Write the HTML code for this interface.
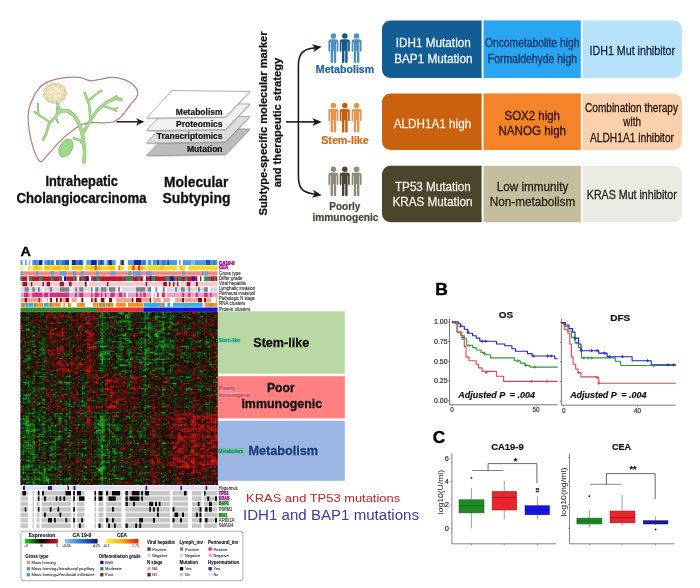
<!DOCTYPE html>
<html><head><meta charset="utf-8"><title>Figure</title>
<style>html,body{margin:0;padding:0;background:#fff}svg{display:block;font-family:"Liberation Sans",sans-serif}</style>
</head><body>
<svg width="700" height="588" viewBox="0 0 700 588">
<rect width="700" height="588" fill="#fff"/>
<path d="M39.5,161.0 C38.0,159.3 35.6,154.8 33.9,149.9 C32.2,144.9 30.2,137.5 29.3,131.3 C28.4,125.1 27.7,118.3 28.4,112.7 C29.0,107.1 31.0,102.2 33.0,97.9 C35.0,93.5 37.6,89.5 40.4,86.7 C43.2,83.9 46.0,82.6 49.7,81.1 C53.4,79.7 57.8,78.4 62.7,77.8 C67.7,77.2 74.8,76.9 79.4,77.4 C84.1,77.9 87.2,80.5 90.6,80.8 C94.0,81.1 96.1,79.8 99.9,79.3 C103.6,78.7 108.5,77.3 112.9,77.4 C117.2,77.6 122.3,78.8 125.8,80.2 C129.4,81.6 132.2,83.8 134.2,85.8 C136.2,87.8 137.6,90.3 137.9,92.3 C138.2,94.3 137.1,96.0 136.1,97.9 C135.0,99.7 133.1,101.3 131.4,103.4 C129.7,105.6 127.7,108.5 125.8,110.9 C124.0,113.2 122.4,115.5 120.3,117.4 C118.1,119.2 115.9,121.1 112.9,122.0 C109.8,122.9 105.4,122.8 101.7,122.9 C98.0,123.0 94.0,122.2 90.6,122.6 C87.2,122.9 84.1,123.6 81.3,124.8 C78.5,125.9 76.6,127.4 73.9,129.4 C71.1,131.4 67.4,134.4 64.6,136.9 C61.8,139.3 59.6,141.6 57.1,144.3 C54.7,146.9 52.0,150.0 49.7,152.6 C47.4,155.3 44.9,158.7 43.2,160.1 C41.5,161.5 41.0,162.7 39.5,161.0Z" fill="#fffefd" stroke="#ad8282" stroke-width="1.25" stroke-linejoin="round"/>
<path d="M84.1,161.9 L84.6,151.7 L83.5,140.6 L81.7,131.3 L79.1,123.9 L74.2,115.5 L67.4,110.5 L60.5,110.9" fill="none" stroke="#78b062" stroke-width="3.5" stroke-linecap="round" stroke-linejoin="round"/>
<path d="M60.5,110.9 L54.4,117.9 L48.8,123.9 L46.4,133.1 L43.2,139.6" fill="none" stroke="#78b062" stroke-width="2.4" stroke-linecap="round" stroke-linejoin="round"/>
<path d="M49.7,122.0 L39.5,115.5 L34.5,111.8" fill="none" stroke="#78b062" stroke-width="2.0" stroke-linecap="round" stroke-linejoin="round"/>
<path d="M38.6,114.9 L37.8,103.8" fill="none" stroke="#78b062" stroke-width="1.8" stroke-linecap="round" stroke-linejoin="round"/>
<path d="M60.5,111.2 L57.1,103.4 L58.1,99.7" fill="none" stroke="#78b062" stroke-width="2.4" stroke-linecap="round" stroke-linejoin="round"/>
<path d="M57.1,107.1 L56.2,118.3 L58.1,122.9" fill="none" stroke="#78b062" stroke-width="1.8" stroke-linecap="round" stroke-linejoin="round"/>
<path d="M83.1,133.1 L90.2,120.5 L98.0,109.4 L107.3,101.9 L116.6,98.2 L121.2,99.7" fill="none" stroke="#78b062" stroke-width="3.0" stroke-linecap="round" stroke-linejoin="round"/>
<path d="M107.3,101.9 L116.6,96.0" fill="none" stroke="#78b062" stroke-width="1.9" stroke-linecap="round" stroke-linejoin="round"/>
<path d="M102.6,105.7 L112.9,109.4 L117.5,108.1" fill="none" stroke="#78b062" stroke-width="2.0" stroke-linecap="round" stroke-linejoin="round"/>
<path d="M112.9,109.4 L116.6,111.2" fill="none" stroke="#78b062" stroke-width="1.6" stroke-linecap="round" stroke-linejoin="round"/>
<path d="M90.6,120.5 L89.1,104.4 L84.6,92.7" fill="none" stroke="#78b062" stroke-width="2.4" stroke-linecap="round" stroke-linejoin="round"/>
<path d="M88.7,100.6 L98.0,92.7 L101.7,90.8" fill="none" stroke="#78b062" stroke-width="2.0" stroke-linecap="round" stroke-linejoin="round"/>
<path d="M73.9,138.3 L79.8,140.2 L83.5,144.7" fill="none" stroke="#78b062" stroke-width="2.4" stroke-linecap="round" stroke-linejoin="round"/>
<path d="M84.1,161.9 L84.6,151.7 L83.5,140.6 L81.7,131.3 L79.1,123.9 L74.2,115.5 L67.4,110.5 L60.5,110.9" fill="none" stroke="#a6da90" stroke-width="2.7" stroke-linecap="round" stroke-linejoin="round"/>
<path d="M60.5,110.9 L54.4,117.9 L48.8,123.9 L46.4,133.1 L43.2,139.6" fill="none" stroke="#a6da90" stroke-width="1.6" stroke-linecap="round" stroke-linejoin="round"/>
<path d="M49.7,122.0 L39.5,115.5 L34.5,111.8" fill="none" stroke="#a6da90" stroke-width="1.2" stroke-linecap="round" stroke-linejoin="round"/>
<path d="M38.6,114.9 L37.8,103.8" fill="none" stroke="#a6da90" stroke-width="1.0" stroke-linecap="round" stroke-linejoin="round"/>
<path d="M60.5,111.2 L57.1,103.4 L58.1,99.7" fill="none" stroke="#a6da90" stroke-width="1.6" stroke-linecap="round" stroke-linejoin="round"/>
<path d="M57.1,107.1 L56.2,118.3 L58.1,122.9" fill="none" stroke="#a6da90" stroke-width="1.0" stroke-linecap="round" stroke-linejoin="round"/>
<path d="M83.1,133.1 L90.2,120.5 L98.0,109.4 L107.3,101.9 L116.6,98.2 L121.2,99.7" fill="none" stroke="#a6da90" stroke-width="2.2" stroke-linecap="round" stroke-linejoin="round"/>
<path d="M107.3,101.9 L116.6,96.0" fill="none" stroke="#a6da90" stroke-width="1.1" stroke-linecap="round" stroke-linejoin="round"/>
<path d="M102.6,105.7 L112.9,109.4 L117.5,108.1" fill="none" stroke="#a6da90" stroke-width="1.2" stroke-linecap="round" stroke-linejoin="round"/>
<path d="M112.9,109.4 L116.6,111.2" fill="none" stroke="#a6da90" stroke-width="0.8" stroke-linecap="round" stroke-linejoin="round"/>
<path d="M90.6,120.5 L89.1,104.4 L84.6,92.7" fill="none" stroke="#a6da90" stroke-width="1.6" stroke-linecap="round" stroke-linejoin="round"/>
<path d="M88.7,100.6 L98.0,92.7 L101.7,90.8" fill="none" stroke="#a6da90" stroke-width="1.2" stroke-linecap="round" stroke-linejoin="round"/>
<path d="M73.9,138.3 L79.8,140.2 L83.5,144.7" fill="none" stroke="#a6da90" stroke-width="1.6" stroke-linecap="round" stroke-linejoin="round"/>
<ellipse cx="65.9" cy="148.0" rx="6.2" ry="9.6" transform="rotate(30 65.9 148.0)" fill="#a2d88c" stroke="#7ab565" stroke-width="0.7"/>
<circle cx="63.1" cy="93.2" r="3.4" fill="#ece0b4" stroke="#cbbb84" stroke-width="0.7"/>
<circle cx="61.8" cy="96.9" r="3.4" fill="#ece0b4" stroke="#cbbb84" stroke-width="0.7"/>
<circle cx="58.3" cy="99.4" r="3.4" fill="#ece0b4" stroke="#cbbb84" stroke-width="0.7"/>
<circle cx="53.7" cy="99.9" r="3.4" fill="#ece0b4" stroke="#cbbb84" stroke-width="0.7"/>
<circle cx="49.5" cy="98.4" r="3.4" fill="#ece0b4" stroke="#cbbb84" stroke-width="0.7"/>
<circle cx="47.0" cy="95.1" r="3.4" fill="#ece0b4" stroke="#cbbb84" stroke-width="0.7"/>
<circle cx="47.0" cy="91.3" r="3.4" fill="#ece0b4" stroke="#cbbb84" stroke-width="0.7"/>
<circle cx="49.5" cy="88.1" r="3.4" fill="#ece0b4" stroke="#cbbb84" stroke-width="0.7"/>
<circle cx="53.7" cy="86.5" r="3.4" fill="#ece0b4" stroke="#cbbb84" stroke-width="0.7"/>
<circle cx="58.3" cy="87.0" r="3.4" fill="#ece0b4" stroke="#cbbb84" stroke-width="0.7"/>
<circle cx="61.8" cy="89.5" r="3.4" fill="#ece0b4" stroke="#cbbb84" stroke-width="0.7"/>
<ellipse cx="54.9" cy="93.2" rx="8.6" ry="7.2" fill="#efe5c0"/>
<circle cx="50.9" cy="91.2" r="2.8" fill="#f4ecd2" stroke="#d9cc9e" stroke-width="0.45"/>
<circle cx="57.9" cy="90.2" r="3.0" fill="#f4ecd2" stroke="#d9cc9e" stroke-width="0.45"/>
<circle cx="54.9" cy="96.2" r="2.8" fill="#f4ecd2" stroke="#d9cc9e" stroke-width="0.45"/>
<circle cx="59.9" cy="95.7" r="2.2" fill="#f4ecd2" stroke="#d9cc9e" stroke-width="0.45"/>
<circle cx="49.9" cy="96.7" r="2.0" fill="#f4ecd2" stroke="#d9cc9e" stroke-width="0.45"/>
<circle cx="54.9" cy="92.2" r="2.0" fill="#f4ecd2" stroke="#d9cc9e" stroke-width="0.45"/>
<text x="45.4" y="185.7" font-size="14.5" fill="#111" stroke="#111" stroke-width="0.32" textLength="72.6" lengthAdjust="spacingAndGlyphs" font-weight="bold">Intrahepatic</text>
<text x="16.6" y="203.0" font-size="14.5" fill="#111" stroke="#111" stroke-width="0.32" textLength="130.0" lengthAdjust="spacingAndGlyphs" font-weight="bold">Cholangiocarcinoma</text>
<text x="164.1" y="186.9" font-size="14.3" fill="#111" stroke="#111" stroke-width="0.31" textLength="64.2" lengthAdjust="spacingAndGlyphs" font-weight="bold">Molecular</text>
<text x="162.4" y="203.4" font-size="14.3" fill="#111" stroke="#111" stroke-width="0.31" textLength="68.0" lengthAdjust="spacingAndGlyphs" font-weight="bold">Subtyping</text>
<path d="M116.5,121.8 H139.5" stroke="#231815" stroke-width="1.5"/><path d="M144.5,121.8 l-8.5,-3.6 l2.3,3.6 l-2.3,3.6 z" fill="#231815"/>
<path d="M172,128.0 L250,129.0 L225.5,154.5 L146.5,155.7 Z" fill="#8a8a8a" opacity="0.35" transform="translate(0.6,1.3)"/>
<path d="M172,128.0 L250,129.0 L225.5,154.5 L146.5,155.7 Z" fill="#bcbcbc" stroke="#8c8c8c" stroke-width="0.7" stroke-linejoin="round"/>
<path d="M172,115.5 L250,116.5 L225.5,142.0 L146.5,143.2 Z" fill="#8a8a8a" opacity="0.35" transform="translate(0.6,1.3)"/>
<path d="M172,115.5 L250,116.5 L225.5,142.0 L146.5,143.2 Z" fill="#dddddd" stroke="#8c8c8c" stroke-width="0.7" stroke-linejoin="round"/>
<path d="M172,103.0 L250,104.0 L225.5,129.5 L146.5,130.7 Z" fill="#8a8a8a" opacity="0.35" transform="translate(0.6,1.3)"/>
<path d="M172,103.0 L250,104.0 L225.5,129.5 L146.5,130.7 Z" fill="#f1f1f1" stroke="#8c8c8c" stroke-width="0.7" stroke-linejoin="round"/>
<path d="M172,90.5 L250,91.5 L225.5,117.0 L146.5,118.2 Z" fill="#8a8a8a" opacity="0.35" transform="translate(0.6,1.3)"/>
<path d="M172,90.5 L250,91.5 L225.5,117.0 L146.5,118.2 Z" fill="#ffffff" stroke="#8c8c8c" stroke-width="0.7" stroke-linejoin="round"/>
<text x="175.8" y="114.5" font-size="8.6" fill="#111" stroke="#111" stroke-width="0.19" textLength="46.8" lengthAdjust="spacingAndGlyphs" font-weight="bold">Metabolism</text>
<text x="176.0" y="127.0" font-size="8.6" fill="#111" stroke="#111" stroke-width="0.19" textLength="46.6" lengthAdjust="spacingAndGlyphs" font-weight="bold">Proteomics</text>
<text x="156.7" y="139.3" font-size="8.6" fill="#111" stroke="#111" stroke-width="0.19" textLength="65.9" lengthAdjust="spacingAndGlyphs" font-weight="bold">Transcriptomics</text>
<text x="187.0" y="152.0" font-size="8.6" fill="#111" stroke="#111" stroke-width="0.19" textLength="35.6" lengthAdjust="spacingAndGlyphs" font-weight="bold">Mutation</text>
<text transform="translate(266.9,215.4) rotate(-90)" font-size="11.4" font-weight="bold" stroke="#111" stroke-width="0.25" textLength="184" lengthAdjust="spacingAndGlyphs" fill="#111">Subtype-specific molecular marker</text>
<text transform="translate(280.9,187.3) rotate(-90)" font-size="11.4" font-weight="bold" stroke="#111" stroke-width="0.25" textLength="129.5" lengthAdjust="spacingAndGlyphs" fill="#111">and therapeutic strategy</text>
<path d="M286,121.9 H315" fill="none" stroke="#231815" stroke-width="1.6"/>
<path d="M316.5,47.6 L312,48.3 C302,50 298.4,54.5 298.4,66 V176 C298.4,187.5 302,192 312,193.7 L316.5,194.4" fill="none" stroke="#231815" stroke-width="1.6"/>
<g transform="rotate(-9 321.8 46.8)"><path d="M321.8,46.8 l-9.5,-4.0 l2.6,4.0 l-2.6,4.0 z" fill="#231815"/></g>
<path d="M321.8,121.9 l-9.5,-4.0 l2.6,4.0 l-2.6,4.0 z" fill="#231815"/>
<g transform="rotate(9 321.8 195.2)"><path d="M321.8,195.2 l-9.5,-4.0 l2.6,4.0 l-2.6,4.0 z" fill="#231815"/></g>
<circle cx="333.40" cy="36.05" r="2.75" fill="#4f90bf"/><path d="M330.60,39.50 h5.6 v22.2 a1.2,1.2 0 0 1 -2.4,0 v-11 h-0.8 v11 a1.2,1.2 0 0 1 -2.4,0 z" fill="#4f90bf"/><path d="M330.10,39.50 h6.6 a1.7,1.7 0 0 1 1.7,1.7 v9.6 a0.85,0.85 0 0 1 -1.7,0 v-8.6 h-6.6 v8.6 a0.85,0.85 0 0 1 -1.7,0 v-9.6 a1.7,1.7 0 0 1 1.7,-1.7 z" fill="#4f90bf"/>
<circle cx="344.80" cy="36.05" r="2.75" fill="#15598f"/><path d="M342.00,39.50 h5.6 v22.2 a1.2,1.2 0 0 1 -2.4,0 v-11 h-0.8 v11 a1.2,1.2 0 0 1 -2.4,0 z" fill="#15598f"/><path d="M341.50,39.50 h6.6 a1.7,1.7 0 0 1 1.7,1.7 v9.6 a0.85,0.85 0 0 1 -1.7,0 v-8.6 h-6.6 v8.6 a0.85,0.85 0 0 1 -1.7,0 v-9.6 a1.7,1.7 0 0 1 1.7,-1.7 z" fill="#15598f"/>
<circle cx="356.60" cy="36.05" r="2.75" fill="#4f90bf"/><path d="M353.80,39.50 h5.6 v22.2 a1.2,1.2 0 0 1 -2.4,0 v-11 h-0.8 v11 a1.2,1.2 0 0 1 -2.4,0 z" fill="#4f90bf"/><path d="M353.30,39.50 h6.6 a1.7,1.7 0 0 1 1.7,1.7 v9.6 a0.85,0.85 0 0 1 -1.7,0 v-8.6 h-6.6 v8.6 a0.85,0.85 0 0 1 -1.7,0 v-9.6 a1.7,1.7 0 0 1 1.7,-1.7 z" fill="#4f90bf"/>
<circle cx="333.40" cy="105.55" r="2.75" fill="#e29555"/><path d="M330.60,109.00 h5.6 v22.2 a1.2,1.2 0 0 1 -2.4,0 v-11 h-0.8 v11 a1.2,1.2 0 0 1 -2.4,0 z" fill="#e29555"/><path d="M330.10,109.00 h6.6 a1.7,1.7 0 0 1 1.7,1.7 v9.6 a0.85,0.85 0 0 1 -1.7,0 v-8.6 h-6.6 v8.6 a0.85,0.85 0 0 1 -1.7,0 v-9.6 a1.7,1.7 0 0 1 1.7,-1.7 z" fill="#e29555"/>
<circle cx="344.80" cy="105.55" r="2.75" fill="#c5600f"/><path d="M342.00,109.00 h5.6 v22.2 a1.2,1.2 0 0 1 -2.4,0 v-11 h-0.8 v11 a1.2,1.2 0 0 1 -2.4,0 z" fill="#c5600f"/><path d="M341.50,109.00 h6.6 a1.7,1.7 0 0 1 1.7,1.7 v9.6 a0.85,0.85 0 0 1 -1.7,0 v-8.6 h-6.6 v8.6 a0.85,0.85 0 0 1 -1.7,0 v-9.6 a1.7,1.7 0 0 1 1.7,-1.7 z" fill="#c5600f"/>
<circle cx="356.60" cy="105.55" r="2.75" fill="#e29555"/><path d="M353.80,109.00 h5.6 v22.2 a1.2,1.2 0 0 1 -2.4,0 v-11 h-0.8 v11 a1.2,1.2 0 0 1 -2.4,0 z" fill="#e29555"/><path d="M353.30,109.00 h6.6 a1.7,1.7 0 0 1 1.7,1.7 v9.6 a0.85,0.85 0 0 1 -1.7,0 v-8.6 h-6.6 v8.6 a0.85,0.85 0 0 1 -1.7,0 v-9.6 a1.7,1.7 0 0 1 1.7,-1.7 z" fill="#e29555"/>
<circle cx="333.40" cy="169.35" r="2.75" fill="#8f8a7a"/><path d="M330.60,172.80 h5.6 v22.2 a1.2,1.2 0 0 1 -2.4,0 v-11 h-0.8 v11 a1.2,1.2 0 0 1 -2.4,0 z" fill="#8f8a7a"/><path d="M330.10,172.80 h6.6 a1.7,1.7 0 0 1 1.7,1.7 v9.6 a0.85,0.85 0 0 1 -1.7,0 v-8.6 h-6.6 v8.6 a0.85,0.85 0 0 1 -1.7,0 v-9.6 a1.7,1.7 0 0 1 1.7,-1.7 z" fill="#8f8a7a"/>
<circle cx="344.80" cy="169.35" r="2.75" fill="#4a4430"/><path d="M342.00,172.80 h5.6 v22.2 a1.2,1.2 0 0 1 -2.4,0 v-11 h-0.8 v11 a1.2,1.2 0 0 1 -2.4,0 z" fill="#4a4430"/><path d="M341.50,172.80 h6.6 a1.7,1.7 0 0 1 1.7,1.7 v9.6 a0.85,0.85 0 0 1 -1.7,0 v-8.6 h-6.6 v8.6 a0.85,0.85 0 0 1 -1.7,0 v-9.6 a1.7,1.7 0 0 1 1.7,-1.7 z" fill="#4a4430"/>
<circle cx="356.60" cy="169.35" r="2.75" fill="#8f8a7a"/><path d="M353.80,172.80 h5.6 v22.2 a1.2,1.2 0 0 1 -2.4,0 v-11 h-0.8 v11 a1.2,1.2 0 0 1 -2.4,0 z" fill="#8f8a7a"/><path d="M353.30,172.80 h6.6 a1.7,1.7 0 0 1 1.7,1.7 v9.6 a0.85,0.85 0 0 1 -1.7,0 v-8.6 h-6.6 v8.6 a0.85,0.85 0 0 1 -1.7,0 v-9.6 a1.7,1.7 0 0 1 1.7,-1.7 z" fill="#8f8a7a"/>
<text x="315.8" y="73.3" font-size="10.6" fill="#1e659c" stroke="#1e659c" stroke-width="0.23" textLength="58.4" lengthAdjust="spacingAndGlyphs" font-weight="bold">Metabolism</text>
<text x="321.2" y="144.2" font-size="10.6" fill="#cf6a17" stroke="#cf6a17" stroke-width="0.23" textLength="47.6" lengthAdjust="spacingAndGlyphs" font-weight="bold">Stem-like</text>
<text x="329.3" y="209.5" font-size="10.6" fill="#4a4538" stroke="#4a4538" stroke-width="0.23" textLength="31.1" lengthAdjust="spacingAndGlyphs" font-weight="bold">Poorly</text>
<text x="312.5" y="220.8" font-size="10.6" fill="#4a4538" stroke="#4a4538" stroke-width="0.23" textLength="66.0" lengthAdjust="spacingAndGlyphs" font-weight="bold">immunogenic</text>
<path d="M390.5,20.4 H481.6 V78.0 H390.5 a8.5,8.5 0 0 1 -8.5,-8.5 V28.9 a8.5,8.5 0 0 1 8.5,-8.5 z" fill="#115d94"/>
<rect x="483.5" y="20.4" width="97.3" height="57.6" fill="#2aa5f1"/>
<path d="M582.6,20.4 H673.5 a8.5,8.5 0 0 1 8.5,8.5 V69.5 a8.5,8.5 0 0 1 -8.5,8.5 H582.6 z" fill="#b7e2fb"/>
<path d="M390.5,93.4 H481.6 V150.0 H390.5 a8.5,8.5 0 0 1 -8.5,-8.5 V101.9 a8.5,8.5 0 0 1 8.5,-8.5 z" fill="#c9610e"/>
<rect x="483.5" y="93.4" width="97.3" height="56.6" fill="#f5832a"/>
<path d="M582.6,93.4 H673.5 a8.5,8.5 0 0 1 8.5,8.5 V141.5 a8.5,8.5 0 0 1 -8.5,8.5 H582.6 z" fill="#fbd0ad"/>
<path d="M390.5,165.8 H481.6 V222.3 H390.5 a8.5,8.5 0 0 1 -8.5,-8.5 V174.3 a8.5,8.5 0 0 1 8.5,-8.5 z" fill="#4b452c"/>
<rect x="483.5" y="165.8" width="97.3" height="56.5" fill="#c4be9f"/>
<path d="M582.6,165.8 H673.5 a8.5,8.5 0 0 1 8.5,8.5 V213.8 a8.5,8.5 0 0 1 -8.5,8.5 H582.6 z" fill="#ecebe3"/>
<text x="395.8" y="47.0" font-size="12.4" fill="#f4f6f8" stroke="#f4f6f8" stroke-width="0.27" textLength="75.0" lengthAdjust="spacingAndGlyphs">IDH1 Mutation</text>
<text x="394.2" y="62.5" font-size="12.4" fill="#f4f6f8" stroke="#f4f6f8" stroke-width="0.27" textLength="78.3" lengthAdjust="spacingAndGlyphs">BAP1 Mutation</text>
<text x="393.8" y="127.5" font-size="12.4" fill="#fbefe4" stroke="#fbefe4" stroke-width="0.27" textLength="77.4" lengthAdjust="spacingAndGlyphs">ALDH1A1 high</text>
<text x="395.0" y="190.5" font-size="12.4" fill="#f1efe8" stroke="#f1efe8" stroke-width="0.27" textLength="75.8" lengthAdjust="spacingAndGlyphs">TP53 Mutation</text>
<text x="392.5" y="206.0" font-size="12.4" fill="#f1efe8" stroke="#f1efe8" stroke-width="0.27" textLength="80.0" lengthAdjust="spacingAndGlyphs">KRAS Mutation</text>
<text x="485.0" y="47.0" font-size="12.8" fill="#0c315c" stroke="#0c315c" stroke-width="0.28" textLength="94.4" lengthAdjust="spacingAndGlyphs">Oncometabolite high</text>
<text x="487.8" y="62.5" font-size="12.8" fill="#0c315c" stroke="#0c315c" stroke-width="0.28" textLength="89.2" lengthAdjust="spacingAndGlyphs">Formaldehyde high</text>
<text x="504.5" y="119.5" font-size="12.4" fill="#2b1204" stroke="#2b1204" stroke-width="0.27" textLength="55.5" lengthAdjust="spacingAndGlyphs">SOX2 high</text>
<text x="498.5" y="134.5" font-size="12.4" fill="#2b1204" stroke="#2b1204" stroke-width="0.27" textLength="67.5" lengthAdjust="spacingAndGlyphs">NANOG high</text>
<text x="496.8" y="190.5" font-size="12.4" fill="#26231a" stroke="#26231a" stroke-width="0.27" textLength="71.5" lengthAdjust="spacingAndGlyphs">Low immunity</text>
<text x="489.8" y="206.0" font-size="12.4" fill="#26231a" stroke="#26231a" stroke-width="0.27" textLength="85.4" lengthAdjust="spacingAndGlyphs">Non-metabolism</text>
<text x="589.5" y="54.5" font-size="12.3" fill="#10243a" stroke="#10243a" stroke-width="0.27" textLength="85.5" lengthAdjust="spacingAndGlyphs">IDH1 Mut inhibitor</text>
<text x="585.0" y="111.8" font-size="12.3" fill="#24120a" stroke="#24120a" stroke-width="0.27" textLength="93.0" lengthAdjust="spacingAndGlyphs">Combination therapy</text>
<text x="623.3" y="126.0" font-size="12.3" fill="#24120a" stroke="#24120a" stroke-width="0.27" textLength="17.6" lengthAdjust="spacingAndGlyphs">with</text>
<text x="590.0" y="142.0" font-size="12.3" fill="#24120a" stroke="#24120a" stroke-width="0.27" textLength="84.0" lengthAdjust="spacingAndGlyphs">ALDH1A1 inhibitor</text>
<text x="586.8" y="198.8" font-size="12.3" fill="#1d1c18" stroke="#1d1c18" stroke-width="0.27" textLength="90.0" lengthAdjust="spacingAndGlyphs">KRAS Mut inhibitor</text>
<defs><filter id="hb" x="0" y="0" width="1" height="1" filterUnits="objectBoundingBox"><feGaussianBlur stdDeviation="0.6"/></filter></defs>
<text x="20.4" y="256.4" font-size="13.6" fill="#000" stroke="#000" stroke-width="0.30" textLength="10.4" lengthAdjust="spacingAndGlyphs" font-weight="bold">A</text>
<rect x="20.6" y="260.1" width="2.0" height="4.9" fill="#4a9ae6"/>
<rect x="25.1" y="260.1" width="1.5" height="4.9" fill="#4a9ae6"/>
<rect x="28.7" y="260.1" width="1.5" height="4.9" fill="#7fc0f2"/>
<rect x="32.3" y="260.1" width="6.6" height="4.9" fill="#4a9ae6"/>
<rect x="34.3" y="260.1" width="2.0" height="4.9" fill="#2a78d8"/>
<rect x="38.9" y="260.1" width="3.6" height="4.9" fill="#0a2a9a"/>
<rect x="44.3" y="260.1" width="9.4" height="4.9" fill="#4a9ae6"/>
<rect x="47.6" y="260.1" width="2.0" height="4.9" fill="#2a78d8"/>
<rect x="51.7" y="260.1" width="2.0" height="4.9" fill="#2a78d8"/>
<rect x="56.0" y="260.1" width="13.1" height="4.9" fill="#2a78d8"/>
<rect x="58.8" y="260.1" width="3.1" height="4.9" fill="#4a9ae6"/>
<rect x="64.9" y="260.1" width="4.1" height="4.9" fill="#1450c0"/>
<rect x="71.6" y="260.1" width="11.7" height="4.9" fill="#2a78d8"/>
<rect x="72.1" y="260.1" width="3.6" height="4.9" fill="#0a2a9a"/>
<rect x="79.2" y="260.1" width="2.6" height="4.9" fill="#1450c0"/>
<rect x="86.4" y="260.1" width="1.6" height="4.9" fill="#4a9ae6"/>
<rect x="87.0" y="260.1" width="9.7" height="4.9" fill="#4a9ae6"/>
<rect x="91.1" y="260.1" width="5.6" height="4.9" fill="#0a2a9a"/>
<rect x="97.8" y="260.1" width="6.6" height="4.9" fill="#2a78d8"/>
<rect x="100.3" y="260.1" width="2.0" height="4.9" fill="#1450c0"/>
<rect x="106.4" y="260.1" width="9.2" height="4.9" fill="#4a9ae6"/>
<rect x="108.5" y="260.1" width="3.3" height="4.9" fill="#0a2a9a"/>
<rect x="120.2" y="260.1" width="3.6" height="4.9" fill="#2a78d8"/>
<rect x="121.7" y="260.1" width="2.0" height="4.9" fill="#0a2a9a"/>
<rect x="127.9" y="260.1" width="18.4" height="4.9" fill="#4a9ae6"/>
<rect x="134.0" y="260.1" width="7.1" height="4.9" fill="#0a2a9a"/>
<rect x="142.7" y="260.1" width="2.6" height="4.9" fill="#2a78d8"/>
<rect x="147.8" y="260.1" width="3.6" height="4.9" fill="#4a9ae6"/>
<rect x="152.9" y="260.1" width="3.6" height="4.9" fill="#2a78d8"/>
<rect x="150.0" y="260.1" width="1.0" height="4.9" fill="#4a9ae6"/>
<rect x="153.6" y="260.1" width="23.5" height="4.9" fill="#4a9ae6"/>
<rect x="157.1" y="260.1" width="1.8" height="4.9" fill="#1450c0"/>
<rect x="167.3" y="260.1" width="1.8" height="4.9" fill="#1450c0"/>
<rect x="162.2" y="260.1" width="3.1" height="4.9" fill="#2a78d8"/>
<rect x="179.1" y="260.1" width="1.5" height="4.9" fill="#4a9ae6"/>
<rect x="182.7" y="260.1" width="34.7" height="4.9" fill="#4a9ae6"/>
<rect x="190.8" y="260.1" width="4.1" height="4.9" fill="#7fc0f2"/>
<rect x="206.1" y="260.1" width="4.1" height="4.9" fill="#1450c0"/>
<rect x="213.3" y="260.1" width="2.0" height="4.9" fill="#2a78d8"/>
<rect x="20.6" y="265.5" width="2.0" height="4.7" fill="#ffe85a"/>
<rect x="28.2" y="265.5" width="2.6" height="4.7" fill="#ffd826"/>
<rect x="32.3" y="265.5" width="10.2" height="4.7" fill="#ffd826"/>
<rect x="35.3" y="265.5" width="3.1" height="4.7" fill="#ffc400"/>
<rect x="44.3" y="265.5" width="24.7" height="4.7" fill="#ffc400"/>
<rect x="48.6" y="265.5" width="4.1" height="4.7" fill="#ffd826"/>
<rect x="60.9" y="265.5" width="4.1" height="4.7" fill="#ffd826"/>
<rect x="71.6" y="265.5" width="11.7" height="4.7" fill="#ffc400"/>
<rect x="85.9" y="265.5" width="2.1" height="4.7" fill="#ffd826"/>
<rect x="85.0" y="265.5" width="30.6" height="4.7" fill="#ffd826"/>
<rect x="91.1" y="265.5" width="4.1" height="4.7" fill="#ffc400"/>
<rect x="95.2" y="265.5" width="1.5" height="4.7" fill="#d82010"/>
<rect x="98.3" y="265.5" width="2.0" height="4.7" fill="#ffa000"/>
<rect x="109.5" y="265.5" width="5.1" height="4.7" fill="#ffc400"/>
<rect x="118.2" y="265.5" width="6.1" height="4.7" fill="#ffd826"/>
<rect x="118.7" y="265.5" width="1.2" height="4.7" fill="#f06000"/>
<rect x="127.9" y="265.5" width="18.4" height="4.7" fill="#ffd826"/>
<rect x="131.9" y="265.5" width="3.1" height="4.7" fill="#f06000"/>
<rect x="138.1" y="265.5" width="2.0" height="4.7" fill="#d82010"/>
<rect x="141.1" y="265.5" width="1.5" height="4.7" fill="#ffa000"/>
<rect x="147.2" y="265.5" width="9.2" height="4.7" fill="#ffd826"/>
<rect x="150.0" y="265.5" width="27.0" height="4.7" fill="#ffd826"/>
<rect x="179.1" y="265.5" width="6.6" height="4.7" fill="#ffd826"/>
<rect x="180.6" y="265.5" width="2.0" height="4.7" fill="#ffc400"/>
<rect x="188.3" y="265.5" width="29.1" height="4.7" fill="#ffd826"/>
<rect x="160.2" y="265.5" width="4.1" height="4.7" fill="#ffc400"/>
<rect x="20.6" y="271.3" width="197.0" height="4.2" fill="#e98b8b"/>
<rect x="20.6" y="271.3" width="2.0" height="4.2" fill="#6b9bd9"/>
<rect x="35.9" y="271.3" width="2.6" height="4.2" fill="#6b9bd9"/>
<rect x="50.7" y="271.3" width="3.6" height="4.2" fill="#6b9bd9"/>
<rect x="59.8" y="271.3" width="6.1" height="4.2" fill="#6b9bd9"/>
<rect x="73.1" y="271.3" width="1.5" height="4.2" fill="#4aa890"/>
<rect x="74.6" y="271.3" width="1.5" height="4.2" fill="#6b9bd9"/>
<rect x="80.8" y="271.3" width="2.6" height="4.2" fill="#6b9bd9"/>
<rect x="96.2" y="271.3" width="2.6" height="4.2" fill="#6b9bd9"/>
<rect x="110.5" y="271.3" width="5.1" height="4.2" fill="#6b9bd9"/>
<rect x="128.4" y="271.3" width="1.5" height="4.2" fill="#4aa890"/>
<rect x="129.9" y="271.3" width="1.2" height="4.2" fill="#6b9bd9"/>
<rect x="133.0" y="271.3" width="8.2" height="4.2" fill="#6b9bd9"/>
<rect x="146.2" y="271.3" width="4.1" height="4.2" fill="#6b9bd9"/>
<rect x="150.0" y="271.3" width="1.5" height="4.2" fill="#6b9bd9"/>
<rect x="182.1" y="271.3" width="2.6" height="4.2" fill="#6b9bd9"/>
<rect x="202.0" y="271.3" width="1.5" height="4.2" fill="#4aa890"/>
<rect x="205.1" y="271.3" width="2.6" height="4.2" fill="#6b9bd9"/>
<rect x="20.6" y="276.3" width="6.6" height="4.7" fill="#c8102e"/>
<rect x="20.6" y="276.3" width="1.5" height="4.7" fill="#2e8b57"/>
<rect x="28.7" y="276.3" width="33.2" height="4.7" fill="#c8102e"/>
<rect x="29.2" y="276.3" width="2.6" height="4.7" fill="#2e8b57"/>
<rect x="38.9" y="276.3" width="3.6" height="4.7" fill="#2e8b57"/>
<rect x="50.7" y="276.3" width="3.1" height="4.7" fill="#2e8b57"/>
<rect x="58.8" y="276.3" width="2.0" height="4.7" fill="#2e8b57"/>
<rect x="63.9" y="276.3" width="2.6" height="4.7" fill="#1414b4"/>
<rect x="66.5" y="276.3" width="10.2" height="4.7" fill="#c8102e"/>
<rect x="73.1" y="276.3" width="2.0" height="4.7" fill="#2e8b57"/>
<rect x="79.2" y="276.3" width="8.8" height="4.7" fill="#c8102e"/>
<rect x="81.3" y="276.3" width="3.1" height="4.7" fill="#2e8b57"/>
<rect x="85.0" y="276.3" width="4.1" height="4.7" fill="#c8102e"/>
<rect x="86.5" y="276.3" width="2.0" height="4.7" fill="#1414b4"/>
<rect x="91.1" y="276.3" width="52.0" height="4.7" fill="#c8102e"/>
<rect x="91.6" y="276.3" width="1.5" height="4.7" fill="#2e8b57"/>
<rect x="96.2" y="276.3" width="4.1" height="4.7" fill="#2e8b57"/>
<rect x="122.2" y="276.3" width="1.5" height="4.7" fill="#2e8b57"/>
<rect x="125.8" y="276.3" width="7.1" height="4.7" fill="#2e8b57"/>
<rect x="138.1" y="276.3" width="2.0" height="4.7" fill="#2e8b57"/>
<rect x="145.7" y="276.3" width="10.7" height="4.7" fill="#c8102e"/>
<rect x="149.8" y="276.3" width="1.5" height="4.7" fill="#1414b4"/>
<rect x="152.3" y="276.3" width="4.1" height="4.7" fill="#2e8b57"/>
<rect x="150.0" y="276.3" width="1.5" height="4.7" fill="#1414b4"/>
<rect x="151.5" y="276.3" width="3.6" height="4.7" fill="#2e8b57"/>
<rect x="155.1" y="276.3" width="42.3" height="4.7" fill="#c8102e"/>
<rect x="165.3" y="276.3" width="4.6" height="4.7" fill="#2e8b57"/>
<rect x="169.9" y="276.3" width="3.6" height="4.7" fill="#1414b4"/>
<rect x="174.5" y="276.3" width="2.2" height="4.7" fill="#2e8b57"/>
<rect x="178.1" y="276.3" width="2.6" height="4.7" fill="#2e8b57"/>
<rect x="184.7" y="276.3" width="3.1" height="4.7" fill="#2e8b57"/>
<rect x="191.8" y="276.3" width="3.1" height="4.7" fill="#3a14a0"/>
<rect x="200.0" y="276.3" width="1.5" height="4.7" fill="#c8102e"/>
<rect x="204.1" y="276.3" width="6.1" height="4.7" fill="#2e8b57"/>
<rect x="210.2" y="276.3" width="7.1" height="4.7" fill="#c8102e"/>
<rect x="213.8" y="276.3" width="2.0" height="4.7" fill="#2e8b57"/>
<rect x="20.6" y="281.8" width="197.0" height="4.5" fill="#f6c9cd"/>
<rect x="22.6" y="281.8" width="4.6" height="4.5" fill="#8e1b2b"/>
<rect x="30.8" y="281.8" width="1.5" height="4.5" fill="#8e1b2b"/>
<rect x="42.5" y="281.8" width="1.5" height="4.5" fill="#8e1b2b"/>
<rect x="46.6" y="281.8" width="3.6" height="4.5" fill="#8e1b2b"/>
<rect x="59.8" y="281.8" width="4.1" height="4.5" fill="#8e1b2b"/>
<rect x="69.0" y="281.8" width="2.6" height="4.5" fill="#8e1b2b"/>
<rect x="84.8" y="281.8" width="2.0" height="4.5" fill="#8e1b2b"/>
<rect x="85.0" y="281.8" width="1.5" height="4.5" fill="#8e1b2b"/>
<rect x="86.8" y="281.8" width="2.2" height="4.5" fill="#fff"/>
<rect x="106.9" y="281.8" width="1.5" height="4.5" fill="#8e1b2b"/>
<rect x="145.7" y="281.8" width="1.5" height="4.5" fill="#8e1b2b"/>
<rect x="163.3" y="281.8" width="3.6" height="4.5" fill="#8e1b2b"/>
<rect x="168.9" y="281.8" width="1.5" height="4.5" fill="#8e1b2b"/>
<rect x="173.0" y="281.8" width="1.5" height="4.5" fill="#8e1b2b"/>
<rect x="177.0" y="281.8" width="1.5" height="4.5" fill="#8e1b2b"/>
<rect x="178.8" y="281.8" width="1.8" height="4.5" fill="#fff"/>
<rect x="186.7" y="281.8" width="3.6" height="4.5" fill="#8e1b2b"/>
<rect x="195.9" y="281.8" width="2.0" height="4.5" fill="#8e1b2b"/>
<rect x="20.6" y="287.2" width="197.0" height="4.5" fill="#d6dade"/>
<rect x="24.6" y="287.2" width="4.1" height="4.5" fill="#7a8396"/>
<rect x="32.3" y="287.2" width="2.6" height="4.5" fill="#7a8396"/>
<rect x="37.9" y="287.2" width="2.0" height="4.5" fill="#7a8396"/>
<rect x="49.6" y="287.2" width="2.6" height="4.5" fill="#7a8396"/>
<rect x="59.8" y="287.2" width="9.2" height="4.5" fill="#7a8396"/>
<rect x="75.1" y="287.2" width="2.0" height="4.5" fill="#7a8396"/>
<rect x="79.2" y="287.2" width="4.1" height="4.5" fill="#7a8396"/>
<rect x="20.6" y="287.2" width="0.7" height="4.5" fill="#fff"/>
<rect x="42.5" y="287.2" width="1.5" height="4.5" fill="#fff"/>
<rect x="71.1" y="287.2" width="1.5" height="4.5" fill="#fff"/>
<rect x="91.1" y="287.2" width="1.5" height="4.5" fill="#7a8396"/>
<rect x="95.2" y="287.2" width="3.1" height="4.5" fill="#7a8396"/>
<rect x="100.8" y="287.2" width="5.6" height="4.5" fill="#7a8396"/>
<rect x="109.0" y="287.2" width="6.6" height="4.5" fill="#7a8396"/>
<rect x="118.2" y="287.2" width="2.0" height="4.5" fill="#7a8396"/>
<rect x="136.0" y="287.2" width="9.2" height="4.5" fill="#7a8396"/>
<rect x="147.8" y="287.2" width="3.1" height="4.5" fill="#7a8396"/>
<rect x="115.6" y="287.2" width="2.2" height="4.5" fill="#fff"/>
<rect x="120.3" y="287.2" width="1.4" height="4.5" fill="#fff"/>
<rect x="93.2" y="287.2" width="1.6" height="4.5" fill="#fff"/>
<rect x="150.0" y="287.2" width="1.0" height="4.5" fill="#7a8396"/>
<rect x="155.6" y="287.2" width="1.5" height="4.5" fill="#7a8396"/>
<rect x="162.8" y="287.2" width="2.0" height="4.5" fill="#7a8396"/>
<rect x="175.0" y="287.2" width="2.0" height="4.5" fill="#7a8396"/>
<rect x="181.1" y="287.2" width="3.6" height="4.5" fill="#7a8396"/>
<rect x="188.3" y="287.2" width="2.0" height="4.5" fill="#7a8396"/>
<rect x="198.0" y="287.2" width="2.0" height="4.5" fill="#7a8396"/>
<rect x="204.1" y="287.2" width="3.6" height="4.5" fill="#7a8396"/>
<rect x="151.5" y="287.2" width="3.6" height="4.5" fill="#fff"/>
<rect x="157.7" y="287.2" width="4.6" height="4.5" fill="#fff"/>
<rect x="165.0" y="287.2" width="1.8" height="4.5" fill="#fff"/>
<rect x="208.0" y="287.2" width="2.2" height="4.5" fill="#fff"/>
<rect x="20.6" y="292.6" width="197.0" height="4.6" fill="#e8a0c6"/>
<rect x="24.1" y="292.6" width="4.6" height="4.6" fill="#d4307e"/>
<rect x="32.3" y="292.6" width="10.2" height="4.6" fill="#d4307e"/>
<rect x="44.0" y="292.6" width="4.1" height="4.6" fill="#d4307e"/>
<rect x="49.6" y="292.6" width="19.4" height="4.6" fill="#d4307e"/>
<rect x="75.1" y="292.6" width="2.0" height="4.6" fill="#d4307e"/>
<rect x="79.2" y="292.6" width="4.1" height="4.6" fill="#d4307e"/>
<rect x="91.1" y="292.6" width="1.5" height="4.6" fill="#d4307e"/>
<rect x="94.7" y="292.6" width="4.1" height="4.6" fill="#d4307e"/>
<rect x="100.8" y="292.6" width="1.5" height="4.6" fill="#d4307e"/>
<rect x="104.9" y="292.6" width="1.5" height="4.6" fill="#d4307e"/>
<rect x="110.5" y="292.6" width="4.1" height="4.6" fill="#d4307e"/>
<rect x="118.7" y="292.6" width="3.6" height="4.6" fill="#d4307e"/>
<rect x="124.3" y="292.6" width="1.5" height="4.6" fill="#d4307e"/>
<rect x="125.8" y="292.6" width="2.0" height="4.6" fill="#fff"/>
<rect x="136.0" y="292.6" width="2.0" height="4.6" fill="#d4307e"/>
<rect x="140.1" y="292.6" width="1.5" height="4.6" fill="#d4307e"/>
<rect x="143.2" y="292.6" width="2.6" height="4.6" fill="#d4307e"/>
<rect x="151.3" y="292.6" width="2.0" height="4.6" fill="#fff"/>
<rect x="151.2" y="292.6" width="2.2" height="4.6" fill="#fff"/>
<rect x="154.9" y="292.6" width="2.0" height="4.6" fill="#fff"/>
<rect x="157.1" y="292.6" width="1.5" height="4.6" fill="#d4307e"/>
<rect x="159.2" y="292.6" width="2.6" height="4.6" fill="#fff"/>
<rect x="161.7" y="292.6" width="3.6" height="4.6" fill="#d4307e"/>
<rect x="165.3" y="292.6" width="1.5" height="4.6" fill="#fff"/>
<rect x="182.1" y="292.6" width="2.0" height="4.6" fill="#d4307e"/>
<rect x="188.3" y="292.6" width="2.0" height="4.6" fill="#d4307e"/>
<rect x="195.9" y="292.6" width="2.0" height="4.6" fill="#d4307e"/>
<rect x="204.1" y="292.6" width="3.6" height="4.6" fill="#d4307e"/>
<rect x="210.2" y="292.6" width="1.5" height="4.6" fill="#d4307e"/>
<rect x="20.6" y="298.0" width="4.0" height="4.3" fill="#f0a48a"/>
<rect x="24.6" y="298.0" width="2.6" height="4.3" fill="#7c0c10"/>
<rect x="27.2" y="298.0" width="10.7" height="4.3" fill="#f0a48a"/>
<rect x="38.4" y="298.0" width="1.5" height="4.3" fill="#7c0c10"/>
<rect x="39.9" y="298.0" width="2.6" height="4.3" fill="#f0a48a"/>
<rect x="46.6" y="298.0" width="1.5" height="4.3" fill="#f0a48a"/>
<rect x="50.1" y="298.0" width="2.0" height="4.3" fill="#7c0c10"/>
<rect x="56.0" y="298.0" width="1.8" height="4.3" fill="#7c0c10"/>
<rect x="59.8" y="298.0" width="2.0" height="4.3" fill="#7c0c10"/>
<rect x="61.9" y="298.0" width="3.1" height="4.3" fill="#f0a48a"/>
<rect x="65.4" y="298.0" width="3.6" height="4.3" fill="#7c0c10"/>
<rect x="71.6" y="298.0" width="5.1" height="4.3" fill="#f0a48a"/>
<rect x="81.3" y="298.0" width="2.0" height="4.3" fill="#7c0c10"/>
<rect x="91.1" y="298.0" width="1.5" height="4.3" fill="#7c0c10"/>
<rect x="93.2" y="298.0" width="1.5" height="4.3" fill="#f0a48a"/>
<rect x="94.7" y="298.0" width="2.0" height="4.3" fill="#7c0c10"/>
<rect x="100.8" y="298.0" width="3.6" height="4.3" fill="#7c0c10"/>
<rect x="109.0" y="298.0" width="3.1" height="4.3" fill="#7c0c10"/>
<rect x="116.1" y="298.0" width="15.3" height="4.3" fill="#f0a48a"/>
<rect x="131.7" y="298.0" width="1.7" height="4.3" fill="#7c0c10"/>
<rect x="136.0" y="298.0" width="5.6" height="4.3" fill="#7c0c10"/>
<rect x="141.6" y="298.0" width="7.7" height="4.3" fill="#f0a48a"/>
<rect x="149.5" y="298.0" width="1.3" height="4.3" fill="#7c0c10"/>
<rect x="153.4" y="298.0" width="3.1" height="4.3" fill="#f0a48a"/>
<rect x="150.0" y="298.0" width="1.0" height="4.3" fill="#7c0c10"/>
<rect x="153.6" y="298.0" width="7.1" height="4.3" fill="#f0a48a"/>
<rect x="163.3" y="298.0" width="6.6" height="4.3" fill="#f0a48a"/>
<rect x="175.0" y="298.0" width="7.1" height="4.3" fill="#f0a48a"/>
<rect x="182.1" y="298.0" width="2.0" height="4.3" fill="#7c0c10"/>
<rect x="184.7" y="298.0" width="13.3" height="4.3" fill="#f0a48a"/>
<rect x="198.0" y="298.0" width="4.1" height="4.3" fill="#7c0c10"/>
<rect x="204.1" y="298.0" width="2.0" height="4.3" fill="#7c0c10"/>
<rect x="206.1" y="298.0" width="5.1" height="4.3" fill="#f0a48a"/>
<rect x="215.8" y="298.0" width="1.5" height="4.3" fill="#f0a48a"/>
<rect x="20.6" y="302.9" width="7.6" height="3.9" fill="#f0921e"/>
<rect x="22.1" y="302.9" width="2.0" height="3.9" fill="#6aa890"/>
<rect x="25.7" y="302.9" width="2.0" height="3.9" fill="#2fb2e2"/>
<rect x="28.2" y="302.9" width="5.1" height="3.9" fill="#2fb2e2"/>
<rect x="33.3" y="302.9" width="5.1" height="3.9" fill="#f0921e"/>
<rect x="34.3" y="302.9" width="2.0" height="3.9" fill="#6aa890"/>
<rect x="38.4" y="302.9" width="5.1" height="3.9" fill="#f0921e"/>
<rect x="44.0" y="302.9" width="4.6" height="3.9" fill="#2fb2e2"/>
<rect x="48.6" y="302.9" width="5.6" height="3.9" fill="#f0921e"/>
<rect x="50.1" y="302.9" width="2.0" height="3.9" fill="#6aa890"/>
<rect x="54.2" y="302.9" width="6.6" height="3.9" fill="#f0921e"/>
<rect x="63.4" y="302.9" width="1.5" height="3.9" fill="#f0921e"/>
<rect x="67.5" y="302.9" width="3.6" height="3.9" fill="#f0921e"/>
<rect x="77.2" y="302.9" width="7.7" height="3.9" fill="#f0921e"/>
<rect x="93.2" y="302.9" width="5.1" height="3.9" fill="#f0921e"/>
<rect x="98.3" y="302.9" width="7.1" height="3.9" fill="#f0921e"/>
<rect x="99.3" y="302.9" width="2.0" height="3.9" fill="#6aa890"/>
<rect x="102.9" y="302.9" width="2.0" height="3.9" fill="#6aa890"/>
<rect x="105.4" y="302.9" width="8.2" height="3.9" fill="#f0921e"/>
<rect x="108.0" y="302.9" width="2.0" height="3.9" fill="#6aa890"/>
<rect x="116.1" y="302.9" width="9.7" height="3.9" fill="#f0921e"/>
<rect x="127.9" y="302.9" width="15.3" height="3.9" fill="#f0921e"/>
<rect x="143.7" y="302.9" width="12.8" height="3.9" fill="#2fb2e2"/>
<rect x="150.0" y="302.9" width="14.8" height="3.9" fill="#2fb2e2"/>
<rect x="160.2" y="302.9" width="1.8" height="3.9" fill="#f0921e"/>
<rect x="162.2" y="302.9" width="1.8" height="3.9" fill="#6aa890"/>
<rect x="167.3" y="302.9" width="3.1" height="3.9" fill="#2fb2e2"/>
<rect x="173.0" y="302.9" width="29.6" height="3.9" fill="#2fb2e2"/>
<rect x="184.7" y="302.9" width="2.0" height="3.9" fill="#6aa890"/>
<rect x="204.6" y="302.9" width="12.8" height="3.9" fill="#f0921e"/>
<rect x="210.2" y="302.9" width="2.0" height="3.9" fill="#6aa890"/>
<rect x="20.6" y="307.5" width="76.4" height="4.4" fill="#2e8b2e"/>
<rect x="97.0" y="307.5" width="46.3" height="4.4" fill="#e23030"/>
<rect x="143.3" y="307.5" width="74.3" height="4.4" fill="#1515d2"/>
<rect x="20.6" y="312.2" width="197.2" height="172.8" fill="#120a06"/>
<g fill="none" stroke-width="1.25" filter="url(#hb)">
<path stroke="#28aa28" d="M69.0,312.8h1.8M119.2,312.8h3.6M144.3,312.8h1.8M162.2,312.8h1.8M198.1,312.8h1.8M119.2,314.0h3.6M128.2,314.0h1.8M173.0,314.0h1.8M101.3,315.2h1.8M144.3,315.2h3.6M169.4,315.2h1.8M155.1,316.4h1.8M201.7,316.4h1.8M126.4,317.6h3.6M155.1,317.6h1.8M144.3,318.8h1.8M113.8,321.2h1.8M121.0,321.2h5.4M158.6,321.2h5.4M169.4,322.4h1.8M101.3,323.6h1.8M162.2,323.6h1.8M149.7,324.8h1.8M162.2,324.8h1.8M174.8,324.8h1.8M124.6,326.0h1.8M155.1,326.0h1.8M183.7,326.0h1.8M189.1,326.0h1.8M144.3,327.2h1.8M147.9,327.2h3.6M167.6,327.2h3.6M54.7,328.4h1.8M113.8,328.4h1.8M144.3,328.4h1.8M147.9,328.4h1.8M162.2,328.4h1.8M128.2,329.6h3.6M162.2,329.6h1.8M27.8,330.8h1.8M160.4,330.8h1.8M99.5,332.0h5.4M140.7,332.0h3.6M108.4,333.2h1.8M124.6,333.2h1.8M155.1,333.2h3.6M162.2,333.2h1.8M167.6,333.2h3.6M196.3,333.2h1.8M101.3,334.4h1.8M124.6,334.4h1.8M147.9,334.4h1.8M155.1,334.4h1.8M33.1,335.6h1.8M122.8,335.6h3.6M155.1,335.6h3.6M147.9,336.8h3.6M155.1,336.8h3.6M212.4,336.8h1.8M101.3,338.0h1.8M124.6,338.0h1.8M212.4,338.0h1.8M101.3,339.2h1.8M124.6,339.2h1.8M144.3,339.2h1.8M156.8,339.2h1.8M199.9,340.4h1.8M97.7,341.6h1.8M101.3,341.6h1.8M113.8,341.6h1.8M119.2,341.6h1.8M160.4,341.6h1.8M95.9,342.8h1.8M130.0,342.8h1.8M144.3,342.8h1.8M162.2,342.8h1.8M205.3,342.8h3.6M31.4,344.0h3.6M169.4,344.0h1.8M119.2,345.2h1.8M158.6,345.2h3.6M33.1,346.4h1.8M99.5,346.4h7.2M121.0,346.4h1.8M162.2,346.4h1.8M165.8,346.4h1.8M183.7,346.4h3.6M208.8,346.4h1.8M101.3,347.6h1.8M140.7,347.6h1.8M162.2,347.6h1.8M40.3,348.8h1.8M130.0,348.8h1.8M144.3,348.8h1.8M147.9,348.8h1.8M185.5,348.8h1.8M42.1,350.0h1.8M144.3,350.0h3.6M27.8,351.2h1.8M101.3,351.2h3.6M146.1,351.2h1.8M33.1,352.4h1.8M104.9,352.4h1.8M144.3,352.4h1.8M149.7,352.4h3.6M106.7,353.6h1.8M144.3,353.6h1.8M155.1,353.6h1.8M203.5,353.6h1.8M99.5,354.8h5.4M155.1,354.8h1.8M169.4,354.8h3.6M27.8,356.0h1.8M33.1,356.0h1.8M99.5,356.0h3.6M117.4,356.0h3.6M146.1,356.0h3.6M216.0,356.0h1.8M101.3,357.2h1.8M181.9,357.2h1.8M27.8,358.4h1.8M60.0,358.4h1.8M101.3,358.4h1.8M117.4,358.4h1.8M130.0,358.4h1.8M144.3,358.4h1.8M167.6,358.4h1.8M81.6,359.6h1.8M101.3,359.6h3.6M108.4,359.6h1.8M121.0,359.6h1.8M130.0,359.6h1.8M144.3,359.6h1.8M155.1,359.6h1.8M160.4,359.6h3.6M43.9,360.8h1.8M101.3,360.8h1.8M24.2,362.0h1.8M36.7,362.0h1.8M101.3,362.0h1.8M140.7,362.0h1.8M147.9,362.0h1.8M162.2,362.0h1.8M208.8,362.0h1.8M99.5,363.2h3.6M144.3,363.2h1.8M149.7,363.2h1.8M121.0,364.4h1.8M146.1,364.4h3.6M208.8,364.4h3.6M122.8,365.6h3.6M144.3,366.8h1.8M26.0,368.0h3.6M103.1,368.0h1.8M113.8,368.0h1.8M153.3,368.0h1.8M158.6,368.0h1.8M144.3,369.2h3.6M144.3,370.4h1.8M169.4,370.4h1.8M199.9,371.6h1.8M34.9,372.8h3.6M201.7,372.8h1.8M162.2,374.0h1.8M144.3,375.2h1.8M33.1,376.4h1.8M40.3,376.4h1.8M69.0,376.4h1.8M144.3,376.4h1.8M185.5,377.6h1.8M216.0,377.6h1.8M24.2,382.4h1.8M60.0,382.4h1.8M63.6,382.4h3.6M173.0,383.6h3.6M54.7,384.8h1.8M144.3,384.8h1.8M147.9,386.0h1.8M81.6,388.4h1.8M140.7,388.4h1.8M144.3,389.6h1.8M162.2,389.6h1.8M185.5,389.6h1.8M190.9,389.6h1.8M101.3,390.8h1.8M199.9,390.8h1.8M52.9,394.4h1.8M162.2,394.4h1.8M24.2,395.6h3.6M40.3,396.8h1.8M54.7,396.8h1.8M33.1,398.0h1.8M22.4,399.2h3.6M43.9,399.2h1.8M60.0,401.6h1.8M81.6,401.6h1.8M22.4,402.8h1.8M38.5,402.8h1.8M42.1,402.8h1.8M85.1,402.8h1.8M115.6,402.8h3.6M38.5,404.0h1.8M69.0,404.0h1.8M162.2,404.0h1.8M205.3,404.0h1.8M81.6,405.2h1.8M144.3,405.2h1.8M144.3,407.6h1.8M33.1,410.0h1.8M43.9,412.4h1.8M162.2,412.4h1.8M31.4,413.6h1.8M65.4,413.6h1.8M38.5,414.8h1.8M26.0,416.0h1.8M33.1,416.0h1.8M85.1,416.0h1.8M90.5,416.0h1.8M99.5,416.0h3.6M113.8,416.0h3.6M128.2,416.0h1.8M36.7,417.2h1.8M69.0,417.2h1.8M99.5,417.2h3.6M22.4,418.4h1.8M58.2,418.4h3.6M38.5,419.6h1.8M101.3,419.6h1.8M26.0,420.8h3.6M38.5,420.8h1.8M58.2,420.8h1.8M99.5,420.8h7.2M131.7,420.8h1.8M144.3,420.8h1.8M26.0,422.0h3.6M99.5,422.0h1.8M22.4,423.2h5.4M31.4,423.2h1.8M51.1,423.2h1.8M94.1,423.2h1.8M97.7,423.2h1.8M101.3,423.2h1.8M27.8,424.4h1.8M42.1,424.4h1.8M78.0,424.4h1.8M97.7,424.4h5.4M26.0,425.6h1.8M29.6,425.6h1.8M101.3,425.6h3.6M113.8,425.6h1.8M27.8,426.8h1.8M54.7,426.8h1.8M101.3,426.8h1.8M94.1,428.0h3.6M101.3,428.0h3.6M115.6,428.0h1.8M130.0,428.0h1.8M142.5,428.0h3.6M27.8,429.2h1.8M33.1,429.2h1.8M65.4,429.2h1.8M119.2,429.2h1.8M26.0,430.4h3.6M33.1,430.4h1.8M69.0,430.4h1.8M95.9,430.4h7.2M108.4,430.4h1.8M27.8,431.6h1.8M33.1,431.6h1.8M101.3,431.6h1.8M27.8,432.8h1.8M43.9,432.8h1.8M101.3,432.8h1.8M130.0,432.8h1.8M27.8,434.0h1.8M38.5,434.0h3.6M112.0,434.0h1.8M69.0,435.2h1.8M38.5,436.4h1.8M58.2,436.4h1.8M67.2,436.4h1.8M101.3,436.4h1.8M112.0,436.4h1.8M130.0,436.4h1.8M22.4,437.6h1.8M54.7,438.8h1.8M58.2,438.8h1.8M101.3,438.8h1.8M38.5,440.0h1.8M97.7,440.0h7.2M33.1,441.2h1.8M54.7,441.2h1.8M144.3,441.2h1.8M26.0,442.4h3.6M33.1,442.4h1.8M81.6,442.4h1.8M137.1,443.6h1.8M162.2,443.6h1.8M22.4,444.8h1.8M27.8,444.8h3.6M38.5,444.8h1.8M54.7,444.8h1.8M69.0,444.8h1.8M101.3,444.8h1.8M106.7,444.8h1.8M29.6,446.0h1.8M99.5,446.0h3.6M33.1,447.2h1.8M54.7,447.2h1.8M85.1,447.2h1.8M101.3,447.2h1.8M26.0,448.4h1.8M83.3,448.4h1.8M101.3,448.4h1.8M51.1,449.6h1.8M106.7,449.6h1.8M130.0,449.6h1.8M27.8,450.8h1.8M33.1,450.8h1.8M94.1,450.8h1.8M22.4,452.0h1.8M99.5,452.0h3.6M119.2,452.0h1.8M29.6,453.2h1.8M69.0,453.2h1.8M78.0,453.2h1.8M113.8,453.2h3.6M31.4,454.4h3.6M51.1,454.4h1.8M81.6,454.4h1.8M101.3,454.4h1.8M101.3,455.6h1.8M27.8,456.8h1.8M33.1,456.8h1.8M33.1,458.0h1.8M101.3,458.0h1.8M113.8,460.4h1.8M101.3,461.6h3.6M43.9,462.8h1.8M101.3,462.8h1.8M106.7,462.8h3.6M101.3,464.0h1.8M27.8,465.2h1.8M27.8,466.4h1.8M103.1,466.4h1.8M121.0,466.4h1.8M144.3,466.4h1.8M85.1,467.6h1.8M99.5,467.6h5.4M43.9,468.8h1.8M49.3,468.8h1.8M54.7,468.8h1.8M95.9,468.8h9.0M33.1,470.0h5.4M43.9,470.0h1.8M47.5,470.0h1.8M97.7,470.0h5.4M112.0,470.0h1.8M43.9,471.2h1.8M81.6,471.2h1.8M97.7,471.2h5.4M22.4,472.4h1.8M43.9,472.4h1.8M101.3,472.4h1.8M101.3,473.6h1.8M42.1,474.8h1.8M58.2,474.8h1.8M112.0,474.8h3.6M174.8,474.8h1.8M115.6,476.0h1.8M26.0,477.2h3.6M43.9,477.2h3.6M58.2,477.2h1.8M101.3,477.2h1.8M162.2,477.2h1.8M69.0,478.4h1.8M101.3,478.4h1.8M115.6,478.4h3.6M22.4,479.6h1.8M38.5,479.6h1.8M45.7,479.6h3.6M101.3,479.6h1.8M108.4,479.6h1.8M43.9,480.8h5.4M27.8,482.0h1.8M33.1,482.0h1.8M47.5,482.0h1.8M33.1,483.2h1.8M101.3,483.2h1.8M22.4,484.4h1.8M54.7,484.4h1.8"/>
<path stroke="#249a24" d="M101.3,312.8h1.8M128.2,312.8h1.8M147.9,312.8h3.6M169.4,312.8h1.8M101.3,314.0h1.8M108.4,314.0h1.8M147.9,314.0h1.8M99.5,315.2h1.8M162.2,315.2h1.8M156.8,316.4h1.8M110.2,317.6h1.8M144.3,317.6h1.8M162.2,317.6h1.8M169.4,318.8h1.8M101.3,320.0h1.8M144.3,320.0h1.8M97.7,321.2h1.8M119.2,321.2h1.8M126.4,321.2h3.6M128.2,322.4h1.8M69.0,324.8h1.8M97.7,324.8h1.8M160.4,324.8h1.8M173.0,324.8h1.8M101.3,326.0h1.8M110.2,326.0h1.8M115.6,326.0h1.8M146.1,326.0h1.8M33.1,327.2h1.8M128.2,327.2h1.8M162.2,327.2h1.8M26.0,329.6h3.6M101.3,329.6h1.8M155.1,330.8h1.8M198.1,332.0h1.8M147.9,335.6h1.8M27.8,336.8h1.8M205.3,336.8h1.8M126.4,338.0h1.8M189.1,338.0h1.8M216.0,339.2h1.8M126.4,340.4h3.6M169.4,340.4h1.8M144.3,341.6h1.8M158.6,341.6h1.8M162.2,341.6h1.8M205.3,341.6h1.8M94.1,342.8h1.8M121.0,342.8h1.8M137.1,342.8h1.8M147.9,342.8h1.8M101.3,345.2h1.8M156.8,345.2h1.8M164.0,345.2h1.8M94.1,346.4h1.8M144.3,346.4h1.8M155.1,346.4h1.8M181.9,346.4h1.8M117.4,347.6h1.8M167.6,347.6h1.8M42.1,348.8h1.8M121.0,348.8h1.8M187.3,348.8h1.8M121.0,350.0h1.8M162.2,350.0h1.8M108.4,351.2h5.4M130.0,352.4h1.8M99.5,353.6h3.6M108.4,353.6h1.8M128.2,353.6h1.8M137.1,353.6h1.8M167.6,353.6h1.8M97.7,354.8h1.8M104.9,354.8h1.8M183.7,354.8h1.8M208.8,354.8h1.8M198.1,356.0h1.8M135.3,357.2h1.8M140.7,357.2h1.8M205.3,357.2h1.8M156.8,358.4h1.8M151.5,359.6h1.8M38.5,362.0h1.8M115.6,362.0h1.8M128.2,362.0h1.8M138.9,362.0h1.8M142.5,362.0h1.8M149.7,362.0h1.8M128.2,363.2h1.8M138.9,363.2h3.6M151.5,363.2h1.8M144.3,364.4h1.8M121.0,365.6h1.8M130.0,366.8h1.8M112.0,368.0h1.8M155.1,368.0h1.8M42.1,369.2h1.8M99.5,370.4h1.8M142.5,370.4h1.8M151.5,370.4h1.8M126.4,372.8h1.8M169.4,372.8h1.8M51.1,374.0h1.8M160.4,374.0h1.8M205.3,374.0h1.8M130.0,375.2h1.8M142.5,376.4h1.8M155.1,376.4h1.8M171.2,377.6h3.6M81.6,378.8h1.8M190.9,380.0h1.8M60.0,381.2h1.8M130.0,381.2h1.8M22.4,382.4h1.8M27.8,382.4h1.8M67.2,382.4h3.6M216.0,382.4h1.8M128.2,384.8h1.8M146.1,386.0h1.8M147.9,387.2h1.8M164.0,389.6h1.8M33.1,390.8h1.8M81.6,393.2h3.6M65.4,394.4h1.8M85.1,396.8h1.8M22.4,398.0h1.8M42.1,399.2h1.8M101.3,399.2h1.8M81.6,400.4h1.8M205.3,402.8h1.8M43.9,404.0h1.8M65.4,404.0h1.8M207.0,404.0h1.8M69.0,405.2h1.8M101.3,406.4h1.8M147.9,406.4h1.8M162.2,406.4h1.8M43.9,407.6h1.8M33.1,408.8h1.8M69.0,408.8h1.8M144.3,408.8h1.8M97.7,412.4h1.8M54.7,413.6h1.8M22.4,416.0h1.8M54.7,416.0h1.8M65.4,416.0h1.8M149.7,416.0h1.8M126.4,417.2h1.8M101.3,418.4h1.8M99.5,419.6h1.8M33.1,420.8h1.8M65.4,420.8h1.8M95.9,420.8h3.6M142.5,420.8h1.8M60.0,422.0h1.8M101.3,422.0h1.8M112.0,422.0h1.8M42.1,423.2h1.8M103.1,423.2h1.8M108.4,423.2h1.8M26.0,424.4h1.8M29.6,424.4h1.8M43.9,424.4h1.8M147.9,424.4h1.8M54.7,425.6h1.8M108.4,425.6h1.8M99.5,426.8h1.8M33.1,428.0h1.8M42.1,428.0h1.8M97.7,428.0h1.8M106.7,428.0h1.8M113.8,428.0h1.8M31.4,429.2h1.8M43.9,429.2h1.8M34.9,430.4h1.8M130.0,430.4h1.8M58.2,431.6h1.8M95.9,431.6h1.8M130.0,431.6h1.8M67.2,432.8h3.6M94.1,432.8h1.8M42.1,434.0h1.8M138.9,434.0h1.8M33.1,435.2h1.8M36.7,436.4h1.8M60.0,436.4h1.8M69.0,436.4h1.8M103.1,436.4h1.8M113.8,436.4h1.8M60.0,438.8h1.8M24.2,440.0h1.8M27.8,440.0h3.6M54.7,440.0h5.4M85.1,440.0h1.8M144.3,440.0h1.8M24.2,442.4h1.8M43.9,442.4h1.8M67.2,442.4h1.8M33.1,443.6h1.8M43.9,443.6h3.6M108.4,443.6h1.8M26.0,444.8h1.8M27.8,446.0h1.8M69.0,446.0h1.8M24.2,447.2h1.8M31.4,447.2h1.8M51.1,447.2h1.8M58.2,447.2h1.8M29.6,448.4h1.8M164.0,448.4h1.8M38.5,449.6h1.8M65.4,449.6h1.8M144.3,449.6h1.8M24.2,450.8h1.8M113.8,450.8h1.8M27.8,452.0h1.8M113.8,452.0h1.8M72.6,453.2h1.8M101.3,453.2h1.8M106.7,453.2h1.8M22.4,454.4h1.8M49.3,454.4h1.8M103.1,454.4h1.8M104.9,455.6h1.8M81.6,456.8h1.8M101.3,456.8h1.8M113.8,456.8h1.8M43.9,458.0h1.8M27.8,460.4h1.8M121.0,460.4h1.8M58.2,464.0h1.8M99.5,465.2h1.8M22.4,466.4h1.8M29.6,466.4h1.8M38.5,466.4h1.8M51.1,466.4h1.8M58.2,466.4h1.8M85.1,466.4h1.8M92.3,466.4h1.8M101.3,466.4h1.8M146.1,466.4h1.8M27.8,467.6h1.8M38.5,467.6h1.8M51.1,467.6h1.8M54.7,467.6h1.8M113.8,467.6h1.8M22.4,468.8h1.8M47.5,468.8h1.8M22.4,470.0h1.8M31.4,470.0h1.8M49.3,470.0h1.8M67.2,470.0h1.8M33.1,472.4h1.8M38.5,472.4h1.8M22.4,473.6h1.8M27.8,473.6h1.8M40.3,473.6h1.8M106.7,473.6h1.8M60.0,474.8h1.8M94.1,474.8h1.8M101.3,474.8h1.8M51.1,476.0h1.8M38.5,477.2h1.8M43.9,478.4h1.8M67.2,478.4h1.8M104.9,478.4h1.8M121.0,478.4h1.8M24.2,479.6h1.8M27.8,479.6h1.8M36.7,479.6h1.8M83.3,479.6h3.6M121.0,479.6h1.8M101.3,480.8h1.8M135.3,480.8h1.8M65.4,482.0h1.8M26.0,483.2h1.8M47.5,483.2h1.8M34.9,484.4h1.8M60.0,484.4h1.8"/>
<path stroke="#218a21" d="M106.7,312.8h1.8M203.5,312.8h1.8M29.6,314.0h1.8M162.2,314.0h1.8M187.3,314.0h1.8M124.6,315.2h3.6M99.5,316.4h1.8M124.6,316.4h3.6M173.0,316.4h1.8M26.0,317.6h1.8M101.3,317.6h1.8M104.9,317.6h1.8M108.4,317.6h1.8M124.6,317.6h1.8M146.1,317.6h1.8M164.0,317.6h1.8M113.8,318.8h1.8M146.1,318.8h3.6M155.1,318.8h1.8M171.2,318.8h1.8M155.1,320.0h1.8M117.4,321.2h1.8M144.3,322.4h1.8M171.2,322.4h1.8M171.2,323.6h1.8M106.7,324.8h1.8M128.2,324.8h3.6M171.2,324.8h1.8M108.4,326.0h1.8M121.0,326.0h1.8M130.0,326.0h1.8M144.3,326.0h1.8M94.1,327.2h1.8M106.7,328.4h1.8M140.7,328.4h1.8M78.0,329.6h1.8M147.9,329.6h1.8M22.4,330.8h1.8M156.8,330.8h3.6M162.2,330.8h1.8M216.0,330.8h1.8M138.9,332.0h1.8M144.3,332.0h1.8M158.6,332.0h1.8M164.0,333.2h1.8M153.3,334.4h1.8M69.0,336.8h1.8M158.6,336.8h1.8M121.0,338.0h1.8M174.8,338.0h1.8M43.9,339.2h1.8M110.2,339.2h1.8M101.3,340.4h1.8M144.3,340.4h1.8M31.4,341.6h1.8M128.2,341.6h3.6M169.4,341.6h1.8M99.5,342.8h3.6M128.2,342.8h1.8M119.2,344.0h1.8M140.7,344.0h1.8M144.3,344.0h1.8M158.6,344.0h1.8M165.8,344.0h3.6M72.6,345.2h1.8M162.2,345.2h1.8M92.3,346.4h1.8M122.8,346.4h1.8M156.8,346.4h1.8M160.4,346.4h1.8M160.4,347.6h1.8M27.8,348.8h1.8M208.8,348.8h1.8M147.9,350.0h1.8M155.1,350.0h3.6M104.9,351.2h1.8M103.1,352.4h1.8M108.4,352.4h1.8M146.1,353.6h1.8M169.4,353.6h1.8M63.6,354.8h1.8M67.2,354.8h1.8M106.7,354.8h1.8M128.2,354.8h1.8M29.6,356.0h1.8M144.3,356.0h1.8M142.5,357.2h1.8M158.6,357.2h1.8M180.2,357.2h1.8M187.3,357.2h1.8M29.6,358.4h1.8M142.5,358.4h1.8M26.0,359.6h1.8M99.5,359.6h1.8M119.2,359.6h1.8M126.4,359.6h1.8M138.9,359.6h1.8M156.8,359.6h1.8M45.7,360.8h1.8M126.4,360.8h1.8M153.3,360.8h1.8M183.7,360.8h1.8M42.1,362.0h3.6M130.0,362.0h1.8M144.3,362.0h1.8M192.7,362.0h1.8M210.6,362.0h1.8M198.1,363.2h1.8M119.2,365.6h1.8M27.8,366.8h1.8M115.6,366.8h1.8M29.6,368.0h1.8M99.5,368.0h1.8M115.6,368.0h1.8M151.5,368.0h1.8M160.4,368.0h3.6M147.9,369.2h1.8M162.2,369.2h1.8M101.3,370.4h1.8M153.3,370.4h1.8M121.0,371.6h1.8M130.0,371.6h1.8M24.2,372.8h1.8M149.7,372.8h1.8M38.5,376.4h1.8M130.0,376.4h1.8M101.3,377.6h1.8M169.4,377.6h1.8M187.3,377.6h3.6M165.8,378.8h1.8M22.4,380.0h1.8M85.1,382.4h3.6M101.3,382.4h1.8M27.8,383.6h1.8M81.6,386.0h1.8M155.1,386.0h1.8M38.5,387.2h1.8M81.6,387.2h1.8M142.5,388.4h1.8M185.5,388.4h1.8M27.8,390.8h1.8M36.7,390.8h1.8M117.4,390.8h1.8M162.2,390.8h1.8M185.5,390.8h1.8M31.4,392.0h3.6M54.7,392.0h3.6M26.0,394.4h1.8M216.0,394.4h1.8M34.9,395.6h1.8M142.5,395.6h1.8M174.8,395.6h1.8M27.8,396.8h1.8M169.4,396.8h1.8M97.7,398.0h1.8M185.5,398.0h1.8M42.1,400.4h1.8M92.3,400.4h1.8M27.8,401.6h3.6M33.1,401.6h1.8M24.2,402.8h1.8M40.3,402.8h1.8M36.7,404.0h1.8M85.1,404.0h1.8M208.8,404.0h1.8M147.9,405.2h1.8M47.5,406.4h1.8M149.7,406.4h1.8M216.0,406.4h1.8M65.4,410.0h1.8M78.0,412.4h1.8M106.7,412.4h1.8M135.3,412.4h1.8M164.0,412.4h1.8M27.8,413.6h3.6M56.5,413.6h1.8M60.0,413.6h1.8M90.5,413.6h1.8M128.2,413.6h1.8M205.3,413.6h1.8M54.7,414.8h1.8M27.8,416.0h1.8M42.1,416.0h1.8M56.5,416.0h3.6M103.1,416.0h1.8M126.4,416.0h1.8M140.7,416.0h1.8M26.0,417.2h1.8M78.0,417.2h1.8M26.0,418.4h1.8M69.0,418.4h1.8M103.1,418.4h1.8M40.3,420.8h1.8M135.3,420.8h1.8M103.1,422.0h1.8M29.6,423.2h1.8M58.2,423.2h1.8M95.9,423.2h1.8M99.5,423.2h1.8M205.3,423.2h1.8M24.2,424.4h1.8M33.1,424.4h1.8M65.4,424.4h1.8M103.1,424.4h1.8M27.8,425.6h1.8M51.1,425.6h1.8M97.7,425.6h1.8M22.4,426.8h1.8M69.0,426.8h1.8M58.2,428.0h1.8M65.4,428.0h1.8M81.6,428.0h1.8M131.7,428.0h1.8M26.0,429.2h1.8M63.6,429.2h1.8M103.1,429.2h1.8M108.4,429.2h1.8M49.3,430.4h1.8M103.1,430.4h1.8M26.0,431.6h1.8M29.6,431.6h3.6M43.9,431.6h1.8M60.0,431.6h1.8M95.9,432.8h1.8M99.5,432.8h1.8M112.0,432.8h1.8M208.8,432.8h1.8M36.7,434.0h1.8M65.4,434.0h1.8M99.5,434.0h1.8M155.1,434.0h1.8M22.4,435.2h1.8M31.4,435.2h1.8M144.3,435.2h1.8M27.8,436.4h1.8M115.6,436.4h1.8M128.2,436.4h1.8M24.2,437.6h1.8M56.5,438.8h1.8M115.6,438.8h3.6M81.6,440.0h3.6M117.4,440.0h1.8M38.5,441.2h1.8M101.3,441.2h3.6M65.4,442.4h1.8M130.0,442.4h1.8M27.8,443.6h1.8M164.0,443.6h1.8M31.4,446.0h1.8M43.9,446.0h1.8M49.3,447.2h1.8M106.7,447.2h1.8M27.8,448.4h1.8M85.1,448.4h1.8M112.0,448.4h1.8M104.9,449.6h1.8M113.8,449.6h1.8M31.4,450.8h1.8M101.3,450.8h3.6M108.4,450.8h1.8M147.9,450.8h1.8M43.9,452.0h1.8M108.4,452.0h1.8M121.0,452.0h1.8M81.6,453.2h1.8M164.0,453.2h1.8M34.9,454.4h1.8M130.0,454.4h1.8M49.3,455.6h1.8M81.6,455.6h1.8M85.1,455.6h1.8M103.1,455.6h1.8M26.0,456.8h1.8M94.1,456.8h1.8M99.5,456.8h1.8M78.0,458.0h1.8M106.7,458.0h1.8M38.5,460.4h1.8M101.3,460.4h1.8M47.5,461.6h1.8M51.1,462.8h1.8M94.1,462.8h1.8M99.5,462.8h1.8M31.4,465.2h1.8M54.7,465.2h1.8M24.2,466.4h3.6M60.0,466.4h1.8M69.0,466.4h1.8M94.1,466.4h1.8M113.8,466.4h1.8M26.0,468.8h1.8M45.7,468.8h1.8M207.0,470.0h1.8M60.0,471.2h1.8M113.8,471.2h1.8M38.5,473.6h1.8M138.9,473.6h1.8M160.4,473.6h1.8M26.0,474.8h1.8M43.9,474.8h1.8M51.1,474.8h1.8M69.0,474.8h1.8M78.0,474.8h1.8M33.1,476.0h1.8M54.7,477.2h1.8M83.3,477.2h1.8M99.5,477.2h1.8M103.1,477.2h1.8M121.0,477.2h1.8M130.0,477.2h1.8M33.1,478.4h3.6M113.8,478.4h1.8M122.8,478.4h1.8M60.0,479.6h1.8M74.4,479.6h1.8M42.1,480.8h1.8M26.0,482.0h1.8M51.1,482.0h1.8M31.4,483.2h1.8M108.4,483.2h1.8M173.0,483.2h1.8M189.1,483.2h1.8M78.0,484.4h1.8M137.1,484.4h1.8"/>
<path stroke="#1e7b1e" d="M117.4,312.8h1.8M142.5,312.8h1.8M160.4,312.8h1.8M165.8,312.8h1.8M27.8,314.0h1.8M33.1,314.0h1.8M42.1,314.0h1.8M56.5,314.0h1.8M126.4,314.0h1.8M130.0,314.0h1.8M97.7,315.2h1.8M103.1,315.2h1.8M147.9,315.2h1.8M171.2,315.2h1.8M128.2,316.4h1.8M69.0,317.6h1.8M103.1,317.6h1.8M112.0,317.6h1.8M153.3,317.6h1.8M183.7,317.6h1.8M135.3,318.8h1.8M124.6,320.0h3.6M205.3,320.0h1.8M101.3,321.2h1.8M115.6,322.4h1.8M119.2,322.4h1.8M124.6,322.4h1.8M138.9,322.4h1.8M147.9,322.4h1.8M103.1,323.6h1.8M147.9,323.6h1.8M27.8,324.8h1.8M99.5,324.8h3.6M97.7,326.0h1.8M138.9,326.0h1.8M156.8,326.0h1.8M160.4,326.0h1.8M169.4,326.0h1.8M103.1,327.2h1.8M112.0,327.2h1.8M27.8,328.4h1.8M128.2,328.4h1.8M137.1,328.4h1.8M146.1,328.4h1.8M189.1,328.4h1.8M149.7,329.6h1.8M164.0,329.6h1.8M169.4,329.6h1.8M176.6,329.6h1.8M187.3,329.6h1.8M151.5,330.8h1.8M208.8,330.8h1.8M38.5,332.0h1.8M42.1,332.0h3.6M149.7,332.0h1.8M156.8,332.0h1.8M160.4,332.0h1.8M101.3,333.2h1.8M126.4,333.2h1.8M156.8,334.4h1.8M144.3,335.6h1.8M99.5,338.0h1.8M119.2,338.0h1.8M128.2,338.0h1.8M140.7,338.0h1.8M169.4,338.0h1.8M187.3,338.0h1.8M33.1,339.2h1.8M108.4,339.2h1.8M112.0,339.2h1.8M119.2,339.2h1.8M138.9,339.2h3.6M146.1,339.2h1.8M151.5,339.2h1.8M124.6,340.4h1.8M147.9,340.4h1.8M162.2,340.4h3.6M181.9,340.4h1.8M24.2,341.6h1.8M33.1,341.6h1.8M112.0,341.6h1.8M117.4,341.6h1.8M149.7,341.6h1.8M171.2,341.6h3.6M198.1,341.6h1.8M27.8,342.8h1.8M40.3,342.8h1.8M126.4,342.8h1.8M142.5,342.8h1.8M149.7,342.8h1.8M155.1,342.8h1.8M208.8,342.8h1.8M42.1,344.0h1.8M121.0,344.0h1.8M147.9,344.0h1.8M164.0,344.0h1.8M27.8,345.2h1.8M45.7,345.2h1.8M60.0,345.2h1.8M117.4,345.2h1.8M165.8,345.2h1.8M171.2,345.2h1.8M190.9,345.2h1.8M24.2,346.4h1.8M72.6,346.4h1.8M106.7,346.4h1.8M164.0,346.4h1.8M171.2,346.4h3.6M187.3,346.4h1.8M198.1,346.4h3.6M207.0,346.4h1.8M147.9,347.6h1.8M155.1,347.6h3.6M119.2,348.8h1.8M128.2,348.8h1.8M137.1,348.8h1.8M146.1,348.8h1.8M151.5,348.8h1.8M162.2,348.8h1.8M43.9,350.0h1.8M126.4,350.0h1.8M164.0,350.0h1.8M26.0,351.2h1.8M42.1,351.2h1.8M69.0,351.2h1.8M128.2,351.2h3.6M140.7,351.2h1.8M144.3,351.2h1.8M99.5,352.4h1.8M33.1,353.6h1.8M104.9,353.6h1.8M115.6,353.6h1.8M138.9,353.6h1.8M142.5,353.6h1.8M153.3,353.6h1.8M158.6,353.6h3.6M181.9,353.6h1.8M26.0,354.8h1.8M60.0,354.8h1.8M65.4,354.8h1.8M115.6,354.8h1.8M119.2,354.8h1.8M144.3,354.8h1.8M185.5,354.8h1.8M203.5,354.8h1.8M103.1,356.0h1.8M128.2,356.0h1.8M180.2,356.0h1.8M78.0,357.2h1.8M144.3,357.2h1.8M99.5,358.4h1.8M103.1,358.4h1.8M108.4,358.4h1.8M155.1,358.4h1.8M208.8,358.4h1.8M131.7,359.6h1.8M158.6,359.6h1.8M164.0,359.6h1.8M208.8,359.6h1.8M26.0,360.8h1.8M144.3,360.8h1.8M187.3,360.8h1.8M34.9,362.0h1.8M108.4,362.0h1.8M124.6,362.0h1.8M135.3,362.0h3.6M155.1,362.0h1.8M164.0,362.0h1.8M185.5,362.0h3.6M190.9,362.0h1.8M65.4,363.2h1.8M108.4,363.2h1.8M147.9,363.2h1.8M162.2,363.2h1.8M165.8,363.2h1.8M119.2,364.4h1.8M130.0,364.4h1.8M174.8,364.4h1.8M27.8,365.6h1.8M144.3,365.6h1.8M113.8,366.8h1.8M101.3,368.0h1.8M104.9,368.0h1.8M192.7,368.0h3.6M101.3,369.2h1.8M52.9,370.4h1.8M97.7,370.4h1.8M124.6,370.4h1.8M162.2,370.4h1.8M199.9,370.4h1.8M124.6,371.6h1.8M119.2,372.8h1.8M124.6,372.8h1.8M164.0,374.0h1.8M51.1,375.2h1.8M69.0,375.2h1.8M42.1,376.4h1.8M65.4,376.4h3.6M121.0,376.4h1.8M156.8,376.4h1.8M181.9,376.4h1.8M42.1,378.8h1.8M169.4,378.8h1.8M43.9,380.0h1.8M208.8,380.0h1.8M54.7,381.2h1.8M144.3,381.2h1.8M212.4,381.2h1.8M58.2,382.4h1.8M60.0,383.6h1.8M65.4,383.6h1.8M24.2,384.8h1.8M27.8,384.8h1.8M65.4,384.8h1.8M130.0,384.8h1.8M147.9,384.8h1.8M27.8,386.0h1.8M51.1,386.0h1.8M101.3,386.0h1.8M128.2,386.0h1.8M144.3,386.0h1.8M201.7,386.0h1.8M69.0,387.2h1.8M156.8,387.2h1.8M169.4,387.2h1.8M174.8,387.2h1.8M189.1,387.2h1.8M201.7,387.2h1.8M33.1,388.4h1.8M40.3,388.4h3.6M146.1,388.4h1.8M187.3,388.4h3.6M208.8,388.4h1.8M40.3,389.6h1.8M51.1,389.6h1.8M189.1,389.6h1.8M38.5,390.8h1.8M51.1,390.8h1.8M81.6,392.0h1.8M147.9,392.0h1.8M29.6,393.2h1.8M128.2,393.2h1.8M27.8,394.4h1.8M81.6,394.4h1.8M144.3,394.4h1.8M92.3,396.8h1.8M160.4,396.8h3.6M24.2,398.0h1.8M27.8,398.0h1.8M31.4,398.0h1.8M27.8,399.2h1.8M51.1,399.2h1.8M174.8,399.2h1.8M43.9,400.4h1.8M94.1,400.4h1.8M173.0,401.6h1.8M190.9,401.6h1.8M26.0,402.8h3.6M65.4,402.8h1.8M72.6,402.8h1.8M164.0,404.0h1.8M20.6,406.4h1.8M69.0,406.4h1.8M72.6,406.4h1.8M65.4,407.6h1.8M147.9,407.6h1.8M185.5,407.6h1.8M101.3,410.0h1.8M196.3,410.0h3.6M69.0,411.2h1.8M33.1,412.4h1.8M94.1,412.4h1.8M115.6,412.4h3.6M160.4,412.4h1.8M33.1,413.6h1.8M43.9,413.6h1.8M79.8,413.6h3.6M101.3,413.6h1.8M99.5,414.8h1.8M162.2,414.8h1.8M31.4,416.0h1.8M67.2,416.0h1.8M78.0,416.0h1.8M94.1,416.0h3.6M112.0,416.0h1.8M42.1,417.2h1.8M128.2,417.2h1.8M149.7,417.2h1.8M43.9,418.4h1.8M99.5,418.4h1.8M22.4,419.6h3.6M27.8,419.6h1.8M47.5,419.6h1.8M58.2,419.6h3.6M106.7,419.6h1.8M113.8,419.6h1.8M24.2,420.8h1.8M31.4,420.8h1.8M60.0,420.8h1.8M63.6,420.8h1.8M65.4,422.0h1.8M78.0,422.0h1.8M174.8,422.0h1.8M104.9,423.2h1.8M83.3,424.4h1.8M106.7,424.4h3.6M164.0,424.4h1.8M26.0,426.8h1.8M33.1,426.8h1.8M94.1,426.8h3.6M138.9,426.8h1.8M26.0,428.0h3.6M108.4,428.0h1.8M117.4,428.0h1.8M29.6,429.2h1.8M99.5,429.2h1.8M115.6,429.2h3.6M31.4,430.4h1.8M65.4,430.4h1.8M117.4,430.4h1.8M124.6,430.4h1.8M144.3,430.4h1.8M103.1,431.6h1.8M110.2,431.6h1.8M138.9,431.6h1.8M33.1,432.8h1.8M42.1,432.8h1.8M103.1,432.8h1.8M108.4,432.8h1.8M128.2,432.8h1.8M95.9,434.0h1.8M110.2,434.0h1.8M140.7,434.0h1.8M24.2,435.2h1.8M42.1,435.2h1.8M33.1,436.4h1.8M40.3,436.4h1.8M43.9,436.4h1.8M99.5,436.4h1.8M108.4,436.4h1.8M27.8,437.6h1.8M58.2,437.6h1.8M101.3,437.6h1.8M130.0,437.6h1.8M65.4,438.8h1.8M103.1,438.8h1.8M26.0,440.0h1.8M40.3,440.0h1.8M78.0,440.0h1.8M115.6,440.0h1.8M52.9,441.2h1.8M106.7,441.2h1.8M31.4,442.4h1.8M52.9,442.4h1.8M108.4,442.4h1.8M164.0,442.4h1.8M54.7,443.6h1.8M97.7,443.6h1.8M135.3,443.6h1.8M24.2,444.8h1.8M31.4,444.8h3.6M104.9,444.8h1.8M26.0,446.0h1.8M52.9,446.0h1.8M40.3,447.2h3.6M22.4,450.8h1.8M29.6,450.8h1.8M49.3,450.8h1.8M112.0,450.8h1.8M162.2,450.8h1.8M24.2,452.0h1.8M36.7,452.0h1.8M112.0,452.0h1.8M117.4,452.0h1.8M22.4,453.2h1.8M43.9,453.2h1.8M51.1,453.2h1.8M67.2,453.2h1.8M104.9,453.2h1.8M108.4,453.2h1.8M119.2,453.2h3.6M29.6,454.4h1.8M56.5,454.4h3.6M90.5,454.4h1.8M97.7,454.4h1.8M128.2,454.4h1.8M36.7,455.6h1.8M99.5,455.6h1.8M108.4,455.6h1.8M34.9,456.8h1.8M52.9,456.8h1.8M108.4,456.8h1.8M130.0,456.8h1.8M40.3,458.0h1.8M79.8,458.0h1.8M99.5,458.0h1.8M108.4,458.0h1.8M124.6,458.0h1.8M33.1,459.2h1.8M26.0,460.4h1.8M27.8,461.6h3.6M51.1,461.6h5.4M106.7,461.6h1.8M113.8,461.6h1.8M58.2,462.8h1.8M99.5,464.0h1.8M103.1,464.0h1.8M97.7,465.2h1.8M108.4,465.2h1.8M47.5,466.4h1.8M83.3,466.4h1.8M122.8,466.4h1.8M22.4,467.6h1.8M60.0,467.6h1.8M69.0,467.6h1.8M27.8,468.8h1.8M130.0,468.8h1.8M26.0,470.0h1.8M54.7,470.0h1.8M90.5,470.0h1.8M113.8,470.0h1.8M124.6,470.0h1.8M58.2,471.2h1.8M24.2,472.4h1.8M36.7,472.4h1.8M40.3,472.4h1.8M94.1,472.4h1.8M99.5,472.4h1.8M130.0,472.4h1.8M33.1,473.6h1.8M144.3,473.6h1.8M49.3,474.8h1.8M128.2,474.8h1.8M173.0,474.8h1.8M42.1,476.0h1.8M83.3,476.0h1.8M20.6,477.2h1.8M29.6,477.2h1.8M56.5,477.2h1.8M104.9,477.2h1.8M42.1,478.4h1.8M45.7,478.4h3.6M99.5,478.4h1.8M103.1,478.4h1.8M26.0,479.6h1.8M43.9,479.6h1.8M65.4,479.6h1.8M69.0,479.6h1.8M99.5,479.6h1.8M90.5,480.8h1.8M106.7,480.8h1.8M140.7,480.8h1.8M34.9,482.0h1.8M43.9,482.0h1.8M101.3,482.0h1.8M162.2,482.0h1.8M38.5,483.2h1.8M42.1,483.2h1.8M208.8,483.2h1.8M33.1,484.4h1.8M101.3,484.4h1.8M106.7,484.4h1.8M162.2,484.4h1.8"/>
<path stroke="#1a6b1a" d="M26.0,312.8h1.8M122.8,312.8h1.8M40.3,314.0h1.8M54.7,314.0h1.8M122.8,314.0h1.8M144.3,314.0h1.8M196.3,314.0h1.8M128.2,315.2h1.8M164.0,315.2h1.8M54.7,316.4h1.8M115.6,316.4h1.8M144.3,316.4h1.8M158.6,316.4h1.8M165.8,316.4h1.8M199.9,316.4h1.8M85.1,317.6h1.8M119.2,317.6h1.8M147.9,317.6h1.8M156.8,317.6h1.8M169.4,317.6h1.8M187.3,317.6h1.8M26.0,318.8h1.8M54.7,318.8h1.8M140.7,318.8h3.6M167.6,318.8h1.8M42.1,320.0h1.8M81.6,320.0h1.8M121.0,320.0h1.8M156.8,320.0h1.8M169.4,320.0h1.8M198.1,320.0h1.8M43.9,321.2h1.8M199.9,321.2h1.8M205.3,321.2h1.8M27.8,322.4h1.8M43.9,322.4h1.8M60.0,322.4h1.8M65.4,322.4h1.8M101.3,322.4h1.8M121.0,322.4h1.8M142.5,322.4h1.8M205.3,322.4h1.8M104.9,323.6h1.8M117.4,323.6h1.8M128.2,323.6h1.8M26.0,324.8h1.8M36.7,324.8h3.6M95.9,324.8h1.8M126.4,324.8h1.8M147.9,324.8h1.8M151.5,324.8h1.8M26.0,326.0h1.8M33.1,326.0h3.6M54.7,326.0h1.8M104.9,326.0h1.8M117.4,326.0h3.6M147.9,326.0h3.6M153.3,326.0h1.8M158.6,326.0h1.8M162.2,326.0h1.8M167.6,326.0h1.8M31.4,327.2h1.8M151.5,327.2h1.8M171.2,327.2h1.8M180.2,327.2h1.8M199.9,327.2h1.8M78.0,328.4h1.8M121.0,328.4h1.8M142.5,328.4h1.8M149.7,328.4h5.4M205.3,328.4h1.8M99.5,329.6h1.8M103.1,329.6h1.8M121.0,329.6h1.8M126.4,329.6h1.8M131.7,329.6h1.8M160.4,329.6h1.8M199.9,329.6h1.8M31.4,330.8h1.8M140.7,330.8h1.8M153.3,330.8h1.8M31.4,332.0h1.8M29.6,333.2h1.8M38.5,333.2h1.8M138.9,333.2h1.8M146.1,333.2h3.6M158.6,333.2h3.6M112.0,334.4h1.8M121.0,334.4h3.6M146.1,334.4h1.8M101.3,335.6h1.8M117.4,335.6h1.8M101.3,336.8h3.6M113.8,336.8h1.8M151.5,336.8h1.8M149.7,338.0h1.8M65.4,339.2h1.8M142.5,339.2h1.8M149.7,339.2h1.8M153.3,339.2h1.8M165.8,339.2h1.8M190.9,339.2h1.8M42.1,340.4h1.8M106.7,340.4h3.6M138.9,340.4h1.8M171.2,340.4h1.8M29.6,341.6h1.8M38.5,341.6h1.8M99.5,341.6h1.8M115.6,341.6h1.8M140.7,341.6h1.8M151.5,341.6h1.8M38.5,342.8h1.8M42.1,342.8h1.8M69.0,342.8h1.8M97.7,342.8h1.8M103.1,342.8h1.8M112.0,342.8h1.8M119.2,342.8h1.8M122.8,342.8h1.8M135.3,342.8h1.8M138.9,342.8h3.6M196.3,342.8h1.8M199.9,342.8h1.8M212.4,342.8h1.8M40.3,344.0h1.8M138.9,344.0h1.8M146.1,344.0h1.8M155.1,344.0h1.8M160.4,344.0h1.8M174.8,344.0h1.8M205.3,344.0h1.8M33.1,345.2h1.8M43.9,345.2h1.8M47.5,345.2h1.8M112.0,345.2h1.8M144.3,345.2h1.8M22.4,346.4h1.8M34.9,346.4h1.8M42.1,346.4h1.8M81.6,346.4h1.8M126.4,346.4h1.8M131.7,346.4h1.8M167.6,346.4h1.8M180.2,346.4h1.8M103.1,347.6h1.8M138.9,347.6h1.8M185.5,347.6h1.8M117.4,348.8h1.8M149.7,348.8h1.8M169.4,348.8h1.8M216.0,348.8h1.8M38.5,350.0h3.6M128.2,350.0h1.8M33.1,351.2h1.8M99.5,351.2h1.8M106.7,351.2h1.8M126.4,351.2h1.8M149.7,351.2h1.8M155.1,351.2h1.8M169.4,351.2h1.8M24.2,352.4h1.8M42.1,352.4h3.6M101.3,352.4h1.8M128.2,352.4h1.8M146.1,352.4h1.8M153.3,352.4h1.8M162.2,352.4h1.8M183.7,352.4h1.8M198.1,352.4h3.6M43.9,353.6h1.8M63.6,353.6h1.8M103.1,353.6h1.8M121.0,353.6h1.8M130.0,353.6h1.8M140.7,353.6h1.8M156.8,353.6h1.8M189.1,353.6h1.8M29.6,354.8h1.8M38.5,354.8h3.6M43.9,354.8h1.8M112.0,354.8h1.8M147.9,354.8h1.8M158.6,354.8h1.8M173.0,354.8h1.8M198.1,354.8h3.6M26.0,356.0h1.8M38.5,356.0h1.8M131.7,356.0h1.8M135.3,356.0h1.8M27.8,357.2h1.8M137.1,357.2h1.8M173.0,357.2h1.8M158.6,358.4h1.8M165.8,358.4h1.8M38.5,359.6h1.8M128.2,359.6h1.8M147.9,359.6h1.8M24.2,360.8h1.8M27.8,360.8h1.8M155.1,360.8h1.8M103.1,362.0h1.8M106.7,362.0h1.8M97.7,363.2h1.8M155.1,363.2h1.8M101.3,364.4h1.8M106.7,364.4h1.8M122.8,364.4h1.8M128.2,364.4h1.8M101.3,365.6h1.8M104.9,365.6h1.8M169.4,365.6h3.6M142.5,366.8h1.8M173.0,366.8h1.8M216.0,366.8h1.8M124.6,368.0h1.8M147.9,368.0h1.8M169.4,368.0h1.8M212.4,368.0h1.8M40.3,369.2h1.8M43.9,369.2h1.8M108.4,369.2h1.8M155.1,369.2h1.8M158.6,369.2h3.6M122.8,370.4h1.8M99.5,371.6h1.8M122.8,371.6h1.8M20.6,372.8h1.8M38.5,372.8h3.6M69.0,372.8h1.8M85.1,372.8h1.8M212.4,372.8h1.8M36.7,374.0h1.8M43.9,374.0h1.8M149.7,374.0h1.8M165.8,374.0h1.8M33.1,375.2h1.8M198.1,375.2h1.8M43.9,376.4h1.8M54.7,376.4h1.8M124.6,376.4h1.8M180.2,376.4h1.8M187.3,376.4h1.8M208.8,376.4h1.8M43.9,377.6h1.8M97.7,377.6h1.8M144.3,377.6h1.8M33.1,378.8h1.8M51.1,378.8h1.8M33.1,380.0h1.8M42.1,380.0h1.8M47.5,380.0h1.8M78.0,380.0h1.8M180.2,380.0h1.8M187.3,380.0h3.6M27.8,381.2h1.8M52.9,381.2h1.8M26.0,382.4h1.8M78.0,382.4h1.8M198.1,382.4h1.8M214.2,382.4h1.8M24.2,383.6h3.6M33.1,383.6h1.8M67.2,383.6h1.8M171.2,383.6h1.8M51.1,384.8h1.8M142.5,384.8h1.8M149.7,384.8h1.8M174.8,384.8h1.8M65.4,386.0h1.8M164.0,386.0h1.8M196.3,386.0h1.8M199.9,386.0h1.8M27.8,387.2h1.8M33.1,387.2h1.8M42.1,387.2h3.6M60.0,387.2h1.8M85.1,387.2h1.8M162.2,387.2h1.8M199.9,387.2h1.8M43.9,388.4h1.8M69.0,388.4h1.8M101.3,388.4h1.8M216.0,388.4h1.8M20.6,389.6h1.8M29.6,389.6h1.8M34.9,389.6h1.8M65.4,389.6h1.8M90.5,389.6h1.8M99.5,389.6h1.8M142.5,389.6h1.8M155.1,389.6h1.8M187.3,389.6h1.8M198.1,389.6h3.6M207.0,389.6h1.8M22.4,390.8h1.8M92.3,390.8h1.8M144.3,390.8h1.8M38.5,392.0h1.8M83.3,392.0h1.8M144.3,392.0h1.8M27.8,393.2h1.8M54.7,393.2h1.8M155.1,393.2h1.8M29.6,394.4h1.8M63.6,394.4h1.8M72.6,394.4h1.8M103.1,394.4h1.8M26.0,396.8h1.8M52.9,396.8h1.8M147.9,396.8h1.8M26.0,398.0h1.8M167.6,398.0h1.8M180.2,398.0h1.8M26.0,399.2h1.8M69.0,399.2h1.8M99.5,399.2h1.8M176.6,399.2h1.8M216.0,399.2h1.8M27.8,400.4h1.8M60.0,400.4h1.8M144.3,400.4h1.8M69.0,401.6h1.8M208.8,401.6h1.8M33.1,402.8h1.8M36.7,402.8h1.8M74.4,402.8h1.8M78.0,402.8h1.8M97.7,402.8h1.8M130.0,402.8h1.8M144.3,402.8h1.8M174.8,402.8h1.8M189.1,402.8h3.6M63.6,404.0h1.8M67.2,404.0h1.8M74.4,404.0h1.8M67.2,405.2h1.8M83.3,405.2h1.8M146.1,405.2h1.8M199.9,405.2h1.8M78.0,406.4h1.8M81.6,406.4h5.4M189.1,406.4h1.8M205.3,406.4h3.6M42.1,407.6h1.8M146.1,407.6h1.8M156.8,407.6h1.8M38.5,408.8h1.8M65.4,408.8h1.8M208.8,408.8h1.8M27.8,410.0h1.8M51.1,410.0h1.8M147.9,410.0h1.8M180.2,410.0h1.8M189.1,410.0h1.8M54.7,411.2h1.8M51.1,412.4h1.8M69.0,412.4h1.8M85.1,412.4h1.8M104.9,412.4h1.8M58.2,413.6h1.8M69.0,413.6h1.8M138.9,413.6h1.8M162.2,413.6h1.8M169.4,413.6h1.8M208.8,413.6h1.8M83.3,414.8h3.6M103.1,414.8h3.6M144.3,414.8h1.8M164.0,414.8h1.8M34.9,416.0h1.8M40.3,416.0h1.8M108.4,416.0h1.8M117.4,416.0h1.8M135.3,416.0h3.6M27.8,417.2h1.8M49.3,417.2h1.8M103.1,417.2h1.8M24.2,418.4h1.8M42.1,418.4h1.8M108.4,418.4h1.8M26.0,419.6h1.8M33.1,419.6h1.8M49.3,419.6h1.8M103.1,419.6h1.8M112.0,419.6h1.8M43.9,420.8h5.4M119.2,420.8h1.8M133.5,420.8h1.8M24.2,422.0h1.8M43.9,422.0h1.8M58.2,422.0h1.8M144.3,422.0h1.8M65.4,423.2h1.8M85.1,423.2h1.8M106.7,423.2h1.8M135.3,423.2h1.8M140.7,423.2h1.8M54.7,424.4h1.8M58.2,424.4h1.8M72.6,424.4h1.8M81.6,424.4h1.8M110.2,424.4h1.8M113.8,424.4h1.8M146.1,424.4h1.8M33.1,425.6h1.8M52.9,425.6h1.8M74.4,425.6h1.8M104.9,425.6h1.8M112.0,425.6h1.8M130.0,425.6h1.8M29.6,426.8h1.8M65.4,426.8h1.8M83.3,426.8h1.8M103.1,426.8h1.8M130.0,426.8h1.8M20.6,428.0h3.6M43.9,428.0h1.8M47.5,428.0h1.8M112.0,428.0h1.8M128.2,428.0h1.8M140.7,428.0h1.8M36.7,429.2h1.8M47.5,429.2h3.6M101.3,429.2h1.8M121.0,429.2h1.8M24.2,430.4h1.8M29.6,430.4h1.8M36.7,430.4h1.8M63.6,430.4h1.8M115.6,430.4h1.8M137.1,430.4h1.8M22.4,431.6h1.8M97.7,431.6h1.8M108.4,431.6h1.8M137.1,431.6h1.8M140.7,431.6h1.8M20.6,432.8h1.8M26.0,432.8h1.8M97.7,432.8h1.8M26.0,434.0h1.8M31.4,434.0h3.6M69.0,434.0h1.8M101.3,434.0h1.8M128.2,434.0h1.8M205.3,434.0h1.8M38.5,435.2h1.8M58.2,435.2h1.8M101.3,435.2h1.8M140.7,435.2h1.8M24.2,436.4h1.8M42.1,436.4h1.8M51.1,436.4h1.8M95.9,436.4h1.8M121.0,436.4h1.8M131.7,436.4h3.6M138.9,436.4h3.6M29.6,437.6h1.8M56.5,437.6h1.8M97.7,437.6h1.8M131.7,437.6h1.8M140.7,437.6h1.8M156.8,437.6h1.8M31.4,438.8h1.8M61.8,438.8h1.8M69.0,438.8h1.8M97.7,438.8h1.8M119.2,438.8h1.8M147.9,438.8h1.8M22.4,440.0h1.8M31.4,440.0h1.8M42.1,440.0h1.8M92.3,440.0h3.6M108.4,440.0h1.8M40.3,441.2h1.8M90.5,441.2h1.8M97.7,441.2h1.8M104.9,441.2h1.8M108.4,441.2h1.8M115.6,441.2h1.8M205.3,441.2h1.8M49.3,442.4h3.6M78.0,442.4h1.8M128.2,442.4h1.8M162.2,442.4h1.8M99.5,443.6h1.8M117.4,443.6h1.8M40.3,444.8h1.8M76.2,444.8h1.8M90.5,444.8h1.8M22.4,446.0h3.6M51.1,446.0h1.8M103.1,446.0h5.4M22.4,447.2h1.8M26.0,447.2h3.6M56.5,447.2h1.8M31.4,448.4h1.8M49.3,448.4h3.6M97.7,448.4h1.8M22.4,449.6h1.8M33.1,449.6h1.8M42.1,449.6h1.8M63.6,449.6h1.8M69.0,449.6h1.8M97.7,449.6h3.6M26.0,450.8h1.8M51.1,450.8h1.8M74.4,450.8h1.8M99.5,450.8h1.8M115.6,450.8h1.8M138.9,450.8h1.8M20.6,452.0h1.8M31.4,452.0h3.6M42.1,452.0h1.8M49.3,452.0h1.8M27.8,453.2h1.8M31.4,453.2h3.6M54.7,453.2h1.8M103.1,453.2h1.8M156.8,453.2h1.8M54.7,454.4h1.8M60.0,454.4h1.8M99.5,454.4h1.8M113.8,454.4h1.8M121.0,454.4h1.8M144.3,454.4h1.8M54.7,455.6h1.8M106.7,455.6h1.8M121.0,455.6h1.8M31.4,456.8h1.8M36.7,456.8h1.8M51.1,456.8h1.8M54.7,456.8h1.8M90.5,456.8h1.8M115.6,456.8h1.8M128.2,456.8h1.8M34.9,458.0h1.8M38.5,458.0h1.8M42.1,458.0h1.8M126.4,458.0h3.6M138.9,458.0h1.8M22.4,459.2h1.8M65.4,459.2h1.8M29.6,460.4h1.8M33.1,460.4h1.8M36.7,460.4h1.8M106.7,460.4h1.8M112.0,460.4h1.8M33.1,461.6h1.8M90.5,461.6h1.8M108.4,461.6h1.8M112.0,461.6h1.8M104.9,462.8h1.8M26.0,464.0h3.6M31.4,464.0h1.8M40.3,464.0h1.8M121.0,464.0h1.8M130.0,464.0h1.8M33.1,465.2h1.8M90.5,466.4h1.8M162.2,466.4h1.8M26.0,467.6h1.8M43.9,467.6h1.8M52.9,467.6h1.8M58.2,467.6h1.8M83.3,467.6h1.8M104.9,467.6h1.8M128.2,467.6h1.8M24.2,468.8h1.8M31.4,468.8h1.8M34.9,468.8h3.6M112.0,468.8h1.8M27.8,470.0h1.8M58.2,470.0h1.8M78.0,470.0h1.8M103.1,470.0h1.8M122.8,470.0h1.8M33.1,471.2h1.8M38.5,471.2h1.8M79.8,471.2h1.8M95.9,471.2h1.8M103.1,471.2h1.8M34.9,472.4h1.8M85.1,472.4h1.8M144.3,472.4h1.8M147.9,472.4h1.8M169.4,472.4h1.8M45.7,473.6h1.8M47.5,474.8h1.8M54.7,474.8h1.8M81.6,474.8h1.8M110.2,474.8h1.8M130.0,474.8h1.8M164.0,474.8h1.8M26.0,476.0h1.8M43.9,476.0h1.8M94.1,476.0h1.8M101.3,476.0h1.8M113.8,476.0h1.8M137.1,476.0h1.8M164.0,476.0h1.8M31.4,477.2h1.8M42.1,477.2h1.8M47.5,477.2h1.8M69.0,477.2h1.8M140.7,477.2h1.8M190.9,477.2h1.8M22.4,478.4h1.8M36.7,478.4h3.6M65.4,478.4h1.8M108.4,478.4h1.8M119.2,478.4h1.8M31.4,479.6h5.4M63.6,479.6h1.8M78.0,479.6h1.8M90.5,479.6h1.8M97.7,479.6h1.8M119.2,479.6h1.8M147.9,479.6h1.8M165.8,479.6h1.8M33.1,480.8h1.8M38.5,480.8h1.8M103.1,480.8h1.8M137.1,480.8h1.8M162.2,480.8h1.8M29.6,482.0h1.8M45.7,482.0h1.8M121.0,482.0h1.8M207.0,482.0h1.8M27.8,483.2h1.8M43.9,483.2h1.8M54.7,483.2h1.8M69.0,483.2h1.8M94.1,483.2h1.8M112.0,483.2h1.8M47.5,484.4h1.8M99.5,484.4h1.8M112.0,484.4h1.8M144.3,484.4h1.8"/>
<path stroke="#175c17" d="M27.8,312.8h1.8M34.9,312.8h1.8M63.6,312.8h1.8M103.1,312.8h1.8M155.1,312.8h3.6M178.4,312.8h1.8M181.9,312.8h1.8M205.3,312.8h1.8M106.7,314.0h1.8M124.6,314.0h1.8M155.1,314.0h1.8M174.8,314.0h1.8M198.1,314.0h1.8M205.3,314.0h1.8M108.4,315.2h1.8M130.0,315.2h1.8M101.3,316.4h1.8M112.0,316.4h3.6M164.0,316.4h1.8M171.2,316.4h1.8M174.8,316.4h1.8M183.7,316.4h1.8M22.4,317.6h1.8M27.8,317.6h1.8M36.7,317.6h1.8M97.7,317.6h1.8M158.6,317.6h3.6M181.9,317.6h1.8M189.1,317.6h1.8M199.9,317.6h1.8M27.8,318.8h1.8M65.4,318.8h1.8M97.7,318.8h1.8M103.1,318.8h1.8M124.6,318.8h1.8M131.7,318.8h1.8M156.8,318.8h1.8M187.3,318.8h3.6M205.3,318.8h1.8M24.2,320.0h1.8M115.6,320.0h1.8M122.8,320.0h1.8M128.2,320.0h1.8M171.2,320.0h1.8M212.4,320.0h1.8M65.4,321.2h1.8M81.6,321.2h1.8M130.0,321.2h1.8M198.1,321.2h1.8M97.7,322.4h1.8M103.1,322.4h1.8M110.2,322.4h1.8M130.0,322.4h1.8M140.7,322.4h1.8M149.7,322.4h1.8M156.8,322.4h3.6M165.8,322.4h3.6M180.2,322.4h1.8M106.7,323.6h1.8M149.7,323.6h1.8M165.8,323.6h1.8M29.6,324.8h1.8M146.1,324.8h1.8M176.6,324.8h1.8M24.2,326.0h1.8M69.0,326.0h1.8M95.9,326.0h1.8M103.1,326.0h1.8M122.8,326.0h1.8M187.3,326.0h1.8M196.3,326.0h1.8M106.7,327.2h3.6M124.6,327.2h1.8M164.0,327.2h1.8M183.7,327.2h1.8M130.0,328.4h1.8M160.4,328.4h1.8M167.6,328.4h1.8M140.7,329.6h1.8M29.6,330.8h1.8M52.9,330.8h1.8M101.3,330.8h3.6M119.2,330.8h1.8M149.7,330.8h1.8M173.0,330.8h1.8M210.6,330.8h1.8M33.1,332.0h1.8M36.7,332.0h1.8M65.4,332.0h1.8M104.9,332.0h1.8M121.0,332.0h1.8M147.9,332.0h1.8M155.1,332.0h1.8M162.2,332.0h1.8M167.6,332.0h1.8M196.3,332.0h1.8M199.9,332.0h1.8M72.6,333.2h1.8M99.5,333.2h1.8M128.2,333.2h1.8M140.7,333.2h1.8M144.3,333.2h1.8M165.8,333.2h1.8M181.9,334.4h1.8M26.0,335.6h1.8M31.4,335.6h1.8M99.5,335.6h1.8M119.2,335.6h3.6M146.1,335.6h1.8M31.4,336.8h3.6M40.3,336.8h1.8M115.6,336.8h1.8M124.6,336.8h1.8M144.3,336.8h1.8M162.2,336.8h1.8M42.1,338.0h1.8M74.4,338.0h1.8M103.1,338.0h1.8M122.8,338.0h1.8M142.5,338.0h1.8M147.9,338.0h1.8M156.8,338.0h1.8M162.2,338.0h1.8M190.9,338.0h1.8M205.3,338.0h1.8M31.4,339.2h1.8M42.1,339.2h1.8M54.7,339.2h1.8M99.5,339.2h1.8M147.9,339.2h1.8M155.1,339.2h1.8M164.0,339.2h1.8M174.8,339.2h1.8M189.1,339.2h1.8M208.8,339.2h1.8M99.5,340.4h1.8M160.4,340.4h1.8M208.8,340.4h1.8M27.8,341.6h1.8M121.0,341.6h1.8M135.3,341.6h1.8M156.8,341.6h1.8M196.3,341.6h1.8M207.0,341.6h1.8M216.0,341.6h1.8M26.0,342.8h1.8M43.9,342.8h1.8M108.4,342.8h3.6M124.6,342.8h1.8M158.6,342.8h1.8M185.5,342.8h1.8M29.6,344.0h1.8M69.0,344.0h1.8M99.5,344.0h1.8M103.1,344.0h1.8M124.6,344.0h3.6M137.1,344.0h1.8M153.3,344.0h1.8M162.2,344.0h1.8M203.5,344.0h1.8M26.0,345.2h1.8M99.5,345.2h1.8M104.9,345.2h5.4M135.3,345.2h1.8M138.9,345.2h1.8M173.0,345.2h1.8M205.3,345.2h1.8M31.4,346.4h1.8M97.7,346.4h1.8M169.4,346.4h1.8M40.3,347.6h3.6M171.2,347.6h3.6M20.6,348.8h1.8M43.9,348.8h1.8M101.3,348.8h1.8M108.4,348.8h1.8M156.8,348.8h1.8M164.0,348.8h1.8M171.2,348.8h3.6M26.0,350.0h3.6M119.2,350.0h1.8M138.9,350.0h1.8M22.4,351.2h3.6M43.9,351.2h1.8M113.8,351.2h1.8M121.0,351.2h1.8M147.9,351.2h1.8M153.3,351.2h1.8M162.2,351.2h1.8M167.6,351.2h1.8M185.5,351.2h1.8M69.0,352.4h1.8M106.7,352.4h1.8M147.9,352.4h1.8M185.5,352.4h1.8M34.9,353.6h1.8M40.3,353.6h1.8M126.4,353.6h1.8M151.5,353.6h1.8M173.0,353.6h1.8M183.7,353.6h1.8M205.3,353.6h1.8M27.8,354.8h1.8M69.0,354.8h1.8M108.4,354.8h1.8M117.4,354.8h1.8M137.1,354.8h1.8M97.7,356.0h1.8M108.4,356.0h1.8M115.6,356.0h1.8M121.0,356.0h1.8M173.0,356.0h1.8M189.1,356.0h1.8M43.9,357.2h1.8M97.7,357.2h1.8M119.2,357.2h1.8M128.2,357.2h1.8M138.9,357.2h1.8M160.4,357.2h1.8M189.1,357.2h1.8M198.1,357.2h1.8M61.8,358.4h1.8M104.9,358.4h3.6M119.2,358.4h3.6M131.7,358.4h1.8M147.9,358.4h1.8M171.2,358.4h1.8M27.8,359.6h1.8M42.1,359.6h1.8M106.7,359.6h1.8M122.8,359.6h1.8M135.3,359.6h3.6M140.7,359.6h1.8M146.1,359.6h1.8M169.4,359.6h1.8M22.4,360.8h1.8M115.6,360.8h1.8M119.2,360.8h1.8M140.7,360.8h1.8M196.3,360.8h1.8M199.9,360.8h1.8M22.4,362.0h1.8M26.0,362.0h1.8M40.3,362.0h1.8M94.1,362.0h1.8M126.4,362.0h1.8M156.8,362.0h1.8M165.8,362.0h1.8M207.0,362.0h1.8M27.8,363.2h3.6M146.1,363.2h1.8M196.3,363.2h1.8M126.4,364.4h1.8M40.3,365.6h3.6M103.1,365.6h1.8M126.4,365.6h1.8M130.0,365.6h1.8M155.1,365.6h3.6M162.2,365.6h1.8M173.0,365.6h1.8M99.5,366.8h1.8M121.0,366.8h1.8M24.2,368.0h1.8M36.7,368.0h3.6M47.5,368.0h1.8M81.6,368.0h1.8M97.7,368.0h1.8M156.8,368.0h1.8M171.2,368.0h1.8M205.3,368.0h1.8M115.6,369.2h1.8M156.8,369.2h1.8M169.4,369.2h1.8M27.8,370.4h1.8M117.4,370.4h1.8M171.2,370.4h1.8M207.0,370.4h1.8M101.3,371.6h1.8M149.7,371.6h1.8M22.4,372.8h1.8M156.8,372.8h3.6M180.2,372.8h1.8M33.1,374.0h1.8M47.5,374.0h3.6M83.3,374.0h3.6M147.9,374.0h1.8M167.6,374.0h3.6M189.1,374.0h1.8M199.9,374.0h1.8M196.3,375.2h1.8M45.7,376.4h1.8M78.0,376.4h1.8M90.5,376.4h1.8M112.0,376.4h1.8M185.5,376.4h1.8M210.6,376.4h1.8M27.8,377.6h1.8M94.1,377.6h1.8M103.1,377.6h1.8M176.6,377.6h1.8M158.6,378.8h3.6M167.6,378.8h1.8M205.3,378.8h1.8M27.8,380.0h1.8M69.0,380.0h1.8M169.4,380.0h1.8M174.8,380.0h1.8M31.4,381.2h1.8M58.2,381.2h1.8M90.5,381.2h1.8M101.3,381.2h1.8M162.2,381.2h1.8M180.2,381.2h1.8M31.4,382.4h1.8M40.3,382.4h3.6M61.8,382.4h1.8M130.0,382.4h1.8M173.0,382.4h1.8M212.4,382.4h1.8M31.4,383.6h1.8M38.5,383.6h1.8M58.2,383.6h1.8M69.0,383.6h1.8M72.6,383.6h1.8M81.6,383.6h1.8M99.5,383.6h1.8M128.2,383.6h1.8M52.9,384.8h1.8M67.2,384.8h3.6M83.3,384.8h3.6M99.5,384.8h1.8M146.1,384.8h1.8M196.3,384.8h1.8M29.6,386.0h1.8M72.6,386.0h1.8M83.3,386.0h1.8M94.1,386.0h1.8M126.4,386.0h1.8M156.8,386.0h1.8M162.2,386.0h1.8M169.4,386.0h1.8M176.6,386.0h1.8M198.1,386.0h1.8M74.4,387.2h1.8M83.3,387.2h1.8M155.1,387.2h1.8M171.2,387.2h3.6M198.1,387.2h1.8M205.3,387.2h1.8M38.5,388.4h1.8M83.3,388.4h1.8M144.3,388.4h1.8M162.2,388.4h1.8M207.0,388.4h1.8M81.6,389.6h1.8M101.3,389.6h1.8M121.0,389.6h1.8M208.8,389.6h1.8M34.9,390.8h1.8M79.8,390.8h1.8M171.2,390.8h1.8M208.8,390.8h1.8M128.2,392.0h3.6M174.8,392.0h1.8M42.1,393.2h1.8M144.3,393.2h1.8M86.9,394.4h1.8M99.5,394.4h3.6M104.9,394.4h1.8M167.6,394.4h1.8M174.8,394.4h3.6M181.9,394.4h1.8M214.2,394.4h1.8M27.8,395.6h3.6M173.0,395.6h1.8M38.5,396.8h1.8M58.2,396.8h1.8M81.6,396.8h1.8M95.9,396.8h3.6M140.7,396.8h1.8M164.0,396.8h1.8M205.3,396.8h1.8M216.0,396.8h1.8M54.7,398.0h1.8M69.0,398.0h1.8M187.3,398.0h1.8M185.5,399.2h1.8M69.0,400.4h1.8M140.7,400.4h1.8M208.8,400.4h1.8M65.4,401.6h1.8M74.4,401.6h1.8M79.8,401.6h1.8M83.3,401.6h1.8M43.9,402.8h1.8M54.7,402.8h1.8M58.2,402.8h3.6M90.5,402.8h1.8M137.1,402.8h3.6M162.2,402.8h1.8M187.3,402.8h1.8M212.4,402.8h1.8M47.5,404.0h1.8M81.6,404.0h3.6M160.4,404.0h1.8M196.3,404.0h1.8M203.5,404.0h1.8M103.1,405.2h1.8M176.6,405.2h1.8M180.2,405.2h1.8M70.8,406.4h1.8M130.0,406.4h1.8M138.9,406.4h1.8M146.1,406.4h1.8M164.0,406.4h1.8M185.5,406.4h1.8M33.1,407.6h1.8M40.3,407.6h1.8M162.2,407.6h1.8M187.3,407.6h1.8M27.8,408.8h1.8M31.4,408.8h1.8M189.1,408.8h1.8M212.4,408.8h1.8M31.4,410.0h1.8M47.5,410.0h1.8M60.0,410.0h1.8M117.4,410.0h3.6M158.6,410.0h1.8M173.0,410.0h1.8M22.4,411.2h1.8M27.8,411.2h1.8M38.5,411.2h5.4M83.3,411.2h1.8M121.0,411.2h1.8M95.9,412.4h1.8M112.0,412.4h3.6M47.5,413.6h1.8M67.2,413.6h1.8M83.3,413.6h1.8M106.7,413.6h1.8M137.1,413.6h1.8M147.9,413.6h1.8M52.9,414.8h1.8M43.9,416.0h1.8M49.3,416.0h1.8M60.0,416.0h1.8M69.0,416.0h1.8M83.3,416.0h1.8M92.3,416.0h1.8M124.6,416.0h1.8M130.0,416.0h1.8M138.9,416.0h1.8M144.3,416.0h1.8M155.1,416.0h1.8M38.5,417.2h1.8M54.7,417.2h1.8M58.2,417.2h3.6M94.1,417.2h1.8M108.4,417.2h1.8M117.4,417.2h1.8M27.8,418.4h1.8M36.7,418.4h3.6M74.4,418.4h1.8M128.2,418.4h3.6M20.6,419.6h1.8M51.1,419.6h1.8M65.4,419.6h1.8M104.9,419.6h1.8M144.3,419.6h1.8M29.6,420.8h1.8M113.8,420.8h1.8M22.4,422.0h1.8M33.1,422.0h1.8M38.5,422.0h1.8M97.7,422.0h1.8M131.7,422.0h1.8M27.8,423.2h1.8M52.9,423.2h1.8M60.0,423.2h1.8M117.4,423.2h1.8M146.1,423.2h1.8M22.4,424.4h1.8M31.4,424.4h1.8M56.5,424.4h1.8M60.0,424.4h1.8M92.3,424.4h1.8M112.0,424.4h1.8M128.2,424.4h1.8M31.4,425.6h1.8M42.1,425.6h1.8M47.5,425.6h1.8M94.1,425.6h1.8M99.5,425.6h1.8M119.2,425.6h3.6M160.4,425.6h1.8M31.4,426.8h1.8M43.9,426.8h1.8M47.5,426.8h5.4M63.6,426.8h1.8M81.6,426.8h1.8M142.5,426.8h3.6M34.9,428.0h1.8M49.3,428.0h1.8M54.7,428.0h1.8M22.4,429.2h1.8M38.5,429.2h1.8M42.1,429.2h1.8M144.3,429.2h1.8M162.2,429.2h1.8M173.0,429.2h1.8M38.5,430.4h1.8M47.5,430.4h1.8M106.7,430.4h1.8M126.4,430.4h1.8M131.7,430.4h1.8M42.1,431.6h1.8M54.7,431.6h1.8M61.8,431.6h1.8M81.6,431.6h1.8M85.1,431.6h1.8M24.2,432.8h1.8M54.7,432.8h1.8M58.2,432.8h3.6M63.6,432.8h1.8M74.4,432.8h1.8M138.9,432.8h1.8M144.3,432.8h1.8M54.7,434.0h1.8M97.7,434.0h1.8M113.8,434.0h1.8M130.0,434.0h1.8M137.1,434.0h1.8M40.3,435.2h1.8M67.2,435.2h1.8M103.1,435.2h3.6M113.8,435.2h1.8M130.0,435.2h1.8M156.8,435.2h1.8M26.0,436.4h1.8M49.3,436.4h1.8M33.1,437.6h1.8M60.0,437.6h1.8M121.0,437.6h1.8M198.1,437.6h1.8M33.1,438.8h1.8M38.5,438.8h1.8M63.6,438.8h1.8M108.4,438.8h5.4M121.0,438.8h1.8M138.9,438.8h1.8M43.9,440.0h1.8M47.5,440.0h1.8M90.5,440.0h1.8M113.8,440.0h1.8M24.2,441.2h5.4M51.1,441.2h1.8M60.0,441.2h1.8M74.4,441.2h1.8M99.5,441.2h1.8M162.2,441.2h1.8M54.7,442.4h1.8M63.6,442.4h1.8M83.3,442.4h1.8M99.5,442.4h1.8M117.4,442.4h1.8M185.5,442.4h1.8M38.5,443.6h1.8M101.3,443.6h1.8M130.0,443.6h1.8M144.3,443.6h1.8M165.8,443.6h1.8M74.4,444.8h1.8M78.0,444.8h1.8M99.5,444.8h1.8M112.0,444.8h3.6M162.2,444.8h1.8M33.1,446.0h1.8M38.5,446.0h1.8M47.5,446.0h1.8M54.7,446.0h1.8M97.7,446.0h1.8M52.9,447.2h1.8M72.6,447.2h1.8M103.1,447.2h3.6M121.0,447.2h1.8M158.6,447.2h1.8M33.1,448.4h1.8M38.5,448.4h1.8M54.7,448.4h1.8M63.6,448.4h1.8M81.6,448.4h1.8M113.8,448.4h1.8M54.7,449.6h1.8M101.3,449.6h1.8M131.7,449.6h1.8M47.5,450.8h1.8M63.6,450.8h3.6M85.1,450.8h1.8M97.7,450.8h1.8M106.7,450.8h1.8M130.0,450.8h1.8M137.1,450.8h1.8M164.0,450.8h1.8M29.6,452.0h1.8M54.7,452.0h1.8M95.9,452.0h3.6M106.7,452.0h1.8M26.0,453.2h1.8M42.1,453.2h1.8M52.9,453.2h1.8M70.8,453.2h1.8M117.4,453.2h1.8M124.6,453.2h1.8M146.1,453.2h1.8M20.6,454.4h1.8M43.9,454.4h1.8M69.0,454.4h1.8M79.8,454.4h1.8M94.1,454.4h3.6M115.6,454.4h1.8M205.3,454.4h1.8M42.1,455.6h1.8M51.1,455.6h3.6M69.0,455.6h1.8M29.6,456.8h1.8M69.0,456.8h1.8M92.3,456.8h1.8M160.4,456.8h3.6M27.8,458.0h1.8M85.1,458.0h1.8M97.7,458.0h1.8M113.8,458.0h1.8M144.3,458.0h1.8M27.8,459.2h1.8M43.9,459.2h1.8M99.5,459.2h3.6M31.4,460.4h1.8M54.7,460.4h1.8M115.6,460.4h1.8M137.1,460.4h1.8M26.0,461.6h1.8M31.4,461.6h1.8M49.3,461.6h1.8M131.7,461.6h1.8M144.3,461.6h1.8M147.9,461.6h1.8M27.8,462.8h1.8M40.3,462.8h3.6M54.7,462.8h1.8M85.1,462.8h1.8M92.3,462.8h1.8M95.9,462.8h1.8M103.1,462.8h1.8M29.6,464.0h1.8M42.1,464.0h1.8M47.5,464.0h1.8M22.4,465.2h1.8M26.0,465.2h1.8M36.7,465.2h3.6M52.9,465.2h1.8M63.6,465.2h3.6M72.6,465.2h1.8M101.3,465.2h1.8M124.6,465.2h1.8M135.3,465.2h1.8M147.9,465.2h1.8M155.1,465.2h1.8M160.4,465.2h3.6M20.6,466.4h1.8M31.4,466.4h1.8M42.1,466.4h3.6M49.3,466.4h1.8M104.9,466.4h1.8M115.6,466.4h1.8M40.3,467.6h1.8M49.3,467.6h1.8M95.9,467.6h1.8M144.3,467.6h1.8M162.2,467.6h3.6M42.1,468.8h1.8M56.5,468.8h1.8M108.4,468.8h1.8M117.4,468.8h1.8M128.2,468.8h1.8M176.6,468.8h1.8M24.2,470.0h1.8M38.5,470.0h1.8M42.1,470.0h1.8M63.6,470.0h1.8M85.1,470.0h1.8M92.3,470.0h1.8M106.7,470.0h1.8M110.2,470.0h1.8M205.3,470.0h1.8M212.4,470.0h1.8M22.4,471.2h1.8M42.1,471.2h1.8M126.4,471.2h1.8M131.7,471.2h1.8M60.0,472.4h1.8M90.5,472.4h3.6M97.7,472.4h1.8M113.8,472.4h1.8M124.6,472.4h1.8M128.2,472.4h1.8M146.1,472.4h1.8M155.1,472.4h1.8M29.6,473.6h3.6M42.1,473.6h3.6M85.1,473.6h1.8M108.4,473.6h1.8M128.2,473.6h1.8M36.7,474.8h1.8M40.3,474.8h1.8M45.7,474.8h1.8M52.9,474.8h1.8M95.9,474.8h1.8M99.5,474.8h1.8M108.4,474.8h1.8M115.6,474.8h1.8M138.9,474.8h1.8M205.3,474.8h1.8M27.8,476.0h1.8M54.7,476.0h1.8M117.4,476.0h3.6M140.7,476.0h1.8M33.1,477.2h1.8M40.3,477.2h1.8M85.1,477.2h1.8M122.8,477.2h1.8M24.2,478.4h1.8M27.8,478.4h1.8M40.3,479.6h1.8M49.3,479.6h3.6M54.7,479.6h1.8M88.7,479.6h1.8M110.2,479.6h1.8M122.8,479.6h1.8M135.3,479.6h1.8M144.3,479.6h3.6M180.2,479.6h1.8M189.1,479.6h1.8M22.4,480.8h1.8M27.8,480.8h1.8M31.4,480.8h1.8M40.3,480.8h1.8M65.4,480.8h1.8M69.0,480.8h1.8M133.5,480.8h1.8M174.8,480.8h1.8M31.4,482.0h1.8M60.0,482.0h1.8M106.7,482.0h3.6M119.2,482.0h1.8M140.7,482.0h1.8M60.0,483.2h1.8M78.0,483.2h1.8M110.2,483.2h1.8M31.4,484.4h1.8M36.7,484.4h1.8M69.0,484.4h1.8M103.1,484.4h1.8M198.1,484.4h1.8"/>
<path stroke="#144c14" d="M42.1,312.8h1.8M70.8,312.8h1.8M81.6,312.8h1.8M104.9,312.8h1.8M130.0,312.8h1.8M135.3,312.8h1.8M146.1,312.8h1.8M164.0,312.8h1.8M167.6,312.8h1.8M171.2,312.8h1.8M180.2,312.8h1.8M199.9,312.8h1.8M208.8,312.8h1.8M22.4,314.0h1.8M58.2,314.0h1.8M117.4,314.0h1.8M131.7,314.0h1.8M137.1,314.0h3.6M156.8,314.0h1.8M189.1,314.0h1.8M40.3,315.2h3.6M69.0,315.2h1.8M138.9,315.2h1.8M155.1,315.2h1.8M158.6,315.2h1.8M38.5,316.4h3.6M52.9,316.4h1.8M103.1,316.4h1.8M147.9,316.4h1.8M162.2,316.4h1.8M169.4,316.4h1.8M187.3,316.4h1.8M67.2,317.6h1.8M70.8,317.6h1.8M99.5,317.6h1.8M117.4,317.6h1.8M138.9,317.6h1.8M185.5,317.6h1.8M198.1,317.6h1.8M205.3,317.6h1.8M212.4,317.6h3.6M133.5,318.8h1.8M162.2,318.8h1.8M196.3,318.8h1.8M207.0,318.8h1.8M26.0,320.0h3.6M38.5,320.0h3.6M142.5,320.0h1.8M158.6,320.0h1.8M173.0,320.0h1.8M187.3,320.0h1.8M199.9,320.0h1.8M63.6,321.2h1.8M106.7,321.2h1.8M115.6,321.2h1.8M144.3,321.2h1.8M169.4,321.2h1.8M58.2,322.4h1.8M63.6,322.4h1.8M86.9,322.4h1.8M117.4,322.4h1.8M126.4,322.4h1.8M146.1,322.4h1.8M160.4,322.4h3.6M94.1,323.6h1.8M115.6,323.6h1.8M130.0,323.6h1.8M164.0,323.6h1.8M169.4,323.6h1.8M173.0,323.6h1.8M189.1,323.6h1.8M212.4,323.6h1.8M24.2,324.8h1.8M42.1,324.8h1.8M119.2,324.8h1.8M169.4,324.8h1.8M181.9,324.8h1.8M196.3,324.8h1.8M27.8,326.0h1.8M94.1,326.0h1.8M106.7,326.0h1.8M112.0,326.0h1.8M126.4,326.0h3.6M137.1,326.0h1.8M140.7,326.0h1.8M104.9,327.2h1.8M110.2,327.2h1.8M153.3,327.2h1.8M26.0,328.4h1.8M42.1,328.4h1.8M56.5,328.4h1.8M99.5,328.4h5.4M115.6,328.4h1.8M135.3,328.4h1.8M164.0,328.4h1.8M183.7,328.4h5.4M24.2,329.6h1.8M43.9,329.6h1.8M81.6,329.6h1.8M104.9,329.6h1.8M144.3,329.6h1.8M155.1,329.6h1.8M165.8,329.6h1.8M174.8,329.6h1.8M26.0,330.8h1.8M33.1,330.8h1.8M81.6,330.8h1.8M99.5,330.8h1.8M121.0,330.8h1.8M147.9,330.8h1.8M174.8,330.8h3.6M214.2,330.8h1.8M22.4,332.0h1.8M69.0,332.0h1.8M27.8,333.2h1.8M65.4,333.2h1.8M95.9,333.2h1.8M135.3,333.2h3.6M198.1,333.2h1.8M34.9,334.4h1.8M119.2,334.4h1.8M158.6,334.4h1.8M167.6,334.4h1.8M112.0,335.6h1.8M138.9,335.6h1.8M153.3,335.6h1.8M174.8,335.6h1.8M183.7,335.6h1.8M54.7,336.8h1.8M60.0,336.8h1.8M104.9,336.8h1.8M108.4,336.8h1.8M122.8,336.8h1.8M126.4,336.8h1.8M160.4,336.8h1.8M164.0,336.8h1.8M108.4,338.0h1.8M113.8,338.0h1.8M160.4,338.0h1.8M164.0,338.0h1.8M167.6,338.0h1.8M63.6,339.2h1.8M81.6,339.2h1.8M97.7,339.2h1.8M126.4,339.2h1.8M130.0,339.2h1.8M169.4,339.2h1.8M176.6,339.2h1.8M196.3,339.2h1.8M205.3,339.2h1.8M51.1,340.4h1.8M103.1,340.4h1.8M158.6,340.4h1.8M205.3,340.4h1.8M43.9,341.6h1.8M69.0,341.6h1.8M94.1,341.6h1.8M142.5,341.6h1.8M164.0,341.6h1.8M190.9,341.6h1.8M194.5,341.6h1.8M199.9,341.6h1.8M24.2,342.8h1.8M104.9,342.8h3.6M146.1,342.8h1.8M160.4,342.8h1.8M164.0,342.8h1.8M169.4,342.8h1.8M190.9,342.8h1.8M194.5,342.8h1.8M198.1,342.8h1.8M24.2,344.0h1.8M101.3,344.0h1.8M104.9,344.0h1.8M151.5,344.0h1.8M185.5,344.0h1.8M190.9,344.0h1.8M208.8,344.0h1.8M40.3,345.2h1.8M74.4,345.2h1.8M92.3,345.2h1.8M121.0,345.2h1.8M137.1,345.2h1.8M153.3,345.2h1.8M167.6,345.2h1.8M194.5,345.2h1.8M43.9,346.4h1.8M54.7,346.4h1.8M60.0,346.4h1.8M95.9,346.4h1.8M115.6,346.4h1.8M128.2,346.4h1.8M138.9,346.4h3.6M178.4,346.4h1.8M78.0,347.6h1.8M99.5,347.6h1.8M115.6,347.6h1.8M119.2,347.6h1.8M189.1,347.6h1.8M29.6,348.8h1.8M69.0,348.8h3.6M81.6,348.8h1.8M112.0,348.8h1.8M126.4,348.8h1.8M135.3,348.8h1.8M138.9,348.8h1.8M158.6,348.8h3.6M165.8,348.8h1.8M174.8,348.8h3.6M33.1,350.0h1.8M140.7,350.0h1.8M169.4,350.0h1.8M205.3,350.0h1.8M36.7,351.2h3.6M117.4,351.2h3.6M138.9,351.2h1.8M165.8,351.2h1.8M180.2,351.2h1.8M40.3,352.4h1.8M47.5,352.4h1.8M97.7,352.4h1.8M131.7,352.4h1.8M160.4,352.4h1.8M180.2,352.4h3.6M194.5,352.4h3.6M42.1,353.6h1.8M67.2,353.6h1.8M113.8,353.6h1.8M149.7,353.6h1.8M162.2,353.6h1.8M208.8,353.6h1.8M121.0,354.8h1.8M126.4,354.8h1.8M149.7,354.8h1.8M156.8,354.8h1.8M160.4,354.8h5.4M187.3,354.8h1.8M196.3,354.8h1.8M40.3,356.0h1.8M106.7,356.0h1.8M130.0,356.0h1.8M158.6,356.0h3.6M164.0,356.0h1.8M171.2,356.0h1.8M199.9,356.0h1.8M26.0,357.2h1.8M29.6,357.2h1.8M117.4,357.2h1.8M121.0,357.2h1.8M131.7,357.2h1.8M167.6,357.2h1.8M171.2,357.2h1.8M26.0,358.4h1.8M65.4,358.4h1.8M146.1,358.4h1.8M164.0,358.4h1.8M185.5,358.4h1.8M190.9,358.4h1.8M198.1,358.4h1.8M24.2,359.6h1.8M29.6,359.6h1.8M54.7,359.6h1.8M83.3,359.6h1.8M117.4,359.6h1.8M149.7,359.6h1.8M165.8,359.6h1.8M176.6,359.6h1.8M216.0,359.6h1.8M117.4,360.8h1.8M121.0,360.8h1.8M138.9,360.8h1.8M142.5,360.8h1.8M162.2,360.8h1.8M185.5,360.8h1.8M216.0,360.8h1.8M33.1,362.0h1.8M54.7,362.0h1.8M63.6,362.0h1.8M79.8,362.0h1.8M117.4,362.0h1.8M131.7,362.0h1.8M146.1,362.0h1.8M153.3,362.0h1.8M158.6,362.0h1.8M167.6,362.0h1.8M205.3,362.0h1.8M31.4,363.2h1.8M69.0,363.2h1.8M117.4,363.2h3.6M130.0,363.2h1.8M156.8,363.2h1.8M160.4,363.2h1.8M164.0,363.2h1.8M174.8,363.2h1.8M178.4,363.2h1.8M201.7,363.2h1.8M38.5,365.6h1.8M43.9,365.6h1.8M76.2,365.6h1.8M128.2,365.6h1.8M146.1,365.6h1.8M208.8,365.6h1.8M42.1,366.8h3.6M47.5,366.8h1.8M117.4,366.8h1.8M128.2,366.8h1.8M138.9,366.8h1.8M160.4,366.8h3.6M167.6,366.8h1.8M58.2,368.0h3.6M78.0,368.0h1.8M117.4,368.0h1.8M138.9,368.0h1.8M164.0,368.0h1.8M196.3,368.0h1.8M199.9,368.0h3.6M122.8,369.2h1.8M138.9,369.2h1.8M142.5,369.2h1.8M167.6,370.4h1.8M198.1,370.4h1.8M33.1,371.6h1.8M103.1,371.6h3.6M153.3,371.6h1.8M162.2,371.6h1.8M201.7,371.6h1.8M42.1,372.8h1.8M142.5,372.8h1.8M171.2,372.8h1.8M198.1,372.8h1.8M42.1,374.0h1.8M60.0,374.0h1.8M69.0,374.0h1.8M72.6,374.0h1.8M27.8,375.2h1.8M42.1,375.2h3.6M199.9,375.2h1.8M22.4,376.4h1.8M26.0,376.4h3.6M131.7,376.4h1.8M165.8,376.4h1.8M201.7,376.4h1.8M216.0,376.4h1.8M33.1,377.6h1.8M42.1,377.6h1.8M54.7,377.6h1.8M65.4,377.6h1.8M99.5,377.6h1.8M178.4,377.6h1.8M26.0,378.8h1.8M38.5,378.8h1.8M69.0,378.8h1.8M144.3,378.8h1.8M156.8,378.8h1.8M199.9,378.8h1.8M26.0,380.0h1.8M63.6,380.0h1.8M79.8,380.0h3.6M144.3,380.0h1.8M173.0,380.0h1.8M199.9,380.0h1.8M203.5,380.0h1.8M26.0,381.2h1.8M33.1,381.2h1.8M38.5,381.2h1.8M70.8,381.2h1.8M128.2,381.2h1.8M29.6,382.4h1.8M33.1,382.4h1.8M144.3,382.4h1.8M180.2,382.4h1.8M199.9,382.4h1.8M83.3,383.6h3.6M97.7,383.6h1.8M117.4,383.6h1.8M199.9,383.6h1.8M203.5,383.6h3.6M42.1,384.8h1.8M126.4,384.8h1.8M140.7,384.8h1.8M151.5,384.8h1.8M173.0,384.8h1.8M194.5,384.8h1.8M49.3,386.0h1.8M60.0,386.0h1.8M63.6,386.0h1.8M67.2,386.0h1.8M142.5,386.0h1.8M165.8,386.0h3.6M174.8,386.0h1.8M194.5,386.0h1.8M203.5,386.0h1.8M58.2,387.2h1.8M72.6,387.2h1.8M78.0,387.2h1.8M97.7,387.2h1.8M101.3,387.2h1.8M149.7,387.2h1.8M31.4,388.4h1.8M67.2,388.4h1.8M128.2,388.4h1.8M194.5,388.4h1.8M205.3,388.4h1.8M27.8,389.6h1.8M33.1,389.6h1.8M42.1,389.6h1.8M54.7,389.6h1.8M60.0,389.6h1.8M69.0,389.6h1.8M74.4,389.6h1.8M173.0,389.6h1.8M178.4,389.6h1.8M196.3,389.6h1.8M205.3,389.6h1.8M31.4,390.8h1.8M43.9,390.8h1.8M81.6,390.8h1.8M94.1,390.8h1.8M99.5,390.8h1.8M103.1,390.8h1.8M167.6,390.8h1.8M187.3,390.8h1.8M198.1,390.8h1.8M42.1,392.0h1.8M60.0,392.0h1.8M151.5,392.0h1.8M162.2,392.0h1.8M173.0,392.0h1.8M22.4,393.2h1.8M60.0,393.2h1.8M65.4,393.2h1.8M101.3,393.2h1.8M115.6,393.2h1.8M160.4,393.2h3.6M33.1,394.4h1.8M51.1,394.4h1.8M54.7,394.4h1.8M85.1,394.4h1.8M108.4,394.4h1.8M155.1,394.4h1.8M164.0,394.4h1.8M169.4,394.4h1.8M189.1,394.4h1.8M22.4,395.6h1.8M216.0,395.6h1.8M86.9,396.8h1.8M151.5,396.8h1.8M189.1,396.8h1.8M29.6,398.0h1.8M58.2,398.0h1.8M81.6,398.0h1.8M165.8,398.0h1.8M29.6,399.2h3.6M78.0,399.2h1.8M81.6,399.2h1.8M22.4,400.4h1.8M54.7,400.4h1.8M147.9,400.4h1.8M22.4,401.6h1.8M63.6,401.6h1.8M92.3,401.6h1.8M97.7,401.6h3.6M103.1,401.6h1.8M144.3,401.6h1.8M174.8,401.6h1.8M210.6,401.6h1.8M31.4,402.8h1.8M67.2,402.8h3.6M81.6,402.8h1.8M94.1,402.8h1.8M99.5,402.8h1.8M135.3,402.8h1.8M140.7,402.8h1.8M146.1,402.8h3.6M185.5,402.8h1.8M192.7,402.8h1.8M196.3,402.8h1.8M207.0,402.8h3.6M42.1,404.0h1.8M72.6,404.0h1.8M78.0,404.0h1.8M198.1,404.0h1.8M20.6,405.2h1.8M33.1,405.2h1.8M78.0,405.2h1.8M174.8,405.2h1.8M178.4,405.2h1.8M183.7,405.2h1.8M187.3,405.2h1.8M216.0,405.2h1.8M22.4,406.4h1.8M27.8,406.4h1.8M42.1,406.4h1.8M67.2,406.4h1.8M144.3,406.4h1.8M187.3,406.4h1.8M201.7,406.4h1.8M208.8,406.4h1.8M26.0,407.6h1.8M60.0,407.6h1.8M137.1,407.6h1.8M183.7,407.6h1.8M40.3,408.8h1.8M81.6,408.8h1.8M169.4,408.8h1.8M173.0,408.8h1.8M198.1,408.8h3.6M205.3,408.8h1.8M34.9,410.0h1.8M40.3,410.0h1.8M43.9,410.0h1.8M49.3,410.0h1.8M58.2,410.0h1.8M128.2,410.0h1.8M144.3,410.0h1.8M187.3,410.0h1.8M199.9,410.0h1.8M208.8,410.0h1.8M67.2,411.2h1.8M101.3,411.2h1.8M144.3,411.2h1.8M34.9,412.4h3.6M58.2,412.4h1.8M74.4,412.4h1.8M83.3,412.4h1.8M101.3,412.4h1.8M155.1,412.4h1.8M169.4,412.4h1.8M24.2,413.6h3.6M78.0,413.6h1.8M85.1,413.6h1.8M94.1,413.6h1.8M103.1,413.6h1.8M155.1,413.6h1.8M180.2,413.6h1.8M27.8,414.8h1.8M69.0,414.8h1.8M24.2,416.0h1.8M38.5,416.0h1.8M104.9,416.0h3.6M131.7,416.0h1.8M162.2,416.0h1.8M43.9,417.2h1.8M63.6,417.2h1.8M67.2,417.2h1.8M83.3,417.2h1.8M115.6,417.2h1.8M124.6,417.2h1.8M130.0,417.2h1.8M54.7,418.4h1.8M94.1,418.4h1.8M137.1,418.4h1.8M34.9,419.6h1.8M63.6,419.6h1.8M81.6,419.6h1.8M42.1,420.8h1.8M49.3,420.8h1.8M79.8,420.8h1.8M106.7,420.8h3.6M130.0,420.8h1.8M137.1,420.8h1.8M146.1,420.8h3.6M167.6,420.8h1.8M42.1,422.0h1.8M49.3,422.0h5.4M33.1,423.2h1.8M36.7,423.2h1.8M43.9,423.2h1.8M83.3,423.2h1.8M147.9,423.2h1.8M20.6,424.4h1.8M38.5,424.4h3.6M69.0,424.4h1.8M90.5,424.4h1.8M94.1,424.4h1.8M115.6,424.4h3.6M126.4,424.4h1.8M135.3,424.4h1.8M140.7,424.4h1.8M40.3,425.6h1.8M49.3,425.6h1.8M65.4,425.6h1.8M78.0,425.6h1.8M106.7,425.6h1.8M115.6,425.6h3.6M24.2,426.8h1.8M52.9,426.8h1.8M108.4,426.8h1.8M113.8,426.8h5.4M121.0,426.8h1.8M156.8,426.8h1.8M31.4,428.0h1.8M99.5,428.0h1.8M104.9,428.0h1.8M147.9,428.0h1.8M156.8,428.0h1.8M34.9,429.2h1.8M51.1,429.2h1.8M67.2,429.2h1.8M97.7,429.2h1.8M110.2,429.2h1.8M151.5,429.2h1.8M43.9,430.4h1.8M51.1,430.4h5.4M85.1,430.4h1.8M90.5,430.4h1.8M113.8,430.4h1.8M128.2,430.4h1.8M20.6,431.6h1.8M45.7,431.6h1.8M83.3,431.6h1.8M94.1,431.6h1.8M29.6,432.8h1.8M49.3,432.8h1.8M52.9,432.8h1.8M65.4,432.8h1.8M110.2,432.8h1.8M140.7,432.8h1.8M164.0,432.8h1.8M43.9,434.0h1.8M49.3,434.0h3.6M56.5,434.0h3.6M63.6,434.0h1.8M108.4,434.0h1.8M119.2,434.0h3.6M142.5,434.0h1.8M153.3,434.0h1.8M29.6,435.2h1.8M99.5,435.2h1.8M135.3,435.2h1.8M22.4,436.4h1.8M29.6,436.4h1.8M34.9,436.4h1.8M47.5,436.4h1.8M52.9,436.4h3.6M81.6,436.4h1.8M90.5,436.4h1.8M104.9,436.4h1.8M117.4,436.4h1.8M144.3,436.4h1.8M171.2,436.4h1.8M45.7,437.6h1.8M52.9,437.6h3.6M78.0,437.6h1.8M99.5,437.6h1.8M144.3,437.6h1.8M151.5,437.6h1.8M169.4,437.6h1.8M29.6,438.8h1.8M36.7,438.8h1.8M67.2,438.8h1.8M81.6,438.8h1.8M113.8,438.8h1.8M126.4,438.8h1.8M33.1,440.0h1.8M67.2,440.0h1.8M76.2,440.0h1.8M86.9,440.0h1.8M95.9,440.0h1.8M121.0,440.0h1.8M155.1,440.0h1.8M205.3,440.0h1.8M31.4,441.2h1.8M47.5,441.2h1.8M72.6,441.2h1.8M83.3,441.2h3.6M137.1,441.2h1.8M22.4,442.4h1.8M45.7,442.4h1.8M69.0,442.4h1.8M113.8,442.4h3.6M119.2,442.4h1.8M144.3,442.4h1.8M183.7,442.4h1.8M31.4,443.6h1.8M47.5,443.6h1.8M78.0,443.6h1.8M85.1,443.6h1.8M90.5,443.6h1.8M94.1,443.6h1.8M121.0,443.6h1.8M133.5,443.6h1.8M138.9,443.6h1.8M20.6,444.8h1.8M52.9,444.8h1.8M103.1,444.8h1.8M115.6,444.8h1.8M121.0,444.8h3.6M137.1,444.8h1.8M178.4,444.8h1.8M95.9,446.0h1.8M122.8,446.0h1.8M164.0,446.0h1.8M29.6,447.2h1.8M60.0,447.2h1.8M126.4,447.2h1.8M133.5,447.2h3.6M147.9,447.2h1.8M22.4,448.4h1.8M43.9,448.4h1.8M52.9,448.4h1.8M78.0,448.4h1.8M88.7,448.4h1.8M106.7,448.4h1.8M115.6,448.4h1.8M43.9,449.6h1.8M58.2,449.6h1.8M112.0,449.6h1.8M138.9,449.6h5.4M151.5,449.6h1.8M20.6,450.8h1.8M54.7,450.8h1.8M131.7,450.8h1.8M144.3,450.8h1.8M169.4,450.8h1.8M38.5,452.0h1.8M69.0,452.0h1.8M74.4,452.0h1.8M94.1,452.0h1.8M104.9,452.0h1.8M115.6,452.0h1.8M164.0,452.0h1.8M65.4,453.2h1.8M74.4,453.2h1.8M79.8,453.2h1.8M90.5,453.2h1.8M135.3,453.2h1.8M144.3,453.2h1.8M151.5,453.2h1.8M155.1,453.2h1.8M158.6,453.2h1.8M24.2,454.4h1.8M52.9,454.4h1.8M146.1,454.4h1.8M158.6,454.4h1.8M33.1,455.6h1.8M70.8,455.6h1.8M83.3,455.6h1.8M97.7,455.6h1.8M119.2,455.6h1.8M85.1,456.8h1.8M95.9,456.8h3.6M103.1,456.8h1.8M112.0,456.8h1.8M119.2,456.8h5.4M31.4,458.0h1.8M52.9,458.0h1.8M63.6,458.0h3.6M69.0,458.0h1.8M81.6,458.0h1.8M103.1,458.0h1.8M112.0,458.0h1.8M121.0,458.0h1.8M137.1,458.0h1.8M20.6,459.2h1.8M26.0,459.2h1.8M31.4,459.2h1.8M113.8,459.2h1.8M130.0,459.2h1.8M22.4,460.4h1.8M52.9,460.4h1.8M60.0,460.4h1.8M63.6,460.4h1.8M78.0,460.4h5.4M90.5,460.4h1.8M122.8,460.4h1.8M147.9,460.4h1.8M97.7,461.6h1.8M104.9,461.6h1.8M122.8,461.6h1.8M31.4,462.8h1.8M38.5,462.8h1.8M52.9,462.8h1.8M128.2,462.8h3.6M144.3,462.8h1.8M52.9,464.0h1.8M29.6,465.2h1.8M34.9,465.2h1.8M40.3,465.2h1.8M47.5,465.2h1.8M103.1,465.2h1.8M121.0,465.2h1.8M130.0,465.2h1.8M65.4,466.4h1.8M117.4,466.4h1.8M31.4,467.6h1.8M42.1,467.6h1.8M67.2,467.6h1.8M97.7,467.6h1.8M138.9,467.6h1.8M29.6,468.8h1.8M33.1,468.8h1.8M78.0,468.8h1.8M106.7,468.8h1.8M115.6,468.8h1.8M45.7,470.0h1.8M65.4,470.0h1.8M69.0,470.0h1.8M76.2,470.0h1.8M153.3,470.0h1.8M214.2,470.0h1.8M51.1,471.2h1.8M108.4,471.2h1.8M135.3,471.2h1.8M144.3,471.2h1.8M42.1,472.4h1.8M69.0,472.4h1.8M78.0,472.4h1.8M103.1,472.4h1.8M135.3,472.4h1.8M140.7,472.4h3.6M162.2,472.4h1.8M26.0,473.6h1.8M69.0,473.6h1.8M95.9,473.6h1.8M104.9,473.6h1.8M112.0,473.6h1.8M130.0,473.6h1.8M140.7,473.6h3.6M147.9,473.6h1.8M38.5,474.8h1.8M56.5,474.8h1.8M65.4,474.8h1.8M97.7,474.8h1.8M103.1,474.8h1.8M122.8,474.8h1.8M137.1,474.8h1.8M156.8,474.8h1.8M34.9,476.0h1.8M74.4,476.0h1.8M81.6,476.0h1.8M95.9,476.0h1.8M130.0,476.0h1.8M162.2,476.0h1.8M165.8,476.0h1.8M22.4,477.2h1.8M34.9,477.2h3.6M60.0,477.2h1.8M97.7,477.2h1.8M144.3,477.2h1.8M205.3,477.2h1.8M81.6,478.4h3.6M112.0,478.4h1.8M205.3,478.4h1.8M216.0,478.4h1.8M29.6,479.6h1.8M56.5,479.6h1.8M61.8,479.6h1.8M67.2,479.6h1.8M81.6,479.6h1.8M94.1,479.6h1.8M138.9,479.6h3.6M167.6,479.6h1.8M196.3,479.6h1.8M49.3,480.8h1.8M54.7,480.8h1.8M63.6,480.8h1.8M67.2,480.8h1.8M72.6,480.8h1.8M97.7,480.8h1.8M104.9,480.8h1.8M108.4,480.8h1.8M138.9,480.8h1.8M164.0,480.8h3.6M40.3,482.0h1.8M52.9,482.0h3.6M63.6,482.0h1.8M83.3,482.0h1.8M142.5,482.0h1.8M174.8,482.0h1.8M81.6,483.2h1.8M95.9,483.2h1.8M99.5,483.2h1.8M171.2,483.2h1.8M27.8,484.4h3.6M38.5,484.4h1.8M58.2,484.4h1.8M65.4,484.4h1.8M76.2,484.4h1.8M97.7,484.4h1.8M135.3,484.4h1.8M196.3,484.4h1.8"/>
<path stroke="#103d10" d="M54.7,312.8h1.8M108.4,312.8h1.8M196.3,312.8h1.8M74.4,314.0h1.8M97.7,314.0h3.6M115.6,314.0h1.8M135.3,314.0h1.8M146.1,314.0h1.8M165.8,314.0h1.8M176.6,314.0h1.8M180.2,314.0h1.8M26.0,315.2h3.6M95.9,315.2h1.8M135.3,315.2h3.6M149.7,315.2h1.8M160.4,315.2h1.8M199.9,315.2h1.8M208.8,315.2h1.8M97.7,316.4h1.8M117.4,316.4h1.8M142.5,316.4h1.8M208.8,316.4h1.8M216.0,316.4h1.8M24.2,317.6h1.8M29.6,317.6h1.8M83.3,317.6h1.8M135.3,317.6h1.8M142.5,317.6h1.8M167.6,317.6h1.8M171.2,317.6h1.8M201.7,317.6h1.8M24.2,318.8h1.8M33.1,318.8h1.8M108.4,318.8h1.8M112.0,318.8h1.8M128.2,318.8h1.8M149.7,318.8h1.8M22.4,320.0h1.8M43.9,320.0h1.8M103.1,320.0h1.8M130.0,320.0h3.6M140.7,320.0h1.8M164.0,320.0h1.8M190.9,320.0h1.8M51.1,321.2h1.8M67.2,321.2h1.8M104.9,321.2h1.8M112.0,321.2h1.8M131.7,321.2h3.6M149.7,321.2h1.8M164.0,321.2h1.8M167.6,321.2h1.8M194.5,321.2h3.6M203.5,321.2h1.8M94.1,322.4h1.8M113.8,322.4h1.8M122.8,322.4h1.8M131.7,322.4h1.8M151.5,322.4h1.8M173.0,322.4h1.8M198.1,322.4h1.8M216.0,322.4h1.8M27.8,323.6h1.8M121.0,323.6h3.6M146.1,323.6h1.8M153.3,323.6h5.4M205.3,323.6h1.8M74.4,324.8h3.6M103.1,324.8h3.6M124.6,324.8h1.8M155.1,324.8h1.8M164.0,324.8h1.8M189.1,324.8h1.8M198.1,324.8h1.8M22.4,326.0h1.8M42.1,326.0h1.8M49.3,326.0h1.8M142.5,326.0h1.8M174.8,326.0h1.8M185.5,326.0h1.8M210.6,326.0h1.8M27.8,327.2h1.8M34.9,327.2h1.8M58.2,327.2h1.8M101.3,327.2h1.8M130.0,327.2h1.8M146.1,327.2h1.8M155.1,327.2h3.6M165.8,327.2h1.8M181.9,327.2h1.8M198.1,327.2h1.8M33.1,328.4h1.8M65.4,328.4h1.8M69.0,328.4h1.8M85.1,328.4h1.8M97.7,328.4h1.8M104.9,328.4h1.8M108.4,328.4h1.8M119.2,328.4h1.8M126.4,328.4h1.8M155.1,328.4h1.8M169.4,328.4h1.8M174.8,328.4h1.8M196.3,328.4h1.8M208.8,328.4h1.8M42.1,329.6h1.8M67.2,329.6h3.6M79.8,329.6h1.8M119.2,329.6h1.8M167.6,329.6h1.8M198.1,329.6h1.8M203.5,329.6h1.8M20.6,330.8h1.8M24.2,330.8h1.8M74.4,330.8h1.8M104.9,330.8h1.8M108.4,330.8h1.8M113.8,330.8h1.8M117.4,330.8h1.8M131.7,330.8h1.8M212.4,330.8h1.8M27.8,332.0h1.8M67.2,332.0h1.8M74.4,332.0h1.8M97.7,332.0h1.8M106.7,332.0h1.8M131.7,332.0h1.8M24.2,333.2h1.8M33.1,333.2h1.8M81.6,333.2h1.8M103.1,333.2h1.8M106.7,333.2h1.8M131.7,333.2h1.8M153.3,333.2h1.8M189.1,333.2h1.8M192.7,333.2h3.6M22.4,334.4h1.8M69.0,334.4h1.8M78.0,334.4h1.8M103.1,334.4h1.8M108.4,334.4h1.8M140.7,334.4h1.8M196.3,334.4h1.8M65.4,335.6h1.8M115.6,335.6h1.8M130.0,335.6h3.6M26.0,336.8h1.8M43.9,336.8h1.8M70.8,336.8h1.8M121.0,336.8h1.8M173.0,336.8h1.8M207.0,336.8h1.8M27.8,338.0h1.8M43.9,338.0h1.8M130.0,338.0h1.8M138.9,338.0h1.8M158.6,338.0h1.8M173.0,338.0h1.8M210.6,338.0h1.8M22.4,339.2h1.8M34.9,339.2h1.8M78.0,339.2h1.8M103.1,339.2h1.8M121.0,339.2h1.8M137.1,339.2h1.8M158.6,339.2h1.8M162.2,339.2h1.8M167.6,339.2h1.8M212.4,339.2h1.8M43.9,340.4h1.8M133.5,340.4h1.8M137.1,340.4h1.8M140.7,340.4h3.6M167.6,340.4h1.8M196.3,340.4h3.6M26.0,341.6h1.8M42.1,341.6h1.8M49.3,341.6h1.8M58.2,341.6h1.8M95.9,341.6h1.8M103.1,341.6h1.8M108.4,341.6h1.8M124.6,341.6h1.8M138.9,341.6h1.8M147.9,341.6h1.8M165.8,341.6h1.8M189.1,341.6h1.8M192.7,341.6h1.8M33.1,342.8h1.8M58.2,342.8h1.8M115.6,342.8h3.6M153.3,342.8h1.8M156.8,342.8h1.8M43.9,344.0h1.8M135.3,344.0h1.8M142.5,344.0h1.8M149.7,344.0h1.8M173.0,344.0h1.8M181.9,344.0h1.8M187.3,344.0h1.8M201.7,344.0h1.8M207.0,344.0h1.8M38.5,345.2h1.8M42.1,345.2h1.8M51.1,345.2h1.8M63.6,345.2h1.8M69.0,345.2h1.8M169.4,345.2h1.8M187.3,345.2h3.6M196.3,345.2h1.8M208.8,345.2h1.8M216.0,345.2h1.8M38.5,346.4h1.8M49.3,346.4h1.8M58.2,346.4h1.8M69.0,346.4h1.8M78.0,346.4h1.8M119.2,346.4h1.8M124.6,346.4h1.8M130.0,346.4h1.8M142.5,346.4h1.8M147.9,346.4h1.8M158.6,346.4h1.8M189.1,346.4h1.8M29.6,347.6h1.8M121.0,347.6h1.8M144.3,347.6h1.8M165.8,347.6h1.8M187.3,347.6h1.8M190.9,347.6h1.8M208.8,347.6h1.8M31.4,348.8h1.8M38.5,348.8h1.8M140.7,348.8h1.8M155.1,348.8h1.8M167.6,348.8h1.8M183.7,348.8h1.8M196.3,348.8h1.8M69.0,350.0h1.8M97.7,350.0h1.8M103.1,350.0h1.8M113.8,350.0h1.8M137.1,350.0h1.8M142.5,350.0h1.8M151.5,350.0h1.8M158.6,350.0h3.6M165.8,350.0h1.8M190.9,350.0h1.8M29.6,351.2h3.6M34.9,351.2h1.8M40.3,351.2h1.8M151.5,351.2h1.8M176.6,351.2h1.8M198.1,351.2h1.8M81.6,352.4h1.8M85.1,352.4h1.8M90.5,352.4h3.6M117.4,352.4h1.8M137.1,352.4h1.8M155.1,352.4h3.6M205.3,352.4h1.8M208.8,352.4h1.8M69.0,353.6h1.8M119.2,353.6h1.8M124.6,353.6h1.8M147.9,353.6h1.8M180.2,353.6h1.8M187.3,353.6h1.8M192.7,353.6h1.8M201.7,353.6h1.8M24.2,354.8h1.8M58.2,354.8h1.8M85.1,354.8h1.8M95.9,354.8h1.8M135.3,354.8h1.8M146.1,354.8h1.8M181.9,354.8h1.8M189.1,354.8h3.6M205.3,354.8h1.8M216.0,354.8h1.8M31.4,356.0h1.8M34.9,356.0h1.8M42.1,356.0h3.6M165.8,356.0h3.6M181.9,356.0h1.8M187.3,356.0h1.8M196.3,356.0h1.8M205.3,356.0h1.8M214.2,356.0h1.8M33.1,357.2h1.8M69.0,357.2h1.8M92.3,357.2h1.8M99.5,357.2h1.8M103.1,357.2h1.8M130.0,357.2h1.8M147.9,357.2h1.8M165.8,357.2h1.8M196.3,357.2h1.8M216.0,357.2h1.8M63.6,358.4h1.8M69.0,358.4h1.8M137.1,358.4h1.8M169.4,358.4h1.8M176.6,358.4h1.8M31.4,359.6h3.6M47.5,359.6h1.8M74.4,359.6h1.8M94.1,359.6h1.8M104.9,359.6h1.8M110.2,359.6h3.6M124.6,359.6h1.8M142.5,359.6h1.8M153.3,359.6h1.8M190.9,359.6h1.8M29.6,360.8h1.8M47.5,360.8h1.8M81.6,360.8h1.8M94.1,360.8h1.8M103.1,360.8h3.6M124.6,360.8h1.8M147.9,360.8h1.8M169.4,360.8h1.8M190.9,360.8h1.8M198.1,360.8h1.8M208.8,360.8h1.8M49.3,362.0h3.6M65.4,362.0h3.6M78.0,362.0h1.8M104.9,362.0h1.8M112.0,362.0h1.8M122.8,362.0h1.8M151.5,362.0h1.8M160.4,362.0h1.8M169.4,362.0h1.8M183.7,362.0h1.8M103.1,363.2h1.8M112.0,363.2h1.8M115.6,363.2h1.8M176.6,363.2h1.8M185.5,363.2h1.8M199.9,363.2h1.8M205.3,363.2h1.8M208.8,363.2h1.8M212.4,363.2h1.8M112.0,364.4h1.8M124.6,364.4h1.8M140.7,364.4h1.8M162.2,364.4h1.8M176.6,364.4h1.8M216.0,364.4h1.8M47.5,365.6h1.8M99.5,365.6h1.8M106.7,365.6h1.8M142.5,365.6h1.8M187.3,365.6h1.8M196.3,365.6h1.8M212.4,365.6h1.8M26.0,366.8h1.8M49.3,366.8h1.8M103.1,366.8h1.8M112.0,366.8h1.8M119.2,366.8h1.8M124.6,366.8h1.8M147.9,366.8h1.8M158.6,366.8h1.8M169.4,366.8h3.6M22.4,368.0h1.8M31.4,368.0h3.6M40.3,368.0h5.4M79.8,368.0h1.8M92.3,368.0h3.6M128.2,368.0h1.8M140.7,368.0h1.8M144.3,368.0h1.8M185.5,368.0h1.8M52.9,369.2h1.8M78.0,369.2h1.8M113.8,369.2h1.8M119.2,369.2h1.8M137.1,369.2h1.8M140.7,369.2h1.8M171.2,369.2h1.8M26.0,370.4h1.8M33.1,370.4h3.6M42.1,370.4h1.8M108.4,370.4h1.8M126.4,370.4h3.6M135.3,370.4h1.8M155.1,370.4h1.8M189.1,370.4h1.8M38.5,371.6h1.8M70.8,371.6h3.6M126.4,371.6h3.6M140.7,371.6h1.8M165.8,371.6h1.8M174.8,371.6h1.8M187.3,371.6h5.4M198.1,371.6h1.8M33.1,372.8h1.8M58.2,372.8h1.8M92.3,372.8h1.8M104.9,372.8h1.8M113.8,372.8h1.8M137.1,372.8h3.6M144.3,372.8h1.8M147.9,372.8h1.8M162.2,372.8h1.8M187.3,372.8h1.8M196.3,372.8h1.8M22.4,374.0h1.8M34.9,374.0h1.8M38.5,374.0h1.8M81.6,374.0h1.8M90.5,374.0h1.8M158.6,374.0h1.8M187.3,374.0h1.8M201.7,374.0h1.8M216.0,374.0h1.8M52.9,375.2h3.6M81.6,375.2h1.8M131.7,375.2h1.8M162.2,375.2h1.8M189.1,375.2h1.8M24.2,376.4h1.8M31.4,376.4h1.8M34.9,376.4h1.8M47.5,376.4h1.8M51.1,376.4h1.8M83.3,376.4h1.8M113.8,376.4h1.8M119.2,376.4h1.8M126.4,376.4h1.8M138.9,376.4h3.6M162.2,376.4h1.8M169.4,376.4h1.8M176.6,376.4h1.8M189.1,376.4h1.8M212.4,376.4h1.8M20.6,377.6h1.8M29.6,377.6h1.8M45.7,377.6h1.8M108.4,377.6h1.8M119.2,377.6h1.8M205.3,377.6h1.8M27.8,378.8h1.8M43.9,378.8h1.8M58.2,378.8h1.8M65.4,378.8h1.8M78.0,378.8h1.8M142.5,378.8h1.8M173.0,378.8h3.6M210.6,378.8h1.8M216.0,378.8h1.8M20.6,380.0h1.8M24.2,380.0h1.8M83.3,380.0h3.6M181.9,380.0h3.6M192.7,380.0h1.8M29.6,381.2h1.8M51.1,381.2h1.8M67.2,381.2h3.6M169.4,381.2h1.8M183.7,381.2h3.6M208.8,381.2h1.8M38.5,382.4h1.8M83.3,382.4h1.8M121.0,382.4h1.8M128.2,382.4h1.8M162.2,382.4h1.8M181.9,382.4h1.8M187.3,382.4h1.8M196.3,382.4h1.8M201.7,382.4h1.8M36.7,383.6h1.8M40.3,383.6h1.8M49.3,383.6h3.6M126.4,383.6h1.8M140.7,383.6h1.8M147.9,383.6h1.8M169.4,383.6h1.8M207.0,383.6h1.8M22.4,384.8h1.8M33.1,384.8h1.8M40.3,384.8h1.8M43.9,384.8h1.8M78.0,384.8h1.8M101.3,384.8h1.8M192.7,384.8h1.8M199.9,384.8h1.8M208.8,384.8h1.8M212.4,384.8h1.8M216.0,384.8h1.8M61.8,386.0h1.8M22.4,387.2h1.8M29.6,387.2h3.6M79.8,387.2h1.8M203.5,387.2h1.8M27.8,388.4h1.8M54.7,388.4h1.8M65.4,388.4h1.8M103.1,388.4h1.8M126.4,388.4h1.8M183.7,388.4h1.8M210.6,388.4h1.8M24.2,389.6h1.8M36.7,389.6h1.8M43.9,389.6h1.8M52.9,389.6h1.8M58.2,389.6h1.8M88.7,389.6h1.8M97.7,389.6h1.8M103.1,389.6h1.8M130.0,389.6h1.8M169.4,389.6h1.8M201.7,389.6h1.8M216.0,389.6h1.8M20.6,390.8h1.8M42.1,390.8h1.8M52.9,390.8h1.8M61.8,390.8h3.6M69.0,390.8h1.8M90.5,390.8h1.8M97.7,390.8h1.8M119.2,390.8h1.8M142.5,390.8h1.8M147.9,390.8h1.8M169.4,390.8h1.8M190.9,390.8h1.8M203.5,390.8h1.8M36.7,392.0h1.8M58.2,392.0h1.8M67.2,392.0h3.6M140.7,392.0h1.8M164.0,392.0h1.8M180.2,392.0h1.8M199.9,392.0h1.8M208.8,392.0h1.8M216.0,392.0h1.8M20.6,393.2h1.8M208.8,393.2h1.8M216.0,393.2h1.8M31.4,394.4h1.8M38.5,394.4h3.6M78.0,394.4h3.6M146.1,394.4h3.6M199.9,394.4h1.8M212.4,394.4h1.8M40.3,395.6h1.8M43.9,395.6h1.8M65.4,395.6h1.8M121.0,395.6h1.8M128.2,395.6h1.8M160.4,395.6h1.8M181.9,395.6h1.8M185.5,395.6h1.8M22.4,396.8h1.8M36.7,396.8h1.8M83.3,396.8h1.8M126.4,396.8h1.8M144.3,396.8h1.8M149.7,396.8h1.8M167.6,396.8h1.8M180.2,396.8h1.8M203.5,396.8h1.8M20.6,398.0h1.8M42.1,398.0h3.6M85.1,398.0h1.8M169.4,398.0h1.8M199.9,398.0h1.8M216.0,398.0h1.8M49.3,399.2h1.8M97.7,399.2h1.8M108.4,399.2h1.8M144.3,399.2h1.8M173.0,399.2h1.8M183.7,399.2h1.8M198.1,399.2h1.8M201.7,399.2h1.8M208.8,399.2h1.8M51.1,400.4h1.8M63.6,400.4h1.8M78.0,400.4h1.8M99.5,400.4h1.8M160.4,400.4h3.6M34.9,401.6h3.6M42.1,401.6h1.8M54.7,401.6h1.8M90.5,401.6h1.8M101.3,401.6h1.8M34.9,402.8h1.8M63.6,402.8h1.8M86.9,402.8h1.8M124.6,402.8h3.6M153.3,402.8h1.8M169.4,402.8h1.8M178.4,402.8h1.8M199.9,402.8h1.8M210.6,402.8h1.8M27.8,404.0h1.8M45.7,404.0h1.8M51.1,404.0h1.8M138.9,404.0h1.8M38.5,405.2h1.8M43.9,405.2h1.8M60.0,405.2h1.8M65.4,405.2h1.8M79.8,405.2h1.8M85.1,405.2h1.8M94.1,405.2h1.8M104.9,405.2h1.8M185.5,405.2h1.8M51.1,406.4h3.6M65.4,406.4h1.8M74.4,406.4h1.8M79.8,406.4h1.8M137.1,406.4h1.8M38.5,407.6h1.8M85.1,407.6h1.8M138.9,407.6h1.8M142.5,407.6h1.8M169.4,407.6h1.8M205.3,407.6h1.8M216.0,407.6h1.8M34.9,408.8h1.8M74.4,408.8h1.8M83.3,408.8h3.6M101.3,408.8h1.8M147.9,408.8h1.8M187.3,408.8h1.8M207.0,408.8h1.8M24.2,410.0h1.8M38.5,410.0h1.8M42.1,410.0h1.8M78.0,410.0h1.8M99.5,410.0h1.8M130.0,410.0h1.8M169.4,410.0h1.8M181.9,410.0h1.8M24.2,411.2h3.6M33.1,411.2h1.8M36.7,411.2h1.8M43.9,411.2h1.8M70.8,411.2h1.8M97.7,411.2h1.8M135.3,411.2h1.8M165.8,411.2h1.8M26.0,412.4h1.8M31.4,412.4h1.8M38.5,412.4h1.8M60.0,412.4h1.8M108.4,412.4h1.8M144.3,412.4h1.8M165.8,412.4h1.8M210.6,412.4h1.8M36.7,413.6h3.6M42.1,413.6h1.8M95.9,413.6h1.8M108.4,413.6h1.8M135.3,413.6h1.8M140.7,413.6h1.8M160.4,413.6h1.8M196.3,413.6h1.8M26.0,414.8h1.8M33.1,414.8h1.8M36.7,414.8h1.8M40.3,414.8h1.8M58.2,414.8h3.6M94.1,414.8h1.8M20.6,416.0h1.8M36.7,416.0h1.8M52.9,416.0h1.8M63.6,416.0h1.8M81.6,416.0h1.8M142.5,416.0h1.8M147.9,416.0h1.8M22.4,417.2h1.8M34.9,417.2h1.8M40.3,417.2h1.8M52.9,417.2h1.8M76.2,417.2h1.8M138.9,417.2h1.8M144.3,417.2h1.8M147.9,417.2h1.8M49.3,418.4h1.8M61.8,418.4h1.8M95.9,418.4h3.6M119.2,418.4h1.8M126.4,418.4h1.8M138.9,418.4h1.8M36.7,419.6h1.8M43.9,419.6h1.8M69.0,419.6h1.8M78.0,419.6h1.8M94.1,419.6h3.6M146.1,419.6h1.8M162.2,419.6h1.8M22.4,420.8h1.8M56.5,420.8h1.8M69.0,420.8h1.8M94.1,420.8h1.8M112.0,420.8h1.8M121.0,420.8h1.8M140.7,420.8h1.8M165.8,420.8h1.8M183.7,420.8h1.8M20.6,422.0h1.8M45.7,422.0h1.8M67.2,422.0h1.8M94.1,422.0h1.8M119.2,422.0h1.8M130.0,422.0h1.8M146.1,422.0h1.8M205.3,422.0h1.8M20.6,423.2h1.8M38.5,423.2h1.8M81.6,423.2h1.8M112.0,423.2h3.6M162.2,423.2h3.6M36.7,424.4h1.8M74.4,424.4h3.6M95.9,424.4h1.8M119.2,424.4h1.8M144.3,424.4h1.8M162.2,424.4h1.8M165.8,424.4h1.8M43.9,425.6h1.8M69.0,425.6h1.8M76.2,425.6h1.8M95.9,425.6h1.8M110.2,425.6h1.8M144.3,425.6h1.8M155.1,425.6h1.8M162.2,425.6h1.8M20.6,426.8h1.8M56.5,426.8h1.8M76.2,426.8h1.8M119.2,426.8h1.8M140.7,426.8h1.8M181.9,426.8h1.8M24.2,428.0h1.8M29.6,428.0h1.8M60.0,428.0h1.8M63.6,428.0h1.8M86.9,428.0h1.8M92.3,428.0h1.8M24.2,429.2h1.8M52.9,429.2h3.6M112.0,429.2h1.8M122.8,429.2h3.6M128.2,429.2h1.8M40.3,430.4h1.8M67.2,430.4h1.8M135.3,430.4h1.8M174.8,430.4h1.8M24.2,431.6h1.8M47.5,431.6h7.2M56.5,431.6h1.8M99.5,431.6h1.8M22.4,432.8h1.8M40.3,432.8h1.8M90.5,432.8h1.8M137.1,432.8h1.8M20.6,434.0h5.4M29.6,434.0h1.8M94.1,434.0h1.8M103.1,434.0h1.8M115.6,434.0h1.8M27.8,435.2h1.8M49.3,435.2h1.8M138.9,435.2h1.8M142.5,435.2h1.8M146.1,435.2h1.8M56.5,436.4h1.8M97.7,436.4h1.8M135.3,436.4h1.8M156.8,436.4h5.4M165.8,436.4h1.8M26.0,437.6h1.8M34.9,437.6h1.8M38.5,437.6h1.8M43.9,437.6h1.8M104.9,437.6h1.8M133.5,437.6h1.8M138.9,437.6h1.8M142.5,437.6h1.8M146.1,437.6h3.6M160.4,437.6h1.8M27.8,438.8h1.8M42.1,438.8h1.8M72.6,438.8h3.6M85.1,438.8h1.8M99.5,438.8h1.8M106.7,438.8h1.8M124.6,438.8h1.8M60.0,440.0h1.8M106.7,440.0h1.8M112.0,440.0h1.8M119.2,440.0h1.8M122.8,440.0h1.8M128.2,440.0h1.8M22.4,441.2h1.8M42.1,441.2h3.6M49.3,441.2h1.8M78.0,441.2h1.8M81.6,441.2h1.8M110.2,441.2h3.6M119.2,441.2h1.8M138.9,441.2h1.8M147.9,441.2h1.8M40.3,442.4h3.6M47.5,442.4h1.8M60.0,442.4h1.8M85.1,442.4h3.6M158.6,442.4h1.8M22.4,443.6h1.8M42.1,443.6h1.8M51.1,443.6h1.8M63.6,443.6h1.8M95.9,443.6h1.8M140.7,443.6h1.8M158.6,443.6h1.8M205.3,443.6h1.8M43.9,444.8h1.8M72.6,444.8h1.8M81.6,444.8h1.8M85.1,444.8h1.8M94.1,444.8h1.8M108.4,444.8h1.8M119.2,444.8h1.8M133.5,444.8h1.8M160.4,444.8h1.8M20.6,446.0h1.8M45.7,446.0h1.8M58.2,446.0h1.8M108.4,446.0h1.8M130.0,446.0h1.8M138.9,446.0h1.8M144.3,446.0h1.8M162.2,446.0h1.8M43.9,447.2h1.8M99.5,447.2h1.8M122.8,447.2h3.6M153.3,447.2h1.8M156.8,447.2h1.8M160.4,447.2h1.8M24.2,448.4h1.8M65.4,448.4h1.8M69.0,448.4h1.8M76.2,448.4h1.8M95.9,448.4h1.8M99.5,448.4h1.8M128.2,448.4h1.8M165.8,448.4h1.8M24.2,449.6h1.8M27.8,449.6h5.4M34.9,449.6h1.8M40.3,449.6h1.8M52.9,449.6h1.8M78.0,449.6h1.8M81.6,449.6h1.8M108.4,449.6h1.8M115.6,449.6h1.8M128.2,449.6h1.8M158.6,449.6h1.8M95.9,450.8h1.8M135.3,450.8h1.8M81.6,452.0h1.8M103.1,452.0h1.8M160.4,452.0h3.6M20.6,453.2h1.8M97.7,453.2h1.8M112.0,453.2h1.8M130.0,453.2h1.8M140.7,453.2h1.8M162.2,453.2h1.8M185.5,453.2h1.8M108.4,454.4h1.8M112.0,454.4h1.8M119.2,454.4h1.8M162.2,454.4h1.8M167.6,454.4h1.8M20.6,455.6h1.8M31.4,455.6h1.8M43.9,455.6h1.8M63.6,455.6h3.6M95.9,455.6h1.8M124.6,455.6h1.8M140.7,455.6h1.8M162.2,455.6h3.6M22.4,456.8h1.8M38.5,456.8h5.4M74.4,456.8h1.8M78.0,456.8h3.6M86.9,456.8h1.8M106.7,456.8h1.8M124.6,456.8h1.8M147.9,456.8h1.8M155.1,456.8h1.8M20.6,458.0h7.2M29.6,458.0h1.8M36.7,458.0h1.8M51.1,458.0h1.8M54.7,458.0h1.8M74.4,458.0h1.8M90.5,458.0h1.8M130.0,458.0h1.8M24.2,459.2h1.8M34.9,459.2h1.8M54.7,459.2h1.8M69.0,459.2h1.8M112.0,459.2h1.8M24.2,460.4h1.8M58.2,460.4h1.8M65.4,460.4h1.8M108.4,460.4h3.6M119.2,460.4h1.8M130.0,461.6h1.8M133.5,461.6h1.8M29.6,462.8h1.8M33.1,462.8h1.8M60.0,462.8h1.8M81.6,462.8h1.8M97.7,462.8h1.8M22.4,464.0h1.8M38.5,464.0h1.8M43.9,464.0h1.8M49.3,464.0h1.8M60.0,464.0h1.8M63.6,464.0h1.8M81.6,464.0h1.8M108.4,464.0h1.8M144.3,464.0h1.8M42.1,465.2h1.8M49.3,465.2h3.6M58.2,465.2h1.8M61.8,465.2h1.8M92.3,465.2h3.6M110.2,465.2h1.8M128.2,465.2h1.8M137.1,465.2h3.6M144.3,465.2h1.8M33.1,466.4h1.8M40.3,466.4h1.8M63.6,466.4h1.8M108.4,466.4h1.8M112.0,466.4h1.8M124.6,466.4h1.8M138.9,466.4h1.8M20.6,467.6h1.8M33.1,467.6h1.8M61.8,467.6h1.8M65.4,467.6h1.8M74.4,467.6h1.8M108.4,467.6h1.8M117.4,467.6h1.8M126.4,467.6h1.8M140.7,467.6h1.8M173.0,467.6h1.8M20.6,468.8h1.8M52.9,468.8h1.8M60.0,468.8h1.8M104.9,468.8h1.8M113.8,468.8h1.8M119.2,468.8h1.8M144.3,468.8h1.8M155.1,468.8h1.8M158.6,468.8h5.4M173.0,468.8h1.8M29.6,470.0h1.8M51.1,470.0h1.8M56.5,470.0h1.8M74.4,470.0h1.8M94.1,470.0h1.8M128.2,470.0h3.6M155.1,470.0h1.8M158.6,470.0h1.8M20.6,471.2h1.8M36.7,471.2h1.8M69.0,471.2h1.8M85.1,471.2h1.8M121.0,471.2h1.8M130.0,471.2h1.8M20.6,472.4h1.8M31.4,472.4h1.8M83.3,472.4h1.8M95.9,472.4h1.8M112.0,472.4h1.8M121.0,472.4h1.8M131.7,472.4h1.8M138.9,472.4h1.8M164.0,472.4h1.8M205.3,472.4h1.8M216.0,472.4h1.8M47.5,473.6h1.8M70.8,473.6h1.8M86.9,473.6h1.8M92.3,473.6h3.6M99.5,473.6h1.8M162.2,473.6h1.8M22.4,474.8h1.8M33.1,474.8h3.6M126.4,474.8h1.8M144.3,474.8h1.8M158.6,474.8h1.8M165.8,474.8h1.8M183.7,474.8h1.8M36.7,476.0h1.8M49.3,476.0h1.8M60.0,476.0h1.8M90.5,476.0h1.8M103.1,476.0h1.8M124.6,476.0h1.8M135.3,476.0h1.8M144.3,476.0h1.8M160.4,476.0h1.8M24.2,477.2h1.8M74.4,477.2h1.8M81.6,477.2h1.8M117.4,477.2h1.8M131.7,477.2h1.8M169.4,477.2h1.8M216.0,477.2h1.8M20.6,478.4h1.8M40.3,478.4h1.8M60.0,478.4h1.8M63.6,478.4h1.8M70.8,478.4h1.8M85.1,478.4h1.8M90.5,478.4h1.8M110.2,478.4h1.8M173.0,478.4h1.8M208.8,478.4h1.8M58.2,479.6h1.8M95.9,479.6h1.8M137.1,479.6h1.8M164.0,479.6h1.8M187.3,479.6h1.8M190.9,479.6h1.8M198.1,479.6h1.8M29.6,480.8h1.8M83.3,480.8h1.8M115.6,480.8h1.8M119.2,480.8h1.8M155.1,480.8h1.8M198.1,480.8h1.8M36.7,482.0h3.6M90.5,482.0h1.8M112.0,482.0h1.8M173.0,482.0h1.8M192.7,482.0h1.8M198.1,482.0h1.8M34.9,483.2h1.8M51.1,483.2h1.8M137.1,483.2h1.8M162.2,483.2h1.8M24.2,484.4h3.6M52.9,484.4h1.8M61.8,484.4h3.6M74.4,484.4h1.8M79.8,484.4h1.8M85.1,484.4h1.8M90.5,484.4h1.8M121.0,484.4h1.8M133.5,484.4h1.8M147.9,484.4h1.8"/>
<path stroke="#0d2d0d" d="M24.2,312.8h1.8M33.1,312.8h1.8M43.9,312.8h1.8M112.0,312.8h1.8M126.4,312.8h1.8M140.7,312.8h1.8M158.6,312.8h1.8M173.0,312.8h1.8M176.6,312.8h1.8M183.7,312.8h1.8M201.7,312.8h1.8M94.1,314.0h1.8M113.8,314.0h1.8M142.5,314.0h1.8M149.7,314.0h1.8M164.0,314.0h1.8M169.4,314.0h1.8M208.8,314.0h1.8M29.6,315.2h1.8M38.5,315.2h1.8M43.9,315.2h1.8M54.7,315.2h1.8M78.0,315.2h1.8M90.5,315.2h1.8M106.7,315.2h1.8M115.6,315.2h1.8M121.0,315.2h1.8M140.7,315.2h1.8M173.0,315.2h1.8M51.1,316.4h1.8M108.4,316.4h1.8M167.6,316.4h1.8M185.5,316.4h1.8M31.4,317.6h3.6M42.1,317.6h1.8M78.0,317.6h1.8M86.9,317.6h1.8M95.9,317.6h1.8M131.7,317.6h1.8M140.7,317.6h1.8M151.5,317.6h1.8M165.8,317.6h1.8M174.8,317.6h3.6M180.2,317.6h1.8M207.0,317.6h1.8M216.0,317.6h1.8M22.4,318.8h1.8M40.3,318.8h1.8M63.6,318.8h1.8M99.5,318.8h3.6M115.6,318.8h3.6M126.4,318.8h1.8M138.9,318.8h1.8M173.0,318.8h5.4M198.1,318.8h1.8M99.5,320.0h1.8M113.8,320.0h1.8M165.8,320.0h1.8M185.5,320.0h1.8M189.1,320.0h1.8M196.3,320.0h1.8M210.6,320.0h1.8M216.0,320.0h1.8M26.0,321.2h3.6M42.1,321.2h1.8M58.2,321.2h1.8M99.5,321.2h1.8M108.4,321.2h1.8M140.7,321.2h1.8M165.8,321.2h1.8M173.0,321.2h1.8M183.7,321.2h1.8M20.6,322.4h1.8M33.1,322.4h1.8M61.8,322.4h1.8M26.0,323.6h1.8M33.1,323.6h1.8M40.3,323.6h1.8M67.2,323.6h3.6M72.6,323.6h1.8M95.9,323.6h5.4M124.6,323.6h1.8M138.9,323.6h1.8M144.3,323.6h1.8M190.9,323.6h1.8M33.1,324.8h1.8M63.6,324.8h5.4M85.1,324.8h1.8M108.4,324.8h1.8M131.7,324.8h1.8M140.7,324.8h1.8M144.3,324.8h1.8M153.3,324.8h1.8M199.9,324.8h1.8M99.5,326.0h1.8M113.8,326.0h1.8M151.5,326.0h1.8M165.8,326.0h1.8M178.4,326.0h1.8M190.9,326.0h1.8M22.4,327.2h1.8M42.1,327.2h1.8M56.5,327.2h1.8M95.9,327.2h1.8M113.8,327.2h1.8M117.4,327.2h1.8M131.7,327.2h1.8M138.9,327.2h1.8M160.4,327.2h1.8M189.1,327.2h1.8M43.9,328.4h1.8M79.8,328.4h1.8M117.4,328.4h1.8M124.6,328.4h1.8M131.7,328.4h1.8M165.8,328.4h1.8M212.4,328.4h1.8M34.9,329.6h1.8M38.5,329.6h3.6M54.7,329.6h1.8M65.4,329.6h1.8M97.7,329.6h1.8M113.8,329.6h1.8M185.5,329.6h1.8M189.1,329.6h1.8M207.0,329.6h3.6M54.7,330.8h1.8M106.7,330.8h1.8M115.6,330.8h1.8M130.0,330.8h1.8M178.4,330.8h1.8M196.3,330.8h1.8M199.9,330.8h1.8M29.6,332.0h1.8M34.9,332.0h1.8M78.0,332.0h1.8M122.8,332.0h3.6M151.5,332.0h3.6M216.0,332.0h1.8M47.5,333.2h1.8M113.8,333.2h1.8M130.0,333.2h1.8M133.5,333.2h1.8M171.2,333.2h1.8M42.1,334.4h1.8M65.4,334.4h3.6M85.1,334.4h1.8M94.1,334.4h1.8M99.5,334.4h1.8M113.8,334.4h1.8M138.9,334.4h1.8M162.2,334.4h1.8M165.8,334.4h1.8M189.1,334.4h1.8M198.1,334.4h7.2M69.0,335.6h1.8M108.4,335.6h1.8M128.2,335.6h1.8M149.7,335.6h3.6M165.8,335.6h3.6M203.5,335.6h1.8M38.5,336.8h1.8M42.1,336.8h1.8M65.4,336.8h1.8M78.0,336.8h1.8M119.2,336.8h1.8M153.3,336.8h1.8M174.8,336.8h1.8M104.9,338.0h3.6M110.2,338.0h3.6M133.5,338.0h1.8M185.5,338.0h1.8M27.8,339.2h3.6M45.7,339.2h1.8M56.5,339.2h1.8M106.7,339.2h1.8M115.6,339.2h1.8M173.0,339.2h1.8M52.9,340.4h1.8M69.0,340.4h1.8M119.2,340.4h1.8M122.8,340.4h1.8M130.0,340.4h1.8M135.3,340.4h1.8M146.1,340.4h1.8M151.5,340.4h1.8M156.8,340.4h1.8M165.8,340.4h1.8M174.8,340.4h1.8M180.2,340.4h1.8M183.7,340.4h1.8M201.7,340.4h1.8M36.7,341.6h1.8M40.3,341.6h1.8M60.0,341.6h1.8M92.3,341.6h1.8M110.2,341.6h1.8M131.7,341.6h1.8M146.1,341.6h1.8M167.6,341.6h1.8M203.5,341.6h1.8M208.8,341.6h1.8M36.7,342.8h1.8M67.2,342.8h1.8M113.8,342.8h1.8M131.7,342.8h1.8M151.5,342.8h1.8M167.6,342.8h1.8M171.2,342.8h1.8M174.8,342.8h1.8M181.9,342.8h1.8M203.5,342.8h1.8M214.2,342.8h1.8M22.4,344.0h1.8M61.8,344.0h1.8M112.0,344.0h1.8M117.4,344.0h1.8M128.2,344.0h1.8M189.1,344.0h1.8M29.6,345.2h1.8M61.8,345.2h1.8M78.0,345.2h1.8M94.1,345.2h3.6M103.1,345.2h1.8M110.2,345.2h1.8M113.8,345.2h3.6M124.6,345.2h1.8M140.7,345.2h1.8M151.5,345.2h1.8M181.9,345.2h1.8M203.5,345.2h1.8M56.5,346.4h1.8M74.4,346.4h1.8M117.4,346.4h1.8M205.3,346.4h1.8M216.0,346.4h1.8M69.0,347.6h1.8M104.9,347.6h1.8M142.5,347.6h1.8M149.7,347.6h3.6M169.4,347.6h1.8M201.7,347.6h1.8M26.0,348.8h1.8M47.5,348.8h1.8M99.5,348.8h1.8M103.1,348.8h1.8M110.2,348.8h1.8M131.7,348.8h1.8M178.4,348.8h1.8M198.1,348.8h1.8M203.5,348.8h1.8M210.6,348.8h1.8M99.5,350.0h1.8M115.6,350.0h1.8M149.7,350.0h1.8M153.3,350.0h1.8M167.6,350.0h1.8M171.2,350.0h3.6M183.7,350.0h1.8M70.8,351.2h1.8M115.6,351.2h1.8M124.6,351.2h1.8M142.5,351.2h1.8M156.8,351.2h3.6M164.0,351.2h1.8M178.4,351.2h1.8M187.3,351.2h1.8M216.0,351.2h1.8M22.4,352.4h1.8M26.0,352.4h1.8M31.4,352.4h1.8M112.0,352.4h1.8M124.6,352.4h3.6M158.6,352.4h1.8M171.2,352.4h1.8M201.7,352.4h1.8M54.7,353.6h1.8M65.4,353.6h1.8M78.0,353.6h1.8M135.3,353.6h1.8M171.2,353.6h1.8M194.5,353.6h7.2M42.1,354.8h1.8M72.6,354.8h3.6M94.1,354.8h1.8M110.2,354.8h1.8M153.3,354.8h1.8M165.8,354.8h1.8M214.2,354.8h1.8M69.0,356.0h1.8M78.0,356.0h1.8M92.3,356.0h5.4M113.8,356.0h1.8M137.1,356.0h1.8M155.1,356.0h1.8M174.8,356.0h1.8M178.4,356.0h1.8M183.7,356.0h1.8M65.4,357.2h1.8M104.9,357.2h1.8M108.4,357.2h1.8M146.1,357.2h1.8M155.1,357.2h1.8M162.2,357.2h1.8M169.4,357.2h1.8M24.2,358.4h1.8M51.1,358.4h1.8M124.6,358.4h1.8M128.2,358.4h1.8M178.4,358.4h1.8M199.9,358.4h1.8M36.7,359.6h1.8M43.9,359.6h3.6M65.4,359.6h1.8M97.7,359.6h1.8M167.6,359.6h1.8M171.2,359.6h1.8M194.5,359.6h1.8M201.7,359.6h1.8M20.6,360.8h1.8M36.7,360.8h1.8M78.0,360.8h1.8M106.7,360.8h1.8M135.3,360.8h1.8M156.8,360.8h1.8M171.2,360.8h1.8M210.6,360.8h1.8M69.0,362.0h1.8M110.2,362.0h1.8M113.8,362.0h1.8M119.2,362.0h1.8M133.5,362.0h1.8M180.2,362.0h1.8M189.1,362.0h1.8M212.4,362.0h1.8M26.0,363.2h1.8M42.1,363.2h3.6M121.0,363.2h1.8M142.5,363.2h1.8M153.3,363.2h1.8M171.2,363.2h1.8M180.2,363.2h3.6M72.6,364.4h1.8M94.1,364.4h1.8M99.5,364.4h1.8M103.1,364.4h1.8M113.8,364.4h1.8M199.9,364.4h3.6M78.0,365.6h1.8M112.0,365.6h1.8M147.9,365.6h1.8M158.6,365.6h1.8M167.6,365.6h1.8M174.8,365.6h1.8M216.0,365.6h1.8M29.6,366.8h1.8M97.7,366.8h1.8M101.3,366.8h1.8M104.9,366.8h5.4M140.7,366.8h1.8M146.1,366.8h1.8M149.7,366.8h1.8M153.3,366.8h1.8M165.8,366.8h1.8M52.9,368.0h1.8M72.6,368.0h1.8M126.4,368.0h1.8M130.0,368.0h1.8M149.7,368.0h1.8M165.8,368.0h1.8M173.0,368.0h1.8M181.9,368.0h3.6M214.2,368.0h3.6M22.4,369.2h1.8M27.8,369.2h1.8M51.1,369.2h1.8M103.1,369.2h3.6M121.0,369.2h1.8M124.6,369.2h1.8M174.8,369.2h1.8M40.3,370.4h1.8M43.9,370.4h1.8M51.1,370.4h1.8M54.7,370.4h1.8M103.1,370.4h1.8M106.7,370.4h1.8M121.0,370.4h1.8M140.7,370.4h1.8M156.8,370.4h1.8M36.7,371.6h1.8M43.9,371.6h1.8M106.7,371.6h1.8M138.9,371.6h1.8M142.5,371.6h1.8M151.5,371.6h1.8M155.1,371.6h1.8M164.0,371.6h1.8M26.0,372.8h1.8M67.2,372.8h1.8M79.8,372.8h3.6M99.5,372.8h3.6M106.7,372.8h3.6M117.4,372.8h1.8M121.0,372.8h1.8M155.1,372.8h1.8M173.0,372.8h1.8M178.4,372.8h1.8M199.9,372.8h1.8M216.0,372.8h1.8M63.6,374.0h1.8M70.8,374.0h1.8M112.0,374.0h1.8M131.7,374.0h1.8M196.3,374.0h3.6M203.5,374.0h1.8M67.2,375.2h1.8M72.6,375.2h1.8M128.2,375.2h1.8M137.1,375.2h1.8M180.2,375.2h5.4M205.3,375.2h1.8M49.3,376.4h1.8M56.5,376.4h1.8M79.8,376.4h3.6M88.7,376.4h1.8M108.4,376.4h1.8M115.6,376.4h1.8M128.2,376.4h1.8M147.9,376.4h1.8M158.6,376.4h1.8M167.6,376.4h1.8M173.0,376.4h1.8M203.5,376.4h5.4M47.5,377.6h1.8M69.0,377.6h1.8M79.8,377.6h3.6M142.5,377.6h1.8M147.9,377.6h1.8M167.6,377.6h1.8M174.8,377.6h1.8M183.7,377.6h1.8M207.0,377.6h1.8M20.6,378.8h1.8M60.0,378.8h1.8M79.8,378.8h1.8M155.1,378.8h1.8M189.1,378.8h3.6M31.4,380.0h1.8M49.3,380.0h1.8M52.9,380.0h3.6M90.5,380.0h1.8M97.7,380.0h1.8M101.3,380.0h1.8M147.9,380.0h1.8M162.2,380.0h1.8M167.6,380.0h1.8M185.5,380.0h1.8M196.3,380.0h1.8M201.7,380.0h1.8M212.4,380.0h1.8M40.3,381.2h1.8M147.9,381.2h3.6M178.4,381.2h1.8M187.3,381.2h5.4M210.6,381.2h1.8M34.9,382.4h3.6M117.4,382.4h3.6M147.9,382.4h5.4M174.8,382.4h1.8M178.4,382.4h1.8M185.5,382.4h1.8M29.6,383.6h1.8M42.1,383.6h3.6M54.7,383.6h1.8M61.8,383.6h3.6M78.0,383.6h1.8M101.3,383.6h1.8M115.6,383.6h1.8M130.0,383.6h1.8M144.3,383.6h1.8M149.7,383.6h1.8M176.6,383.6h1.8M201.7,383.6h1.8M26.0,384.8h1.8M38.5,384.8h1.8M47.5,384.8h1.8M61.8,384.8h1.8M97.7,384.8h1.8M171.2,384.8h1.8M198.1,384.8h1.8M210.6,384.8h1.8M26.0,386.0h1.8M34.9,386.0h1.8M47.5,386.0h1.8M69.0,386.0h1.8M92.3,386.0h1.8M106.7,386.0h1.8M181.9,386.0h1.8M40.3,387.2h1.8M63.6,387.2h3.6M76.2,387.2h1.8M94.1,387.2h1.8M164.0,387.2h1.8M176.6,387.2h1.8M196.3,387.2h1.8M216.0,387.2h1.8M85.1,388.4h1.8M176.6,388.4h1.8M22.4,389.6h1.8M49.3,389.6h1.8M63.6,389.6h1.8M67.2,389.6h1.8M94.1,389.6h1.8M113.8,389.6h1.8M128.2,389.6h1.8M153.3,389.6h1.8M160.4,389.6h1.8M165.8,389.6h1.8M171.2,389.6h1.8M180.2,389.6h1.8M183.7,389.6h1.8M203.5,389.6h1.8M26.0,390.8h1.8M49.3,390.8h1.8M60.0,390.8h1.8M67.2,390.8h1.8M112.0,390.8h1.8M135.3,390.8h1.8M146.1,390.8h1.8M153.3,390.8h1.8M178.4,390.8h1.8M201.7,390.8h1.8M22.4,392.0h3.6M34.9,392.0h1.8M63.6,392.0h3.6M78.0,392.0h1.8M146.1,392.0h1.8M149.7,392.0h1.8M176.6,392.0h1.8M205.3,392.0h1.8M56.5,393.2h1.8M85.1,393.2h1.8M88.7,393.2h1.8M147.9,393.2h1.8M189.1,393.2h1.8M207.0,393.2h1.8M20.6,394.4h3.6M83.3,394.4h1.8M88.7,394.4h1.8M92.3,394.4h1.8M128.2,394.4h1.8M138.9,394.4h1.8M156.8,394.4h1.8M165.8,394.4h1.8M201.7,394.4h1.8M33.1,395.6h1.8M38.5,395.6h1.8M51.1,395.6h1.8M74.4,395.6h1.8M144.3,395.6h1.8M156.8,395.6h1.8M169.4,395.6h1.8M180.2,395.6h1.8M189.1,395.6h3.6M199.9,395.6h1.8M33.1,396.8h1.8M42.1,396.8h1.8M60.0,396.8h1.8M69.0,396.8h1.8M78.0,396.8h3.6M94.1,396.8h1.8M99.5,396.8h1.8M121.0,396.8h1.8M133.5,396.8h3.6M142.5,396.8h1.8M146.1,396.8h1.8M158.6,396.8h1.8M173.0,396.8h1.8M185.5,396.8h3.6M198.1,396.8h1.8M95.9,398.0h1.8M99.5,398.0h1.8M121.0,398.0h1.8M147.9,398.0h1.8M189.1,398.0h1.8M33.1,399.2h1.8M63.6,399.2h3.6M187.3,399.2h1.8M199.9,399.2h1.8M24.2,400.4h3.6M29.6,400.4h1.8M38.5,400.4h1.8M85.1,400.4h1.8M97.7,400.4h1.8M164.0,400.4h1.8M171.2,400.4h3.6M180.2,400.4h1.8M183.7,400.4h1.8M31.4,401.6h1.8M78.0,401.6h1.8M85.1,401.6h1.8M104.9,401.6h1.8M162.2,401.6h3.6M20.6,402.8h1.8M29.6,402.8h1.8M79.8,402.8h1.8M95.9,402.8h1.8M113.8,402.8h1.8M119.2,402.8h1.8M164.0,402.8h1.8M180.2,402.8h3.6M198.1,402.8h1.8M33.1,404.0h3.6M94.1,404.0h1.8M101.3,404.0h3.6M140.7,404.0h1.8M167.6,404.0h3.6M212.4,404.0h1.8M22.4,405.2h1.8M162.2,405.2h3.6M189.1,405.2h1.8M38.5,406.4h1.8M43.9,406.4h1.8M54.7,406.4h1.8M119.2,406.4h1.8M122.8,406.4h1.8M140.7,406.4h1.8M190.9,406.4h1.8M199.9,406.4h1.8M22.4,407.6h1.8M27.8,407.6h1.8M167.6,407.6h1.8M171.2,407.6h1.8M181.9,407.6h1.8M29.6,408.8h1.8M52.9,408.8h1.8M78.0,408.8h1.8M138.9,408.8h1.8M210.6,408.8h1.8M22.4,410.0h1.8M36.7,410.0h1.8M45.7,410.0h1.8M85.1,410.0h1.8M97.7,410.0h1.8M121.0,410.0h3.6M138.9,410.0h1.8M174.8,410.0h1.8M185.5,410.0h1.8M190.9,410.0h1.8M194.5,410.0h1.8M29.6,411.2h1.8M81.6,411.2h1.8M85.1,411.2h1.8M115.6,411.2h3.6M131.7,411.2h1.8M138.9,411.2h1.8M181.9,411.2h1.8M189.1,411.2h1.8M205.3,411.2h1.8M208.8,411.2h1.8M22.4,412.4h3.6M27.8,412.4h1.8M42.1,412.4h1.8M45.7,412.4h1.8M52.9,412.4h1.8M65.4,412.4h3.6M72.6,412.4h1.8M99.5,412.4h1.8M128.2,412.4h3.6M153.3,412.4h1.8M196.3,412.4h1.8M205.3,412.4h1.8M40.3,413.6h1.8M88.7,413.6h1.8M99.5,413.6h1.8M104.9,413.6h1.8M126.4,413.6h1.8M146.1,413.6h1.8M156.8,413.6h1.8M171.2,413.6h1.8M178.4,413.6h1.8M210.6,413.6h1.8M216.0,413.6h1.8M31.4,414.8h1.8M51.1,414.8h1.8M67.2,414.8h1.8M81.6,414.8h1.8M101.3,414.8h1.8M108.4,414.8h3.6M119.2,414.8h3.6M130.0,414.8h1.8M142.5,414.8h1.8M147.9,414.8h1.8M76.2,416.0h1.8M119.2,416.0h1.8M153.3,416.0h1.8M156.8,416.0h1.8M24.2,417.2h1.8M51.1,417.2h1.8M65.4,417.2h1.8M85.1,417.2h1.8M140.7,417.2h3.6M162.2,417.2h1.8M40.3,418.4h1.8M47.5,418.4h1.8M88.7,418.4h1.8M199.9,418.4h1.8M76.2,419.6h1.8M108.4,419.6h1.8M121.0,419.6h1.8M36.7,420.8h1.8M67.2,420.8h1.8M78.0,420.8h1.8M81.6,420.8h1.8M169.4,420.8h1.8M181.9,420.8h1.8M47.5,422.0h1.8M61.8,422.0h1.8M79.8,422.0h1.8M104.9,422.0h1.8M113.8,422.0h1.8M117.4,422.0h1.8M147.9,422.0h1.8M40.3,423.2h1.8M61.8,423.2h3.6M92.3,423.2h1.8M115.6,423.2h1.8M121.0,423.2h1.8M131.7,423.2h1.8M137.1,423.2h3.6M174.8,423.2h1.8M203.5,423.2h1.8M34.9,424.4h1.8M63.6,424.4h1.8M70.8,424.4h1.8M79.8,424.4h1.8M85.1,424.4h1.8M104.9,424.4h1.8M130.0,424.4h5.4M138.9,424.4h1.8M20.6,425.6h1.8M24.2,425.6h1.8M45.7,425.6h1.8M79.8,425.6h1.8M85.1,425.6h1.8M128.2,425.6h1.8M131.7,425.6h1.8M137.1,425.6h1.8M142.5,425.6h1.8M38.5,426.8h1.8M42.1,426.8h1.8M67.2,426.8h1.8M74.4,426.8h1.8M85.1,426.8h1.8M97.7,426.8h1.8M36.7,428.0h3.6M85.1,428.0h1.8M90.5,428.0h1.8M138.9,428.0h1.8M146.1,428.0h1.8M189.1,428.0h1.8M40.3,429.2h1.8M58.2,429.2h1.8M81.6,429.2h1.8M95.9,429.2h1.8M104.9,429.2h3.6M137.1,429.2h1.8M81.6,430.4h1.8M104.9,430.4h1.8M133.5,430.4h1.8M115.6,431.6h1.8M119.2,431.6h1.8M131.7,431.6h1.8M135.3,431.6h1.8M144.3,431.6h1.8M156.8,431.6h1.8M45.7,432.8h3.6M76.2,432.8h1.8M88.7,432.8h1.8M194.5,432.8h1.8M210.6,432.8h1.8M34.9,434.0h1.8M60.0,434.0h1.8M67.2,434.0h1.8M78.0,434.0h5.4M90.5,434.0h1.8M160.4,434.0h1.8M207.0,434.0h1.8M26.0,435.2h1.8M43.9,435.2h1.8M47.5,435.2h1.8M54.7,435.2h3.6M60.0,435.2h1.8M74.4,435.2h1.8M85.1,435.2h1.8M90.5,435.2h1.8M95.9,435.2h1.8M117.4,435.2h3.6M20.6,436.4h1.8M31.4,436.4h1.8M61.8,436.4h1.8M65.4,436.4h1.8M85.1,436.4h1.8M92.3,436.4h1.8M106.7,436.4h1.8M110.2,436.4h1.8M137.1,436.4h1.8M147.9,436.4h1.8M162.2,436.4h1.8M167.6,436.4h3.6M40.3,437.6h1.8M47.5,437.6h1.8M51.1,437.6h1.8M65.4,437.6h1.8M95.9,437.6h1.8M128.2,437.6h1.8M149.7,437.6h1.8M155.1,437.6h1.8M52.9,438.8h1.8M78.0,438.8h1.8M83.3,438.8h1.8M86.9,438.8h1.8M95.9,438.8h1.8M128.2,438.8h1.8M146.1,438.8h1.8M169.4,438.8h1.8M65.4,440.0h1.8M104.9,440.0h1.8M138.9,440.0h1.8M142.5,440.0h1.8M149.7,440.0h1.8M199.9,440.0h1.8M29.6,441.2h1.8M56.5,441.2h1.8M69.0,441.2h1.8M86.9,441.2h3.6M92.3,441.2h1.8M113.8,441.2h1.8M146.1,441.2h1.8M196.3,441.2h1.8M199.9,441.2h1.8M29.6,442.4h1.8M58.2,442.4h1.8M61.8,442.4h1.8M79.8,442.4h1.8M97.7,442.4h1.8M110.2,442.4h1.8M131.7,442.4h1.8M142.5,442.4h1.8M153.3,442.4h3.6M187.3,442.4h1.8M24.2,443.6h3.6M34.9,443.6h1.8M52.9,443.6h1.8M83.3,443.6h1.8M86.9,443.6h1.8M92.3,443.6h1.8M106.7,443.6h1.8M110.2,443.6h5.4M119.2,443.6h1.8M142.5,443.6h1.8M160.4,443.6h1.8M70.8,444.8h1.8M95.9,444.8h1.8M131.7,444.8h1.8M164.0,444.8h1.8M42.1,446.0h1.8M85.1,446.0h1.8M113.8,446.0h1.8M135.3,446.0h1.8M208.8,446.0h1.8M65.4,447.2h1.8M69.0,447.2h1.8M86.9,447.2h1.8M108.4,447.2h1.8M115.6,447.2h1.8M131.7,447.2h1.8M155.1,447.2h1.8M162.2,447.2h1.8M198.1,447.2h1.8M36.7,448.4h1.8M56.5,448.4h1.8M86.9,448.4h1.8M90.5,448.4h1.8M130.0,448.4h1.8M135.3,448.4h1.8M162.2,448.4h1.8M169.4,448.4h1.8M20.6,449.6h1.8M26.0,449.6h1.8M36.7,449.6h1.8M60.0,449.6h1.8M67.2,449.6h1.8M74.4,449.6h1.8M95.9,449.6h1.8M103.1,449.6h1.8M149.7,449.6h1.8M174.8,449.6h1.8M194.5,449.6h1.8M214.2,449.6h1.8M42.1,450.8h1.8M58.2,450.8h1.8M72.6,450.8h1.8M104.9,450.8h1.8M121.0,450.8h1.8M140.7,450.8h1.8M146.1,450.8h1.8M149.7,450.8h1.8M47.5,452.0h1.8M52.9,452.0h1.8M58.2,452.0h1.8M65.4,452.0h1.8M78.0,452.0h3.6M110.2,453.2h1.8M122.8,453.2h1.8M131.7,453.2h1.8M142.5,453.2h1.8M149.7,453.2h1.8M165.8,453.2h3.6M26.0,454.4h1.8M74.4,454.4h1.8M78.0,454.4h1.8M92.3,454.4h1.8M131.7,454.4h1.8M138.9,454.4h1.8M165.8,454.4h1.8M203.5,454.4h1.8M22.4,455.6h1.8M27.8,455.6h1.8M34.9,455.6h1.8M79.8,455.6h1.8M90.5,455.6h1.8M110.2,455.6h1.8M138.9,455.6h1.8M70.8,456.8h1.8M76.2,456.8h1.8M88.7,456.8h1.8M117.4,456.8h1.8M126.4,456.8h1.8M131.7,456.8h1.8M158.6,456.8h1.8M196.3,456.8h1.8M49.3,458.0h1.8M60.0,458.0h1.8M76.2,458.0h1.8M86.9,458.0h1.8M122.8,458.0h1.8M165.8,458.0h1.8M103.1,459.2h1.8M131.7,459.2h1.8M162.2,459.2h3.6M40.3,460.4h3.6M56.5,460.4h1.8M103.1,460.4h1.8M155.1,460.4h1.8M162.2,460.4h1.8M36.7,461.6h1.8M45.7,461.6h1.8M60.0,461.6h1.8M92.3,461.6h1.8M99.5,461.6h1.8M124.6,461.6h1.8M146.1,461.6h1.8M49.3,462.8h1.8M90.5,462.8h1.8M117.4,462.8h1.8M121.0,462.8h1.8M24.2,464.0h1.8M51.1,464.0h1.8M74.4,464.0h1.8M78.0,464.0h1.8M85.1,464.0h1.8M90.5,464.0h1.8M94.1,464.0h1.8M104.9,464.0h1.8M24.2,465.2h1.8M43.9,465.2h1.8M56.5,465.2h1.8M69.0,465.2h1.8M95.9,465.2h1.8M117.4,465.2h3.6M133.5,465.2h1.8M156.8,465.2h1.8M36.7,466.4h1.8M45.7,466.4h1.8M76.2,466.4h3.6M86.9,466.4h1.8M106.7,466.4h1.8M131.7,466.4h1.8M140.7,466.4h3.6M147.9,466.4h1.8M164.0,466.4h1.8M24.2,467.6h1.8M56.5,467.6h1.8M76.2,467.6h3.6M112.0,467.6h1.8M115.6,467.6h1.8M121.0,467.6h1.8M130.0,467.6h3.6M58.2,468.8h1.8M212.4,468.8h1.8M52.9,470.0h1.8M72.6,470.0h1.8M86.9,470.0h1.8M104.9,470.0h1.8M108.4,470.0h1.8M117.4,470.0h1.8M121.0,470.0h1.8M137.1,470.0h3.6M189.1,470.0h1.8M45.7,471.2h1.8M56.5,471.2h1.8M112.0,471.2h1.8M128.2,471.2h1.8M146.1,471.2h3.6M153.3,471.2h3.6M189.1,471.2h1.8M208.8,471.2h1.8M26.0,472.4h1.8M49.3,472.4h3.6M63.6,472.4h1.8M70.8,472.4h1.8M119.2,472.4h1.8M153.3,472.4h1.8M167.6,472.4h1.8M174.8,472.4h1.8M20.6,473.6h1.8M78.0,473.6h1.8M90.5,473.6h1.8M97.7,473.6h1.8M131.7,473.6h1.8M137.1,473.6h1.8M70.8,474.8h3.6M79.8,474.8h1.8M124.6,474.8h1.8M140.7,474.8h1.8M160.4,474.8h1.8M207.0,474.8h1.8M47.5,476.0h1.8M65.4,476.0h1.8M69.0,476.0h1.8M92.3,476.0h1.8M108.4,476.0h1.8M112.0,476.0h1.8M121.0,476.0h1.8M128.2,476.0h1.8M142.5,476.0h1.8M174.8,476.0h1.8M63.6,477.2h1.8M106.7,477.2h1.8M110.2,477.2h1.8M124.6,477.2h1.8M135.3,477.2h1.8M151.5,477.2h1.8M160.4,477.2h1.8M180.2,477.2h1.8M26.0,478.4h1.8M31.4,478.4h1.8M56.5,478.4h1.8M72.6,478.4h3.6M94.1,478.4h1.8M106.7,478.4h1.8M124.6,478.4h1.8M130.0,478.4h1.8M135.3,478.4h1.8M147.9,478.4h1.8M183.7,478.4h1.8M20.6,479.6h1.8M86.9,479.6h1.8M103.1,479.6h1.8M106.7,479.6h1.8M115.6,479.6h3.6M124.6,479.6h1.8M130.0,479.6h3.6M142.5,479.6h1.8M208.8,479.6h1.8M81.6,480.8h1.8M92.3,480.8h1.8M117.4,480.8h1.8M121.0,480.8h1.8M142.5,480.8h3.6M149.7,480.8h1.8M167.6,480.8h1.8M173.0,480.8h1.8M194.5,480.8h1.8M199.9,480.8h1.8M49.3,482.0h1.8M86.9,482.0h1.8M99.5,482.0h1.8M104.9,482.0h1.8M110.2,482.0h1.8M156.8,482.0h1.8M164.0,482.0h1.8M185.5,482.0h1.8M194.5,482.0h1.8M199.9,482.0h1.8M24.2,483.2h1.8M40.3,483.2h1.8M45.7,483.2h1.8M58.2,483.2h1.8M63.6,483.2h1.8M67.2,483.2h1.8M70.8,483.2h3.6M79.8,483.2h1.8M85.1,483.2h1.8M97.7,483.2h1.8M103.1,483.2h1.8M131.7,483.2h1.8M135.3,483.2h1.8M140.7,483.2h1.8M156.8,483.2h1.8M160.4,483.2h1.8M194.5,483.2h1.8M20.6,484.4h1.8M45.7,484.4h1.8M67.2,484.4h1.8M70.8,484.4h1.8M104.9,484.4h1.8M156.8,484.4h1.8M160.4,484.4h1.8M183.7,484.4h1.8M205.3,484.4h1.8M208.8,484.4h1.8"/>
<path stroke="#0a1e0a" d="M67.2,312.8h1.8M79.8,312.8h1.8M113.8,312.8h1.8M124.6,312.8h1.8M137.1,312.8h1.8M207.0,312.8h1.8M216.0,312.8h1.8M26.0,314.0h1.8M31.4,314.0h1.8M38.5,314.0h1.8M72.6,314.0h1.8M103.1,314.0h1.8M171.2,314.0h1.8M181.9,314.0h1.8M216.0,314.0h1.8M74.4,315.2h1.8M85.1,315.2h1.8M117.4,315.2h3.6M156.8,315.2h1.8M167.6,315.2h1.8M180.2,315.2h1.8M201.7,315.2h1.8M78.0,316.4h1.8M104.9,316.4h1.8M121.0,316.4h1.8M130.0,316.4h1.8M138.9,316.4h1.8M149.7,316.4h3.6M181.9,316.4h1.8M189.1,316.4h1.8M194.5,316.4h1.8M203.5,316.4h1.8M210.6,316.4h3.6M38.5,317.6h1.8M51.1,317.6h1.8M76.2,317.6h1.8M81.6,317.6h1.8M106.7,317.6h1.8M113.8,317.6h1.8M133.5,317.6h1.8M173.0,317.6h1.8M196.3,317.6h1.8M31.4,318.8h1.8M38.5,318.8h1.8M67.2,318.8h3.6M160.4,318.8h1.8M194.5,318.8h1.8M54.7,320.0h1.8M60.0,320.0h1.8M63.6,320.0h1.8M117.4,320.0h1.8M146.1,320.0h1.8M162.2,320.0h1.8M167.6,320.0h1.8M194.5,320.0h1.8M24.2,321.2h1.8M54.7,321.2h1.8M60.0,321.2h3.6M69.0,321.2h1.8M78.0,321.2h1.8M103.1,321.2h1.8M135.3,321.2h1.8M142.5,321.2h1.8M151.5,321.2h1.8M189.1,321.2h1.8M216.0,321.2h1.8M29.6,322.4h1.8M36.7,322.4h1.8M42.1,322.4h1.8M69.0,322.4h1.8M72.6,322.4h1.8M83.3,322.4h1.8M90.5,322.4h1.8M137.1,322.4h1.8M155.1,322.4h1.8M199.9,322.4h1.8M43.9,323.6h1.8M92.3,323.6h1.8M126.4,323.6h1.8M160.4,323.6h1.8M187.3,323.6h1.8M31.4,324.8h1.8M34.9,324.8h1.8M43.9,324.8h1.8M54.7,324.8h1.8M110.2,324.8h1.8M142.5,324.8h1.8M216.0,324.8h1.8M51.1,326.0h1.8M131.7,326.0h1.8M171.2,326.0h1.8M176.6,326.0h1.8M199.9,326.0h1.8M43.9,327.2h1.8M115.6,327.2h1.8M126.4,327.2h1.8M142.5,327.2h1.8M29.6,328.4h1.8M76.2,328.4h1.8M138.9,328.4h1.8M171.2,328.4h3.6M176.6,328.4h1.8M199.9,328.4h1.8M210.6,328.4h1.8M36.7,329.6h1.8M106.7,329.6h3.6M112.0,329.6h1.8M115.6,329.6h1.8M124.6,329.6h1.8M133.5,329.6h3.6M142.5,329.6h1.8M178.4,329.6h1.8M196.3,329.6h1.8M210.6,329.6h3.6M65.4,330.8h1.8M124.6,330.8h1.8M144.3,330.8h1.8M164.0,330.8h1.8M167.6,330.8h1.8M189.1,330.8h1.8M198.1,330.8h1.8M169.4,332.0h1.8M26.0,333.2h1.8M36.7,333.2h1.8M42.1,333.2h1.8M83.3,333.2h1.8M97.7,333.2h1.8M115.6,333.2h1.8M121.0,333.2h3.6M190.9,333.2h1.8M208.8,333.2h1.8M70.8,334.4h3.6M106.7,334.4h1.8M110.2,334.4h1.8M126.4,334.4h1.8M144.3,334.4h1.8M151.5,334.4h1.8M160.4,334.4h1.8M164.0,334.4h1.8M173.0,334.4h3.6M180.2,334.4h1.8M24.2,335.6h1.8M42.1,335.6h3.6M67.2,335.6h1.8M169.4,335.6h1.8M180.2,335.6h1.8M201.7,335.6h1.8M205.3,335.6h1.8M212.4,335.6h1.8M29.6,336.8h1.8M47.5,336.8h1.8M52.9,336.8h1.8M72.6,336.8h1.8M81.6,336.8h1.8M99.5,336.8h1.8M106.7,336.8h1.8M110.2,336.8h3.6M117.4,336.8h1.8M128.2,336.8h1.8M137.1,336.8h1.8M146.1,336.8h1.8M189.1,336.8h1.8M199.9,336.8h1.8M203.5,336.8h1.8M33.1,338.0h1.8M60.0,338.0h1.8M72.6,338.0h1.8M115.6,338.0h1.8M131.7,338.0h1.8M144.3,338.0h1.8M165.8,338.0h1.8M176.6,338.0h1.8M214.2,338.0h1.8M20.6,339.2h1.8M67.2,339.2h3.6M79.8,339.2h1.8M104.9,339.2h1.8M113.8,339.2h1.8M117.4,339.2h1.8M160.4,339.2h1.8M194.5,339.2h1.8M27.8,340.4h1.8M33.1,340.4h1.8M70.8,340.4h1.8M104.9,340.4h1.8M112.0,340.4h1.8M131.7,340.4h1.8M149.7,340.4h1.8M153.3,340.4h1.8M173.0,340.4h1.8M185.5,340.4h1.8M189.1,340.4h1.8M207.0,340.4h1.8M34.9,341.6h1.8M47.5,341.6h1.8M56.5,341.6h1.8M63.6,341.6h1.8M81.6,341.6h1.8M85.1,341.6h1.8M106.7,341.6h1.8M126.4,341.6h1.8M133.5,341.6h1.8M137.1,341.6h1.8M180.2,341.6h1.8M22.4,342.8h1.8M54.7,342.8h1.8M72.6,342.8h1.8M173.0,342.8h1.8M216.0,342.8h1.8M60.0,344.0h1.8M70.8,344.0h1.8M130.0,344.0h1.8M156.8,344.0h1.8M176.6,344.0h1.8M180.2,344.0h1.8M199.9,344.0h1.8M34.9,345.2h1.8M54.7,345.2h1.8M97.7,345.2h1.8M130.0,345.2h1.8M155.1,345.2h1.8M180.2,345.2h1.8M51.1,346.4h1.8M83.3,346.4h3.6M108.4,346.4h1.8M151.5,346.4h1.8M190.9,346.4h1.8M196.3,346.4h1.8M201.7,346.4h1.8M212.4,346.4h1.8M20.6,347.6h1.8M27.8,347.6h1.8M31.4,347.6h3.6M43.9,347.6h1.8M81.6,347.6h3.6M158.6,347.6h1.8M164.0,347.6h1.8M198.1,347.6h1.8M212.4,347.6h1.8M33.1,348.8h1.8M85.1,348.8h1.8M106.7,348.8h1.8M113.8,348.8h1.8M122.8,348.8h3.6M189.1,348.8h1.8M65.4,350.0h1.8M83.3,350.0h3.6M101.3,350.0h1.8M124.6,350.0h1.8M185.5,350.0h3.6M20.6,351.2h1.8M72.6,351.2h3.6M94.1,351.2h1.8M97.7,351.2h1.8M122.8,351.2h1.8M137.1,351.2h1.8M174.8,351.2h1.8M183.7,351.2h1.8M199.9,351.2h1.8M203.5,351.2h3.6M67.2,352.4h1.8M83.3,352.4h1.8M110.2,352.4h1.8M115.6,352.4h1.8M122.8,352.4h1.8M142.5,352.4h1.8M169.4,352.4h1.8M178.4,352.4h1.8M203.5,352.4h1.8M85.1,353.6h1.8M97.7,353.6h1.8M110.2,353.6h3.6M165.8,353.6h1.8M190.9,353.6h1.8M207.0,353.6h1.8M33.1,354.8h3.6M78.0,354.8h5.4M124.6,354.8h1.8M138.9,354.8h1.8M174.8,354.8h1.8M210.6,354.8h1.8M45.7,356.0h1.8M52.9,356.0h1.8M60.0,356.0h1.8M81.6,356.0h1.8M104.9,356.0h1.8M133.5,356.0h1.8M142.5,356.0h1.8M169.4,356.0h1.8M190.9,356.0h1.8M203.5,356.0h1.8M31.4,357.2h1.8M42.1,357.2h1.8M60.0,357.2h1.8M94.1,357.2h1.8M106.7,357.2h1.8M124.6,357.2h3.6M133.5,357.2h1.8M156.8,357.2h1.8M178.4,357.2h1.8M208.8,357.2h1.8M140.7,358.4h1.8M183.7,358.4h1.8M205.3,358.4h3.6M34.9,359.6h1.8M78.0,359.6h3.6M113.8,359.6h3.6M173.0,359.6h1.8M178.4,359.6h3.6M187.3,359.6h3.6M38.5,360.8h1.8M54.7,360.8h1.8M113.8,360.8h1.8M137.1,360.8h1.8M149.7,360.8h1.8M165.8,360.8h1.8M181.9,360.8h1.8M189.1,360.8h1.8M194.5,360.8h1.8M201.7,360.8h1.8M56.5,362.0h1.8M81.6,362.0h1.8M95.9,362.0h1.8M121.0,362.0h1.8M176.6,362.0h3.6M194.5,362.0h3.6M216.0,362.0h1.8M24.2,363.2h1.8M33.1,363.2h1.8M38.5,363.2h1.8M54.7,363.2h1.8M106.7,363.2h1.8M137.1,363.2h1.8M169.4,363.2h1.8M104.9,364.4h1.8M115.6,364.4h1.8M135.3,364.4h1.8M138.9,364.4h1.8M156.8,364.4h1.8M173.0,364.4h1.8M29.6,365.6h1.8M51.1,365.6h1.8M60.0,365.6h1.8M69.0,365.6h1.8M97.7,365.6h1.8M115.6,365.6h1.8M160.4,365.6h1.8M20.6,366.8h3.6M33.1,366.8h1.8M40.3,366.8h1.8M151.5,366.8h1.8M174.8,366.8h1.8M34.9,368.0h1.8M54.7,368.0h1.8M69.0,368.0h3.6M110.2,368.0h1.8M121.0,368.0h1.8M131.7,368.0h1.8M167.6,368.0h1.8M203.5,368.0h1.8M26.0,369.2h1.8M110.2,369.2h3.6M117.4,369.2h1.8M128.2,369.2h1.8M149.7,369.2h1.8M207.0,369.2h1.8M78.0,370.4h1.8M115.6,370.4h1.8M137.1,370.4h3.6M146.1,370.4h1.8M187.3,370.4h1.8M205.3,370.4h1.8M29.6,371.6h1.8M69.0,371.6h1.8M119.2,371.6h1.8M144.3,371.6h1.8M147.9,371.6h1.8M160.4,371.6h1.8M214.2,371.6h1.8M65.4,372.8h1.8M78.0,372.8h1.8M97.7,372.8h1.8M103.1,372.8h1.8M128.2,372.8h1.8M160.4,372.8h1.8M167.6,372.8h1.8M205.3,372.8h3.6M40.3,374.0h1.8M61.8,374.0h1.8M65.4,374.0h3.6M126.4,374.0h1.8M133.5,374.0h1.8M180.2,374.0h1.8M183.7,374.0h1.8M190.9,374.0h1.8M207.0,374.0h1.8M47.5,375.2h1.8M74.4,375.2h1.8M101.3,375.2h1.8M108.4,375.2h1.8M126.4,375.2h1.8M142.5,375.2h1.8M146.1,375.2h1.8M155.1,375.2h1.8M160.4,375.2h1.8M169.4,375.2h3.6M178.4,375.2h1.8M187.3,375.2h1.8M216.0,375.2h1.8M52.9,376.4h1.8M63.6,376.4h1.8M74.4,376.4h1.8M110.2,376.4h1.8M146.1,376.4h1.8M164.0,376.4h1.8M171.2,376.4h1.8M183.7,376.4h1.8M194.5,376.4h1.8M198.1,376.4h1.8M26.0,377.6h1.8M34.9,377.6h5.4M63.6,377.6h1.8M83.3,377.6h1.8M106.7,377.6h1.8M117.4,377.6h1.8M140.7,377.6h1.8M149.7,377.6h1.8M180.2,377.6h3.6M190.9,377.6h1.8M214.2,377.6h1.8M36.7,378.8h1.8M67.2,378.8h1.8M83.3,378.8h1.8M101.3,378.8h1.8M181.9,378.8h3.6M208.8,378.8h1.8M212.4,378.8h1.8M65.4,380.0h1.8M72.6,380.0h5.4M92.3,380.0h1.8M99.5,380.0h1.8M194.5,380.0h1.8M210.6,380.0h1.8M22.4,381.2h1.8M34.9,381.2h3.6M43.9,381.2h1.8M142.5,381.2h1.8M151.5,381.2h1.8M173.0,381.2h3.6M43.9,382.4h1.8M76.2,382.4h1.8M81.6,382.4h1.8M90.5,382.4h1.8M160.4,382.4h1.8M169.4,382.4h1.8M189.1,382.4h3.6M205.3,382.4h7.2M70.8,383.6h1.8M74.4,383.6h1.8M124.6,383.6h1.8M142.5,383.6h1.8M164.0,383.6h1.8M216.0,383.6h1.8M36.7,384.8h1.8M49.3,384.8h1.8M60.0,384.8h1.8M63.6,384.8h1.8M81.6,384.8h1.8M90.5,384.8h1.8M108.4,384.8h1.8M137.1,384.8h1.8M169.4,384.8h1.8M33.1,386.0h1.8M36.7,386.0h1.8M40.3,386.0h1.8M70.8,386.0h1.8M74.4,386.0h1.8M85.1,386.0h1.8M124.6,386.0h1.8M135.3,386.0h1.8M171.2,386.0h1.8M180.2,386.0h1.8M183.7,386.0h1.8M190.9,386.0h1.8M20.6,387.2h1.8M26.0,387.2h1.8M67.2,387.2h1.8M90.5,387.2h1.8M99.5,387.2h1.8M103.1,387.2h1.8M121.0,387.2h1.8M130.0,387.2h1.8M146.1,387.2h1.8M160.4,387.2h1.8M167.6,387.2h1.8M187.3,387.2h1.8M207.0,387.2h1.8M24.2,388.4h1.8M174.8,388.4h1.8M190.9,388.4h1.8M201.7,388.4h1.8M212.4,388.4h1.8M31.4,389.6h1.8M38.5,389.6h1.8M79.8,389.6h1.8M92.3,389.6h1.8M112.0,389.6h1.8M138.9,389.6h1.8M29.6,390.8h1.8M40.3,390.8h1.8M54.7,390.8h1.8M72.6,390.8h1.8M78.0,390.8h1.8M155.1,390.8h1.8M165.8,390.8h1.8M173.0,390.8h1.8M196.3,390.8h1.8M20.6,392.0h1.8M27.8,392.0h1.8M40.3,392.0h1.8M47.5,392.0h3.6M79.8,392.0h1.8M85.1,392.0h1.8M97.7,392.0h1.8M142.5,392.0h1.8M155.1,392.0h1.8M158.6,392.0h3.6M201.7,392.0h1.8M24.2,393.2h1.8M43.9,393.2h1.8M74.4,393.2h1.8M117.4,393.2h1.8M146.1,393.2h1.8M149.7,393.2h1.8M156.8,393.2h3.6M167.6,393.2h1.8M180.2,393.2h1.8M205.3,393.2h1.8M24.2,394.4h1.8M43.9,394.4h1.8M60.0,394.4h1.8M130.0,394.4h1.8M183.7,394.4h1.8M190.9,394.4h1.8M205.3,394.4h3.6M36.7,395.6h1.8M42.1,395.6h1.8M69.0,395.6h1.8M72.6,395.6h1.8M78.0,395.6h1.8M85.1,395.6h1.8M126.4,395.6h1.8M130.0,395.6h1.8M140.7,395.6h1.8M158.6,395.6h1.8M162.2,395.6h1.8M171.2,395.6h1.8M192.7,395.6h1.8M198.1,395.6h1.8M205.3,395.6h1.8M20.6,396.8h1.8M24.2,396.8h1.8M34.9,396.8h1.8M43.9,396.8h1.8M101.3,396.8h5.4M153.3,396.8h3.6M174.8,396.8h1.8M190.9,396.8h1.8M214.2,396.8h1.8M34.9,398.0h1.8M47.5,398.0h1.8M52.9,398.0h1.8M67.2,398.0h1.8M70.8,398.0h1.8M115.6,398.0h1.8M142.5,398.0h1.8M196.3,398.0h1.8M201.7,398.0h1.8M205.3,398.0h1.8M20.6,399.2h1.8M130.0,399.2h1.8M147.9,399.2h1.8M162.2,399.2h1.8M171.2,399.2h1.8M40.3,400.4h1.8M49.3,400.4h1.8M74.4,400.4h1.8M83.3,400.4h1.8M101.3,400.4h1.8M137.1,400.4h3.6M142.5,400.4h1.8M146.1,400.4h1.8M156.8,400.4h3.6M187.3,400.4h1.8M216.0,400.4h1.8M26.0,401.6h1.8M61.8,401.6h1.8M67.2,401.6h1.8M110.2,401.6h1.8M135.3,401.6h1.8M140.7,401.6h3.6M156.8,401.6h3.6M192.7,401.6h1.8M203.5,401.6h1.8M212.4,401.6h1.8M76.2,402.8h1.8M83.3,402.8h1.8M92.3,402.8h1.8M122.8,402.8h1.8M151.5,402.8h1.8M173.0,402.8h1.8M194.5,402.8h1.8M203.5,402.8h1.8M22.4,404.0h1.8M49.3,404.0h1.8M58.2,404.0h3.6M113.8,404.0h1.8M117.4,404.0h1.8M146.1,404.0h3.6M42.1,405.2h1.8M70.8,405.2h1.8M121.0,405.2h1.8M128.2,405.2h1.8M135.3,405.2h1.8M149.7,405.2h1.8M181.9,405.2h1.8M205.3,405.2h1.8M208.8,405.2h1.8M26.0,406.4h1.8M63.6,406.4h1.8M99.5,406.4h1.8M117.4,406.4h1.8M131.7,406.4h1.8M135.3,406.4h1.8M142.5,406.4h1.8M155.1,406.4h1.8M178.4,406.4h3.6M203.5,406.4h1.8M51.1,407.6h1.8M74.4,407.6h1.8M81.6,407.6h1.8M101.3,407.6h1.8M124.6,407.6h1.8M140.7,407.6h1.8M155.1,407.6h1.8M164.0,407.6h1.8M194.5,407.6h1.8M203.5,407.6h1.8M26.0,408.8h1.8M43.9,408.8h1.8M76.2,408.8h1.8M167.6,408.8h1.8M171.2,408.8h1.8M180.2,408.8h1.8M190.9,408.8h1.8M194.5,408.8h1.8M26.0,410.0h1.8M52.9,410.0h3.6M72.6,410.0h3.6M108.4,410.0h1.8M135.3,410.0h3.6M146.1,410.0h1.8M155.1,410.0h1.8M160.4,410.0h3.6M171.2,410.0h1.8M176.6,410.0h1.8M212.4,410.0h1.8M31.4,411.2h1.8M51.1,411.2h3.6M65.4,411.2h1.8M110.2,411.2h1.8M147.9,411.2h1.8M160.4,411.2h1.8M169.4,411.2h1.8M187.3,411.2h1.8M196.3,411.2h1.8M54.7,412.4h3.6M61.8,412.4h1.8M79.8,412.4h1.8M103.1,412.4h1.8M110.2,412.4h1.8M156.8,412.4h1.8M198.1,412.4h1.8M45.7,413.6h1.8M63.6,413.6h1.8M121.0,413.6h1.8M153.3,413.6h1.8M164.0,413.6h1.8M199.9,413.6h1.8M203.5,413.6h1.8M212.4,413.6h1.8M42.1,414.8h1.8M63.6,414.8h1.8M90.5,414.8h1.8M95.9,414.8h1.8M135.3,414.8h1.8M146.1,414.8h1.8M149.7,414.8h1.8M45.7,416.0h3.6M51.1,416.0h1.8M70.8,416.0h1.8M88.7,416.0h1.8M160.4,416.0h1.8M196.3,416.0h1.8M20.6,417.2h1.8M29.6,417.2h1.8M47.5,417.2h1.8M95.9,417.2h3.6M106.7,417.2h1.8M121.0,417.2h1.8M31.4,418.4h3.6M67.2,418.4h1.8M70.8,418.4h1.8M76.2,418.4h1.8M85.1,418.4h1.8M104.9,418.4h1.8M131.7,418.4h1.8M140.7,418.4h1.8M187.3,418.4h1.8M31.4,419.6h1.8M40.3,419.6h3.6M54.7,419.6h1.8M74.4,419.6h1.8M92.3,419.6h1.8M97.7,419.6h1.8M164.0,419.6h1.8M205.3,419.6h1.8M20.6,420.8h1.8M51.1,420.8h1.8M110.2,420.8h1.8M115.6,420.8h3.6M122.8,420.8h3.6M138.9,420.8h1.8M160.4,420.8h3.6M31.4,422.0h1.8M69.0,422.0h1.8M110.2,422.0h1.8M185.5,422.0h1.8M203.5,422.0h1.8M47.5,423.2h3.6M54.7,423.2h1.8M126.4,423.2h1.8M149.7,423.2h1.8M160.4,423.2h1.8M124.6,424.4h1.8M151.5,424.4h1.8M216.0,424.4h1.8M22.4,425.6h1.8M38.5,425.6h1.8M72.6,425.6h1.8M92.3,425.6h1.8M189.1,425.6h1.8M34.9,426.8h1.8M40.3,426.8h1.8M45.7,426.8h1.8M58.2,426.8h1.8M70.8,426.8h1.8M78.0,426.8h3.6M104.9,426.8h1.8M131.7,426.8h1.8M155.1,426.8h1.8M196.3,426.8h1.8M45.7,428.0h1.8M67.2,428.0h1.8M79.8,428.0h1.8M83.3,428.0h1.8M119.2,428.0h3.6M45.7,429.2h1.8M69.0,429.2h1.8M72.6,429.2h1.8M78.0,429.2h1.8M90.5,429.2h1.8M113.8,429.2h1.8M130.0,429.2h1.8M142.5,429.2h1.8M149.7,429.2h1.8M22.4,430.4h1.8M42.1,430.4h1.8M58.2,430.4h1.8M94.1,430.4h1.8M110.2,430.4h3.6M119.2,430.4h1.8M160.4,430.4h1.8M164.0,430.4h1.8M63.6,431.6h1.8M67.2,431.6h1.8M92.3,431.6h1.8M112.0,431.6h1.8M128.2,431.6h1.8M146.1,431.6h3.6M162.2,431.6h1.8M31.4,432.8h1.8M51.1,432.8h1.8M61.8,432.8h1.8M72.6,432.8h1.8M81.6,432.8h1.8M113.8,432.8h3.6M146.1,432.8h1.8M47.5,434.0h1.8M74.4,434.0h1.8M92.3,434.0h1.8M122.8,434.0h1.8M167.6,434.0h1.8M174.8,434.0h1.8M181.9,434.0h1.8M203.5,434.0h1.8M81.6,435.2h3.6M97.7,435.2h1.8M126.4,435.2h1.8M131.7,435.2h1.8M147.9,435.2h1.8M45.7,436.4h1.8M63.6,436.4h1.8M74.4,436.4h1.8M83.3,436.4h1.8M119.2,436.4h1.8M146.1,436.4h1.8M149.7,436.4h1.8M164.0,436.4h1.8M36.7,437.6h1.8M42.1,437.6h1.8M63.6,437.6h1.8M74.4,437.6h1.8M85.1,437.6h3.6M106.7,437.6h1.8M122.8,437.6h1.8M158.6,437.6h1.8M164.0,437.6h1.8M26.0,438.8h1.8M92.3,438.8h1.8M104.9,438.8h1.8M122.8,438.8h1.8M135.3,438.8h3.6M205.3,438.8h3.6M52.9,440.0h1.8M69.0,440.0h1.8M72.6,440.0h3.6M88.7,440.0h1.8M174.8,440.0h1.8M34.9,441.2h1.8M45.7,441.2h1.8M61.8,441.2h1.8M76.2,441.2h1.8M94.1,441.2h1.8M121.0,441.2h1.8M130.0,441.2h1.8M171.2,441.2h1.8M207.0,441.2h1.8M56.5,442.4h1.8M94.1,442.4h1.8M112.0,442.4h1.8M135.3,442.4h1.8M147.9,442.4h1.8M160.4,442.4h1.8M29.6,443.6h1.8M40.3,443.6h1.8M67.2,443.6h1.8M103.1,443.6h1.8M115.6,443.6h1.8M128.2,443.6h1.8M42.1,444.8h1.8M49.3,444.8h1.8M92.3,444.8h1.8M97.7,444.8h1.8M117.4,444.8h1.8M135.3,444.8h1.8M147.9,444.8h1.8M60.0,446.0h3.6M81.6,446.0h1.8M112.0,446.0h1.8M121.0,446.0h1.8M137.1,446.0h1.8M34.9,447.2h1.8M47.5,447.2h1.8M74.4,447.2h1.8M81.6,447.2h3.6M97.7,447.2h1.8M113.8,447.2h1.8M146.1,447.2h1.8M164.0,447.2h1.8M169.4,447.2h1.8M40.3,448.4h3.6M47.5,448.4h1.8M67.2,448.4h1.8M74.4,448.4h1.8M79.8,448.4h1.8M103.1,448.4h3.6M117.4,448.4h1.8M144.3,448.4h1.8M167.6,448.4h1.8M61.8,449.6h1.8M79.8,449.6h1.8M83.3,449.6h1.8M88.7,449.6h3.6M94.1,449.6h1.8M167.6,449.6h3.6M189.1,449.6h1.8M196.3,449.6h1.8M205.3,449.6h1.8M36.7,450.8h1.8M40.3,450.8h1.8M43.9,450.8h1.8M69.0,450.8h1.8M86.9,450.8h1.8M117.4,450.8h1.8M142.5,450.8h1.8M158.6,450.8h1.8M165.8,450.8h3.6M173.0,450.8h1.8M208.8,450.8h1.8M26.0,452.0h1.8M51.1,452.0h1.8M70.8,452.0h1.8M83.3,452.0h3.6M124.6,452.0h1.8M158.6,452.0h1.8M165.8,452.0h1.8M216.0,452.0h1.8M24.2,453.2h1.8M49.3,453.2h1.8M56.5,453.2h1.8M92.3,453.2h1.8M99.5,453.2h1.8M137.1,453.2h1.8M160.4,453.2h1.8M169.4,453.2h1.8M187.3,453.2h1.8M27.8,454.4h1.8M36.7,454.4h1.8M70.8,454.4h1.8M104.9,454.4h1.8M124.6,454.4h1.8M137.1,454.4h1.8M160.4,454.4h1.8M164.0,454.4h1.8M26.0,455.6h1.8M29.6,455.6h1.8M38.5,455.6h1.8M45.7,455.6h1.8M86.9,455.6h1.8M92.3,455.6h1.8M112.0,455.6h1.8M216.0,455.6h1.8M20.6,456.8h1.8M24.2,456.8h1.8M61.8,456.8h1.8M72.6,456.8h1.8M83.3,456.8h1.8M110.2,456.8h1.8M137.1,456.8h1.8M144.3,456.8h1.8M149.7,456.8h1.8M156.8,456.8h1.8M169.4,456.8h1.8M47.5,458.0h1.8M56.5,458.0h1.8M83.3,458.0h1.8M95.9,458.0h1.8M140.7,458.0h1.8M147.9,458.0h1.8M29.6,459.2h1.8M45.7,459.2h1.8M67.2,459.2h1.8M70.8,459.2h1.8M94.1,459.2h1.8M128.2,459.2h1.8M190.9,459.2h1.8M43.9,460.4h1.8M69.0,460.4h1.8M99.5,460.4h1.8M104.9,460.4h1.8M144.3,460.4h1.8M153.3,460.4h1.8M164.0,460.4h1.8M187.3,460.4h1.8M69.0,461.6h1.8M74.4,461.6h1.8M121.0,461.6h1.8M169.4,461.6h1.8M131.7,462.8h1.8M147.9,462.8h1.8M20.6,464.0h1.8M33.1,464.0h1.8M36.7,464.0h1.8M56.5,464.0h1.8M83.3,464.0h1.8M92.3,464.0h1.8M124.6,464.0h1.8M128.2,464.0h1.8M140.7,464.0h1.8M176.6,464.0h1.8M85.1,465.2h1.8M104.9,465.2h1.8M112.0,465.2h1.8M140.7,465.2h1.8M153.3,465.2h1.8M158.6,465.2h1.8M178.4,465.2h1.8M52.9,466.4h1.8M67.2,466.4h1.8M81.6,466.4h1.8M95.9,466.4h1.8M99.5,466.4h1.8M110.2,466.4h1.8M119.2,466.4h1.8M130.0,466.4h1.8M133.5,466.4h3.6M156.8,466.4h1.8M29.6,467.6h1.8M45.7,467.6h1.8M70.8,467.6h1.8M92.3,467.6h3.6M122.8,467.6h1.8M147.9,467.6h1.8M160.4,467.6h1.8M167.6,467.6h1.8M171.2,467.6h1.8M199.9,467.6h1.8M205.3,467.6h1.8M38.5,468.8h3.6M51.1,468.8h1.8M65.4,468.8h1.8M72.6,468.8h1.8M81.6,468.8h1.8M94.1,468.8h1.8M110.2,468.8h1.8M126.4,468.8h1.8M135.3,468.8h1.8M138.9,468.8h1.8M169.4,468.8h1.8M174.8,468.8h1.8M189.1,468.8h1.8M210.6,468.8h1.8M126.4,470.0h1.8M144.3,470.0h1.8M147.9,470.0h1.8M156.8,470.0h1.8M171.2,470.0h1.8M178.4,470.0h1.8M185.5,470.0h3.6M210.6,470.0h1.8M27.8,471.2h1.8M31.4,471.2h1.8M34.9,471.2h1.8M52.9,471.2h1.8M63.6,471.2h1.8M78.0,471.2h1.8M104.9,471.2h1.8M137.1,471.2h1.8M52.9,472.4h1.8M72.6,472.4h1.8M86.9,472.4h1.8M104.9,472.4h1.8M115.6,472.4h1.8M126.4,472.4h1.8M160.4,472.4h1.8M165.8,472.4h1.8M171.2,472.4h3.6M176.6,472.4h1.8M183.7,472.4h1.8M203.5,472.4h1.8M207.0,472.4h3.6M36.7,473.6h1.8M65.4,473.6h1.8M103.1,473.6h1.8M135.3,473.6h1.8M164.0,473.6h1.8M205.3,473.6h1.8M216.0,473.6h1.8M20.6,474.8h1.8M24.2,474.8h1.8M27.8,474.8h1.8M67.2,474.8h1.8M88.7,474.8h1.8M92.3,474.8h1.8M117.4,474.8h1.8M121.0,474.8h1.8M135.3,474.8h1.8M181.9,474.8h1.8M185.5,474.8h1.8M201.7,474.8h1.8M24.2,476.0h1.8M31.4,476.0h1.8M76.2,476.0h1.8M138.9,476.0h1.8M167.6,476.0h1.8M189.1,476.0h1.8M212.4,476.0h1.8M67.2,477.2h1.8M72.6,477.2h1.8M108.4,477.2h1.8M119.2,477.2h1.8M142.5,477.2h1.8M156.8,477.2h1.8M164.0,477.2h1.8M173.0,477.2h1.8M189.1,477.2h1.8M196.3,477.2h1.8M199.9,477.2h1.8M203.5,477.2h1.8M29.6,478.4h1.8M97.7,478.4h1.8M140.7,478.4h1.8M162.2,478.4h1.8M171.2,478.4h1.8M189.1,478.4h1.8M207.0,478.4h1.8M42.1,479.6h1.8M70.8,479.6h3.6M113.8,479.6h1.8M185.5,479.6h1.8M212.4,479.6h1.8M26.0,480.8h1.8M78.0,480.8h1.8M99.5,480.8h1.8M131.7,480.8h1.8M146.1,480.8h1.8M169.4,480.8h3.6M189.1,480.8h3.6M205.3,480.8h1.8M212.4,480.8h1.8M22.4,482.0h3.6M42.1,482.0h1.8M69.0,482.0h1.8M74.4,482.0h1.8M78.0,482.0h1.8M85.1,482.0h1.8M103.1,482.0h1.8M113.8,482.0h1.8M133.5,482.0h1.8M160.4,482.0h1.8M167.6,482.0h1.8M183.7,482.0h1.8M29.6,483.2h1.8M49.3,483.2h1.8M65.4,483.2h1.8M113.8,483.2h1.8M138.9,483.2h1.8M149.7,483.2h1.8M165.8,483.2h1.8M190.9,483.2h1.8M210.6,483.2h1.8M56.5,484.4h1.8M81.6,484.4h1.8M94.1,484.4h3.6M108.4,484.4h3.6M142.5,484.4h1.8M155.1,484.4h1.8M173.0,484.4h1.8M181.9,484.4h1.8M185.5,484.4h5.4M194.5,484.4h1.8M203.5,484.4h1.8"/>
<path stroke="#220a08" d="M22.4,312.8h1.8M36.7,312.8h1.8M65.4,312.8h1.8M90.5,312.8h1.8M185.5,312.8h1.8M190.9,312.8h1.8M60.0,314.0h1.8M65.4,314.0h1.8M70.8,314.0h1.8M110.2,314.0h3.6M133.5,314.0h1.8M151.5,314.0h1.8M158.6,314.0h1.8M190.9,314.0h1.8M199.9,314.0h1.8M203.5,314.0h1.8M212.4,314.0h3.6M20.6,315.2h1.8M33.1,315.2h1.8M56.5,315.2h1.8M153.3,315.2h1.8M176.6,315.2h3.6M210.6,315.2h3.6M22.4,316.4h1.8M33.1,316.4h1.8M119.2,316.4h1.8M140.7,316.4h1.8M146.1,316.4h1.8M160.4,316.4h1.8M180.2,316.4h1.8M190.9,316.4h3.6M198.1,316.4h1.8M205.3,316.4h1.8M49.3,317.6h1.8M63.6,317.6h1.8M90.5,317.6h1.8M121.0,317.6h1.8M149.7,317.6h1.8M203.5,317.6h1.8M210.6,317.6h1.8M34.9,318.8h3.6M72.6,318.8h1.8M81.6,318.8h1.8M158.6,318.8h1.8M164.0,318.8h1.8M199.9,318.8h1.8M20.6,320.0h1.8M61.8,320.0h1.8M97.7,320.0h1.8M160.4,320.0h1.8M174.8,320.0h1.8M22.4,321.2h1.8M36.7,321.2h1.8M76.2,321.2h1.8M79.8,321.2h1.8M138.9,321.2h1.8M171.2,321.2h1.8M185.5,321.2h1.8M207.0,321.2h3.6M67.2,322.4h1.8M74.4,322.4h1.8M88.7,322.4h1.8M99.5,322.4h1.8M178.4,322.4h1.8M189.1,322.4h1.8M196.3,322.4h1.8M203.5,322.4h1.8M212.4,322.4h1.8M24.2,323.6h1.8M42.1,323.6h1.8M140.7,323.6h3.6M158.6,323.6h1.8M40.3,324.8h1.8M47.5,324.8h1.8M60.0,324.8h1.8M70.8,324.8h1.8M94.1,324.8h1.8M122.8,324.8h1.8M183.7,324.8h1.8M190.9,324.8h1.8M194.5,324.8h1.8M29.6,326.0h1.8M47.5,326.0h1.8M85.1,326.0h1.8M173.0,326.0h1.8M205.3,326.0h1.8M216.0,326.0h1.8M24.2,327.2h3.6M29.6,327.2h1.8M54.7,327.2h1.8M69.0,327.2h1.8M74.4,327.2h1.8M92.3,327.2h1.8M122.8,327.2h1.8M133.5,327.2h3.6M174.8,327.2h1.8M185.5,327.2h1.8M208.8,327.2h9.0M31.4,328.4h1.8M36.7,328.4h1.8M58.2,328.4h1.8M72.6,328.4h3.6M86.9,328.4h1.8M158.6,328.4h1.8M181.9,328.4h1.8M194.5,328.4h1.8M207.0,328.4h1.8M216.0,328.4h1.8M63.6,329.6h1.8M88.7,329.6h1.8M146.1,329.6h1.8M194.5,329.6h1.8M214.2,329.6h1.8M47.5,330.8h1.8M67.2,330.8h3.6M72.6,330.8h1.8M76.2,330.8h1.8M94.1,330.8h1.8M128.2,330.8h1.8M135.3,330.8h1.8M165.8,330.8h1.8M169.4,330.8h1.8M180.2,330.8h1.8M207.0,330.8h1.8M52.9,332.0h1.8M81.6,332.0h1.8M90.5,332.0h1.8M95.9,332.0h1.8M108.4,332.0h1.8M128.2,332.0h1.8M165.8,332.0h1.8M201.7,332.0h1.8M212.4,332.0h1.8M34.9,333.2h1.8M43.9,333.2h1.8M67.2,333.2h1.8M94.1,333.2h1.8M173.0,333.2h1.8M199.9,333.2h1.8M27.8,334.4h1.8M142.5,334.4h1.8M169.4,334.4h1.8M183.7,334.4h1.8M205.3,334.4h1.8M27.8,335.6h3.6M85.1,335.6h1.8M97.7,335.6h1.8M110.2,335.6h1.8M178.4,335.6h1.8M181.9,335.6h1.8M24.2,336.8h1.8M85.1,336.8h1.8M94.1,336.8h3.6M130.0,336.8h1.8M169.4,336.8h1.8M176.6,336.8h1.8M185.5,336.8h1.8M201.7,336.8h1.8M210.6,336.8h1.8M56.5,338.0h1.8M70.8,338.0h1.8M85.1,338.0h1.8M135.3,338.0h3.6M151.5,338.0h3.6M194.5,338.0h1.8M201.7,338.0h3.6M207.0,338.0h1.8M36.7,339.2h1.8M60.0,339.2h1.8M72.6,339.2h3.6M180.2,339.2h1.8M198.1,339.2h3.6M60.0,340.4h1.8M63.6,340.4h1.8M97.7,340.4h1.8M115.6,340.4h1.8M155.1,340.4h1.8M178.4,340.4h1.8M187.3,340.4h1.8M212.4,340.4h1.8M51.1,341.6h1.8M185.5,341.6h3.6M31.4,342.8h1.8M34.9,342.8h1.8M70.8,342.8h1.8M78.0,342.8h1.8M83.3,342.8h1.8M88.7,342.8h5.4M176.6,342.8h1.8M201.7,342.8h1.8M20.6,344.0h1.8M26.0,344.0h1.8M47.5,344.0h3.6M106.7,344.0h1.8M110.2,344.0h1.8M131.7,344.0h1.8M178.4,344.0h1.8M183.7,344.0h1.8M20.6,345.2h1.8M49.3,345.2h1.8M76.2,345.2h1.8M133.5,345.2h1.8M147.9,345.2h1.8M185.5,345.2h1.8M201.7,345.2h1.8M65.4,346.4h1.8M70.8,346.4h1.8M135.3,346.4h1.8M149.7,346.4h1.8M203.5,346.4h1.8M49.3,347.6h1.8M85.1,347.6h1.8M97.7,347.6h1.8M126.4,347.6h3.6M153.3,347.6h1.8M174.8,347.6h1.8M181.9,347.6h3.6M207.0,347.6h1.8M52.9,348.8h3.6M63.6,348.8h5.4M72.6,348.8h1.8M78.0,348.8h1.8M115.6,348.8h1.8M153.3,348.8h1.8M194.5,348.8h1.8M201.7,348.8h1.8M207.0,348.8h1.8M24.2,350.0h1.8M31.4,350.0h1.8M74.4,350.0h1.8M81.6,350.0h1.8M90.5,350.0h1.8M122.8,350.0h1.8M174.8,350.0h1.8M181.9,350.0h1.8M201.7,350.0h1.8M207.0,350.0h1.8M212.4,350.0h3.6M60.0,351.2h1.8M63.6,351.2h1.8M88.7,351.2h1.8M92.3,351.2h1.8M160.4,351.2h1.8M190.9,351.2h1.8M207.0,351.2h3.6M212.4,351.2h1.8M27.8,352.4h1.8M51.1,352.4h1.8M79.8,352.4h1.8M95.9,352.4h1.8M113.8,352.4h1.8M140.7,352.4h1.8M167.6,352.4h1.8M176.6,352.4h1.8M189.1,352.4h1.8M27.8,353.6h1.8M31.4,353.6h1.8M72.6,353.6h1.8M131.7,353.6h1.8M164.0,353.6h1.8M174.8,353.6h1.8M185.5,353.6h1.8M22.4,354.8h1.8M36.7,354.8h1.8M83.3,354.8h1.8M113.8,354.8h1.8M133.5,354.8h1.8M180.2,354.8h1.8M207.0,354.8h1.8M20.6,356.0h1.8M24.2,356.0h1.8M36.7,356.0h1.8M47.5,356.0h1.8M72.6,356.0h1.8M90.5,356.0h1.8M149.7,356.0h1.8M208.8,356.0h1.8M40.3,357.2h1.8M47.5,357.2h1.8M174.8,357.2h1.8M194.5,357.2h1.8M199.9,357.2h1.8M33.1,358.4h1.8M38.5,358.4h1.8M42.1,358.4h1.8M79.8,358.4h1.8M94.1,358.4h1.8M122.8,358.4h1.8M138.9,358.4h1.8M153.3,358.4h1.8M160.4,358.4h1.8M173.0,358.4h1.8M40.3,359.6h1.8M49.3,359.6h1.8M63.6,359.6h1.8M72.6,359.6h1.8M95.9,359.6h1.8M133.5,359.6h1.8M174.8,359.6h1.8M196.3,359.6h5.4M210.6,359.6h1.8M40.3,360.8h1.8M69.0,360.8h1.8M83.3,360.8h1.8M97.7,360.8h1.8M112.0,360.8h1.8M160.4,360.8h1.8M164.0,360.8h1.8M173.0,360.8h3.6M180.2,360.8h1.8M27.8,362.0h1.8M74.4,362.0h3.6M99.5,362.0h1.8M171.2,362.0h1.8M174.8,362.0h1.8M201.7,362.0h1.8M20.6,363.2h1.8M95.9,363.2h1.8M110.2,363.2h1.8M113.8,363.2h1.8M122.8,363.2h1.8M158.6,363.2h1.8M173.0,363.2h1.8M189.1,363.2h3.6M194.5,363.2h1.8M210.6,363.2h1.8M33.1,364.4h1.8M36.7,364.4h1.8M40.3,364.4h1.8M43.9,364.4h1.8M47.5,364.4h1.8M108.4,364.4h1.8M149.7,364.4h3.6M164.0,364.4h1.8M167.6,364.4h1.8M180.2,364.4h1.8M187.3,364.4h1.8M20.6,365.6h1.8M26.0,365.6h1.8M33.1,365.6h1.8M45.7,365.6h1.8M83.3,365.6h1.8M94.1,365.6h3.6M117.4,365.6h1.8M137.1,365.6h1.8M149.7,365.6h1.8M165.8,365.6h1.8M185.5,365.6h1.8M189.1,365.6h3.6M194.5,365.6h1.8M45.7,366.8h1.8M69.0,366.8h1.8M92.3,366.8h1.8M126.4,366.8h1.8M192.7,366.8h1.8M208.8,366.8h1.8M49.3,368.0h3.6M56.5,368.0h1.8M74.4,368.0h1.8M95.9,368.0h1.8M106.7,368.0h1.8M119.2,368.0h1.8M133.5,368.0h1.8M174.8,368.0h3.6M208.8,368.0h1.8M24.2,369.2h1.8M31.4,369.2h3.6M38.5,369.2h1.8M81.6,369.2h1.8M94.1,369.2h1.8M97.7,369.2h1.8M126.4,369.2h1.8M131.7,369.2h1.8M153.3,369.2h1.8M164.0,369.2h3.6M194.5,369.2h1.8M205.3,369.2h1.8M208.8,369.2h5.4M216.0,369.2h1.8M24.2,370.4h1.8M29.6,370.4h1.8M38.5,370.4h1.8M74.4,370.4h1.8M131.7,370.4h1.8M147.9,370.4h1.8M185.5,370.4h1.8M190.9,370.4h1.8M208.8,370.4h1.8M45.7,371.6h1.8M56.5,371.6h1.8M60.0,371.6h1.8M81.6,371.6h1.8M112.0,371.6h1.8M135.3,371.6h1.8M156.8,371.6h1.8M176.6,371.6h1.8M212.4,371.6h1.8M216.0,371.6h1.8M27.8,372.8h1.8M115.6,372.8h1.8M153.3,372.8h1.8M165.8,372.8h1.8M203.5,372.8h1.8M20.6,374.0h1.8M24.2,374.0h1.8M58.2,374.0h1.8M79.8,374.0h1.8M97.7,374.0h3.6M137.1,374.0h1.8M142.5,374.0h3.6M156.8,374.0h1.8M171.2,374.0h1.8M174.8,374.0h1.8M178.4,374.0h1.8M181.9,374.0h1.8M208.8,374.0h1.8M29.6,375.2h1.8M38.5,375.2h3.6M78.0,375.2h1.8M110.2,375.2h1.8M117.4,375.2h1.8M135.3,375.2h1.8M165.8,375.2h3.6M20.6,376.4h1.8M72.6,376.4h1.8M85.1,376.4h1.8M149.7,376.4h1.8M160.4,376.4h1.8M192.7,376.4h1.8M196.3,376.4h1.8M40.3,377.6h1.8M70.8,377.6h1.8M74.4,377.6h1.8M78.0,377.6h1.8M85.1,377.6h1.8M112.0,377.6h1.8M126.4,377.6h1.8M138.9,377.6h1.8M156.8,377.6h1.8M162.2,377.6h1.8M208.8,377.6h1.8M103.1,378.8h1.8M140.7,378.8h1.8M171.2,378.8h1.8M187.3,378.8h1.8M203.5,378.8h1.8M38.5,380.0h1.8M67.2,380.0h1.8M155.1,380.0h1.8M74.4,381.2h1.8M78.0,381.2h1.8M83.3,381.2h1.8M126.4,381.2h1.8M133.5,381.2h1.8M137.1,381.2h1.8M146.1,381.2h1.8M155.1,381.2h1.8M176.6,381.2h1.8M20.6,382.4h1.8M47.5,382.4h1.8M79.8,382.4h1.8M99.5,382.4h1.8M108.4,382.4h1.8M112.0,382.4h1.8M137.1,382.4h1.8M156.8,382.4h1.8M183.7,382.4h1.8M203.5,382.4h1.8M20.6,383.6h3.6M52.9,383.6h1.8M76.2,383.6h1.8M90.5,383.6h3.6M146.1,383.6h1.8M178.4,383.6h1.8M192.7,383.6h1.8M198.1,383.6h1.8M212.4,383.6h1.8M72.6,384.8h1.8M86.9,384.8h3.6M94.1,384.8h3.6M103.1,384.8h1.8M110.2,384.8h3.6M115.6,384.8h1.8M135.3,384.8h1.8M153.3,384.8h1.8M160.4,384.8h1.8M165.8,384.8h1.8M176.6,384.8h3.6M185.5,384.8h3.6M24.2,386.0h1.8M45.7,386.0h1.8M58.2,386.0h1.8M95.9,386.0h3.6M103.1,386.0h1.8M108.4,386.0h1.8M117.4,386.0h1.8M140.7,386.0h1.8M149.7,386.0h1.8M153.3,386.0h1.8M187.3,386.0h1.8M205.3,386.0h1.8M36.7,387.2h1.8M49.3,387.2h1.8M61.8,387.2h1.8M92.3,387.2h1.8M95.9,387.2h1.8M158.6,387.2h1.8M190.9,387.2h1.8M194.5,387.2h1.8M208.8,387.2h1.8M52.9,388.4h1.8M97.7,388.4h1.8M115.6,388.4h1.8M156.8,388.4h1.8M173.0,388.4h1.8M56.5,389.6h1.8M72.6,389.6h1.8M86.9,389.6h1.8M115.6,389.6h1.8M119.2,389.6h1.8M131.7,389.6h1.8M135.3,389.6h1.8M140.7,389.6h1.8M147.9,389.6h1.8M167.6,389.6h1.8M176.6,389.6h1.8M56.5,390.8h1.8M83.3,390.8h1.8M113.8,390.8h1.8M130.0,390.8h1.8M151.5,390.8h1.8M164.0,390.8h1.8M194.5,390.8h1.8M74.4,392.0h1.8M138.9,392.0h1.8M167.6,392.0h1.8M178.4,392.0h1.8M185.5,392.0h1.8M192.7,392.0h1.8M203.5,392.0h1.8M210.6,392.0h1.8M26.0,393.2h1.8M78.0,393.2h3.6M108.4,393.2h1.8M210.6,393.2h5.4M58.2,394.4h1.8M69.0,394.4h3.6M74.4,394.4h1.8M124.6,394.4h1.8M137.1,394.4h1.8M142.5,394.4h1.8M153.3,394.4h1.8M158.6,394.4h1.8M173.0,394.4h1.8M178.4,394.4h1.8M208.8,394.4h1.8M31.4,395.6h1.8M63.6,395.6h1.8M81.6,395.6h1.8M90.5,395.6h1.8M101.3,395.6h1.8M135.3,395.6h1.8M138.9,395.6h1.8M164.0,395.6h1.8M178.4,395.6h1.8M29.6,396.8h1.8M56.5,396.8h1.8M106.7,396.8h1.8M128.2,396.8h1.8M137.1,396.8h1.8M165.8,396.8h1.8M181.9,396.8h3.6M207.0,396.8h1.8M210.6,396.8h1.8M56.5,398.0h1.8M65.4,398.0h1.8M76.2,398.0h1.8M119.2,398.0h1.8M190.9,398.0h1.8M203.5,398.0h1.8M207.0,398.0h1.8M70.8,399.2h1.8M85.1,399.2h1.8M126.4,399.2h1.8M138.9,399.2h1.8M149.7,399.2h1.8M156.8,399.2h1.8M203.5,399.2h1.8M210.6,399.2h1.8M214.2,399.2h1.8M20.6,400.4h1.8M36.7,400.4h1.8M52.9,400.4h1.8M90.5,400.4h1.8M165.8,400.4h1.8M174.8,400.4h1.8M207.0,400.4h1.8M214.2,400.4h1.8M38.5,401.6h1.8M52.9,401.6h1.8M76.2,401.6h1.8M94.1,401.6h1.8M119.2,401.6h3.6M137.1,401.6h1.8M167.6,401.6h3.6M47.5,402.8h1.8M51.1,402.8h3.6M56.5,402.8h1.8M88.7,402.8h1.8M142.5,402.8h1.8M155.1,402.8h1.8M160.4,402.8h1.8M70.8,404.0h1.8M76.2,404.0h1.8M119.2,404.0h1.8M128.2,404.0h1.8M144.3,404.0h1.8M155.1,404.0h3.6M173.0,404.0h1.8M199.9,404.0h1.8M210.6,404.0h1.8M51.1,405.2h1.8M58.2,405.2h1.8M92.3,405.2h1.8M106.7,405.2h3.6M137.1,405.2h1.8M190.9,405.2h1.8M214.2,405.2h1.8M34.9,406.4h1.8M40.3,406.4h1.8M45.7,406.4h1.8M121.0,406.4h1.8M169.4,406.4h1.8M181.9,406.4h1.8M214.2,406.4h1.8M36.7,407.6h1.8M47.5,407.6h1.8M54.7,407.6h1.8M69.0,407.6h1.8M76.2,407.6h1.8M103.1,407.6h1.8M121.0,407.6h1.8M149.7,407.6h1.8M158.6,407.6h1.8M189.1,407.6h1.8M196.3,407.6h1.8M201.7,407.6h1.8M212.4,407.6h1.8M36.7,408.8h1.8M42.1,408.8h1.8M67.2,408.8h1.8M72.6,408.8h1.8M121.0,408.8h1.8M128.2,408.8h1.8M140.7,408.8h1.8M155.1,408.8h1.8M158.6,408.8h1.8M162.2,408.8h3.6M178.4,408.8h1.8M181.9,408.8h1.8M69.0,410.0h1.8M94.1,410.0h3.6M115.6,410.0h1.8M149.7,410.0h1.8M201.7,410.0h1.8M210.6,410.0h1.8M34.9,411.2h1.8M45.7,411.2h1.8M58.2,411.2h1.8M95.9,411.2h1.8M99.5,411.2h1.8M108.4,411.2h1.8M130.0,411.2h1.8M137.1,411.2h1.8M155.1,411.2h3.6M164.0,411.2h1.8M190.9,411.2h1.8M131.7,412.4h1.8M142.5,412.4h1.8M146.1,412.4h1.8M167.6,412.4h1.8M20.6,413.6h1.8M34.9,413.6h1.8M52.9,413.6h1.8M72.6,413.6h1.8M112.0,413.6h3.6M117.4,413.6h1.8M124.6,413.6h1.8M144.3,413.6h1.8M176.6,413.6h1.8M192.7,413.6h3.6M207.0,413.6h1.8M29.6,414.8h1.8M49.3,414.8h1.8M97.7,414.8h1.8M126.4,414.8h3.6M137.1,414.8h1.8M160.4,414.8h1.8M169.4,414.8h3.6M97.7,416.0h1.8M110.2,416.0h1.8M164.0,416.0h1.8M180.2,416.0h1.8M187.3,416.0h1.8M194.5,416.0h1.8M110.2,417.2h1.8M135.3,417.2h1.8M51.1,418.4h3.6M78.0,418.4h1.8M90.5,418.4h3.6M112.0,418.4h1.8M156.8,418.4h3.6M29.6,419.6h1.8M45.7,419.6h1.8M61.8,419.6h1.8M67.2,419.6h1.8M70.8,419.6h1.8M79.8,419.6h1.8M85.1,419.6h1.8M90.5,419.6h1.8M115.6,419.6h1.8M119.2,419.6h1.8M135.3,419.6h1.8M138.9,419.6h1.8M147.9,419.6h1.8M52.9,420.8h3.6M92.3,420.8h1.8M174.8,420.8h1.8M198.1,420.8h1.8M29.6,422.0h1.8M34.9,422.0h3.6M54.7,422.0h1.8M74.4,422.0h1.8M95.9,422.0h1.8M106.7,422.0h1.8M115.6,422.0h1.8M124.6,422.0h1.8M128.2,422.0h1.8M162.2,422.0h1.8M165.8,422.0h1.8M183.7,422.0h1.8M187.3,422.0h1.8M34.9,423.2h1.8M78.0,423.2h1.8M90.5,423.2h1.8M119.2,423.2h1.8M124.6,423.2h1.8M128.2,423.2h1.8M133.5,423.2h1.8M155.1,423.2h3.6M181.9,423.2h1.8M199.9,423.2h1.8M45.7,424.4h1.8M61.8,424.4h1.8M121.0,424.4h1.8M137.1,424.4h1.8M208.8,424.4h3.6M34.9,425.6h1.8M63.6,425.6h1.8M67.2,425.6h1.8M70.8,425.6h1.8M122.8,425.6h1.8M140.7,425.6h1.8M153.3,425.6h1.8M171.2,425.6h1.8M205.3,425.6h1.8M92.3,426.8h1.8M106.7,426.8h1.8M128.2,426.8h1.8M183.7,426.8h1.8M52.9,428.0h1.8M173.0,428.0h1.8M205.3,428.0h1.8M56.5,429.2h1.8M126.4,429.2h1.8M146.1,429.2h1.8M160.4,429.2h1.8M165.8,429.2h1.8M20.6,430.4h1.8M70.8,430.4h1.8M78.0,430.4h1.8M138.9,430.4h1.8M162.2,430.4h1.8M173.0,430.4h1.8M176.6,430.4h1.8M194.5,430.4h1.8M34.9,431.6h1.8M38.5,431.6h1.8M72.6,431.6h3.6M104.9,431.6h1.8M121.0,431.6h1.8M158.6,431.6h1.8M167.6,431.6h3.6M178.4,431.6h1.8M203.5,431.6h1.8M70.8,432.8h1.8M83.3,432.8h1.8M126.4,432.8h1.8M135.3,432.8h1.8M160.4,432.8h1.8M167.6,432.8h1.8M173.0,432.8h1.8M192.7,432.8h1.8M205.3,432.8h1.8M52.9,434.0h1.8M86.9,434.0h1.8M126.4,434.0h1.8M164.0,434.0h1.8M187.3,434.0h1.8M210.6,434.0h1.8M20.6,435.2h1.8M34.9,435.2h1.8M51.1,435.2h3.6M65.4,435.2h1.8M86.9,435.2h1.8M106.7,435.2h1.8M110.2,435.2h1.8M121.0,435.2h1.8M137.1,435.2h1.8M174.8,435.2h1.8M199.9,435.2h1.8M205.3,435.2h1.8M212.4,435.2h1.8M70.8,436.4h1.8M88.7,436.4h1.8M61.8,437.6h1.8M79.8,437.6h5.4M117.4,437.6h3.6M135.3,437.6h3.6M24.2,438.8h1.8M130.0,438.8h1.8M142.5,438.8h3.6M149.7,438.8h1.8M155.1,438.8h1.8M164.0,438.8h5.4M171.2,438.8h1.8M34.9,440.0h1.8M45.7,440.0h1.8M124.6,440.0h1.8M147.9,440.0h1.8M151.5,440.0h1.8M171.2,440.0h1.8M198.1,440.0h1.8M58.2,441.2h1.8M63.6,441.2h1.8M140.7,441.2h1.8M160.4,441.2h1.8M173.0,441.2h1.8M38.5,442.4h1.8M104.9,442.4h1.8M122.8,442.4h1.8M137.1,442.4h1.8M156.8,442.4h1.8M205.3,442.4h1.8M212.4,442.4h1.8M216.0,442.4h1.8M36.7,443.6h1.8M65.4,443.6h1.8M74.4,443.6h1.8M88.7,443.6h1.8M155.1,443.6h1.8M173.0,443.6h1.8M60.0,444.8h1.8M88.7,444.8h1.8M124.6,444.8h1.8M149.7,444.8h1.8M155.1,444.8h1.8M167.6,444.8h1.8M171.2,444.8h1.8M180.2,444.8h1.8M40.3,446.0h1.8M72.6,446.0h1.8M115.6,446.0h1.8M124.6,446.0h3.6M131.7,446.0h3.6M149.7,446.0h1.8M155.1,446.0h1.8M165.8,446.0h3.6M61.8,447.2h1.8M76.2,447.2h1.8M92.3,447.2h1.8M112.0,447.2h1.8M128.2,447.2h1.8M144.3,447.2h1.8M171.2,447.2h1.8M201.7,447.2h1.8M58.2,448.4h1.8M108.4,448.4h1.8M126.4,448.4h1.8M133.5,448.4h1.8M142.5,448.4h1.8M198.1,448.4h1.8M205.3,448.4h1.8M49.3,449.6h1.8M70.8,449.6h1.8M110.2,449.6h1.8M133.5,449.6h1.8M137.1,449.6h1.8M164.0,449.6h1.8M176.6,449.6h1.8M210.6,449.6h3.6M216.0,449.6h1.8M34.9,450.8h1.8M60.0,450.8h1.8M79.8,450.8h5.4M119.2,450.8h1.8M124.6,450.8h1.8M128.2,450.8h1.8M133.5,450.8h1.8M160.4,450.8h1.8M201.7,450.8h1.8M210.6,450.8h3.6M60.0,452.0h1.8M67.2,452.0h1.8M86.9,452.0h1.8M90.5,452.0h1.8M110.2,452.0h1.8M122.8,452.0h1.8M130.0,452.0h1.8M147.9,452.0h1.8M187.3,452.0h1.8M58.2,453.2h1.8M126.4,453.2h1.8M133.5,453.2h1.8M138.9,453.2h1.8M153.3,453.2h1.8M83.3,454.4h1.8M117.4,454.4h1.8M126.4,454.4h1.8M135.3,454.4h1.8M169.4,454.4h1.8M178.4,454.4h1.8M183.7,454.4h3.6M207.0,454.4h1.8M24.2,455.6h1.8M40.3,455.6h1.8M58.2,455.6h1.8M88.7,455.6h1.8M113.8,455.6h1.8M160.4,455.6h1.8M180.2,455.6h3.6M56.5,456.8h1.8M104.9,456.8h1.8M151.5,456.8h1.8M164.0,456.8h1.8M171.2,456.8h1.8M180.2,456.8h1.8M189.1,456.8h1.8M216.0,456.8h1.8M61.8,458.0h1.8M67.2,458.0h1.8M70.8,458.0h1.8M104.9,458.0h1.8M110.2,458.0h1.8M115.6,458.0h1.8M131.7,458.0h1.8M135.3,458.0h1.8M160.4,458.0h1.8M196.3,458.0h1.8M205.3,458.0h1.8M38.5,459.2h1.8M52.9,459.2h1.8M79.8,459.2h1.8M83.3,459.2h1.8M90.5,459.2h3.6M104.9,459.2h7.2M135.3,459.2h3.6M144.3,459.2h1.8M171.2,459.2h1.8M198.1,459.2h3.6M34.9,460.4h1.8M160.4,460.4h1.8M171.2,460.4h1.8M205.3,460.4h1.8M58.2,461.6h1.8M72.6,461.6h1.8M95.9,461.6h1.8M119.2,461.6h1.8M138.9,461.6h1.8M142.5,461.6h1.8M149.7,461.6h1.8M162.2,461.6h1.8M26.0,462.8h1.8M65.4,462.8h3.6M115.6,462.8h1.8M140.7,462.8h1.8M164.0,462.8h1.8M203.5,462.8h1.8M95.9,464.0h3.6M106.7,464.0h1.8M112.0,464.0h1.8M122.8,464.0h1.8M126.4,464.0h1.8M146.1,464.0h1.8M190.9,464.0h1.8M20.6,465.2h1.8M106.7,465.2h1.8M113.8,465.2h1.8M146.1,465.2h1.8M72.6,466.4h1.8M126.4,466.4h1.8M155.1,466.4h1.8M167.6,466.4h1.8M199.9,466.4h1.8M208.8,466.4h1.8M47.5,467.6h1.8M72.6,467.6h1.8M90.5,467.6h1.8M135.3,467.6h1.8M155.1,467.6h1.8M165.8,467.6h1.8M198.1,467.6h1.8M203.5,467.6h1.8M63.6,468.8h1.8M92.3,468.8h1.8M122.8,468.8h1.8M153.3,468.8h1.8M171.2,468.8h1.8M194.5,468.8h1.8M208.8,468.8h1.8M83.3,470.0h1.8M88.7,470.0h1.8M95.9,470.0h1.8M131.7,470.0h1.8M149.7,470.0h1.8M162.2,470.0h5.4M183.7,470.0h1.8M190.9,470.0h1.8M203.5,470.0h1.8M47.5,471.2h1.8M54.7,471.2h1.8M72.6,471.2h3.6M83.3,471.2h1.8M86.9,471.2h1.8M92.3,471.2h1.8M173.0,471.2h1.8M178.4,471.2h1.8M185.5,471.2h1.8M216.0,471.2h1.8M45.7,472.4h1.8M54.7,472.4h1.8M65.4,472.4h1.8M79.8,472.4h1.8M88.7,472.4h1.8M133.5,472.4h1.8M137.1,472.4h1.8M178.4,472.4h1.8M185.5,472.4h3.6M210.6,472.4h1.8M34.9,473.6h1.8M51.1,473.6h1.8M58.2,473.6h1.8M72.6,473.6h1.8M83.3,473.6h1.8M110.2,473.6h1.8M126.4,473.6h1.8M167.6,473.6h5.4M29.6,474.8h1.8M63.6,474.8h1.8M74.4,474.8h3.6M131.7,474.8h1.8M155.1,474.8h1.8M162.2,474.8h1.8M169.4,474.8h1.8M29.6,476.0h1.8M52.9,476.0h1.8M85.1,476.0h1.8M97.7,476.0h1.8M122.8,476.0h1.8M126.4,476.0h1.8M147.9,476.0h1.8M158.6,476.0h1.8M173.0,476.0h1.8M176.6,476.0h1.8M185.5,476.0h1.8M194.5,476.0h1.8M51.1,477.2h1.8M61.8,477.2h1.8M65.4,477.2h1.8M79.8,477.2h1.8M86.9,477.2h1.8M95.9,477.2h1.8M112.0,477.2h1.8M137.1,477.2h1.8M146.1,477.2h1.8M149.7,477.2h1.8M167.6,477.2h1.8M201.7,477.2h1.8M214.2,477.2h1.8M126.4,478.4h1.8M131.7,478.4h1.8M149.7,478.4h1.8M160.4,478.4h1.8M181.9,478.4h1.8M76.2,479.6h1.8M112.0,479.6h1.8M153.3,479.6h1.8M169.4,479.6h1.8M199.9,479.6h1.8M203.5,479.6h1.8M24.2,480.8h1.8M94.1,480.8h3.6M124.6,480.8h1.8M128.2,480.8h1.8M156.8,480.8h1.8M160.4,480.8h1.8M181.9,480.8h1.8M196.3,480.8h1.8M208.8,480.8h1.8M216.0,480.8h1.8M94.1,482.0h3.6M138.9,482.0h1.8M144.3,482.0h1.8M165.8,482.0h1.8M169.4,482.0h1.8M176.6,482.0h1.8M181.9,482.0h1.8M201.7,482.0h1.8M52.9,483.2h1.8M90.5,483.2h1.8M106.7,483.2h1.8M164.0,483.2h1.8M174.8,483.2h1.8M187.3,483.2h1.8M192.7,483.2h1.8M198.1,483.2h1.8M43.9,484.4h1.8M51.1,484.4h1.8M113.8,484.4h1.8M138.9,484.4h1.8M149.7,484.4h1.8M164.0,484.4h1.8"/>
<path stroke="#350b09" d="M29.6,312.8h1.8M61.8,312.8h1.8M115.6,312.8h1.8M133.5,312.8h1.8M151.5,312.8h3.6M187.3,312.8h1.8M214.2,312.8h1.8M34.9,314.0h1.8M52.9,314.0h1.8M78.0,314.0h1.8M22.4,315.2h1.8M72.6,315.2h1.8M94.1,315.2h1.8M196.3,315.2h1.8M31.4,316.4h1.8M34.9,316.4h1.8M43.9,316.4h1.8M58.2,316.4h1.8M85.1,316.4h1.8M110.2,316.4h1.8M122.8,316.4h1.8M135.3,316.4h1.8M176.6,316.4h1.8M43.9,317.6h1.8M74.4,317.6h1.8M137.1,317.6h1.8M43.9,318.8h1.8M49.3,318.8h1.8M79.8,318.8h1.8M90.5,318.8h1.8M110.2,318.8h1.8M119.2,318.8h1.8M180.2,318.8h1.8M185.5,318.8h1.8M216.0,318.8h1.8M52.9,320.0h1.8M79.8,320.0h1.8M94.1,320.0h1.8M106.7,320.0h1.8M133.5,320.0h1.8M138.9,320.0h1.8M208.8,320.0h1.8M214.2,320.0h1.8M70.8,321.2h1.8M85.1,321.2h1.8M92.3,321.2h1.8M146.1,321.2h1.8M180.2,321.2h1.8M187.3,321.2h1.8M190.9,321.2h1.8M214.2,321.2h1.8M26.0,322.4h1.8M45.7,322.4h3.6M51.1,322.4h5.4M70.8,322.4h1.8M79.8,322.4h1.8M85.1,322.4h1.8M133.5,322.4h1.8M174.8,322.4h1.8M190.9,322.4h1.8M38.5,323.6h1.8M61.8,323.6h5.4M131.7,323.6h1.8M167.6,323.6h1.8M181.9,323.6h1.8M214.2,323.6h1.8M22.4,324.8h1.8M51.1,324.8h1.8M78.0,324.8h1.8M115.6,324.8h1.8M135.3,324.8h1.8M180.2,324.8h1.8M205.3,324.8h1.8M31.4,326.0h1.8M38.5,326.0h1.8M63.6,326.0h1.8M86.9,326.0h1.8M208.8,326.0h1.8M214.2,326.0h1.8M49.3,327.2h1.8M60.0,327.2h3.6M97.7,327.2h1.8M158.6,327.2h1.8M176.6,327.2h1.8M190.9,327.2h1.8M205.3,327.2h3.6M67.2,328.4h1.8M90.5,328.4h1.8M94.1,328.4h3.6M133.5,328.4h1.8M156.8,328.4h1.8M178.4,328.4h3.6M190.9,328.4h1.8M203.5,328.4h1.8M214.2,328.4h1.8M33.1,329.6h1.8M45.7,329.6h1.8M76.2,329.6h1.8M90.5,329.6h3.6M122.8,329.6h1.8M137.1,329.6h3.6M153.3,329.6h1.8M190.9,329.6h1.8M36.7,330.8h1.8M58.2,330.8h1.8M78.0,330.8h1.8M92.3,330.8h1.8M97.7,330.8h1.8M171.2,330.8h1.8M187.3,330.8h1.8M24.2,332.0h1.8M40.3,332.0h1.8M70.8,332.0h1.8M94.1,332.0h1.8M113.8,332.0h5.4M130.0,332.0h1.8M135.3,332.0h1.8M194.5,332.0h1.8M20.6,333.2h3.6M70.8,333.2h1.8M151.5,333.2h1.8M174.8,333.2h1.8M181.9,333.2h1.8M207.0,333.2h1.8M212.4,333.2h1.8M24.2,334.4h1.8M74.4,334.4h1.8M83.3,334.4h1.8M86.9,334.4h1.8M131.7,334.4h1.8M212.4,334.4h1.8M54.7,335.6h1.8M60.0,335.6h1.8M81.6,335.6h1.8M86.9,335.6h1.8M103.1,335.6h1.8M137.1,335.6h1.8M189.1,335.6h1.8M198.1,335.6h1.8M63.6,336.8h1.8M135.3,336.8h1.8M138.9,336.8h1.8M142.5,336.8h1.8M171.2,336.8h1.8M180.2,336.8h3.6M187.3,336.8h1.8M20.6,338.0h1.8M26.0,338.0h1.8M29.6,338.0h1.8M36.7,338.0h1.8M54.7,338.0h1.8M58.2,338.0h1.8M92.3,338.0h1.8M178.4,338.0h1.8M192.7,338.0h1.8M196.3,338.0h1.8M199.9,338.0h1.8M26.0,339.2h1.8M131.7,339.2h1.8M135.3,339.2h1.8M171.2,339.2h1.8M183.7,339.2h1.8M203.5,339.2h1.8M45.7,340.4h1.8M74.4,340.4h1.8M81.6,340.4h1.8M113.8,340.4h1.8M216.0,340.4h1.8M104.9,341.6h1.8M174.8,341.6h1.8M181.9,341.6h3.6M56.5,342.8h1.8M133.5,342.8h1.8M178.4,342.8h1.8M34.9,344.0h1.8M54.7,344.0h1.8M63.6,344.0h1.8M81.6,344.0h1.8M113.8,344.0h1.8M192.7,344.0h1.8M210.6,344.0h1.8M31.4,345.2h1.8M36.7,345.2h1.8M83.3,345.2h1.8M90.5,345.2h1.8M122.8,345.2h1.8M142.5,345.2h1.8M183.7,345.2h1.8M198.1,345.2h1.8M20.6,346.4h1.8M27.8,346.4h1.8M45.7,346.4h1.8M52.9,346.4h1.8M67.2,346.4h1.8M113.8,346.4h1.8M133.5,346.4h1.8M137.1,346.4h1.8M174.8,346.4h3.6M192.7,346.4h1.8M36.7,347.6h3.6M47.5,347.6h1.8M52.9,347.6h3.6M65.4,347.6h3.6M74.4,347.6h1.8M113.8,347.6h1.8M130.0,347.6h3.6M196.3,347.6h1.8M203.5,347.6h1.8M210.6,347.6h1.8M22.4,348.8h3.6M49.3,348.8h3.6M79.8,348.8h1.8M142.5,348.8h1.8M180.2,348.8h1.8M22.4,350.0h1.8M29.6,350.0h1.8M36.7,350.0h1.8M54.7,350.0h1.8M196.3,350.0h5.4M203.5,350.0h1.8M216.0,350.0h1.8M81.6,351.2h1.8M189.1,351.2h1.8M192.7,351.2h1.8M214.2,351.2h1.8M38.5,352.4h1.8M52.9,352.4h1.8M58.2,352.4h1.8M65.4,352.4h1.8M76.2,352.4h1.8M94.1,352.4h1.8M138.9,352.4h1.8M173.0,352.4h1.8M210.6,352.4h1.8M24.2,353.6h3.6M36.7,353.6h1.8M45.7,353.6h1.8M74.4,353.6h3.6M83.3,353.6h1.8M90.5,353.6h5.4M133.5,353.6h1.8M210.6,353.6h3.6M45.7,354.8h1.8M56.5,354.8h1.8M61.8,354.8h1.8M76.2,354.8h1.8M86.9,354.8h1.8M151.5,354.8h1.8M194.5,354.8h1.8M212.4,354.8h1.8M51.1,356.0h1.8M56.5,356.0h1.8M74.4,356.0h1.8M153.3,356.0h1.8M156.8,356.0h1.8M162.2,356.0h1.8M210.6,356.0h1.8M83.3,357.2h1.8M95.9,357.2h1.8M112.0,357.2h3.6M149.7,357.2h5.4M22.4,358.4h1.8M47.5,358.4h1.8M151.5,358.4h1.8M189.1,358.4h1.8M20.6,359.6h1.8M60.0,359.6h1.8M92.3,359.6h1.8M31.4,360.8h1.8M42.1,360.8h1.8M52.9,360.8h1.8M61.8,360.8h1.8M67.2,360.8h1.8M95.9,360.8h1.8M99.5,360.8h1.8M108.4,360.8h3.6M212.4,360.8h1.8M29.6,362.0h3.6M72.6,362.0h1.8M97.7,362.0h1.8M181.9,362.0h1.8M49.3,363.2h1.8M60.0,363.2h1.8M86.9,363.2h1.8M104.9,363.2h1.8M126.4,363.2h1.8M135.3,363.2h1.8M167.6,363.2h1.8M216.0,363.2h1.8M31.4,364.4h1.8M69.0,364.4h1.8M74.4,364.4h1.8M85.1,364.4h1.8M95.9,364.4h3.6M133.5,364.4h1.8M153.3,364.4h1.8M158.6,364.4h1.8M169.4,364.4h3.6M183.7,364.4h1.8M189.1,364.4h3.6M203.5,364.4h1.8M207.0,364.4h1.8M56.5,365.6h1.8M74.4,365.6h1.8M113.8,365.6h1.8M181.9,365.6h1.8M94.1,366.8h1.8M110.2,366.8h1.8M122.8,366.8h1.8M155.1,366.8h1.8M164.0,366.8h1.8M176.6,366.8h1.8M205.3,366.8h3.6M108.4,368.0h1.8M180.2,368.0h1.8M190.9,368.0h1.8M20.6,369.2h1.8M49.3,369.2h1.8M95.9,369.2h1.8M130.0,369.2h1.8M199.9,369.2h3.6M36.7,370.4h1.8M110.2,370.4h3.6M133.5,370.4h1.8M164.0,370.4h1.8M174.8,370.4h1.8M210.6,370.4h1.8M34.9,371.6h1.8M40.3,371.6h1.8M52.9,371.6h1.8M58.2,371.6h1.8M83.3,371.6h1.8M90.5,371.6h1.8M108.4,371.6h1.8M173.0,371.6h1.8M196.3,371.6h1.8M203.5,371.6h1.8M210.6,371.6h1.8M31.4,372.8h1.8M51.1,372.8h1.8M70.8,372.8h1.8M112.0,372.8h1.8M131.7,372.8h1.8M135.3,372.8h1.8M151.5,372.8h1.8M181.9,372.8h1.8M189.1,372.8h3.6M194.5,372.8h1.8M27.8,374.0h1.8M54.7,374.0h1.8M74.4,374.0h1.8M88.7,374.0h1.8M103.1,374.0h1.8M146.1,374.0h1.8M155.1,374.0h1.8M36.7,375.2h1.8M45.7,375.2h1.8M60.0,375.2h1.8M85.1,375.2h1.8M94.1,375.2h1.8M121.0,375.2h1.8M140.7,375.2h1.8M156.8,375.2h1.8M164.0,375.2h1.8M194.5,375.2h1.8M70.8,376.4h1.8M76.2,376.4h1.8M101.3,376.4h1.8M151.5,376.4h1.8M22.4,377.6h1.8M31.4,377.6h1.8M56.5,377.6h3.6M104.9,377.6h1.8M110.2,377.6h1.8M115.6,377.6h1.8M121.0,377.6h1.8M146.1,377.6h1.8M155.1,377.6h1.8M160.4,377.6h1.8M212.4,377.6h1.8M22.4,378.8h1.8M49.3,378.8h1.8M61.8,378.8h1.8M88.7,378.8h1.8M149.7,378.8h3.6M164.0,378.8h1.8M185.5,378.8h1.8M29.6,380.0h1.8M40.3,380.0h1.8M56.5,380.0h1.8M70.8,380.0h1.8M103.1,380.0h1.8M112.0,380.0h3.6M119.2,380.0h3.6M124.6,380.0h1.8M128.2,380.0h1.8M137.1,380.0h1.8M146.1,380.0h1.8M153.3,380.0h1.8M160.4,380.0h1.8M198.1,380.0h1.8M61.8,381.2h1.8M65.4,381.2h1.8M85.1,381.2h1.8M103.1,381.2h1.8M124.6,381.2h1.8M131.7,381.2h1.8M171.2,381.2h1.8M192.7,381.2h1.8M198.1,381.2h1.8M45.7,382.4h1.8M49.3,382.4h1.8M52.9,382.4h1.8M72.6,382.4h1.8M88.7,382.4h1.8M126.4,382.4h1.8M138.9,382.4h1.8M146.1,382.4h1.8M79.8,383.6h1.8M94.1,383.6h1.8M155.1,383.6h1.8M165.8,383.6h1.8M180.2,383.6h1.8M194.5,383.6h3.6M20.6,384.8h1.8M79.8,384.8h1.8M124.6,384.8h1.8M138.9,384.8h1.8M156.8,384.8h1.8M162.2,384.8h1.8M180.2,384.8h1.8M207.0,384.8h1.8M20.6,386.0h1.8M38.5,386.0h1.8M79.8,386.0h1.8M86.9,386.0h1.8M99.5,386.0h1.8M131.7,386.0h1.8M192.7,386.0h1.8M216.0,386.0h1.8M45.7,387.2h1.8M52.9,387.2h1.8M106.7,387.2h1.8M124.6,387.2h1.8M135.3,387.2h1.8M140.7,387.2h1.8M20.6,388.4h1.8M26.0,388.4h1.8M49.3,388.4h3.6M56.5,388.4h5.4M63.6,388.4h1.8M76.2,388.4h1.8M86.9,388.4h3.6M99.5,388.4h1.8M112.0,388.4h1.8M155.1,388.4h1.8M199.9,388.4h1.8M203.5,388.4h1.8M70.8,389.6h1.8M76.2,389.6h1.8M124.6,389.6h3.6M174.8,389.6h1.8M192.7,389.6h1.8M214.2,389.6h1.8M47.5,390.8h1.8M74.4,390.8h1.8M131.7,390.8h1.8M183.7,390.8h1.8M216.0,390.8h1.8M29.6,392.0h1.8M43.9,392.0h1.8M51.1,392.0h3.6M61.8,392.0h1.8M153.3,392.0h1.8M169.4,392.0h1.8M187.3,392.0h1.8M33.1,393.2h1.8M36.7,393.2h1.8M52.9,393.2h1.8M90.5,393.2h1.8M99.5,393.2h1.8M122.8,393.2h1.8M135.3,393.2h1.8M138.9,393.2h1.8M164.0,393.2h1.8M169.4,393.2h1.8M173.0,393.2h3.6M199.9,393.2h1.8M97.7,394.4h1.8M115.6,394.4h1.8M131.7,394.4h1.8M192.7,394.4h1.8M86.9,395.6h3.6M92.3,395.6h3.6M167.6,395.6h1.8M47.5,396.8h1.8M65.4,396.8h1.8M113.8,396.8h1.8M156.8,396.8h1.8M208.8,396.8h1.8M49.3,398.0h1.8M112.0,398.0h3.6M122.8,398.0h1.8M140.7,398.0h1.8M155.1,398.0h1.8M160.4,398.0h3.6M178.4,398.0h1.8M212.4,398.0h1.8M38.5,399.2h1.8M45.7,399.2h1.8M54.7,399.2h1.8M61.8,399.2h1.8M67.2,399.2h1.8M79.8,399.2h1.8M135.3,399.2h1.8M151.5,399.2h1.8M165.8,399.2h3.6M194.5,399.2h1.8M207.0,399.2h1.8M212.4,399.2h1.8M58.2,400.4h1.8M67.2,400.4h1.8M72.6,400.4h1.8M95.9,400.4h1.8M103.1,400.4h1.8M108.4,400.4h1.8M112.0,400.4h1.8M121.0,400.4h1.8M126.4,400.4h1.8M133.5,400.4h3.6M169.4,400.4h1.8M176.6,400.4h1.8M181.9,400.4h1.8M199.9,400.4h3.6M210.6,400.4h3.6M43.9,401.6h1.8M58.2,401.6h1.8M70.8,401.6h1.8M86.9,401.6h1.8M117.4,401.6h1.8M122.8,401.6h1.8M126.4,401.6h1.8M131.7,401.6h1.8M138.9,401.6h1.8M149.7,401.6h1.8M185.5,401.6h1.8M199.9,401.6h1.8M205.3,401.6h1.8M108.4,402.8h5.4M131.7,402.8h1.8M149.7,402.8h1.8M165.8,402.8h1.8M171.2,402.8h1.8M214.2,402.8h3.6M26.0,404.0h1.8M40.3,404.0h1.8M52.9,404.0h3.6M88.7,404.0h1.8M92.3,404.0h1.8M112.0,404.0h1.8M131.7,404.0h1.8M165.8,404.0h1.8M178.4,404.0h1.8M181.9,404.0h1.8M189.1,404.0h1.8M194.5,404.0h1.8M24.2,405.2h5.4M74.4,405.2h1.8M99.5,405.2h1.8M126.4,405.2h1.8M133.5,405.2h1.8M138.9,405.2h1.8M142.5,405.2h1.8M160.4,405.2h1.8M171.2,405.2h1.8M29.6,406.4h1.8M103.1,406.4h1.8M124.6,406.4h1.8M160.4,406.4h1.8M173.0,406.4h1.8M34.9,407.6h1.8M58.2,407.6h1.8M78.0,407.6h1.8M131.7,407.6h1.8M207.0,407.6h1.8M70.8,408.8h1.8M97.7,408.8h1.8M156.8,408.8h1.8M176.6,408.8h1.8M185.5,408.8h1.8M196.3,408.8h1.8M216.0,408.8h1.8M56.5,410.0h1.8M63.6,410.0h1.8M76.2,410.0h1.8M92.3,410.0h1.8M110.2,410.0h1.8M113.8,410.0h1.8M133.5,410.0h1.8M142.5,410.0h1.8M167.6,410.0h1.8M60.0,411.2h1.8M63.6,411.2h1.8M72.6,411.2h1.8M133.5,411.2h1.8M146.1,411.2h1.8M162.2,411.2h1.8M171.2,411.2h1.8M180.2,411.2h1.8M194.5,411.2h1.8M201.7,411.2h3.6M47.5,412.4h3.6M63.6,412.4h1.8M81.6,412.4h1.8M133.5,412.4h1.8M180.2,412.4h3.6M194.5,412.4h1.8M203.5,412.4h1.8M92.3,413.6h1.8M130.0,413.6h1.8M142.5,413.6h1.8M167.6,413.6h1.8M181.9,413.6h1.8M201.7,413.6h1.8M20.6,414.8h1.8M70.8,414.8h1.8M74.4,414.8h1.8M112.0,414.8h1.8M151.5,414.8h1.8M29.6,416.0h1.8M86.9,416.0h1.8M121.0,416.0h1.8M167.6,416.0h1.8M171.2,416.0h7.2M183.7,416.0h1.8M189.1,416.0h1.8M31.4,417.2h1.8M56.5,417.2h1.8M81.6,417.2h1.8M122.8,417.2h1.8M171.2,417.2h3.6M216.0,417.2h1.8M144.3,418.4h1.8M190.9,418.4h1.8M201.7,418.4h1.8M110.2,419.6h1.8M117.4,419.6h1.8M126.4,419.6h1.8M130.0,419.6h3.6M137.1,419.6h1.8M140.7,419.6h1.8M151.5,419.6h1.8M167.6,419.6h3.6M183.7,419.6h1.8M189.1,419.6h1.8M196.3,419.6h1.8M207.0,419.6h3.6M61.8,420.8h1.8M128.2,420.8h1.8M187.3,420.8h1.8M194.5,420.8h1.8M205.3,420.8h1.8M40.3,422.0h1.8M81.6,422.0h1.8M135.3,422.0h1.8M164.0,422.0h1.8M169.4,422.0h1.8M173.0,422.0h1.8M198.1,422.0h3.6M45.7,423.2h1.8M56.5,423.2h1.8M76.2,423.2h1.8M110.2,423.2h1.8M130.0,423.2h1.8M144.3,423.2h1.8M151.5,423.2h1.8M169.4,423.2h1.8M180.2,423.2h1.8M187.3,423.2h1.8M198.1,423.2h1.8M201.7,423.2h1.8M207.0,423.2h1.8M47.5,424.4h3.6M52.9,424.4h1.8M153.3,424.4h1.8M160.4,424.4h1.8M167.6,424.4h3.6M212.4,424.4h3.6M60.0,425.6h1.8M138.9,425.6h1.8M146.1,425.6h1.8M151.5,425.6h1.8M156.8,425.6h3.6M167.6,425.6h1.8M196.3,425.6h1.8M36.7,426.8h1.8M164.0,426.8h1.8M180.2,426.8h1.8M189.1,426.8h1.8M78.0,428.0h1.8M133.5,428.0h3.6M149.7,428.0h1.8M164.0,428.0h1.8M216.0,428.0h1.8M85.1,429.2h1.8M138.9,429.2h1.8M72.6,430.4h3.6M121.0,430.4h1.8M156.8,430.4h3.6M165.8,430.4h1.8M183.7,430.4h1.8M208.8,430.4h1.8M65.4,431.6h1.8M86.9,431.6h1.8M106.7,431.6h1.8M124.6,431.6h1.8M133.5,431.6h1.8M160.4,431.6h1.8M164.0,431.6h1.8M174.8,431.6h1.8M56.5,432.8h1.8M78.0,432.8h1.8M85.1,432.8h1.8M121.0,432.8h1.8M147.9,432.8h1.8M162.2,432.8h1.8M174.8,432.8h1.8M181.9,432.8h1.8M190.9,432.8h1.8M135.3,434.0h1.8M146.1,434.0h3.6M156.8,434.0h1.8M165.8,434.0h1.8M171.2,434.0h1.8M180.2,434.0h1.8M208.8,434.0h1.8M212.4,434.0h1.8M36.7,435.2h1.8M45.7,435.2h1.8M79.8,435.2h1.8M133.5,435.2h1.8M162.2,435.2h1.8M180.2,435.2h1.8M78.0,436.4h1.8M72.6,437.6h1.8M76.2,437.6h1.8M90.5,437.6h5.4M110.2,437.6h1.8M165.8,437.6h1.8M47.5,438.8h1.8M51.1,438.8h1.8M140.7,438.8h1.8M156.8,438.8h1.8M183.7,438.8h1.8M199.9,438.8h1.8M49.3,440.0h3.6M61.8,440.0h1.8M70.8,440.0h1.8M130.0,440.0h1.8M146.1,440.0h1.8M173.0,440.0h1.8M201.7,440.0h1.8M65.4,441.2h1.8M122.8,441.2h1.8M142.5,441.2h1.8M151.5,441.2h1.8M155.1,441.2h1.8M164.0,441.2h3.6M169.4,441.2h1.8M198.1,441.2h1.8M203.5,441.2h1.8M88.7,442.4h1.8M95.9,442.4h1.8M165.8,442.4h1.8M178.4,442.4h1.8M189.1,442.4h1.8M61.8,443.6h1.8M180.2,443.6h1.8M216.0,443.6h1.8M47.5,444.8h1.8M58.2,444.8h1.8M61.8,444.8h1.8M130.0,444.8h1.8M156.8,444.8h1.8M169.4,444.8h1.8M208.8,444.8h1.8M63.6,446.0h1.8M78.0,446.0h1.8M128.2,446.0h1.8M169.4,446.0h1.8M189.1,446.0h3.6M210.6,446.0h1.8M45.7,447.2h1.8M79.8,447.2h1.8M88.7,447.2h1.8M95.9,447.2h1.8M119.2,447.2h1.8M178.4,447.2h3.6M185.5,447.2h1.8M20.6,448.4h1.8M34.9,448.4h1.8M61.8,448.4h1.8M72.6,448.4h1.8M131.7,448.4h1.8M137.1,448.4h3.6M151.5,448.4h1.8M155.1,448.4h1.8M56.5,449.6h1.8M126.4,449.6h1.8M146.1,449.6h1.8M153.3,449.6h1.8M173.0,449.6h1.8M92.3,450.8h1.8M189.1,450.8h1.8M40.3,452.0h1.8M156.8,452.0h1.8M194.5,452.0h1.8M34.9,453.2h1.8M76.2,453.2h1.8M88.7,453.2h1.8M94.1,453.2h1.8M47.5,454.4h1.8M65.4,454.4h1.8M72.6,454.4h1.8M140.7,454.4h1.8M174.8,454.4h3.6M180.2,454.4h1.8M199.9,454.4h1.8M214.2,454.4h3.6M47.5,455.6h1.8M56.5,455.6h1.8M60.0,455.6h1.8M94.1,455.6h1.8M126.4,455.6h1.8M133.5,455.6h3.6M142.5,455.6h3.6M165.8,455.6h1.8M194.5,455.6h1.8M212.4,455.6h1.8M43.9,456.8h1.8M60.0,456.8h1.8M67.2,456.8h1.8M146.1,456.8h1.8M194.5,456.8h1.8M45.7,458.0h1.8M88.7,458.0h1.8M94.1,458.0h1.8M142.5,458.0h1.8M149.7,458.0h3.6M216.0,458.0h1.8M36.7,459.2h1.8M40.3,459.2h3.6M58.2,459.2h1.8M78.0,459.2h1.8M81.6,459.2h1.8M85.1,459.2h1.8M95.9,459.2h1.8M115.6,459.2h1.8M122.8,459.2h1.8M146.1,459.2h3.6M153.3,459.2h1.8M185.5,459.2h1.8M207.0,459.2h3.6M45.7,460.4h1.8M51.1,460.4h1.8M67.2,460.4h1.8M74.4,460.4h1.8M97.7,460.4h1.8M131.7,460.4h1.8M140.7,460.4h1.8M181.9,460.4h1.8M185.5,460.4h1.8M198.1,460.4h1.8M24.2,461.6h1.8M38.5,461.6h1.8M42.1,461.6h3.6M56.5,461.6h1.8M81.6,461.6h1.8M85.1,461.6h1.8M88.7,461.6h1.8M140.7,461.6h1.8M164.0,461.6h3.6M171.2,461.6h1.8M22.4,462.8h1.8M36.7,462.8h1.8M56.5,462.8h1.8M61.8,462.8h1.8M79.8,462.8h1.8M113.8,462.8h1.8M146.1,462.8h1.8M180.2,462.8h1.8M205.3,462.8h1.8M45.7,464.0h1.8M76.2,464.0h1.8M138.9,464.0h1.8M142.5,464.0h1.8M169.4,464.0h1.8M173.0,464.0h1.8M178.4,464.0h1.8M60.0,465.2h1.8M78.0,465.2h1.8M81.6,465.2h1.8M190.9,465.2h1.8M56.5,466.4h1.8M70.8,466.4h1.8M79.8,466.4h1.8M88.7,466.4h1.8M97.7,466.4h1.8M205.3,466.4h1.8M36.7,467.6h1.8M86.9,467.6h1.8M110.2,467.6h1.8M133.5,467.6h1.8M137.1,467.6h1.8M146.1,467.6h1.8M149.7,467.6h1.8M212.4,467.6h1.8M79.8,468.8h1.8M83.3,468.8h3.6M133.5,468.8h1.8M140.7,468.8h1.8M165.8,468.8h1.8M183.7,468.8h1.8M207.0,468.8h1.8M214.2,468.8h1.8M160.4,470.0h1.8M181.9,470.0h1.8M201.7,470.0h1.8M24.2,471.2h1.8M40.3,471.2h1.8M61.8,471.2h1.8M67.2,471.2h1.8M106.7,471.2h1.8M124.6,471.2h1.8M142.5,471.2h1.8M156.8,471.2h1.8M162.2,471.2h3.6M108.4,472.4h1.8M181.9,472.4h1.8M199.9,472.4h3.6M212.4,472.4h3.6M60.0,473.6h1.8M67.2,473.6h1.8M117.4,473.6h5.4M124.6,473.6h1.8M133.5,473.6h1.8M156.8,473.6h1.8M176.6,473.6h1.8M196.3,473.6h1.8M201.7,473.6h1.8M208.8,473.6h1.8M86.9,474.8h1.8M133.5,474.8h1.8M167.6,474.8h1.8M180.2,474.8h1.8M192.7,474.8h1.8M208.8,474.8h1.8M22.4,476.0h1.8M40.3,476.0h1.8M58.2,476.0h1.8M61.8,476.0h1.8M88.7,476.0h1.8M104.9,476.0h3.6M131.7,476.0h1.8M149.7,476.0h1.8M183.7,476.0h1.8M187.3,476.0h1.8M190.9,476.0h3.6M198.1,476.0h1.8M52.9,477.2h1.8M78.0,477.2h1.8M88.7,477.2h3.6M126.4,477.2h1.8M138.9,477.2h1.8M155.1,477.2h1.8M171.2,477.2h1.8M207.0,477.2h3.6M61.8,478.4h1.8M76.2,478.4h1.8M92.3,478.4h1.8M128.2,478.4h1.8M167.6,478.4h1.8M187.3,478.4h1.8M198.1,478.4h1.8M92.3,479.6h1.8M104.9,479.6h1.8M126.4,479.6h3.6M201.7,479.6h1.8M205.3,479.6h1.8M214.2,479.6h3.6M20.6,480.8h1.8M70.8,480.8h1.8M74.4,480.8h1.8M122.8,480.8h1.8M180.2,480.8h1.8M183.7,480.8h5.4M203.5,480.8h1.8M210.6,480.8h1.8M61.8,482.0h1.8M72.6,482.0h1.8M88.7,482.0h1.8M92.3,482.0h1.8M149.7,482.0h1.8M130.0,483.2h1.8M207.0,483.2h1.8M212.4,483.2h1.8M216.0,483.2h1.8M86.9,484.4h3.6M92.3,484.4h1.8M119.2,484.4h1.8M122.8,484.4h1.8M130.0,484.4h1.8M140.7,484.4h1.8M169.4,484.4h1.8M174.8,484.4h1.8M210.6,484.4h1.8"/>
<path stroke="#480d0b" d="M20.6,312.8h1.8M38.5,312.8h1.8M45.7,312.8h1.8M74.4,312.8h1.8M92.3,312.8h1.8M174.8,312.8h1.8M189.1,312.8h1.8M212.4,312.8h1.8M63.6,314.0h1.8M88.7,314.0h3.6M104.9,314.0h1.8M160.4,314.0h1.8M34.9,315.2h1.8M65.4,315.2h1.8M104.9,315.2h1.8M174.8,315.2h1.8M187.3,315.2h5.4M198.1,315.2h1.8M205.3,315.2h3.6M216.0,315.2h1.8M26.0,316.4h1.8M29.6,316.4h1.8M36.7,316.4h1.8M49.3,316.4h1.8M69.0,316.4h1.8M81.6,316.4h1.8M106.7,316.4h1.8M131.7,316.4h1.8M153.3,316.4h1.8M196.3,316.4h1.8M34.9,317.6h1.8M65.4,317.6h1.8M178.4,317.6h1.8M192.7,317.6h3.6M47.5,318.8h1.8M56.5,318.8h3.6M78.0,318.8h1.8M122.8,318.8h1.8M165.8,318.8h1.8M203.5,318.8h1.8M214.2,318.8h1.8M47.5,320.0h1.8M51.1,320.0h1.8M78.0,320.0h1.8M83.3,320.0h1.8M108.4,320.0h1.8M135.3,320.0h1.8M147.9,320.0h1.8M180.2,320.0h1.8M201.7,320.0h3.6M207.0,320.0h1.8M20.6,321.2h1.8M34.9,321.2h1.8M40.3,321.2h1.8M94.1,321.2h1.8M137.1,321.2h1.8M155.1,321.2h1.8M174.8,321.2h1.8M34.9,322.4h1.8M38.5,322.4h1.8M92.3,322.4h1.8M214.2,322.4h1.8M20.6,323.6h1.8M34.9,323.6h1.8M45.7,323.6h3.6M108.4,323.6h1.8M151.5,323.6h1.8M196.3,323.6h1.8M203.5,323.6h1.8M210.6,323.6h1.8M61.8,324.8h1.8M83.3,324.8h1.8M121.0,324.8h1.8M133.5,324.8h1.8M137.1,324.8h1.8M165.8,324.8h3.6M178.4,324.8h1.8M60.0,326.0h1.8M78.0,326.0h1.8M83.3,326.0h1.8M90.5,326.0h1.8M192.7,326.0h1.8M212.4,326.0h1.8M65.4,327.2h1.8M121.0,327.2h1.8M194.5,327.2h1.8M201.7,327.2h1.8M34.9,328.4h1.8M40.3,328.4h1.8M49.3,328.4h1.8M60.0,328.4h1.8M63.6,328.4h1.8M70.8,328.4h1.8M88.7,328.4h1.8M110.2,328.4h1.8M31.4,329.6h1.8M85.1,329.6h1.8M180.2,329.6h1.8M192.7,329.6h1.8M40.3,330.8h1.8M45.7,330.8h1.8M70.8,330.8h1.8M122.8,330.8h1.8M126.4,330.8h1.8M138.9,330.8h1.8M181.9,330.8h1.8M194.5,330.8h1.8M45.7,332.0h3.6M54.7,332.0h1.8M72.6,332.0h1.8M76.2,332.0h1.8M83.3,332.0h1.8M92.3,332.0h1.8M112.0,332.0h1.8M133.5,332.0h1.8M176.6,332.0h1.8M187.3,332.0h1.8M214.2,332.0h1.8M54.7,333.2h1.8M69.0,333.2h1.8M104.9,333.2h1.8M117.4,333.2h1.8M142.5,333.2h1.8M149.7,333.2h1.8M201.7,333.2h1.8M20.6,334.4h1.8M29.6,334.4h1.8M40.3,334.4h1.8M95.9,334.4h3.6M115.6,334.4h3.6M128.2,334.4h1.8M20.6,335.6h1.8M47.5,335.6h1.8M51.1,335.6h3.6M70.8,335.6h1.8M95.9,335.6h1.8M142.5,335.6h1.8M160.4,335.6h1.8M164.0,335.6h1.8M173.0,335.6h1.8M196.3,335.6h1.8M20.6,336.8h3.6M45.7,336.8h1.8M56.5,336.8h1.8M67.2,336.8h1.8M74.4,336.8h1.8M131.7,336.8h1.8M183.7,336.8h1.8M198.1,336.8h1.8M208.8,336.8h1.8M31.4,338.0h1.8M78.0,338.0h1.8M146.1,338.0h1.8M180.2,338.0h1.8M198.1,338.0h1.8M40.3,339.2h1.8M47.5,339.2h1.8M52.9,339.2h1.8M90.5,339.2h1.8M94.1,339.2h1.8M133.5,339.2h1.8M187.3,339.2h1.8M214.2,339.2h1.8M22.4,340.4h1.8M72.6,340.4h1.8M79.8,340.4h1.8M86.9,340.4h1.8M203.5,340.4h1.8M214.2,340.4h1.8M45.7,341.6h1.8M70.8,341.6h1.8M74.4,341.6h1.8M79.8,341.6h1.8M86.9,341.6h1.8M122.8,341.6h1.8M153.3,341.6h3.6M201.7,341.6h1.8M20.6,342.8h1.8M45.7,342.8h1.8M61.8,342.8h1.8M79.8,342.8h1.8M85.1,342.8h1.8M76.2,344.0h1.8M79.8,344.0h1.8M85.1,344.0h1.8M133.5,344.0h1.8M24.2,345.2h1.8M81.6,345.2h1.8M131.7,345.2h1.8M149.7,345.2h1.8M29.6,346.4h1.8M79.8,346.4h1.8M194.5,346.4h1.8M214.2,346.4h1.8M22.4,347.6h3.6M76.2,347.6h1.8M79.8,347.6h1.8M214.2,347.6h1.8M45.7,348.8h1.8M181.9,348.8h1.8M199.9,348.8h1.8M212.4,348.8h1.8M70.8,350.0h3.6M86.9,350.0h1.8M95.9,350.0h1.8M131.7,350.0h1.8M189.1,350.0h1.8M192.7,350.0h1.8M45.7,351.2h1.8M67.2,351.2h1.8M131.7,351.2h1.8M135.3,351.2h1.8M194.5,351.2h1.8M29.6,352.4h1.8M36.7,352.4h1.8M70.8,352.4h1.8M86.9,352.4h1.8M119.2,352.4h1.8M190.9,352.4h3.6M20.6,353.6h1.8M60.0,353.6h1.8M81.6,353.6h1.8M176.6,353.6h1.8M216.0,353.6h1.8M47.5,354.8h1.8M54.7,354.8h1.8M142.5,354.8h1.8M192.7,354.8h1.8M112.0,356.0h1.8M124.6,356.0h1.8M138.9,356.0h1.8M176.6,356.0h1.8M212.4,356.0h1.8M51.1,357.2h1.8M81.6,357.2h1.8M122.8,357.2h1.8M185.5,357.2h1.8M207.0,357.2h1.8M49.3,358.4h1.8M52.9,358.4h1.8M67.2,358.4h1.8M72.6,358.4h1.8M85.1,358.4h1.8M90.5,358.4h1.8M110.2,358.4h1.8M149.7,358.4h1.8M174.8,358.4h1.8M180.2,358.4h1.8M201.7,358.4h1.8M210.6,358.4h3.6M52.9,359.6h1.8M67.2,359.6h1.8M86.9,359.6h1.8M207.0,359.6h1.8M92.3,360.8h1.8M83.3,362.0h1.8M173.0,362.0h1.8M58.2,363.2h1.8M63.6,363.2h1.8M76.2,363.2h1.8M81.6,363.2h3.6M27.8,364.4h3.6M49.3,364.4h1.8M54.7,364.4h1.8M63.6,364.4h1.8M88.7,364.4h3.6M137.1,364.4h1.8M160.4,364.4h1.8M181.9,364.4h1.8M205.3,364.4h1.8M24.2,365.6h1.8M58.2,365.6h1.8M85.1,365.6h1.8M88.7,365.6h3.6M133.5,365.6h1.8M207.0,365.6h1.8M210.6,365.6h1.8M24.2,366.8h1.8M34.9,366.8h5.4M51.1,366.8h1.8M131.7,366.8h1.8M178.4,366.8h3.6M214.2,366.8h1.8M20.6,368.0h1.8M45.7,368.0h1.8M83.3,368.0h1.8M135.3,368.0h3.6M210.6,368.0h1.8M29.6,369.2h1.8M34.9,369.2h3.6M47.5,369.2h1.8M65.4,369.2h1.8M69.0,369.2h1.8M76.2,369.2h1.8M79.8,369.2h1.8M106.7,369.2h1.8M135.3,369.2h1.8M151.5,369.2h1.8M189.1,369.2h1.8M31.4,370.4h1.8M45.7,370.4h1.8M60.0,370.4h1.8M72.6,370.4h1.8M81.6,370.4h1.8M119.2,370.4h1.8M160.4,370.4h1.8M180.2,370.4h1.8M183.7,370.4h1.8M212.4,370.4h1.8M216.0,370.4h1.8M20.6,371.6h1.8M24.2,371.6h1.8M47.5,371.6h1.8M78.0,371.6h3.6M85.1,371.6h1.8M117.4,371.6h1.8M131.7,371.6h1.8M137.1,371.6h1.8M183.7,371.6h3.6M47.5,372.8h1.8M52.9,372.8h1.8M60.0,372.8h1.8M72.6,372.8h1.8M94.1,372.8h1.8M110.2,372.8h1.8M133.5,372.8h1.8M185.5,372.8h1.8M26.0,374.0h1.8M29.6,374.0h1.8M52.9,374.0h1.8M108.4,374.0h3.6M130.0,374.0h1.8M138.9,374.0h1.8M194.5,374.0h1.8M210.6,374.0h1.8M24.2,375.2h1.8M56.5,375.2h1.8M76.2,375.2h1.8M97.7,375.2h3.6M158.6,375.2h1.8M60.0,376.4h1.8M106.7,376.4h1.8M174.8,376.4h1.8M199.9,376.4h1.8M214.2,376.4h1.8M24.2,377.6h1.8M61.8,377.6h1.8M128.2,377.6h1.8M153.3,377.6h1.8M158.6,377.6h1.8M194.5,377.6h1.8M201.7,377.6h1.8M40.3,378.8h1.8M47.5,378.8h1.8M56.5,378.8h1.8M70.8,378.8h1.8M86.9,378.8h1.8M104.9,378.8h1.8M108.4,378.8h1.8M138.9,378.8h1.8M162.2,378.8h1.8M194.5,378.8h1.8M36.7,380.0h1.8M51.1,380.0h1.8M88.7,380.0h1.8M94.1,380.0h3.6M115.6,380.0h3.6M138.9,380.0h1.8M176.6,380.0h1.8M216.0,380.0h1.8M42.1,381.2h1.8M49.3,381.2h1.8M56.5,381.2h1.8M72.6,381.2h1.8M79.8,381.2h1.8M97.7,381.2h1.8M121.0,381.2h3.6M135.3,381.2h1.8M140.7,381.2h1.8M156.8,381.2h1.8M201.7,381.2h1.8M104.9,382.4h1.8M140.7,382.4h3.6M192.7,382.4h1.8M86.9,383.6h3.6M103.1,383.6h1.8M112.0,383.6h1.8M121.0,383.6h1.8M131.7,383.6h1.8M138.9,383.6h1.8M160.4,383.6h1.8M190.9,383.6h1.8M210.6,383.6h1.8M45.7,384.8h1.8M113.8,384.8h1.8M121.0,384.8h1.8M158.6,384.8h1.8M190.9,384.8h1.8M43.9,386.0h1.8M52.9,386.0h1.8M56.5,386.0h1.8M78.0,386.0h1.8M104.9,386.0h1.8M178.4,386.0h1.8M47.5,387.2h1.8M56.5,387.2h1.8M108.4,387.2h1.8M122.8,387.2h1.8M142.5,387.2h1.8M151.5,387.2h1.8M165.8,387.2h1.8M214.2,387.2h1.8M34.9,388.4h1.8M70.8,388.4h3.6M90.5,388.4h5.4M119.2,388.4h1.8M167.6,388.4h1.8M178.4,388.4h1.8M192.7,388.4h1.8M214.2,388.4h1.8M26.0,389.6h1.8M151.5,389.6h1.8M181.9,389.6h1.8M70.8,390.8h1.8M85.1,390.8h1.8M108.4,390.8h1.8M115.6,390.8h1.8M140.7,390.8h1.8M149.7,390.8h1.8M156.8,390.8h3.6M174.8,390.8h1.8M180.2,390.8h1.8M189.1,390.8h1.8M207.0,390.8h1.8M210.6,390.8h1.8M26.0,392.0h1.8M45.7,392.0h1.8M70.8,392.0h3.6M103.1,392.0h1.8M135.3,392.0h1.8M194.5,392.0h1.8M198.1,392.0h1.8M58.2,393.2h1.8M61.8,393.2h1.8M67.2,393.2h1.8M72.6,393.2h1.8M95.9,393.2h1.8M103.1,393.2h3.6M121.0,393.2h1.8M124.6,393.2h1.8M130.0,393.2h1.8M140.7,393.2h1.8M151.5,393.2h1.8M203.5,393.2h1.8M49.3,394.4h1.8M67.2,394.4h1.8M119.2,394.4h3.6M133.5,394.4h1.8M151.5,394.4h1.8M171.2,394.4h1.8M194.5,394.4h1.8M54.7,395.6h1.8M97.7,395.6h1.8M113.8,395.6h1.8M122.8,395.6h3.6M131.7,395.6h1.8M147.9,395.6h1.8M194.5,395.6h3.6M201.7,395.6h3.6M214.2,395.6h1.8M61.8,396.8h1.8M67.2,396.8h1.8M108.4,396.8h1.8M115.6,396.8h1.8M131.7,396.8h1.8M176.6,396.8h1.8M192.7,396.8h1.8M196.3,396.8h1.8M40.3,398.0h1.8M51.1,398.0h1.8M60.0,398.0h1.8M72.6,398.0h1.8M108.4,398.0h1.8M124.6,398.0h3.6M138.9,398.0h1.8M151.5,398.0h1.8M176.6,398.0h1.8M47.5,399.2h1.8M52.9,399.2h1.8M83.3,399.2h1.8M92.3,399.2h1.8M95.9,399.2h1.8M113.8,399.2h1.8M128.2,399.2h1.8M133.5,399.2h1.8M146.1,399.2h1.8M158.6,399.2h1.8M169.4,399.2h1.8M178.4,399.2h3.6M31.4,400.4h1.8M122.8,400.4h3.6M128.2,400.4h1.8M149.7,400.4h1.8M167.6,400.4h1.8M128.2,401.6h3.6M146.1,401.6h1.8M160.4,401.6h1.8M176.6,401.6h5.4M196.3,401.6h3.6M201.7,401.6h1.8M207.0,401.6h1.8M45.7,402.8h1.8M70.8,402.8h1.8M101.3,402.8h1.8M106.7,402.8h1.8M20.6,404.0h1.8M29.6,404.0h1.8M86.9,404.0h1.8M90.5,404.0h1.8M126.4,404.0h1.8M149.7,404.0h1.8M171.2,404.0h1.8M180.2,404.0h1.8M185.5,404.0h1.8M190.9,404.0h1.8M47.5,405.2h1.8M52.9,405.2h1.8M63.6,405.2h1.8M97.7,405.2h1.8M122.8,405.2h1.8M140.7,405.2h1.8M151.5,405.2h5.4M158.6,405.2h1.8M169.4,405.2h1.8M210.6,405.2h1.8M76.2,406.4h1.8M86.9,406.4h1.8M90.5,406.4h1.8M94.1,406.4h1.8M158.6,406.4h1.8M174.8,406.4h1.8M194.5,406.4h5.4M212.4,406.4h1.8M24.2,407.6h1.8M45.7,407.6h1.8M63.6,407.6h1.8M83.3,407.6h1.8M104.9,407.6h1.8M122.8,407.6h1.8M160.4,407.6h1.8M165.8,407.6h1.8M208.8,407.6h1.8M51.1,408.8h1.8M60.0,408.8h1.8M92.3,408.8h1.8M104.9,408.8h1.8M146.1,408.8h1.8M149.7,408.8h1.8M165.8,408.8h1.8M174.8,408.8h1.8M183.7,408.8h1.8M192.7,408.8h1.8M201.7,408.8h1.8M79.8,410.0h1.8M90.5,410.0h1.8M124.6,410.0h1.8M153.3,410.0h1.8M94.1,411.2h1.8M122.8,411.2h1.8M149.7,411.2h1.8M158.6,411.2h1.8M198.1,411.2h1.8M212.4,411.2h1.8M40.3,412.4h1.8M70.8,412.4h1.8M90.5,412.4h1.8M124.6,412.4h1.8M147.9,412.4h1.8M171.2,412.4h1.8M178.4,412.4h1.8M192.7,412.4h1.8M214.2,412.4h1.8M51.1,413.6h1.8M70.8,413.6h1.8M74.4,413.6h3.6M149.7,413.6h3.6M183.7,413.6h3.6M214.2,413.6h1.8M34.9,414.8h1.8M56.5,414.8h1.8M72.6,414.8h1.8M106.7,414.8h1.8M117.4,414.8h1.8M133.5,414.8h1.8M203.5,414.8h1.8M133.5,416.0h1.8M178.4,416.0h1.8M185.5,416.0h1.8M208.8,416.0h1.8M212.4,416.0h5.4M61.8,417.2h1.8M79.8,417.2h1.8M90.5,417.2h1.8M151.5,417.2h3.6M156.8,417.2h1.8M160.4,417.2h1.8M165.8,417.2h1.8M34.9,418.4h1.8M65.4,418.4h1.8M110.2,418.4h1.8M115.6,418.4h1.8M135.3,418.4h1.8M72.6,419.6h1.8M83.3,419.6h1.8M133.5,419.6h1.8M160.4,419.6h1.8M165.8,419.6h1.8M198.1,419.6h3.6M149.7,420.8h1.8M156.8,420.8h1.8M164.0,420.8h1.8M173.0,420.8h1.8M185.5,420.8h1.8M196.3,420.8h1.8M72.6,422.0h1.8M85.1,422.0h1.8M90.5,422.0h1.8M158.6,422.0h1.8M171.2,422.0h1.8M190.9,422.0h1.8M72.6,423.2h1.8M158.6,423.2h1.8M171.2,423.2h1.8M176.6,423.2h3.6M189.1,423.2h1.8M208.8,423.2h1.8M205.3,424.4h1.8M58.2,425.6h1.8M126.4,425.6h1.8M165.8,425.6h1.8M169.4,425.6h1.8M187.3,425.6h1.8M60.0,426.8h1.8M90.5,426.8h1.8M133.5,426.8h3.6M160.4,426.8h1.8M61.8,428.0h1.8M69.0,428.0h1.8M72.6,428.0h1.8M122.8,428.0h1.8M167.6,428.0h1.8M79.8,429.2h1.8M88.7,429.2h1.8M140.7,429.2h1.8M171.2,429.2h1.8M205.3,429.2h1.8M60.0,430.4h1.8M86.9,430.4h1.8M92.3,430.4h1.8M146.1,430.4h1.8M155.1,430.4h1.8M169.4,430.4h3.6M185.5,430.4h1.8M190.9,430.4h1.8M113.8,431.6h1.8M117.4,431.6h1.8M149.7,431.6h1.8M155.1,431.6h1.8M165.8,431.6h1.8M180.2,431.6h1.8M38.5,432.8h1.8M86.9,432.8h1.8M106.7,432.8h1.8M133.5,432.8h1.8M180.2,432.8h1.8M185.5,432.8h1.8M196.3,432.8h1.8M70.8,434.0h1.8M88.7,434.0h1.8M106.7,434.0h1.8M131.7,434.0h1.8M173.0,434.0h1.8M185.5,434.0h1.8M199.9,434.0h1.8M216.0,434.0h1.8M61.8,435.2h1.8M88.7,435.2h1.8M112.0,435.2h1.8M124.6,435.2h1.8M158.6,435.2h3.6M173.0,435.2h1.8M181.9,435.2h1.8M198.1,435.2h1.8M203.5,436.4h3.6M212.4,436.4h1.8M20.6,437.6h1.8M67.2,437.6h5.4M171.2,437.6h1.8M199.9,437.6h1.8M43.9,438.8h1.8M49.3,438.8h1.8M70.8,438.8h1.8M20.6,440.0h1.8M137.1,440.0h1.8M165.8,440.0h1.8M70.8,441.2h1.8M79.8,441.2h1.8M128.2,441.2h1.8M167.6,441.2h1.8M187.3,441.2h1.8M208.8,441.2h1.8M20.6,442.4h1.8M138.9,442.4h1.8M174.8,442.4h1.8M194.5,442.4h1.8M199.9,442.4h3.6M122.8,443.6h1.8M147.9,443.6h1.8M151.5,443.6h1.8M167.6,443.6h1.8M181.9,443.6h1.8M36.7,444.8h1.8M86.9,444.8h1.8M110.2,444.8h1.8M144.3,444.8h1.8M185.5,444.8h1.8M190.9,444.8h1.8M199.9,444.8h1.8M56.5,446.0h1.8M79.8,446.0h1.8M90.5,446.0h1.8M153.3,446.0h1.8M158.6,446.0h1.8M205.3,446.0h1.8M63.6,447.2h1.8M78.0,447.2h1.8M94.1,447.2h1.8M165.8,447.2h1.8M196.3,447.2h1.8M60.0,448.4h1.8M92.3,448.4h1.8M149.7,448.4h1.8M153.3,448.4h1.8M160.4,448.4h1.8M176.6,448.4h1.8M196.3,448.4h1.8M47.5,449.6h1.8M92.3,449.6h1.8M155.1,449.6h1.8M165.8,449.6h1.8M155.1,450.8h3.6M187.3,450.8h1.8M194.5,450.8h5.4M205.3,450.8h1.8M61.8,452.0h1.8M92.3,452.0h1.8M128.2,452.0h1.8M135.3,452.0h1.8M212.4,452.0h1.8M40.3,453.2h1.8M45.7,453.2h1.8M63.6,453.2h1.8M83.3,453.2h1.8M181.9,453.2h1.8M205.3,453.2h1.8M45.7,454.4h1.8M61.8,454.4h1.8M76.2,454.4h1.8M88.7,454.4h1.8M106.7,454.4h1.8M122.8,454.4h1.8M153.3,454.4h1.8M156.8,454.4h1.8M187.3,454.4h1.8M212.4,454.4h1.8M72.6,455.6h3.6M128.2,455.6h3.6M146.1,455.6h1.8M135.3,456.8h1.8M138.9,456.8h1.8M167.6,456.8h1.8M178.4,456.8h1.8M198.1,456.8h1.8M205.3,456.8h1.8M153.3,458.0h1.8M169.4,458.0h1.8M51.1,459.2h1.8M97.7,459.2h1.8M140.7,459.2h1.8M165.8,459.2h1.8M169.4,459.2h1.8M189.1,459.2h1.8M201.7,459.2h1.8M70.8,460.4h1.8M85.1,460.4h1.8M92.3,460.4h1.8M95.9,460.4h1.8M124.6,460.4h5.4M167.6,460.4h1.8M183.7,460.4h1.8M128.2,461.6h1.8M135.3,461.6h3.6M155.1,461.6h1.8M160.4,461.6h1.8M167.6,461.6h1.8M196.3,461.6h1.8M47.5,462.8h1.8M63.6,462.8h1.8M142.5,462.8h1.8M155.1,462.8h1.8M176.6,462.8h1.8M34.9,464.0h1.8M110.2,464.0h1.8M115.6,464.0h1.8M119.2,464.0h1.8M137.1,464.0h1.8M155.1,464.0h1.8M160.4,464.0h1.8M164.0,464.0h3.6M189.1,464.0h1.8M70.8,465.2h1.8M151.5,465.2h1.8M180.2,465.2h1.8M196.3,465.2h1.8M165.8,466.4h1.8M173.0,466.4h3.6M207.0,466.4h1.8M216.0,466.4h1.8M79.8,467.6h3.6M88.7,467.6h1.8M216.0,467.6h1.8M70.8,468.8h1.8M76.2,468.8h1.8M137.1,468.8h1.8M156.8,468.8h1.8M178.4,468.8h1.8M190.9,468.8h1.8M196.3,468.8h1.8M216.0,468.8h1.8M20.6,470.0h1.8M142.5,470.0h1.8M180.2,470.0h1.8M194.5,470.0h1.8M26.0,471.2h1.8M90.5,471.2h1.8M115.6,471.2h1.8M165.8,471.2h1.8M180.2,471.2h1.8M198.1,471.2h3.6M207.0,471.2h1.8M29.6,472.4h1.8M61.8,473.6h1.8M74.4,473.6h1.8M122.8,473.6h1.8M146.1,473.6h1.8M155.1,473.6h1.8M158.6,473.6h1.8M173.0,473.6h3.6M183.7,473.6h3.6M189.1,473.6h1.8M203.5,473.6h1.8M207.0,473.6h1.8M31.4,474.8h1.8M61.8,474.8h1.8M147.9,474.8h1.8M178.4,474.8h1.8M212.4,474.8h1.8M216.0,474.8h1.8M99.5,476.0h1.8M110.2,476.0h1.8M199.9,476.0h1.8M216.0,476.0h1.8M158.6,477.2h1.8M178.4,477.2h1.8M183.7,477.2h1.8M49.3,478.4h1.8M79.8,478.4h1.8M144.3,478.4h1.8M158.6,478.4h1.8M164.0,478.4h3.6M169.4,478.4h1.8M190.9,478.4h1.8M199.9,478.4h1.8M212.4,478.4h1.8M79.8,479.6h1.8M133.5,479.6h1.8M155.1,479.6h1.8M160.4,479.6h1.8M181.9,479.6h3.6M207.0,479.6h1.8M34.9,480.8h1.8M51.1,480.8h1.8M86.9,480.8h1.8M110.2,480.8h1.8M178.4,480.8h1.8M201.7,480.8h1.8M56.5,482.0h1.8M122.8,482.0h3.6M137.1,482.0h1.8M146.1,482.0h1.8M158.6,482.0h1.8M190.9,482.0h1.8M205.3,482.0h1.8M144.3,483.2h1.8M147.9,483.2h1.8M185.5,483.2h1.8M40.3,484.4h3.6M126.4,484.4h3.6M131.7,484.4h1.8M171.2,484.4h1.8M207.0,484.4h1.8M216.0,484.4h1.8"/>
<path stroke="#5c0f0c" d="M31.4,312.8h1.8M47.5,312.8h1.8M76.2,312.8h1.8M85.1,312.8h1.8M110.2,312.8h1.8M210.6,312.8h1.8M67.2,314.0h1.8M85.1,314.0h1.8M92.3,314.0h1.8M95.9,314.0h1.8M183.7,314.0h1.8M192.7,314.0h1.8M201.7,314.0h1.8M210.6,314.0h1.8M24.2,315.2h1.8M31.4,315.2h1.8M45.7,315.2h5.4M110.2,315.2h1.8M113.8,315.2h1.8M131.7,315.2h3.6M192.7,315.2h3.6M203.5,315.2h1.8M27.8,316.4h1.8M47.5,316.4h1.8M83.3,316.4h1.8M94.1,316.4h1.8M133.5,316.4h1.8M178.4,316.4h1.8M214.2,316.4h1.8M94.1,317.6h1.8M115.6,317.6h1.8M20.6,318.8h1.8M52.9,318.8h1.8M76.2,318.8h1.8M106.7,318.8h1.8M151.5,318.8h1.8M192.7,318.8h1.8M201.7,318.8h1.8M212.4,318.8h1.8M31.4,320.0h1.8M49.3,320.0h1.8M149.7,320.0h1.8M153.3,320.0h1.8M181.9,320.0h1.8M29.6,321.2h1.8M33.1,321.2h1.8M45.7,321.2h1.8M72.6,321.2h3.6M95.9,321.2h1.8M110.2,321.2h1.8M176.6,321.2h3.6M24.2,322.4h1.8M31.4,322.4h1.8M40.3,322.4h1.8M49.3,322.4h1.8M95.9,322.4h1.8M207.0,322.4h3.6M36.7,323.6h1.8M54.7,323.6h1.8M78.0,323.6h3.6M119.2,323.6h1.8M135.3,323.6h1.8M198.1,323.6h1.8M208.8,323.6h1.8M81.6,324.8h1.8M92.3,324.8h1.8M214.2,324.8h1.8M72.6,326.0h1.8M198.1,326.0h1.8M207.0,326.0h1.8M36.7,327.2h1.8M40.3,327.2h1.8M63.6,327.2h1.8M67.2,327.2h1.8M72.6,327.2h1.8M137.1,327.2h1.8M22.4,328.4h3.6M52.9,328.4h1.8M95.9,329.6h1.8M110.2,329.6h1.8M156.8,329.6h3.6M183.7,329.6h1.8M56.5,330.8h1.8M110.2,330.8h1.8M137.1,330.8h1.8M192.7,330.8h1.8M51.1,332.0h1.8M126.4,332.0h1.8M146.1,332.0h1.8M174.8,332.0h1.8M178.4,332.0h3.6M203.5,332.0h1.8M208.8,332.0h1.8M63.6,333.2h1.8M187.3,333.2h1.8M38.5,334.4h1.8M130.0,334.4h1.8M171.2,334.4h1.8M207.0,334.4h3.6M38.5,335.6h3.6M72.6,335.6h1.8M78.0,335.6h1.8M94.1,335.6h1.8M106.7,335.6h1.8M185.5,335.6h1.8M208.8,335.6h1.8M214.2,335.6h1.8M58.2,336.8h1.8M76.2,336.8h1.8M90.5,336.8h3.6M97.7,336.8h1.8M178.4,336.8h1.8M45.7,338.0h3.6M90.5,338.0h1.8M38.5,339.2h1.8M58.2,339.2h1.8M95.9,339.2h1.8M181.9,339.2h1.8M185.5,339.2h1.8M201.7,339.2h1.8M47.5,340.4h1.8M58.2,340.4h1.8M76.2,340.4h3.6M194.5,340.4h1.8M210.6,340.4h1.8M61.8,341.6h1.8M67.2,341.6h1.8M47.5,342.8h1.8M60.0,342.8h1.8M65.4,342.8h1.8M76.2,342.8h1.8M180.2,342.8h1.8M51.1,344.0h1.8M67.2,344.0h1.8M72.6,344.0h1.8M212.4,344.0h1.8M22.4,345.2h1.8M52.9,345.2h1.8M56.5,345.2h1.8M63.6,346.4h1.8M76.2,346.4h1.8M26.0,347.6h1.8M51.1,347.6h1.8M58.2,347.6h1.8M112.0,347.6h1.8M135.3,347.6h3.6M178.4,347.6h3.6M86.9,348.8h1.8M95.9,348.8h1.8M133.5,348.8h1.8M214.2,348.8h1.8M20.6,350.0h1.8M76.2,350.0h1.8M88.7,350.0h1.8M94.1,350.0h1.8M210.6,350.0h1.8M58.2,351.2h1.8M95.9,351.2h1.8M173.0,351.2h1.8M210.6,351.2h1.8M20.6,352.4h1.8M54.7,352.4h3.6M60.0,352.4h1.8M88.7,352.4h1.8M121.0,352.4h1.8M164.0,352.4h1.8M187.3,352.4h1.8M216.0,352.4h1.8M29.6,353.6h1.8M52.9,353.6h1.8M61.8,353.6h1.8M79.8,353.6h1.8M95.9,353.6h1.8M178.4,353.6h1.8M214.2,353.6h1.8M31.4,354.8h1.8M92.3,354.8h1.8M140.7,354.8h1.8M22.4,356.0h1.8M49.3,356.0h1.8M85.1,356.0h1.8M122.8,356.0h1.8M151.5,356.0h1.8M194.5,356.0h1.8M85.1,357.2h1.8M88.7,357.2h3.6M192.7,357.2h1.8M201.7,357.2h1.8M36.7,358.4h1.8M83.3,358.4h1.8M88.7,358.4h1.8M92.3,358.4h1.8M135.3,358.4h1.8M181.9,358.4h1.8M194.5,358.4h1.8M203.5,358.4h1.8M214.2,358.4h1.8M51.1,359.6h1.8M58.2,359.6h1.8M49.3,360.8h1.8M56.5,360.8h1.8M72.6,360.8h3.6M79.8,360.8h1.8M131.7,360.8h1.8M178.4,360.8h1.8M203.5,360.8h3.6M20.6,362.0h1.8M45.7,362.0h1.8M61.8,362.0h1.8M214.2,362.0h1.8M52.9,363.2h1.8M90.5,363.2h1.8M94.1,363.2h1.8M131.7,363.2h1.8M192.7,363.2h1.8M214.2,363.2h1.8M22.4,364.4h1.8M42.1,364.4h1.8M51.1,364.4h1.8M83.3,364.4h1.8M86.9,364.4h1.8M110.2,364.4h1.8M198.1,364.4h1.8M63.6,365.6h1.8M72.6,365.6h1.8M140.7,365.6h1.8M192.7,365.6h1.8M201.7,365.6h1.8M205.3,365.6h1.8M58.2,366.8h1.8M61.8,366.8h1.8M74.4,366.8h1.8M83.3,366.8h1.8M95.9,366.8h1.8M135.3,366.8h1.8M181.9,366.8h1.8M187.3,366.8h1.8M196.3,366.8h1.8M199.9,366.8h3.6M65.4,368.0h1.8M70.8,369.2h1.8M90.5,369.2h1.8M133.5,369.2h1.8M176.6,369.2h1.8M187.3,369.2h1.8M203.5,369.2h1.8M22.4,370.4h1.8M47.5,370.4h1.8M76.2,370.4h1.8M85.1,370.4h1.8M92.3,370.4h1.8M95.9,370.4h1.8M173.0,370.4h1.8M201.7,370.4h1.8M74.4,371.6h1.8M94.1,371.6h1.8M110.2,371.6h1.8M146.1,371.6h1.8M158.6,371.6h1.8M167.6,371.6h1.8M171.2,371.6h1.8M208.8,371.6h1.8M86.9,372.8h1.8M130.0,372.8h1.8M183.7,372.8h1.8M31.4,374.0h1.8M45.7,374.0h1.8M86.9,374.0h1.8M95.9,374.0h1.8M101.3,374.0h1.8M173.0,374.0h1.8M22.4,375.2h1.8M26.0,375.2h1.8M58.2,375.2h1.8M65.4,375.2h1.8M83.3,375.2h1.8M90.5,375.2h1.8M112.0,375.2h1.8M133.5,375.2h1.8M138.9,375.2h1.8M149.7,375.2h1.8M153.3,375.2h1.8M174.8,375.2h1.8M201.7,375.2h3.6M94.1,376.4h1.8M133.5,376.4h1.8M92.3,377.6h1.8M113.8,377.6h1.8M124.6,377.6h1.8M192.7,377.6h1.8M203.5,377.6h1.8M24.2,378.8h1.8M31.4,378.8h1.8M63.6,378.8h1.8M90.5,378.8h1.8M94.1,378.8h1.8M113.8,378.8h1.8M119.2,378.8h1.8M147.9,378.8h1.8M214.2,378.8h1.8M45.7,380.0h1.8M61.8,380.0h1.8M126.4,380.0h1.8M131.7,380.0h1.8M135.3,380.0h1.8M158.6,381.2h1.8M199.9,381.2h1.8M207.0,381.2h1.8M54.7,382.4h1.8M97.7,382.4h1.8M110.2,382.4h1.8M115.6,382.4h1.8M153.3,382.4h1.8M167.6,382.4h1.8M194.5,382.4h1.8M45.7,383.6h1.8M56.5,383.6h1.8M110.2,383.6h1.8M113.8,383.6h1.8M137.1,383.6h1.8M151.5,383.6h1.8M167.6,383.6h1.8M189.1,383.6h1.8M214.2,383.6h1.8M117.4,384.8h1.8M167.6,384.8h1.8M183.7,384.8h1.8M113.8,386.0h1.8M121.0,386.0h1.8M130.0,386.0h1.8M160.4,386.0h1.8M173.0,386.0h1.8M137.1,387.2h1.8M153.3,387.2h1.8M181.9,387.2h3.6M45.7,388.4h1.8M74.4,388.4h1.8M117.4,388.4h1.8M121.0,388.4h1.8M165.8,388.4h1.8M169.4,388.4h1.8M198.1,388.4h1.8M117.4,389.6h1.8M122.8,389.6h1.8M137.1,389.6h1.8M194.5,389.6h1.8M24.2,390.8h1.8M95.9,390.8h1.8M106.7,390.8h1.8M126.4,390.8h1.8M133.5,390.8h1.8M181.9,390.8h1.8M106.7,392.0h3.6M119.2,392.0h1.8M165.8,392.0h1.8M196.3,392.0h1.8M214.2,392.0h1.8M34.9,393.2h1.8M40.3,393.2h1.8M49.3,393.2h1.8M63.6,393.2h1.8M92.3,393.2h1.8M97.7,393.2h1.8M137.1,393.2h1.8M165.8,393.2h1.8M176.6,393.2h3.6M181.9,393.2h1.8M187.3,393.2h1.8M110.2,394.4h1.8M117.4,394.4h1.8M49.3,395.6h1.8M52.9,395.6h1.8M58.2,395.6h1.8M76.2,395.6h1.8M95.9,395.6h1.8M104.9,395.6h1.8M112.0,395.6h1.8M146.1,395.6h1.8M212.4,395.6h1.8M51.1,396.8h1.8M178.4,396.8h1.8M194.5,396.8h1.8M199.9,396.8h3.6M212.4,396.8h1.8M128.2,398.0h3.6M146.1,398.0h1.8M171.2,398.0h3.6M181.9,398.0h3.6M210.6,398.0h1.8M214.2,398.0h1.8M56.5,399.2h1.8M90.5,399.2h1.8M112.0,399.2h1.8M140.7,399.2h3.6M190.9,399.2h1.8M45.7,400.4h1.8M130.0,400.4h1.8M189.1,400.4h1.8M45.7,401.6h1.8M72.6,401.6h1.8M95.9,401.6h1.8M133.5,401.6h1.8M194.5,401.6h1.8M61.8,402.8h1.8M56.5,404.0h1.8M97.7,404.0h1.8M124.6,404.0h1.8M135.3,404.0h1.8M151.5,404.0h1.8M176.6,404.0h1.8M201.7,404.0h1.8M214.2,404.0h3.6M31.4,405.2h1.8M45.7,405.2h1.8M61.8,405.2h1.8M90.5,405.2h1.8M95.9,405.2h1.8M124.6,405.2h1.8M201.7,405.2h1.8M207.0,405.2h1.8M115.6,406.4h1.8M176.6,406.4h1.8M210.6,406.4h1.8M56.5,407.6h1.8M72.6,407.6h1.8M90.5,407.6h5.4M115.6,407.6h5.4M126.4,407.6h1.8M173.0,407.6h5.4M180.2,407.6h1.8M22.4,408.8h3.6M58.2,408.8h1.8M94.1,408.8h1.8M110.2,408.8h1.8M115.6,408.8h3.6M126.4,408.8h1.8M86.9,410.0h1.8M106.7,410.0h1.8M126.4,410.0h1.8M156.8,410.0h1.8M164.0,410.0h1.8M207.0,410.0h1.8M216.0,410.0h1.8M20.6,411.2h1.8M49.3,411.2h1.8M56.5,411.2h1.8M74.4,411.2h1.8M113.8,411.2h1.8M119.2,411.2h1.8M128.2,411.2h1.8M140.7,411.2h3.6M151.5,411.2h1.8M173.0,411.2h1.8M185.5,411.2h1.8M210.6,411.2h1.8M158.6,412.4h1.8M174.8,412.4h1.8M185.5,412.4h3.6M201.7,412.4h1.8M216.0,412.4h1.8M119.2,413.6h1.8M158.6,413.6h1.8M174.8,413.6h1.8M187.3,413.6h1.8M86.9,414.8h1.8M92.3,414.8h1.8M124.6,414.8h1.8M138.9,414.8h3.6M190.9,414.8h1.8M198.1,414.8h1.8M61.8,416.0h1.8M72.6,416.0h1.8M79.8,416.0h1.8M146.1,416.0h1.8M146.1,417.2h1.8M155.1,417.2h1.8M158.6,417.2h1.8M174.8,417.2h1.8M190.9,417.2h1.8M201.7,417.2h1.8M212.4,417.2h1.8M142.5,418.4h1.8M147.9,418.4h1.8M162.2,418.4h1.8M165.8,418.4h1.8M169.4,418.4h1.8M173.0,418.4h1.8M56.5,419.6h1.8M149.7,419.6h1.8M187.3,419.6h1.8M212.4,419.6h1.8M155.1,420.8h1.8M158.6,420.8h1.8M180.2,420.8h1.8M199.9,420.8h1.8M203.5,420.8h1.8M76.2,422.0h1.8M108.4,422.0h1.8M122.8,422.0h1.8M138.9,422.0h1.8M155.1,422.0h1.8M160.4,422.0h1.8M67.2,423.2h1.8M79.8,423.2h1.8M153.3,423.2h1.8M196.3,423.2h1.8M122.8,424.4h1.8M142.5,424.4h1.8M181.9,424.4h1.8M189.1,424.4h1.8M201.7,424.4h1.8M56.5,425.6h1.8M90.5,425.6h1.8M124.6,425.6h1.8M149.7,425.6h1.8M176.6,425.6h1.8M208.8,425.6h1.8M212.4,425.6h1.8M122.8,426.8h3.6M178.4,426.8h1.8M190.9,426.8h1.8M198.1,426.8h1.8M216.0,426.8h1.8M51.1,428.0h1.8M74.4,428.0h1.8M153.3,428.0h1.8M158.6,428.0h1.8M180.2,428.0h3.6M185.5,428.0h1.8M20.6,429.2h1.8M94.1,429.2h1.8M131.7,429.2h1.8M156.8,429.2h1.8M79.8,430.4h1.8M149.7,430.4h1.8M196.3,430.4h1.8M205.3,430.4h1.8M79.8,431.6h1.8M173.0,431.6h1.8M194.5,431.6h1.8M208.8,431.6h1.8M79.8,432.8h1.8M156.8,432.8h1.8M176.6,432.8h1.8M189.1,432.8h1.8M198.1,432.8h1.8M203.5,432.8h1.8M212.4,432.8h1.8M45.7,434.0h1.8M151.5,434.0h1.8M169.4,434.0h1.8M176.6,434.0h1.8M183.7,434.0h1.8M63.6,435.2h1.8M92.3,435.2h1.8M155.1,435.2h1.8M164.0,435.2h1.8M183.7,435.2h1.8M189.1,435.2h1.8M76.2,436.4h1.8M126.4,436.4h1.8M151.5,436.4h1.8M155.1,436.4h1.8M173.0,436.4h3.6M88.7,437.6h1.8M124.6,437.6h1.8M153.3,437.6h1.8M167.6,437.6h1.8M212.4,437.6h1.8M45.7,438.8h1.8M90.5,438.8h1.8M158.6,438.8h3.6M190.9,438.8h1.8M194.5,438.8h1.8M208.8,438.8h3.6M63.6,440.0h1.8M79.8,440.0h1.8M185.5,440.0h1.8M20.6,441.2h1.8M95.9,441.2h1.8M126.4,441.2h1.8M153.3,441.2h1.8M174.8,441.2h1.8M180.2,441.2h1.8M185.5,441.2h1.8M212.4,441.2h1.8M72.6,442.4h1.8M76.2,442.4h1.8M92.3,442.4h1.8M126.4,442.4h1.8M146.1,442.4h1.8M149.7,442.4h1.8M181.9,442.4h1.8M56.5,443.6h3.6M72.6,443.6h1.8M76.2,443.6h1.8M183.7,443.6h1.8M187.3,443.6h1.8M45.7,444.8h1.8M63.6,444.8h1.8M67.2,444.8h1.8M79.8,444.8h1.8M126.4,444.8h1.8M140.7,444.8h1.8M158.6,444.8h1.8M173.0,444.8h3.6M207.0,444.8h1.8M210.6,444.8h1.8M70.8,446.0h1.8M119.2,446.0h1.8M140.7,446.0h3.6M160.4,446.0h1.8M173.0,446.0h1.8M178.4,446.0h1.8M185.5,446.0h1.8M207.0,446.0h1.8M216.0,446.0h1.8M36.7,447.2h1.8M67.2,447.2h1.8M117.4,447.2h1.8M140.7,447.2h1.8M149.7,447.2h1.8M167.6,447.2h1.8M176.6,447.2h1.8M205.3,447.2h1.8M70.8,448.4h1.8M110.2,448.4h1.8M174.8,448.4h1.8M183.7,448.4h1.8M212.4,448.4h1.8M72.6,449.6h1.8M76.2,449.6h1.8M122.8,449.6h1.8M135.3,449.6h1.8M198.1,449.6h1.8M61.8,450.8h1.8M70.8,450.8h1.8M88.7,450.8h1.8M126.4,450.8h1.8M171.2,450.8h1.8M181.9,450.8h3.6M216.0,450.8h1.8M76.2,452.0h1.8M126.4,452.0h1.8M138.9,452.0h3.6M155.1,452.0h1.8M183.7,452.0h1.8M198.1,452.0h1.8M201.7,452.0h1.8M214.2,452.0h1.8M36.7,453.2h1.8M61.8,453.2h1.8M85.1,453.2h3.6M128.2,453.2h1.8M176.6,453.2h1.8M190.9,453.2h1.8M196.3,453.2h7.2M207.0,453.2h3.6M216.0,453.2h1.8M67.2,454.4h1.8M110.2,454.4h1.8M133.5,454.4h1.8M173.0,454.4h1.8M201.7,454.4h1.8M208.8,454.4h1.8M158.6,455.6h1.8M171.2,455.6h3.6M198.1,455.6h1.8M173.0,456.8h1.8M190.9,456.8h3.6M72.6,458.0h1.8M180.2,458.0h1.8M207.0,458.0h1.8M56.5,459.2h1.8M60.0,459.2h1.8M63.6,459.2h1.8M74.4,459.2h1.8M126.4,459.2h1.8M138.9,459.2h1.8M149.7,459.2h1.8M160.4,459.2h1.8M216.0,459.2h1.8M94.1,460.4h1.8M130.0,460.4h1.8M135.3,460.4h1.8M165.8,460.4h1.8M174.8,460.4h1.8M194.5,460.4h1.8M201.7,460.4h3.6M61.8,461.6h1.8M70.8,461.6h1.8M79.8,461.6h1.8M117.4,461.6h1.8M173.0,461.6h3.6M201.7,461.6h1.8M205.3,461.6h3.6M34.9,462.8h1.8M74.4,462.8h1.8M112.0,462.8h1.8M119.2,462.8h1.8M133.5,462.8h1.8M156.8,462.8h1.8M162.2,462.8h1.8M65.4,464.0h1.8M79.8,464.0h1.8M113.8,464.0h1.8M131.7,464.0h1.8M162.2,464.0h1.8M76.2,465.2h1.8M176.6,465.2h1.8M198.1,465.2h3.6M208.8,465.2h1.8M128.2,466.4h1.8M149.7,466.4h5.4M34.9,467.6h1.8M142.5,467.6h1.8M153.3,467.6h1.8M196.3,467.6h1.8M67.2,468.8h1.8M146.1,468.8h1.8M61.8,470.0h1.8M79.8,470.0h1.8M133.5,470.0h1.8M140.7,470.0h1.8M173.0,470.0h5.4M138.9,471.2h1.8M151.5,471.2h1.8M158.6,471.2h1.8M174.8,471.2h1.8M61.8,472.4h1.8M74.4,472.4h1.8M106.7,472.4h1.8M122.8,472.4h1.8M149.7,472.4h1.8M180.2,472.4h1.8M79.8,473.6h3.6M115.6,473.6h1.8M151.5,473.6h1.8M165.8,473.6h1.8M194.5,473.6h1.8M119.2,474.8h1.8M142.5,474.8h1.8M146.1,474.8h1.8M176.6,474.8h1.8M198.1,474.8h3.6M210.6,474.8h1.8M38.5,476.0h1.8M72.6,476.0h1.8M79.8,476.0h1.8M146.1,476.0h1.8M156.8,476.0h1.8M169.4,476.0h1.8M196.3,476.0h1.8M205.3,476.0h1.8M214.2,476.0h1.8M76.2,477.2h1.8M94.1,477.2h1.8M115.6,477.2h1.8M174.8,477.2h1.8M181.9,477.2h1.8M187.3,477.2h1.8M192.7,477.2h1.8M198.1,477.2h1.8M51.1,478.4h1.8M133.5,478.4h1.8M146.1,478.4h1.8M151.5,478.4h1.8M156.8,478.4h1.8M194.5,478.4h3.6M210.6,478.4h1.8M214.2,478.4h1.8M151.5,479.6h1.8M173.0,479.6h5.4M192.7,479.6h1.8M210.6,479.6h1.8M79.8,480.8h1.8M207.0,480.8h1.8M67.2,482.0h1.8M70.8,482.0h1.8M128.2,482.0h1.8M203.5,482.0h1.8M212.4,482.0h5.4M20.6,483.2h1.8M92.3,483.2h1.8M122.8,483.2h1.8M142.5,483.2h1.8M153.3,483.2h1.8M158.6,483.2h1.8M181.9,483.2h1.8M117.4,484.4h1.8M167.6,484.4h1.8"/>
<path stroke="#6f110e" d="M52.9,312.8h1.8M58.2,312.8h1.8M83.3,312.8h1.8M94.1,312.8h1.8M45.7,314.0h3.6M51.1,314.0h1.8M185.5,314.0h1.8M36.7,315.2h1.8M70.8,315.2h1.8M83.3,315.2h1.8M112.0,315.2h1.8M185.5,315.2h1.8M56.5,316.4h1.8M63.6,316.4h1.8M70.8,316.4h3.6M79.8,316.4h1.8M207.0,316.4h1.8M47.5,317.6h1.8M58.2,317.6h1.8M60.0,318.8h1.8M70.8,318.8h1.8M85.1,318.8h3.6M92.3,318.8h1.8M121.0,318.8h1.8M33.1,320.0h1.8M69.0,320.0h1.8M92.3,320.0h1.8M137.1,320.0h1.8M178.4,320.0h1.8M153.3,321.2h1.8M192.7,321.2h1.8M210.6,321.2h1.8M76.2,322.4h1.8M106.7,322.4h1.8M135.3,322.4h1.8M176.6,322.4h1.8M22.4,323.6h1.8M60.0,323.6h1.8M81.6,323.6h1.8M110.2,323.6h1.8M113.8,323.6h1.8M174.8,323.6h1.8M199.9,323.6h1.8M56.5,324.8h1.8M86.9,324.8h3.6M112.0,324.8h1.8M185.5,324.8h1.8M192.7,324.8h1.8M203.5,324.8h1.8M56.5,326.0h1.8M65.4,326.0h1.8M70.8,326.0h1.8M92.3,326.0h1.8M52.9,327.2h1.8M81.6,327.2h3.6M38.5,328.4h1.8M45.7,328.4h3.6M51.1,328.4h1.8M81.6,328.4h1.8M192.7,328.4h1.8M20.6,329.6h1.8M49.3,329.6h1.8M70.8,329.6h1.8M63.6,330.8h1.8M88.7,330.8h3.6M95.9,330.8h1.8M201.7,330.8h1.8M205.3,330.8h1.8M26.0,332.0h1.8M63.6,332.0h1.8M181.9,332.0h1.8M192.7,332.0h1.8M207.0,332.0h1.8M45.7,333.2h1.8M56.5,333.2h5.4M74.4,333.2h1.8M85.1,333.2h1.8M180.2,333.2h1.8M210.6,333.2h1.8M216.0,333.2h1.8M26.0,334.4h1.8M31.4,334.4h1.8M36.7,334.4h1.8M54.7,334.4h1.8M63.6,334.4h1.8M135.3,334.4h1.8M185.5,334.4h1.8M214.2,334.4h1.8M36.7,335.6h1.8M74.4,335.6h1.8M79.8,335.6h1.8M83.3,335.6h1.8M104.9,335.6h1.8M187.3,335.6h1.8M61.8,336.8h1.8M79.8,336.8h1.8M196.3,336.8h1.8M49.3,338.0h1.8M61.8,338.0h1.8M65.4,338.0h1.8M86.9,338.0h1.8M94.1,338.0h1.8M216.0,338.0h1.8M51.1,339.2h1.8M70.8,339.2h1.8M85.1,339.2h1.8M88.7,339.2h1.8M29.6,340.4h3.6M67.2,340.4h1.8M78.0,341.6h1.8M178.4,341.6h1.8M192.7,342.8h1.8M52.9,344.0h1.8M56.5,344.0h1.8M94.1,344.0h3.6M115.6,344.0h1.8M67.2,345.2h1.8M79.8,345.2h1.8M176.6,345.2h1.8M199.9,345.2h1.8M210.6,345.2h5.4M61.8,346.4h1.8M86.9,346.4h1.8M210.6,346.4h1.8M70.8,347.6h1.8M108.4,347.6h1.8M192.7,347.6h1.8M34.9,348.8h3.6M190.9,348.8h1.8M92.3,350.0h1.8M176.6,350.0h1.8M65.4,351.2h1.8M76.2,351.2h3.6M85.1,351.2h1.8M201.7,351.2h1.8M61.8,352.4h3.6M212.4,352.4h1.8M49.3,353.6h1.8M70.8,354.8h1.8M63.6,356.0h1.8M83.3,356.0h1.8M110.2,356.0h1.8M140.7,356.0h1.8M192.7,356.0h1.8M36.7,357.2h1.8M45.7,357.2h1.8M49.3,357.2h1.8M54.7,357.2h1.8M70.8,357.2h1.8M79.8,357.2h1.8M210.6,357.2h1.8M40.3,358.4h1.8M70.8,358.4h1.8M61.8,359.6h1.8M76.2,359.6h1.8M90.5,359.6h1.8M205.3,359.6h1.8M51.1,360.8h1.8M65.4,360.8h1.8M70.8,360.8h1.8M85.1,360.8h1.8M122.8,360.8h1.8M47.5,362.0h1.8M70.8,362.0h1.8M86.9,362.0h1.8M47.5,363.2h1.8M61.8,363.2h1.8M88.7,363.2h1.8M92.3,363.2h1.8M124.6,363.2h1.8M20.6,364.4h1.8M142.5,364.4h1.8M194.5,364.4h1.8M34.9,365.6h3.6M79.8,365.6h3.6M135.3,365.6h1.8M203.5,365.6h1.8M52.9,366.8h1.8M63.6,366.8h1.8M85.1,366.8h1.8M185.5,366.8h1.8M203.5,366.8h1.8M63.6,368.0h1.8M67.2,368.0h1.8M90.5,368.0h1.8M178.4,368.0h1.8M72.6,369.2h1.8M185.5,369.2h1.8M196.3,369.2h1.8M20.6,370.4h1.8M49.3,370.4h1.8M61.8,370.4h1.8M104.9,370.4h1.8M113.8,370.4h1.8M181.9,370.4h1.8M192.7,370.4h1.8M51.1,371.6h1.8M63.6,371.6h1.8M76.2,371.6h1.8M95.9,371.6h1.8M178.4,371.6h5.4M194.5,371.6h1.8M207.0,371.6h1.8M61.8,372.8h3.6M56.5,374.0h1.8M76.2,374.0h1.8M113.8,374.0h1.8M121.0,374.0h1.8M176.6,374.0h1.8M214.2,374.0h1.8M79.8,375.2h1.8M115.6,375.2h1.8M173.0,375.2h1.8M190.9,375.2h3.6M61.8,376.4h1.8M97.7,376.4h1.8M135.3,376.4h1.8M130.0,377.6h1.8M210.6,377.6h1.8M29.6,378.8h1.8M76.2,378.8h1.8M97.7,378.8h1.8M112.0,378.8h1.8M121.0,378.8h1.8M124.6,378.8h1.8M128.2,378.8h3.6M137.1,378.8h1.8M153.3,378.8h1.8M176.6,378.8h1.8M196.3,378.8h3.6M34.9,380.0h1.8M86.9,381.2h1.8M94.1,381.2h1.8M119.2,381.2h1.8M74.4,382.4h1.8M108.4,383.6h1.8M133.5,383.6h1.8M156.8,383.6h1.8M181.9,383.6h1.8M185.5,383.6h1.8M70.8,384.8h1.8M119.2,384.8h1.8M181.9,384.8h1.8M203.5,384.8h1.8M214.2,384.8h1.8M22.4,386.0h1.8M76.2,386.0h1.8M88.7,386.0h3.6M115.6,386.0h1.8M137.1,386.0h3.6M151.5,386.0h1.8M212.4,386.0h1.8M54.7,387.2h1.8M88.7,387.2h1.8M104.9,387.2h1.8M113.8,387.2h1.8M119.2,387.2h1.8M144.3,387.2h1.8M180.2,387.2h1.8M47.5,388.4h1.8M149.7,388.4h5.4M47.5,389.6h1.8M61.8,389.6h1.8M58.2,390.8h1.8M88.7,390.8h1.8M76.2,392.0h1.8M86.9,392.0h1.8M90.5,392.0h1.8M95.9,392.0h1.8M115.6,392.0h3.6M121.0,392.0h1.8M126.4,392.0h1.8M171.2,392.0h1.8M189.1,392.0h3.6M31.4,393.2h1.8M133.5,393.2h1.8M142.5,393.2h1.8M190.9,393.2h1.8M34.9,394.4h3.6M61.8,394.4h1.8M113.8,394.4h1.8M126.4,394.4h1.8M60.0,395.6h1.8M67.2,395.6h1.8M99.5,395.6h1.8M115.6,395.6h3.6M149.7,395.6h1.8M155.1,395.6h1.8M45.7,396.8h1.8M70.8,396.8h1.8M74.4,396.8h1.8M112.0,396.8h1.8M122.8,396.8h1.8M130.0,396.8h1.8M63.6,398.0h1.8M79.8,398.0h1.8M83.3,398.0h1.8M86.9,398.0h1.8M92.3,398.0h1.8M110.2,398.0h1.8M135.3,398.0h1.8M208.8,398.0h1.8M34.9,399.2h1.8M58.2,399.2h1.8M72.6,399.2h3.6M106.7,399.2h1.8M115.6,399.2h1.8M131.7,399.2h1.8M137.1,399.2h1.8M153.3,399.2h1.8M181.9,399.2h1.8M192.7,399.2h1.8M34.9,400.4h1.8M113.8,400.4h1.8M198.1,400.4h1.8M40.3,401.6h1.8M88.7,401.6h1.8M104.9,402.8h1.8M61.8,404.0h1.8M104.9,404.0h5.4M133.5,404.0h1.8M153.3,404.0h1.8M86.9,405.2h1.8M110.2,405.2h1.8M104.9,406.4h3.6M151.5,406.4h1.8M192.7,406.4h1.8M52.9,407.6h1.8M70.8,407.6h1.8M20.6,408.8h1.8M49.3,408.8h1.8M63.6,408.8h1.8M95.9,408.8h1.8M106.7,408.8h1.8M130.0,408.8h1.8M135.3,408.8h1.8M214.2,408.8h1.8M67.2,410.0h1.8M112.0,410.0h1.8M151.5,410.0h1.8M214.2,410.0h1.8M78.0,411.2h1.8M103.1,411.2h1.8M106.7,411.2h1.8M207.0,411.2h1.8M214.2,411.2h1.8M86.9,412.4h1.8M122.8,412.4h1.8M138.9,412.4h3.6M189.1,412.4h3.6M115.6,413.6h1.8M131.7,413.6h1.8M173.0,413.6h1.8M24.2,414.8h1.8M47.5,414.8h1.8M156.8,414.8h1.8M165.8,414.8h3.6M173.0,414.8h1.8M199.9,414.8h1.8M205.3,414.8h1.8M210.6,416.0h1.8M92.3,417.2h1.8M113.8,417.2h1.8M169.4,417.2h1.8M181.9,417.2h3.6M29.6,418.4h1.8M146.1,418.4h1.8M160.4,418.4h1.8M174.8,418.4h1.8M178.4,418.4h1.8M185.5,418.4h1.8M122.8,419.6h1.8M153.3,419.6h1.8M156.8,419.6h1.8M70.8,420.8h1.8M83.3,420.8h1.8M90.5,420.8h1.8M151.5,420.8h3.6M171.2,420.8h1.8M208.8,420.8h1.8M56.5,422.0h1.8M92.3,422.0h1.8M126.4,422.0h1.8M137.1,422.0h1.8M69.0,423.2h1.8M165.8,423.2h1.8M183.7,423.2h1.8M216.0,423.2h1.8M51.1,424.4h1.8M86.9,424.4h3.6M196.3,424.4h1.8M199.9,424.4h1.8M207.0,424.4h1.8M133.5,425.6h1.8M198.1,425.6h1.8M210.6,425.6h1.8M110.2,426.8h1.8M126.4,426.8h1.8M158.6,426.8h1.8M167.6,426.8h1.8M185.5,426.8h1.8M205.3,426.8h1.8M137.1,428.0h1.8M160.4,428.0h1.8M165.8,428.0h1.8M169.4,428.0h1.8M174.8,428.0h1.8M187.3,428.0h1.8M194.5,428.0h1.8M60.0,429.2h1.8M83.3,429.2h1.8M92.3,429.2h1.8M153.3,429.2h3.6M169.4,429.2h1.8M174.8,429.2h1.8M189.1,429.2h1.8M201.7,429.2h1.8M56.5,430.4h1.8M76.2,430.4h1.8M140.7,430.4h3.6M167.6,430.4h1.8M178.4,430.4h1.8M192.7,430.4h1.8M78.0,431.6h1.8M88.7,431.6h1.8M122.8,431.6h1.8M142.5,431.6h1.8M153.3,431.6h1.8M212.4,431.6h1.8M151.5,432.8h1.8M169.4,432.8h3.6M187.3,432.8h1.8M199.9,432.8h3.6M207.0,432.8h1.8M133.5,434.0h1.8M158.6,434.0h1.8M189.1,434.0h1.8M196.3,434.0h1.8M70.8,435.2h1.8M76.2,435.2h1.8M149.7,435.2h1.8M165.8,435.2h1.8M185.5,435.2h1.8M176.6,436.4h1.8M181.9,436.4h1.8M187.3,436.4h3.6M198.1,436.4h3.6M176.6,437.6h1.8M181.9,437.6h3.6M20.6,438.8h1.8M79.8,438.8h1.8M153.3,438.8h1.8M185.5,438.8h1.8M126.4,440.0h1.8M131.7,440.0h1.8M208.8,440.0h1.8M131.7,441.2h1.8M183.7,441.2h1.8M194.5,441.2h1.8M214.2,441.2h1.8M124.6,442.4h1.8M173.0,442.4h1.8M180.2,442.4h1.8M190.9,442.4h1.8M196.3,442.4h1.8M214.2,442.4h1.8M149.7,443.6h1.8M169.4,443.6h1.8M189.1,443.6h3.6M199.9,443.6h1.8M207.0,443.6h1.8M212.4,443.6h3.6M34.9,444.8h1.8M65.4,444.8h1.8M83.3,444.8h1.8M187.3,444.8h3.6M216.0,444.8h1.8M34.9,446.0h1.8M110.2,446.0h1.8M117.4,446.0h1.8M180.2,446.0h1.8M137.1,447.2h1.8M187.3,447.2h3.6M194.5,447.2h1.8M208.8,447.2h1.8M121.0,448.4h1.8M124.6,448.4h1.8M146.1,448.4h1.8M185.5,448.4h1.8M190.9,448.4h5.4M207.0,448.4h1.8M214.2,448.4h3.6M45.7,449.6h1.8M85.1,449.6h1.8M119.2,449.6h1.8M162.2,449.6h1.8M183.7,449.6h1.8M203.5,449.6h1.8M67.2,450.8h1.8M90.5,450.8h1.8M131.7,452.0h3.6M146.1,452.0h1.8M171.2,452.0h1.8M174.8,452.0h1.8M185.5,452.0h1.8M199.9,452.0h1.8M171.2,453.2h3.6M40.3,454.4h1.8M63.6,454.4h1.8M155.1,454.4h1.8M190.9,454.4h1.8M131.7,455.6h1.8M151.5,455.6h1.8M178.4,455.6h1.8M214.2,455.6h1.8M45.7,456.8h1.8M176.6,456.8h1.8M181.9,456.8h1.8M203.5,456.8h1.8M92.3,458.0h1.8M156.8,458.0h1.8M208.8,458.0h1.8M86.9,459.2h1.8M117.4,459.2h3.6M167.6,459.2h1.8M133.5,460.4h1.8M142.5,460.4h1.8M180.2,460.4h1.8M196.3,460.4h1.8M40.3,461.6h1.8M67.2,461.6h1.8M86.9,461.6h1.8M185.5,461.6h3.6M208.8,461.6h1.8M216.0,461.6h1.8M24.2,462.8h1.8M70.8,462.8h1.8M138.9,462.8h1.8M178.4,462.8h1.8M208.8,462.8h1.8M61.8,464.0h1.8M72.6,464.0h1.8M86.9,464.0h1.8M117.4,464.0h1.8M149.7,464.0h1.8M171.2,464.0h1.8M180.2,464.0h1.8M196.3,464.0h1.8M205.3,464.0h1.8M88.7,465.2h1.8M126.4,465.2h1.8M164.0,465.2h1.8M167.6,465.2h1.8M210.6,465.2h1.8M216.0,465.2h1.8M169.4,466.4h1.8M196.3,466.4h1.8M212.4,466.4h1.8M63.6,467.6h1.8M151.5,467.6h1.8M190.9,467.6h1.8M86.9,468.8h3.6M142.5,468.8h1.8M149.7,468.8h1.8M180.2,468.8h1.8M198.1,468.8h1.8M70.8,470.0h1.8M146.1,470.0h1.8M70.8,471.2h1.8M76.2,471.2h1.8M88.7,471.2h1.8M122.8,471.2h1.8M167.6,471.2h1.8M176.6,471.2h1.8M183.7,471.2h1.8M201.7,471.2h1.8M56.5,472.4h1.8M67.2,472.4h1.8M158.6,472.4h1.8M149.7,473.6h1.8M198.1,473.6h1.8M210.6,473.6h1.8M151.5,474.8h1.8M187.3,474.8h3.6M56.5,476.0h1.8M133.5,476.0h1.8M180.2,476.0h1.8M210.6,476.0h1.8M153.3,477.2h1.8M212.4,477.2h1.8M153.3,478.4h3.6M174.8,478.4h1.8M52.9,479.6h1.8M156.8,479.6h3.6M178.4,479.6h1.8M58.2,480.8h1.8M113.8,480.8h1.8M151.5,480.8h1.8M176.6,480.8h1.8M79.8,482.0h1.8M117.4,482.0h1.8M151.5,482.0h1.8M155.1,482.0h1.8M171.2,482.0h1.8M117.4,483.2h1.8M126.4,483.2h1.8M151.5,483.2h1.8M155.1,483.2h1.8M115.6,484.4h1.8M124.6,484.4h1.8M178.4,484.4h1.8M190.9,484.4h1.8"/>
<path stroke="#83120f" d="M49.3,312.8h1.8M56.5,312.8h1.8M61.8,314.0h1.8M58.2,315.2h1.8M76.2,315.2h1.8M183.7,315.2h1.8M20.6,316.4h1.8M67.2,316.4h1.8M76.2,316.4h1.8M45.7,317.6h1.8M88.7,317.6h1.8M61.8,318.8h1.8M45.7,320.0h1.8M86.9,320.0h5.4M110.2,320.0h1.8M151.5,320.0h1.8M183.7,320.0h1.8M38.5,321.2h1.8M212.4,321.2h1.8M192.7,322.4h1.8M210.6,322.4h1.8M31.4,323.6h1.8M56.5,323.6h3.6M70.8,323.6h1.8M76.2,323.6h1.8M90.5,323.6h1.8M133.5,323.6h1.8M194.5,323.6h1.8M20.6,324.8h1.8M45.7,324.8h1.8M113.8,324.8h1.8M207.0,324.8h1.8M212.4,324.8h1.8M61.8,326.0h1.8M203.5,326.0h1.8M47.5,327.2h1.8M51.1,327.2h1.8M76.2,327.2h1.8M86.9,327.2h1.8M90.5,327.2h1.8M99.5,327.2h1.8M192.7,327.2h1.8M92.3,328.4h1.8M72.6,329.6h1.8M94.1,329.6h1.8M171.2,329.6h3.6M181.9,329.6h1.8M51.1,330.8h1.8M60.0,330.8h1.8M79.8,330.8h1.8M86.9,330.8h1.8M146.1,330.8h1.8M49.3,332.0h1.8M56.5,332.0h1.8M79.8,332.0h1.8M210.6,332.0h1.8M76.2,333.2h1.8M79.8,333.2h1.8M86.9,333.2h1.8M203.5,333.2h1.8M45.7,334.4h1.8M58.2,334.4h3.6M104.9,334.4h1.8M194.5,334.4h1.8M88.7,335.6h3.6M135.3,335.6h1.8M194.5,335.6h1.8M210.6,335.6h1.8M194.5,336.8h1.8M52.9,338.0h1.8M63.6,338.0h1.8M79.8,338.0h1.8M49.3,339.2h1.8M92.3,339.2h1.8M34.9,340.4h1.8M56.5,340.4h1.8M83.3,340.4h1.8M49.3,342.8h1.8M52.9,342.8h1.8M45.7,344.0h1.8M65.4,344.0h1.8M90.5,344.0h1.8M196.3,344.0h1.8M216.0,344.0h1.8M112.0,346.4h1.8M72.6,347.6h1.8M95.9,347.6h1.8M122.8,347.6h3.6M194.5,347.6h1.8M90.5,348.8h1.8M45.7,350.0h1.8M51.1,350.0h1.8M208.8,350.0h1.8M47.5,351.2h1.8M51.1,351.2h3.6M61.8,351.2h1.8M133.5,352.4h1.8M47.5,353.6h1.8M56.5,353.6h1.8M178.4,354.8h1.8M65.4,356.0h1.8M52.9,357.2h1.8M61.8,357.2h1.8M86.9,357.2h1.8M20.6,358.4h1.8M74.4,358.4h3.6M95.9,358.4h1.8M76.2,360.8h1.8M86.9,360.8h1.8M90.5,360.8h1.8M207.0,360.8h1.8M60.0,362.0h1.8M90.5,362.0h1.8M36.7,363.2h1.8M45.7,363.2h1.8M74.4,363.2h1.8M78.0,363.2h1.8M85.1,363.2h1.8M133.5,363.2h1.8M52.9,364.4h1.8M65.4,364.4h1.8M76.2,364.4h1.8M52.9,365.6h1.8M67.2,365.6h1.8M86.9,365.6h1.8M92.3,365.6h1.8M138.9,365.6h1.8M151.5,365.6h1.8M176.6,365.6h3.6M54.7,366.8h3.6M60.0,366.8h1.8M70.8,366.8h1.8M78.0,366.8h3.6M61.8,368.0h1.8M86.9,368.0h3.6M45.7,369.2h1.8M58.2,369.2h3.6M83.3,369.2h1.8M178.4,369.2h1.8M198.1,369.2h1.8M214.2,369.2h1.8M94.1,370.4h1.8M176.6,370.4h3.6M194.5,370.4h1.8M214.2,370.4h1.8M49.3,371.6h1.8M67.2,371.6h1.8M43.9,372.8h1.8M174.8,372.8h3.6M94.1,374.0h1.8M104.9,374.0h1.8M122.8,374.0h1.8M140.7,374.0h1.8M86.9,375.2h1.8M122.8,375.2h1.8M151.5,375.2h1.8M214.2,375.2h1.8M86.9,376.4h1.8M92.3,376.4h1.8M103.1,376.4h3.6M190.9,376.4h1.8M76.2,377.6h1.8M122.8,377.6h1.8M164.0,377.6h3.6M45.7,378.8h1.8M74.4,378.8h1.8M146.1,378.8h1.8M58.2,380.0h1.8M110.2,380.0h1.8M133.5,380.0h1.8M140.7,380.0h1.8M112.0,381.2h1.8M117.4,381.2h1.8M164.0,381.2h1.8M214.2,381.2h1.8M56.5,382.4h1.8M106.7,382.4h1.8M131.7,382.4h1.8M95.9,383.6h1.8M122.8,383.6h1.8M74.4,384.8h3.6M92.3,384.8h1.8M122.8,384.8h1.8M133.5,384.8h1.8M119.2,386.0h1.8M207.0,386.0h3.6M86.9,387.2h1.8M112.0,387.2h1.8M178.4,387.2h1.8M192.7,387.2h1.8M95.9,388.4h1.8M110.2,388.4h1.8M135.3,388.4h3.6M164.0,388.4h1.8M180.2,388.4h1.8M210.6,389.6h1.8M45.7,390.8h1.8M110.2,390.8h1.8M124.6,390.8h1.8M212.4,390.8h1.8M113.8,392.0h1.8M122.8,392.0h1.8M137.1,392.0h1.8M51.1,393.2h1.8M69.0,393.2h1.8M113.8,393.2h1.8M119.2,393.2h1.8M126.4,393.2h1.8M153.3,393.2h1.8M171.2,393.2h1.8M183.7,393.2h1.8M194.5,393.2h1.8M95.9,394.4h1.8M122.8,394.4h1.8M45.7,395.6h1.8M70.8,395.6h1.8M106.7,395.6h3.6M153.3,395.6h1.8M124.6,396.8h1.8M38.5,398.0h1.8M104.9,398.0h1.8M117.4,398.0h1.8M133.5,398.0h1.8M137.1,398.0h1.8M194.5,398.0h1.8M60.0,399.2h1.8M76.2,399.2h1.8M110.2,399.2h1.8M124.6,399.2h1.8M189.1,399.2h1.8M76.2,400.4h1.8M110.2,400.4h1.8M151.5,400.4h3.6M196.3,400.4h1.8M49.3,401.6h1.8M49.3,402.8h1.8M156.8,402.8h3.6M121.0,404.0h1.8M158.6,404.0h1.8M183.7,404.0h1.8M192.7,404.0h1.8M29.6,405.2h1.8M34.9,405.2h1.8M49.3,405.2h1.8M88.7,405.2h1.8M101.3,405.2h1.8M112.0,405.2h1.8M117.4,405.2h1.8M167.6,405.2h1.8M196.3,405.2h1.8M56.5,406.4h1.8M92.3,406.4h1.8M167.6,406.4h1.8M49.3,407.6h1.8M79.8,407.6h1.8M135.3,407.6h1.8M151.5,407.6h1.8M178.4,407.6h1.8M190.9,407.6h1.8M198.1,407.6h3.6M210.6,407.6h1.8M86.9,408.8h1.8M90.5,408.8h1.8M108.4,408.8h1.8M112.0,408.8h1.8M119.2,408.8h1.8M122.8,408.8h3.6M133.5,408.8h1.8M151.5,408.8h3.6M61.8,410.0h1.8M83.3,410.0h1.8M92.3,411.2h1.8M124.6,411.2h1.8M153.3,411.2h1.8M183.7,411.2h1.8M199.9,411.2h1.8M216.0,411.2h1.8M20.6,412.4h1.8M88.7,412.4h1.8M149.7,412.4h1.8M183.7,412.4h1.8M207.0,412.4h1.8M86.9,413.6h1.8M190.9,413.6h1.8M45.7,414.8h1.8M88.7,414.8h1.8M122.8,414.8h1.8M131.7,414.8h1.8M155.1,414.8h1.8M194.5,414.8h3.6M199.9,416.0h1.8M104.9,417.2h1.8M133.5,417.2h1.8M167.6,417.2h1.8M180.2,417.2h1.8M187.3,417.2h1.8M214.2,417.2h1.8M122.8,418.4h1.8M133.5,418.4h1.8M149.7,418.4h1.8M155.1,418.4h1.8M164.0,418.4h1.8M176.6,418.4h1.8M196.3,418.4h1.8M208.8,418.4h1.8M212.4,418.4h1.8M174.8,419.6h1.8M76.2,420.8h1.8M189.1,420.8h1.8M207.0,420.8h1.8M212.4,420.8h1.8M83.3,422.0h1.8M88.7,422.0h1.8M176.6,422.0h1.8M194.5,422.0h1.8M201.7,422.0h1.8M216.0,422.0h1.8M142.5,423.2h1.8M173.0,423.2h1.8M210.6,423.2h1.8M171.2,424.4h1.8M203.5,424.4h1.8M86.9,425.6h3.6M181.9,425.6h1.8M185.5,425.6h1.8M190.9,425.6h1.8M146.1,426.8h1.8M149.7,426.8h5.4M165.8,426.8h1.8M169.4,426.8h3.6M174.8,426.8h3.6M194.5,426.8h1.8M203.5,426.8h1.8M208.8,426.8h1.8M176.6,428.0h1.8M183.7,428.0h1.8M190.9,428.0h1.8M212.4,428.0h1.8M61.8,429.2h1.8M86.9,429.2h1.8M158.6,429.2h1.8M178.4,429.2h3.6M88.7,430.4h1.8M151.5,430.4h3.6M198.1,430.4h1.8M201.7,430.4h1.8M207.0,430.4h1.8M76.2,431.6h1.8M185.5,431.6h1.8M190.9,431.6h1.8M199.9,431.6h1.8M205.3,431.6h1.8M210.6,431.6h1.8M214.2,431.6h1.8M149.7,432.8h1.8M158.6,432.8h1.8M183.7,432.8h1.8M214.2,432.8h1.8M83.3,434.0h3.6M104.9,434.0h1.8M122.8,435.2h1.8M187.3,435.2h1.8M210.6,435.2h1.8M72.6,436.4h1.8M180.2,436.4h1.8M190.9,436.4h1.8M194.5,436.4h1.8M112.0,437.6h3.6M126.4,437.6h1.8M187.3,437.6h3.6M76.2,438.8h1.8M151.5,438.8h1.8M187.3,438.8h1.8M192.7,438.8h1.8M201.7,438.8h3.6M214.2,438.8h1.8M133.5,440.0h1.8M149.7,441.2h1.8M156.8,441.2h1.8M201.7,441.2h1.8M210.6,441.2h1.8M34.9,442.4h3.6M70.8,442.4h1.8M90.5,442.4h1.8M133.5,442.4h1.8M167.6,442.4h1.8M198.1,442.4h1.8M126.4,443.6h1.8M153.3,443.6h1.8M178.4,443.6h1.8M192.7,443.6h1.8M196.3,443.6h3.6M201.7,443.6h3.6M146.1,444.8h1.8M151.5,444.8h1.8M183.7,444.8h1.8M192.7,444.8h1.8M196.3,444.8h3.6M214.2,444.8h1.8M86.9,446.0h1.8M187.3,446.0h1.8M199.9,446.0h1.8M38.5,447.2h1.8M110.2,447.2h1.8M138.9,447.2h1.8M151.5,447.2h1.8M181.9,447.2h3.6M203.5,447.2h1.8M207.0,447.2h1.8M216.0,447.2h1.8M119.2,448.4h1.8M140.7,448.4h1.8M147.9,448.4h1.8M158.6,448.4h1.8M171.2,448.4h1.8M208.8,448.4h1.8M121.0,449.6h1.8M208.8,449.6h1.8M174.8,450.8h1.8M180.2,450.8h1.8M203.5,450.8h1.8M214.2,450.8h1.8M88.7,452.0h1.8M149.7,452.0h1.8M189.1,452.0h1.8M205.3,452.0h1.8M208.8,452.0h1.8M60.0,453.2h1.8M178.4,453.2h1.8M194.5,453.2h1.8M214.2,453.2h1.8M86.9,454.4h1.8M149.7,454.4h1.8M181.9,454.4h1.8M189.1,454.4h1.8M61.8,455.6h1.8M76.2,455.6h1.8M153.3,455.6h1.8M190.9,455.6h1.8M205.3,455.6h1.8M165.8,456.8h1.8M174.8,458.0h3.6M181.9,458.0h1.8M210.6,458.0h1.8M180.2,459.2h5.4M194.5,459.2h1.8M49.3,460.4h1.8M156.8,460.4h3.6M189.1,460.4h1.8M208.8,460.4h1.8M83.3,461.6h1.8M126.4,461.6h1.8M189.1,461.6h1.8M198.1,461.6h1.8M20.6,462.8h1.8M72.6,462.8h1.8M88.7,462.8h1.8M126.4,462.8h1.8M135.3,462.8h1.8M165.8,462.8h3.6M181.9,462.8h1.8M201.7,462.8h1.8M67.2,464.0h1.8M70.8,464.0h1.8M88.7,464.0h1.8M156.8,464.0h3.6M167.6,464.0h1.8M174.8,464.0h1.8M45.7,465.2h1.8M67.2,465.2h1.8M83.3,465.2h1.8M165.8,465.2h1.8M173.0,465.2h1.8M189.1,465.2h1.8M192.7,465.2h1.8M212.4,465.2h1.8M171.2,466.4h1.8M178.4,466.4h1.8M190.9,466.4h1.8M203.5,466.4h1.8M158.6,467.6h1.8M176.6,467.6h1.8M181.9,467.6h1.8M189.1,467.6h1.8M194.5,467.6h1.8M214.2,467.6h1.8M61.8,468.8h1.8M74.4,468.8h1.8M185.5,468.8h1.8M199.9,468.8h1.8M140.7,471.2h1.8M169.4,471.2h1.8M194.5,471.2h3.6M205.3,471.2h1.8M151.5,472.4h1.8M190.9,472.4h1.8M194.5,472.4h1.8M52.9,473.6h1.8M56.5,473.6h1.8M190.9,473.6h3.6M149.7,474.8h1.8M153.3,474.8h1.8M151.5,476.0h1.8M171.2,476.0h1.8M181.9,476.0h1.8M207.0,476.0h3.6M165.8,477.2h1.8M52.9,478.4h1.8M86.9,478.4h1.8M158.6,480.8h1.8M192.7,480.8h1.8M115.6,482.0h1.8M189.1,482.0h1.8M115.6,483.2h1.8M119.2,483.2h1.8M124.6,483.2h1.8M128.2,483.2h1.8M183.7,483.2h1.8M214.2,483.2h1.8M151.5,484.4h1.8"/>
<path stroke="#961411" d="M36.7,314.0h1.8M76.2,314.0h1.8M79.8,314.0h3.6M51.1,315.2h3.6M61.8,315.2h1.8M79.8,315.2h3.6M60.0,316.4h1.8M65.4,316.4h1.8M92.3,316.4h1.8M52.9,317.6h3.6M79.8,317.6h1.8M92.3,317.6h1.8M190.9,318.8h1.8M34.9,320.0h1.8M58.2,320.0h1.8M67.2,320.0h1.8M74.4,320.0h1.8M95.9,320.0h1.8M201.7,322.4h1.8M29.6,323.6h1.8M52.9,323.6h1.8M83.3,323.6h1.8M112.0,323.6h1.8M183.7,323.6h1.8M158.6,324.8h1.8M81.6,326.0h1.8M133.5,326.0h1.8M20.6,327.2h1.8M70.8,327.2h1.8M88.7,327.2h1.8M203.5,327.2h1.8M201.7,328.4h1.8M86.9,329.6h1.8M38.5,330.8h1.8M61.8,330.8h1.8M203.5,330.8h1.8M60.0,332.0h1.8M183.7,332.0h3.6M90.5,333.2h1.8M49.3,334.4h3.6M56.5,334.4h1.8M79.8,334.4h1.8M92.3,334.4h1.8M190.9,335.6h1.8M34.9,336.8h1.8M22.4,338.0h3.6M88.7,338.0h1.8M181.9,338.0h1.8M20.6,340.4h1.8M90.5,340.4h1.8M176.6,340.4h1.8M20.6,341.6h1.8M52.9,341.6h3.6M72.6,341.6h1.8M88.7,341.6h1.8M176.6,341.6h1.8M210.6,341.6h1.8M83.3,344.0h1.8M88.7,345.2h1.8M90.5,346.4h1.8M45.7,347.6h1.8M56.5,347.6h1.8M60.0,347.6h1.8M90.5,347.6h1.8M94.1,347.6h1.8M133.5,347.6h1.8M58.2,348.8h1.8M76.2,348.8h1.8M94.1,348.8h1.8M52.9,350.0h1.8M56.5,350.0h1.8M63.6,350.0h1.8M78.0,350.0h1.8M133.5,350.0h1.8M180.2,350.0h1.8M194.5,350.0h1.8M49.3,351.2h1.8M133.5,351.2h1.8M70.8,353.6h1.8M51.1,354.8h1.8M90.5,354.8h1.8M76.2,356.0h1.8M88.7,356.0h1.8M22.4,357.2h1.8M56.5,357.2h1.8M214.2,357.2h1.8M43.9,358.4h3.6M56.5,358.4h1.8M86.9,358.4h1.8M133.5,358.4h1.8M70.8,359.6h1.8M88.7,359.6h1.8M58.2,360.8h1.8M214.2,360.8h1.8M34.9,363.2h1.8M45.7,364.4h1.8M56.5,364.4h3.6M92.3,364.4h1.8M61.8,365.6h1.8M110.2,365.6h1.8M210.6,366.8h3.6M56.5,369.2h1.8M65.4,370.4h1.8M90.5,370.4h1.8M192.7,371.6h1.8M56.5,372.8h1.8M95.9,372.8h1.8M106.7,374.0h1.8M117.4,374.0h1.8M151.5,374.0h1.8M20.6,375.2h1.8M103.1,375.2h1.8M106.7,375.2h1.8M135.3,377.6h1.8M196.3,377.6h1.8M72.6,378.8h1.8M92.3,378.8h1.8M99.5,378.8h1.8M106.7,378.8h1.8M122.8,378.8h1.8M86.9,380.0h1.8M142.5,380.0h1.8M45.7,381.2h1.8M95.9,381.2h1.8M92.3,382.4h1.8M122.8,382.4h3.6M133.5,382.4h1.8M106.7,384.8h1.8M210.6,386.0h1.8M34.9,387.2h1.8M117.4,387.2h1.8M126.4,387.2h1.8M131.7,387.2h1.8M36.7,388.4h1.8M108.4,388.4h1.8M130.0,388.4h1.8M108.4,389.6h3.6M133.5,389.6h1.8M158.6,389.6h1.8M76.2,390.8h1.8M122.8,390.8h1.8M104.9,392.0h1.8M133.5,392.0h1.8M183.7,392.0h1.8M45.7,394.4h1.8M112.0,394.4h1.8M47.5,395.6h1.8M151.5,395.6h1.8M165.8,395.6h1.8M208.8,395.6h1.8M117.4,396.8h1.8M36.7,398.0h1.8M74.4,398.0h1.8M90.5,398.0h1.8M106.7,398.0h1.8M156.8,398.0h1.8M88.7,399.2h1.8M104.9,399.2h1.8M117.4,399.2h1.8M115.6,400.4h1.8M194.5,400.4h1.8M51.1,401.6h1.8M133.5,402.8h1.8M122.8,404.0h1.8M137.1,404.0h1.8M54.7,405.2h1.8M76.2,405.2h1.8M194.5,405.2h1.8M203.5,405.2h1.8M31.4,406.4h1.8M126.4,406.4h1.8M153.3,406.4h1.8M110.2,407.6h3.6M214.2,407.6h1.8M47.5,408.8h1.8M113.8,408.8h1.8M192.7,410.0h1.8M61.8,411.2h1.8M104.9,411.2h1.8M174.8,411.2h1.8M173.0,412.4h1.8M176.6,412.4h1.8M110.2,413.6h1.8M76.2,414.8h1.8M113.8,414.8h1.8M180.2,414.8h1.8M201.7,414.8h1.8M208.8,414.8h1.8M158.6,416.0h1.8M190.9,416.0h1.8M203.5,416.0h1.8M70.8,417.2h1.8M112.0,417.2h1.8M178.4,417.2h1.8M185.5,417.2h1.8M189.1,417.2h1.8M199.9,417.2h1.8M205.3,417.2h1.8M79.8,418.4h1.8M86.9,418.4h1.8M192.7,418.4h3.6M205.3,418.4h1.8M216.0,418.4h1.8M124.6,419.6h1.8M173.0,419.6h1.8M185.5,419.6h1.8M194.5,419.6h1.8M74.4,420.8h1.8M176.6,420.8h1.8M149.7,422.0h1.8M196.3,422.0h1.8M70.8,423.2h1.8M185.5,423.2h1.8M155.1,424.4h1.8M173.0,424.4h3.6M185.5,424.4h1.8M199.9,425.6h1.8M61.8,426.8h1.8M86.9,426.8h1.8M112.0,426.8h1.8M147.9,426.8h1.8M212.4,426.8h3.6M70.8,428.0h1.8M178.4,428.0h1.8M203.5,428.0h1.8M208.8,428.0h1.8M214.2,428.0h1.8M76.2,429.2h1.8M133.5,429.2h1.8M207.0,429.2h1.8M212.4,429.2h1.8M180.2,430.4h3.6M187.3,430.4h3.6M199.9,430.4h1.8M212.4,430.4h1.8M189.1,431.6h1.8M198.1,431.6h1.8M153.3,432.8h1.8M167.6,435.2h3.6M185.5,436.4h1.8M196.3,436.4h1.8M210.6,436.4h1.8M174.8,437.6h1.8M203.5,437.6h1.8M88.7,438.8h1.8M196.3,438.8h1.8M212.4,438.8h1.8M158.6,440.0h3.6M176.6,440.0h1.8M180.2,440.0h1.8M189.1,440.0h1.8M67.2,441.2h1.8M176.6,441.2h1.8M189.1,441.2h1.8M216.0,441.2h1.8M176.6,442.4h1.8M192.7,442.4h1.8M124.6,443.6h1.8M171.2,443.6h1.8M185.5,443.6h1.8M194.5,443.6h1.8M142.5,444.8h1.8M181.9,444.8h1.8M201.7,444.8h1.8M88.7,446.0h1.8M151.5,446.0h1.8M142.5,447.2h1.8M190.9,447.2h1.8M156.8,448.4h1.8M181.9,448.4h1.8M199.9,448.4h1.8M210.6,448.4h1.8M180.2,449.6h1.8M185.5,449.6h1.8M122.8,450.8h1.8M151.5,450.8h3.6M207.0,450.8h1.8M142.5,452.0h1.8M169.4,452.0h1.8M203.5,452.0h1.8M207.0,452.0h1.8M210.6,452.0h1.8M174.8,453.2h1.8M180.2,453.2h1.8M151.5,454.4h1.8M198.1,454.4h1.8M149.7,455.6h1.8M167.6,455.6h1.8M174.8,455.6h1.8M183.7,455.6h1.8M187.3,455.6h3.6M192.7,455.6h1.8M174.8,456.8h1.8M212.4,456.8h3.6M171.2,458.0h1.8M185.5,458.0h1.8M189.1,458.0h1.8M194.5,458.0h1.8M198.1,458.0h3.6M203.5,458.0h1.8M214.2,458.0h1.8M178.4,459.2h1.8M196.3,459.2h1.8M203.5,459.2h1.8M210.6,459.2h1.8M76.2,460.4h1.8M88.7,460.4h1.8M149.7,460.4h3.6M173.0,460.4h1.8M176.6,460.4h1.8M78.0,461.6h1.8M153.3,461.6h1.8M158.6,461.6h1.8M194.5,461.6h1.8M199.9,461.6h1.8M76.2,462.8h1.8M122.8,462.8h1.8M149.7,462.8h1.8M160.4,462.8h1.8M187.3,462.8h1.8M194.5,462.8h1.8M199.9,462.8h1.8M151.5,464.0h1.8M183.7,464.0h1.8M187.3,464.0h1.8M194.5,464.0h1.8M194.5,466.4h1.8M201.7,466.4h1.8M210.6,466.4h1.8M180.2,467.6h1.8M201.7,467.6h1.8M207.0,467.6h1.8M210.6,467.6h1.8M167.6,470.0h3.6M196.3,470.0h1.8M117.4,471.2h1.8M210.6,471.2h1.8M196.3,472.4h1.8M76.2,473.6h1.8M153.3,473.6h1.8M180.2,473.6h1.8M187.3,473.6h1.8M212.4,473.6h1.8M20.6,476.0h1.8M201.7,476.0h3.6M142.5,478.4h1.8M76.2,480.8h1.8M20.6,482.0h1.8M131.7,482.0h1.8M178.4,482.0h1.8M86.9,483.2h1.8M104.9,483.2h1.8M146.1,483.2h1.8M180.2,483.2h1.8M199.9,483.2h1.8M205.3,483.2h1.8M158.6,484.4h1.8M176.6,484.4h1.8"/>
<path stroke="#aa1612" d="M51.1,312.8h1.8M86.9,312.8h1.8M95.9,312.8h1.8M131.7,312.8h1.8M49.3,314.0h1.8M83.3,314.0h1.8M86.9,314.0h1.8M60.0,315.2h1.8M67.2,315.2h1.8M45.7,318.8h1.8M83.3,318.8h1.8M88.7,318.8h1.8M95.9,318.8h1.8M210.6,318.8h1.8M72.6,320.0h1.8M76.2,320.0h1.8M85.1,320.0h1.8M31.4,321.2h1.8M86.9,321.2h1.8M56.5,322.4h1.8M201.7,323.6h1.8M79.8,324.8h1.8M156.8,324.8h1.8M208.8,324.8h1.8M51.1,329.6h3.6M61.8,329.6h1.8M117.4,329.6h1.8M49.3,330.8h1.8M183.7,330.8h1.8M61.8,332.0h1.8M190.9,332.0h1.8M49.3,333.2h5.4M92.3,333.2h1.8M176.6,333.2h1.8M214.2,333.2h1.8M178.4,334.4h1.8M192.7,334.4h1.8M49.3,335.6h1.8M56.5,335.6h3.6M92.3,335.6h1.8M36.7,336.8h1.8M49.3,336.8h3.6M192.7,336.8h1.8M76.2,338.0h1.8M61.8,340.4h1.8M88.7,340.4h1.8M92.3,340.4h1.8M51.1,342.8h1.8M86.9,342.8h1.8M92.3,344.0h1.8M61.8,348.8h1.8M92.3,348.8h1.8M192.7,348.8h1.8M49.3,350.0h1.8M60.0,350.0h1.8M106.7,350.0h1.8M20.6,354.8h1.8M70.8,356.0h1.8M34.9,357.2h1.8M212.4,357.2h1.8M60.0,360.8h1.8M88.7,360.8h1.8M133.5,360.8h1.8M51.1,363.2h1.8M61.8,364.4h1.8M70.8,364.4h1.8M81.6,364.4h1.8M196.3,364.4h1.8M65.4,365.6h1.8M70.8,365.6h1.8M86.9,366.8h1.8M183.7,366.8h1.8M74.4,369.2h1.8M69.0,370.4h3.6M79.8,370.4h1.8M88.7,370.4h1.8M61.8,371.6h1.8M133.5,371.6h1.8M192.7,372.8h1.8M92.3,375.2h1.8M95.9,375.2h1.8M104.9,375.2h1.8M119.2,375.2h1.8M95.9,376.4h1.8M86.9,377.6h1.8M133.5,377.6h1.8M137.1,377.6h1.8M110.2,378.8h1.8M131.7,378.8h1.8M135.3,378.8h1.8M178.4,378.8h1.8M192.7,378.8h1.8M104.9,380.0h1.8M104.9,381.2h1.8M167.6,381.2h1.8M135.3,382.4h1.8M104.9,383.6h3.6M183.7,383.6h1.8M122.8,386.0h1.8M158.6,388.4h1.8M171.2,388.4h1.8M112.0,392.0h1.8M45.7,393.2h1.8M110.2,393.2h1.8M131.7,393.2h1.8M185.5,393.2h1.8M49.3,396.8h1.8M61.8,398.0h1.8M88.7,398.0h1.8M192.7,398.0h1.8M86.9,399.2h1.8M121.0,399.2h1.8M56.5,400.4h1.8M86.9,400.4h1.8M104.9,400.4h3.6M119.2,400.4h1.8M203.5,400.4h1.8M112.0,401.6h1.8M115.6,401.6h1.8M124.6,401.6h1.8M110.2,404.0h1.8M36.7,405.2h1.8M115.6,405.2h1.8M119.2,405.2h1.8M165.8,405.2h1.8M58.2,406.4h1.8M95.9,406.4h1.8M86.9,407.6h3.6M95.9,407.6h1.8M99.5,407.6h1.8M153.3,407.6h1.8M131.7,408.8h1.8M20.6,410.0h1.8M165.8,410.0h1.8M79.8,411.2h1.8M90.5,411.2h1.8M176.6,411.2h1.8M61.8,414.8h1.8M115.6,414.8h1.8M158.6,414.8h1.8M174.8,414.8h1.8M187.3,414.8h3.6M165.8,416.0h1.8M205.3,416.0h3.6M72.6,417.2h1.8M131.7,417.2h1.8M198.1,417.2h1.8M203.5,417.2h1.8M208.8,417.2h1.8M151.5,418.4h3.6M181.9,418.4h1.8M203.5,418.4h1.8M207.0,418.4h1.8M214.2,418.4h1.8M190.9,419.6h1.8M201.7,419.6h1.8M210.6,419.6h1.8M216.0,419.6h1.8M178.4,420.8h1.8M201.7,420.8h1.8M153.3,422.0h1.8M167.6,422.0h1.8M180.2,422.0h3.6M189.1,422.0h1.8M208.8,422.0h1.8M212.4,422.0h1.8M86.9,423.2h3.6M192.7,424.4h3.6M174.8,425.6h1.8M192.7,425.6h3.6M88.7,426.8h1.8M173.0,426.8h1.8M187.3,426.8h1.8M126.4,428.0h1.8M192.7,428.0h1.8M196.3,428.0h1.8M199.9,428.0h1.8M207.0,428.0h1.8M176.6,429.2h1.8M196.3,429.2h1.8M208.8,429.2h1.8M203.5,430.4h1.8M216.0,430.4h1.8M171.2,431.6h1.8M181.9,431.6h1.8M192.7,431.6h1.8M196.3,431.6h1.8M149.7,434.0h1.8M190.9,434.0h1.8M198.1,434.0h1.8M214.2,434.0h1.8M176.6,435.2h1.8M196.3,435.2h1.8M203.5,435.2h1.8M153.3,436.4h1.8M208.8,436.4h1.8M173.0,437.6h1.8M185.5,437.6h1.8M194.5,437.6h1.8M208.8,437.6h1.8M189.1,438.8h1.8M178.4,440.0h1.8M190.9,440.0h3.6M196.3,440.0h1.8M203.5,440.0h1.8M216.0,440.0h1.8M181.9,441.2h1.8M208.8,442.4h1.8M146.1,443.6h1.8M176.6,446.0h1.8M181.9,449.6h1.8M190.9,449.6h1.8M201.7,449.6h1.8M144.3,452.0h1.8M153.3,452.0h1.8M167.6,452.0h1.8M176.6,452.0h3.6M196.3,452.0h1.8M189.1,453.2h1.8M192.7,453.2h1.8M203.5,453.2h1.8M169.4,455.6h1.8M176.6,455.6h1.8M185.5,455.6h1.8M196.3,455.6h1.8M199.9,455.6h1.8M208.8,455.6h3.6M133.5,456.8h1.8M199.9,456.8h1.8M190.9,458.0h1.8M201.7,458.0h1.8M212.4,458.0h1.8M49.3,459.2h1.8M61.8,459.2h1.8M76.2,459.2h1.8M88.7,459.2h1.8M151.5,459.2h1.8M187.3,459.2h1.8M178.4,460.4h1.8M207.0,460.4h1.8M216.0,460.4h1.8M76.2,461.6h1.8M156.8,461.6h1.8M214.2,461.6h1.8M86.9,462.8h1.8M137.1,462.8h1.8M153.3,462.8h1.8M169.4,462.8h1.8M174.8,462.8h1.8M198.1,462.8h1.8M212.4,462.8h1.8M135.3,464.0h1.8M181.9,464.0h1.8M198.1,464.0h1.8M207.0,464.0h1.8M214.2,464.0h3.6M79.8,465.2h1.8M169.4,465.2h1.8M194.5,465.2h1.8M205.3,465.2h1.8M183.7,466.4h1.8M189.1,466.4h1.8M214.2,466.4h1.8M156.8,467.6h1.8M178.4,467.6h1.8M183.7,467.6h3.6M208.8,467.6h1.8M187.3,468.8h1.8M192.7,468.8h1.8M205.3,468.8h1.8M192.7,470.0h1.8M110.2,471.2h1.8M149.7,471.2h1.8M181.9,471.2h1.8M203.5,471.2h1.8M214.2,471.2h1.8M156.8,472.4h1.8M198.1,472.4h1.8M199.9,473.6h1.8M214.2,474.8h1.8M153.3,476.0h3.6M176.6,477.2h1.8M210.6,477.2h1.8M178.4,478.4h1.8M192.7,478.4h1.8M203.5,478.4h1.8M180.2,482.0h1.8M176.6,483.2h1.8M203.5,483.2h1.8M165.8,484.4h1.8M180.2,484.4h1.8"/>
<path stroke="#bd1814" d="M194.5,312.8h1.8M92.3,315.2h1.8M181.9,315.2h1.8M86.9,316.4h3.6M56.5,317.6h1.8M94.1,318.8h1.8M88.7,321.2h1.8M49.3,323.6h1.8M85.1,323.6h1.8M178.4,323.6h1.8M192.7,323.6h1.8M90.5,324.8h1.8M210.6,324.8h1.8M20.6,326.0h1.8M45.7,326.0h1.8M79.8,326.0h1.8M45.7,327.2h1.8M185.5,330.8h1.8M86.9,332.0h1.8M185.5,333.2h1.8M88.7,334.4h1.8M133.5,334.4h1.8M210.6,334.4h1.8M86.9,336.8h1.8M133.5,336.8h1.8M88.7,346.4h1.8M86.9,347.6h1.8M176.6,347.6h1.8M60.0,348.8h1.8M34.9,350.0h1.8M58.2,350.0h1.8M178.4,350.0h1.8M56.5,351.2h1.8M79.8,351.2h1.8M86.9,351.2h1.8M49.3,354.8h1.8M52.9,354.8h1.8M176.6,354.8h1.8M110.2,357.2h1.8M63.6,360.8h1.8M85.1,362.0h1.8M67.2,364.4h1.8M78.0,364.4h1.8M31.4,366.8h1.8M90.5,366.8h1.8M198.1,366.8h1.8M76.2,368.0h1.8M63.6,369.2h1.8M67.2,369.2h1.8M85.1,369.2h3.6M58.2,370.4h1.8M63.6,370.4h1.8M83.3,370.4h1.8M86.9,370.4h1.8M65.4,371.6h1.8M88.7,372.8h1.8M119.2,374.0h1.8M153.3,374.0h1.8M192.7,374.0h1.8M61.8,375.2h1.8M88.7,375.2h1.8M113.8,375.2h1.8M88.7,377.6h1.8M151.5,377.6h1.8M95.9,378.8h1.8M117.4,378.8h1.8M126.4,378.8h1.8M214.2,380.0h1.8M47.5,381.2h1.8M94.1,382.4h1.8M113.8,382.4h1.8M187.3,383.6h1.8M110.2,386.0h3.6M214.2,386.0h1.8M110.2,387.2h1.8M115.6,387.2h1.8M133.5,387.2h1.8M138.9,387.2h1.8M61.8,388.4h1.8M104.9,388.4h1.8M45.7,389.6h1.8M104.9,389.6h1.8M86.9,390.8h1.8M88.7,392.0h1.8M94.1,392.0h1.8M47.5,393.2h1.8M76.2,393.2h1.8M210.6,394.4h1.8M56.5,395.6h1.8M110.2,395.6h1.8M210.6,395.6h1.8M131.7,398.0h1.8M119.2,399.2h1.8M192.7,400.4h1.8M56.5,401.6h1.8M31.4,404.0h1.8M113.8,405.2h1.8M133.5,406.4h1.8M165.8,406.4h1.8M97.7,407.6h1.8M108.4,407.6h1.8M192.7,407.6h1.8M45.7,408.8h1.8M56.5,408.8h1.8M88.7,410.0h1.8M104.9,410.0h1.8M76.2,411.2h1.8M126.4,411.2h1.8M192.7,411.2h1.8M133.5,413.6h1.8M79.8,414.8h1.8M88.7,417.2h1.8M171.2,418.4h1.8M198.1,418.4h1.8M88.7,419.6h1.8M176.6,419.6h1.8M203.5,419.6h1.8M214.2,419.6h1.8M88.7,420.8h1.8M216.0,420.8h1.8M70.8,422.0h1.8M86.9,422.0h1.8M190.9,423.2h1.8M194.5,423.2h1.8M212.4,423.2h1.8M158.6,424.4h1.8M176.6,424.4h3.6M198.1,424.4h1.8M178.4,425.6h1.8M203.5,425.6h1.8M207.0,425.6h1.8M214.2,425.6h1.8M192.7,426.8h1.8M171.2,428.0h1.8M198.1,428.0h1.8M201.7,428.0h1.8M181.9,429.2h1.8M198.1,429.2h3.6M70.8,431.6h1.8M151.5,431.6h1.8M178.4,432.8h1.8M194.5,435.2h1.8M201.7,435.2h1.8M207.0,435.2h1.8M216.0,435.2h1.8M201.7,436.4h1.8M207.0,436.4h1.8M214.2,436.4h1.8M192.7,437.6h1.8M201.7,437.6h1.8M205.3,437.6h3.6M210.6,437.6h1.8M176.6,438.8h1.8M198.1,438.8h1.8M216.0,438.8h1.8M181.9,440.0h1.8M158.6,441.2h1.8M174.8,443.6h1.8M208.8,443.6h1.8M128.2,444.8h1.8M153.3,444.8h1.8M203.5,444.8h1.8M212.4,444.8h1.8M174.8,446.0h1.8M181.9,446.0h1.8M198.1,446.0h1.8M212.4,446.0h1.8M192.7,447.2h1.8M178.4,448.4h1.8M203.5,448.4h1.8M199.9,449.6h1.8M176.6,450.8h3.6M185.5,450.8h1.8M151.5,452.0h1.8M192.7,454.4h1.8M210.6,454.4h1.8M155.1,455.6h1.8M203.5,455.6h1.8M207.0,455.6h1.8M183.7,456.8h3.6M208.8,456.8h1.8M155.1,458.0h1.8M173.0,458.0h1.8M158.6,459.2h1.8M173.0,459.2h1.8M214.2,459.2h1.8M86.9,460.4h1.8M192.7,460.4h1.8M151.5,461.6h1.8M176.6,461.6h1.8M181.9,461.6h3.6M203.5,461.6h1.8M158.6,462.8h1.8M208.8,464.0h1.8M181.9,465.2h1.8M176.6,466.4h1.8M201.7,468.8h1.8M190.9,474.8h1.8M70.8,476.0h1.8M92.3,477.2h1.8M176.6,478.4h1.8M201.7,478.4h1.8M153.3,480.8h1.8M126.4,482.0h1.8M210.6,482.0h1.8M153.3,484.4h1.8M214.2,484.4h1.8"/>
<path stroke="#d11a16" d="M88.7,312.8h1.8M192.7,312.8h1.8M214.2,315.2h1.8M45.7,316.4h1.8M61.8,316.4h1.8M56.5,320.0h1.8M70.8,320.0h1.8M51.1,323.6h1.8M86.9,323.6h3.6M176.6,323.6h1.8M38.5,327.2h1.8M78.0,327.2h3.6M20.6,328.4h1.8M61.8,328.4h1.8M85.1,330.8h1.8M85.1,332.0h1.8M88.7,332.0h1.8M110.2,332.0h1.8M61.8,333.2h1.8M88.7,333.2h1.8M178.4,333.2h1.8M183.7,333.2h1.8M52.9,334.4h1.8M61.8,334.4h1.8M90.5,334.4h1.8M176.6,334.4h1.8M61.8,335.6h1.8M76.2,335.6h1.8M133.5,335.6h1.8M192.7,335.6h1.8M88.7,336.8h1.8M67.2,338.0h1.8M61.8,339.2h1.8M86.9,339.2h1.8M85.1,340.4h1.8M192.7,340.4h1.8M86.9,344.0h3.6M214.2,344.0h1.8M61.8,347.6h1.8M88.7,347.6h1.8M92.3,347.6h1.8M110.2,347.6h1.8M56.5,348.8h1.8M88.7,348.8h1.8M47.5,350.0h1.8M61.8,350.0h1.8M79.8,350.0h1.8M165.8,352.4h1.8M214.2,352.4h1.8M51.1,353.6h1.8M58.2,353.6h1.8M88.7,354.8h1.8M61.8,356.0h1.8M86.9,356.0h1.8M58.2,362.0h1.8M56.5,363.2h1.8M70.8,363.2h3.6M79.8,363.2h1.8M60.0,364.4h1.8M79.8,364.4h1.8M214.2,364.4h1.8M76.2,366.8h1.8M88.7,366.8h1.8M133.5,366.8h1.8M61.8,369.2h1.8M88.7,369.2h1.8M56.5,370.4h1.8M67.2,370.4h1.8M203.5,370.4h1.8M86.9,371.6h3.6M45.7,372.8h1.8M74.4,372.8h3.6M115.6,374.0h1.8M131.7,377.6h1.8M198.1,377.6h1.8M115.6,378.8h1.8M133.5,378.8h1.8M106.7,380.0h3.6M106.7,381.2h5.4M113.8,381.2h3.6M165.8,381.2h1.8M95.9,382.4h1.8M164.0,382.4h3.6M104.9,384.8h1.8M106.7,388.4h1.8M131.7,388.4h3.6M106.7,389.6h1.8M214.2,390.8h1.8M92.3,392.0h1.8M110.2,392.0h1.8M124.6,392.0h1.8M70.8,393.2h1.8M112.0,393.2h1.8M192.7,393.2h1.8M76.2,394.4h1.8M61.8,395.6h1.8M207.0,395.6h1.8M72.6,396.8h1.8M110.2,396.8h1.8M158.6,398.0h1.8M122.8,399.2h1.8M88.7,400.4h1.8M117.4,400.4h1.8M113.8,401.6h1.8M56.5,405.2h1.8M192.7,405.2h1.8M88.7,406.4h1.8M108.4,406.4h7.2M106.7,407.6h1.8M113.8,407.6h1.8M133.5,407.6h1.8M61.8,408.8h1.8M79.8,408.8h1.8M88.7,408.8h1.8M86.9,411.2h3.6M189.1,413.6h1.8M153.3,414.8h1.8M176.6,414.8h3.6M181.9,414.8h5.4M192.7,414.8h1.8M207.0,414.8h1.8M210.6,414.8h7.2M192.7,416.0h1.8M198.1,416.0h1.8M201.7,416.0h1.8M86.9,417.2h1.8M176.6,417.2h1.8M192.7,417.2h5.4M207.0,417.2h1.8M210.6,417.2h1.8M180.2,418.4h1.8M183.7,418.4h1.8M210.6,418.4h1.8M86.9,419.6h1.8M158.6,419.6h1.8M178.4,419.6h3.6M192.7,419.6h1.8M86.9,420.8h1.8M190.9,420.8h3.6M210.6,420.8h1.8M214.2,420.8h1.8M151.5,422.0h1.8M178.4,422.0h1.8M192.7,422.0h1.8M207.0,422.0h1.8M210.6,422.0h1.8M214.2,422.0h1.8M167.6,423.2h1.8M192.7,423.2h1.8M214.2,423.2h1.8M156.8,424.4h1.8M180.2,424.4h1.8M183.7,424.4h1.8M190.9,424.4h1.8M61.8,425.6h1.8M180.2,425.6h1.8M183.7,425.6h1.8M201.7,425.6h1.8M199.9,426.8h3.6M207.0,426.8h1.8M210.6,426.8h1.8M76.2,428.0h1.8M210.6,428.0h1.8M183.7,429.2h5.4M190.9,429.2h5.4M203.5,429.2h1.8M210.6,429.2h1.8M214.2,429.2h3.6M210.6,430.4h1.8M214.2,430.4h1.8M183.7,431.6h1.8M187.3,431.6h1.8M207.0,431.6h1.8M178.4,434.0h1.8M192.7,434.0h3.6M151.5,435.2h3.6M171.2,435.2h1.8M178.4,435.2h1.8M190.9,435.2h3.6M208.8,435.2h1.8M214.2,435.2h1.8M178.4,436.4h1.8M183.7,436.4h1.8M192.7,436.4h1.8M178.4,437.6h3.6M190.9,437.6h1.8M214.2,437.6h3.6M178.4,438.8h5.4M183.7,440.0h1.8M194.5,440.0h1.8M210.6,440.0h5.4M133.5,441.2h1.8M178.4,441.2h1.8M190.9,441.2h3.6M171.2,442.4h1.8M207.0,442.4h1.8M210.6,442.4h1.8M70.8,443.6h1.8M176.6,443.6h1.8M210.6,443.6h1.8M194.5,444.8h1.8M183.7,446.0h1.8M192.7,446.0h5.4M201.7,446.0h3.6M214.2,446.0h1.8M173.0,447.2h3.6M210.6,447.2h5.4M122.8,448.4h1.8M173.0,448.4h1.8M180.2,448.4h1.8M201.7,448.4h1.8M178.4,449.6h1.8M192.7,449.6h1.8M207.0,449.6h1.8M190.9,450.8h3.6M180.2,452.0h3.6M190.9,452.0h3.6M210.6,453.2h3.6M171.2,454.4h1.8M194.5,454.4h3.6M156.8,455.6h1.8M201.7,455.6h1.8M201.7,456.8h1.8M207.0,456.8h1.8M210.6,456.8h1.8M178.4,458.0h1.8M183.7,458.0h1.8M187.3,458.0h1.8M192.7,458.0h1.8M142.5,459.2h1.8M156.8,459.2h1.8M174.8,459.2h3.6M192.7,459.2h1.8M212.4,459.2h1.8M190.9,460.4h1.8M210.6,460.4h5.4M178.4,461.6h3.6M190.9,461.6h3.6M210.6,461.6h3.6M124.6,462.8h1.8M151.5,462.8h1.8M171.2,462.8h3.6M183.7,462.8h3.6M190.9,462.8h3.6M207.0,462.8h1.8M210.6,462.8h1.8M214.2,462.8h3.6M133.5,464.0h1.8M153.3,464.0h1.8M185.5,464.0h1.8M192.7,464.0h1.8M199.9,464.0h5.4M210.6,464.0h3.6M171.2,465.2h1.8M174.8,465.2h1.8M183.7,465.2h5.4M201.7,465.2h3.6M207.0,465.2h1.8M180.2,466.4h3.6M185.5,466.4h3.6M192.7,466.4h1.8M187.3,467.6h1.8M192.7,467.6h1.8M151.5,468.8h1.8M203.5,468.8h1.8M192.7,471.2h1.8M212.4,471.2h1.8M192.7,472.4h1.8M178.4,473.6h1.8M181.9,473.6h1.8M214.2,473.6h1.8M153.3,482.0h1.8M88.7,483.2h1.8M178.4,483.2h1.8M201.7,483.2h1.8M192.7,484.4h1.8"/>
</g>
<rect x="20.6" y="486" width="197" height="4" fill="#e4e1f6"/>
<rect x="23.0" y="486" width="2.0" height="4" fill="#3b1788"/>
<rect x="48.0" y="486" width="4.0" height="4" fill="#3b1788"/>
<rect x="67.5" y="486" width="1.5" height="4" fill="#3b1788"/>
<rect x="73.5" y="486" width="2.0" height="4" fill="#3b1788"/>
<rect x="145.5" y="486" width="1.7" height="4" fill="#3b1788"/>
<rect x="180.3" y="486" width="1.7" height="4" fill="#3b1788"/>
<rect x="205.5" y="486" width="1.7" height="4" fill="#3b1788"/>
<rect x="20.5" y="491.0" width="7.5" height="4.4" fill="#c6c6c6"/>
<rect x="32.5" y="491.0" width="1.5" height="4.4" fill="#c6c6c6"/>
<rect x="36.5" y="491.0" width="3.0" height="4.4" fill="#c6c6c6"/>
<rect x="41.5" y="491.0" width="29.5" height="4.4" fill="#c6c6c6"/>
<rect x="73.2" y="491.0" width="1.8" height="4.4" fill="#c6c6c6"/>
<rect x="77.0" y="491.0" width="7.5" height="4.4" fill="#c6c6c6"/>
<rect x="94.5" y="491.0" width="1.5" height="4.4" fill="#c6c6c6"/>
<rect x="98.5" y="491.0" width="5.0" height="4.4" fill="#c6c6c6"/>
<rect x="106.0" y="491.0" width="15.5" height="4.4" fill="#c6c6c6"/>
<rect x="125.5" y="491.0" width="44.5" height="4.4" fill="#c6c6c6"/>
<rect x="172.5" y="491.0" width="15.5" height="4.4" fill="#c6c6c6"/>
<rect x="192.0" y="491.0" width="9.5" height="4.4" fill="#c6c6c6"/>
<rect x="204.0" y="491.0" width="13.0" height="4.4" fill="#c6c6c6"/>
<rect x="22.5" y="491.0" width="3.5" height="4.4" fill="#0a0a0a"/>
<rect x="38.0" y="491.0" width="1.5" height="4.4" fill="#0a0a0a"/>
<rect x="42.0" y="491.0" width="2.0" height="4.4" fill="#0a0a0a"/>
<rect x="65.5" y="491.0" width="5.5" height="4.4" fill="#0a0a0a"/>
<rect x="73.2" y="491.0" width="1.8" height="4.4" fill="#0a0a0a"/>
<rect x="77.0" y="491.0" width="4.0" height="4.4" fill="#0a0a0a"/>
<rect x="94.5" y="491.0" width="1.5" height="4.4" fill="#0a0a0a"/>
<rect x="98.5" y="491.0" width="4.0" height="4.4" fill="#0a0a0a"/>
<rect x="106.0" y="491.0" width="2.0" height="4.4" fill="#0a0a0a"/>
<rect x="112.0" y="491.0" width="8.0" height="4.4" fill="#0a0a0a"/>
<rect x="125.5" y="491.0" width="2.3" height="4.4" fill="#0a0a0a"/>
<rect x="131.8" y="491.0" width="7.7" height="4.4" fill="#0a0a0a"/>
<rect x="141.2" y="491.0" width="1.8" height="4.4" fill="#0a0a0a"/>
<rect x="145.0" y="491.0" width="4.0" height="4.4" fill="#0a0a0a"/>
<rect x="184.0" y="491.0" width="2.5" height="4.4" fill="#0a0a0a"/>
<rect x="204.0" y="491.0" width="1.5" height="4.4" fill="#0a0a0a"/>
<rect x="20.5" y="496.4" width="7.5" height="4.4" fill="#c6c6c6"/>
<rect x="32.5" y="496.4" width="1.5" height="4.4" fill="#c6c6c6"/>
<rect x="36.5" y="496.4" width="3.0" height="4.4" fill="#c6c6c6"/>
<rect x="41.5" y="496.4" width="29.5" height="4.4" fill="#c6c6c6"/>
<rect x="73.2" y="496.4" width="1.8" height="4.4" fill="#c6c6c6"/>
<rect x="77.0" y="496.4" width="7.5" height="4.4" fill="#c6c6c6"/>
<rect x="94.5" y="496.4" width="1.5" height="4.4" fill="#c6c6c6"/>
<rect x="98.5" y="496.4" width="5.0" height="4.4" fill="#c6c6c6"/>
<rect x="106.0" y="496.4" width="15.5" height="4.4" fill="#c6c6c6"/>
<rect x="125.5" y="496.4" width="44.5" height="4.4" fill="#c6c6c6"/>
<rect x="172.5" y="496.4" width="15.5" height="4.4" fill="#c6c6c6"/>
<rect x="192.0" y="496.4" width="9.5" height="4.4" fill="#c6c6c6"/>
<rect x="204.0" y="496.4" width="13.0" height="4.4" fill="#c6c6c6"/>
<rect x="38.0" y="496.4" width="1.5" height="4.4" fill="#0a0a0a"/>
<rect x="44.0" y="496.4" width="2.0" height="4.4" fill="#0a0a0a"/>
<rect x="55.8" y="496.4" width="1.7" height="4.4" fill="#0a0a0a"/>
<rect x="59.5" y="496.4" width="1.7" height="4.4" fill="#0a0a0a"/>
<rect x="63.3" y="496.4" width="1.9" height="4.4" fill="#0a0a0a"/>
<rect x="73.2" y="496.4" width="1.8" height="4.4" fill="#0a0a0a"/>
<rect x="79.0" y="496.4" width="5.5" height="4.4" fill="#0a0a0a"/>
<rect x="94.5" y="496.4" width="1.5" height="4.4" fill="#0a0a0a"/>
<rect x="98.5" y="496.4" width="4.0" height="4.4" fill="#0a0a0a"/>
<rect x="108.5" y="496.4" width="7.3" height="4.4" fill="#0a0a0a"/>
<rect x="125.5" y="496.4" width="2.3" height="4.4" fill="#0a0a0a"/>
<rect x="129.5" y="496.4" width="10.0" height="4.4" fill="#0a0a0a"/>
<rect x="141.2" y="496.4" width="1.8" height="4.4" fill="#0a0a0a"/>
<rect x="207.2" y="496.4" width="2.0" height="4.4" fill="#0a0a0a"/>
<rect x="215.0" y="496.4" width="2.0" height="4.4" fill="#0a0a0a"/>
<rect x="20.5" y="501.8" width="7.5" height="4.4" fill="#c6c6c6"/>
<rect x="32.5" y="501.8" width="1.5" height="4.4" fill="#c6c6c6"/>
<rect x="36.5" y="501.8" width="3.0" height="4.4" fill="#c6c6c6"/>
<rect x="41.5" y="501.8" width="29.5" height="4.4" fill="#c6c6c6"/>
<rect x="73.2" y="501.8" width="1.8" height="4.4" fill="#c6c6c6"/>
<rect x="77.0" y="501.8" width="7.5" height="4.4" fill="#c6c6c6"/>
<rect x="94.5" y="501.8" width="1.5" height="4.4" fill="#c6c6c6"/>
<rect x="98.5" y="501.8" width="5.0" height="4.4" fill="#c6c6c6"/>
<rect x="106.0" y="501.8" width="15.5" height="4.4" fill="#c6c6c6"/>
<rect x="125.5" y="501.8" width="44.5" height="4.4" fill="#c6c6c6"/>
<rect x="172.5" y="501.8" width="15.5" height="4.4" fill="#c6c6c6"/>
<rect x="192.0" y="501.8" width="9.5" height="4.4" fill="#c6c6c6"/>
<rect x="204.0" y="501.8" width="13.0" height="4.4" fill="#c6c6c6"/>
<rect x="125.5" y="501.8" width="2.3" height="4.4" fill="#0a0a0a"/>
<rect x="133.2" y="501.8" width="1.8" height="4.4" fill="#0a0a0a"/>
<rect x="149.2" y="501.8" width="3.8" height="4.4" fill="#0a0a0a"/>
<rect x="155.0" y="501.8" width="2.0" height="4.4" fill="#0a0a0a"/>
<rect x="158.8" y="501.8" width="1.7" height="4.4" fill="#0a0a0a"/>
<rect x="197.8" y="501.8" width="1.7" height="4.4" fill="#0a0a0a"/>
<rect x="209.0" y="501.8" width="2.8" height="4.4" fill="#0a0a0a"/>
<rect x="20.5" y="507.2" width="7.5" height="4.4" fill="#c6c6c6"/>
<rect x="32.5" y="507.2" width="1.5" height="4.4" fill="#c6c6c6"/>
<rect x="36.5" y="507.2" width="3.0" height="4.4" fill="#c6c6c6"/>
<rect x="41.5" y="507.2" width="29.5" height="4.4" fill="#c6c6c6"/>
<rect x="73.2" y="507.2" width="1.8" height="4.4" fill="#c6c6c6"/>
<rect x="77.0" y="507.2" width="7.5" height="4.4" fill="#c6c6c6"/>
<rect x="94.5" y="507.2" width="1.5" height="4.4" fill="#c6c6c6"/>
<rect x="98.5" y="507.2" width="5.0" height="4.4" fill="#c6c6c6"/>
<rect x="106.0" y="507.2" width="15.5" height="4.4" fill="#c6c6c6"/>
<rect x="125.5" y="507.2" width="44.5" height="4.4" fill="#c6c6c6"/>
<rect x="172.5" y="507.2" width="15.5" height="4.4" fill="#c6c6c6"/>
<rect x="192.0" y="507.2" width="9.5" height="4.4" fill="#c6c6c6"/>
<rect x="204.0" y="507.2" width="13.0" height="4.4" fill="#c6c6c6"/>
<rect x="24.8" y="507.2" width="1.4" height="4.4" fill="#0a0a0a"/>
<rect x="38.0" y="507.2" width="1.5" height="4.4" fill="#0a0a0a"/>
<rect x="49.8" y="507.2" width="1.7" height="4.4" fill="#0a0a0a"/>
<rect x="57.5" y="507.2" width="1.7" height="4.4" fill="#0a0a0a"/>
<rect x="73.2" y="507.2" width="1.8" height="4.4" fill="#0a0a0a"/>
<rect x="112.0" y="507.2" width="2.0" height="4.4" fill="#0a0a0a"/>
<rect x="149.2" y="507.2" width="1.8" height="4.4" fill="#0a0a0a"/>
<rect x="153.0" y="507.2" width="-2.0" height="4.4" fill="#0a0a0a"/>
<rect x="153.0" y="507.2" width="1.8" height="4.4" fill="#0a0a0a"/>
<rect x="157.0" y="507.2" width="1.8" height="4.4" fill="#0a0a0a"/>
<rect x="172.5" y="507.2" width="2.0" height="4.4" fill="#0a0a0a"/>
<rect x="199.5" y="507.2" width="2.0" height="4.4" fill="#0a0a0a"/>
<rect x="205.2" y="507.2" width="2.3" height="4.4" fill="#0a0a0a"/>
<rect x="209.0" y="507.2" width="2.8" height="4.4" fill="#0a0a0a"/>
<rect x="20.5" y="512.6" width="7.5" height="4.4" fill="#c6c6c6"/>
<rect x="32.5" y="512.6" width="1.5" height="4.4" fill="#c6c6c6"/>
<rect x="36.5" y="512.6" width="3.0" height="4.4" fill="#c6c6c6"/>
<rect x="41.5" y="512.6" width="29.5" height="4.4" fill="#c6c6c6"/>
<rect x="73.2" y="512.6" width="1.8" height="4.4" fill="#c6c6c6"/>
<rect x="77.0" y="512.6" width="7.5" height="4.4" fill="#c6c6c6"/>
<rect x="94.5" y="512.6" width="1.5" height="4.4" fill="#c6c6c6"/>
<rect x="98.5" y="512.6" width="5.0" height="4.4" fill="#c6c6c6"/>
<rect x="106.0" y="512.6" width="15.5" height="4.4" fill="#c6c6c6"/>
<rect x="125.5" y="512.6" width="44.5" height="4.4" fill="#c6c6c6"/>
<rect x="172.5" y="512.6" width="15.5" height="4.4" fill="#c6c6c6"/>
<rect x="192.0" y="512.6" width="9.5" height="4.4" fill="#c6c6c6"/>
<rect x="204.0" y="512.6" width="13.0" height="4.4" fill="#c6c6c6"/>
<rect x="44.0" y="512.6" width="1.8" height="4.4" fill="#0a0a0a"/>
<rect x="59.5" y="512.6" width="1.7" height="4.4" fill="#0a0a0a"/>
<rect x="157.0" y="512.6" width="1.8" height="4.4" fill="#0a0a0a"/>
<rect x="174.5" y="512.6" width="3.7" height="4.4" fill="#0a0a0a"/>
<rect x="182.0" y="512.6" width="2.0" height="4.4" fill="#0a0a0a"/>
<rect x="195.8" y="512.6" width="2.0" height="4.4" fill="#0a0a0a"/>
<rect x="199.5" y="512.6" width="2.0" height="4.4" fill="#0a0a0a"/>
<rect x="20.5" y="518.0" width="7.5" height="4.4" fill="#c6c6c6"/>
<rect x="32.5" y="518.0" width="1.5" height="4.4" fill="#c6c6c6"/>
<rect x="36.5" y="518.0" width="3.0" height="4.4" fill="#c6c6c6"/>
<rect x="41.5" y="518.0" width="29.5" height="4.4" fill="#c6c6c6"/>
<rect x="73.2" y="518.0" width="1.8" height="4.4" fill="#c6c6c6"/>
<rect x="77.0" y="518.0" width="7.5" height="4.4" fill="#c6c6c6"/>
<rect x="94.5" y="518.0" width="1.5" height="4.4" fill="#c6c6c6"/>
<rect x="98.5" y="518.0" width="5.0" height="4.4" fill="#c6c6c6"/>
<rect x="106.0" y="518.0" width="15.5" height="4.4" fill="#c6c6c6"/>
<rect x="125.5" y="518.0" width="44.5" height="4.4" fill="#c6c6c6"/>
<rect x="172.5" y="518.0" width="15.5" height="4.4" fill="#c6c6c6"/>
<rect x="192.0" y="518.0" width="9.5" height="4.4" fill="#c6c6c6"/>
<rect x="204.0" y="518.0" width="13.0" height="4.4" fill="#c6c6c6"/>
<rect x="48.0" y="518.0" width="4.0" height="4.4" fill="#0a0a0a"/>
<rect x="54.0" y="518.0" width="1.8" height="4.4" fill="#0a0a0a"/>
<rect x="65.5" y="518.0" width="1.7" height="4.4" fill="#0a0a0a"/>
<rect x="73.2" y="518.0" width="1.8" height="4.4" fill="#0a0a0a"/>
<rect x="81.2" y="518.0" width="1.8" height="4.4" fill="#0a0a0a"/>
<rect x="106.0" y="518.0" width="2.2" height="4.4" fill="#0a0a0a"/>
<rect x="112.0" y="518.0" width="2.0" height="4.4" fill="#0a0a0a"/>
<rect x="139.2" y="518.0" width="3.8" height="4.4" fill="#0a0a0a"/>
<rect x="153.0" y="518.0" width="2.0" height="4.4" fill="#0a0a0a"/>
<rect x="153.0" y="518.0" width="1.8" height="4.4" fill="#0a0a0a"/>
<rect x="172.5" y="518.0" width="2.0" height="4.4" fill="#0a0a0a"/>
<rect x="180.0" y="518.0" width="2.0" height="4.4" fill="#0a0a0a"/>
<rect x="199.5" y="518.0" width="2.0" height="4.4" fill="#0a0a0a"/>
<rect x="205.2" y="518.0" width="2.3" height="4.4" fill="#0a0a0a"/>
<rect x="215.0" y="518.0" width="2.0" height="4.4" fill="#0a0a0a"/>
<rect x="20.5" y="523.5" width="7.5" height="4.4" fill="#c6c6c6"/>
<rect x="32.5" y="523.5" width="1.5" height="4.4" fill="#c6c6c6"/>
<rect x="36.5" y="523.5" width="3.0" height="4.4" fill="#c6c6c6"/>
<rect x="41.5" y="523.5" width="29.5" height="4.4" fill="#c6c6c6"/>
<rect x="73.2" y="523.5" width="1.8" height="4.4" fill="#c6c6c6"/>
<rect x="77.0" y="523.5" width="7.5" height="4.4" fill="#c6c6c6"/>
<rect x="94.5" y="523.5" width="1.5" height="4.4" fill="#c6c6c6"/>
<rect x="98.5" y="523.5" width="5.0" height="4.4" fill="#c6c6c6"/>
<rect x="106.0" y="523.5" width="15.5" height="4.4" fill="#c6c6c6"/>
<rect x="125.5" y="523.5" width="44.5" height="4.4" fill="#c6c6c6"/>
<rect x="172.5" y="523.5" width="15.5" height="4.4" fill="#c6c6c6"/>
<rect x="192.0" y="523.5" width="9.5" height="4.4" fill="#c6c6c6"/>
<rect x="204.0" y="523.5" width="13.0" height="4.4" fill="#c6c6c6"/>
<rect x="79.0" y="523.5" width="1.8" height="4.4" fill="#0a0a0a"/>
<rect x="98.5" y="523.5" width="2.0" height="4.4" fill="#0a0a0a"/>
<rect x="108.2" y="523.5" width="1.8" height="4.4" fill="#0a0a0a"/>
<rect x="114.0" y="523.5" width="1.8" height="4.4" fill="#0a0a0a"/>
<rect x="125.5" y="523.5" width="2.3" height="4.4" fill="#0a0a0a"/>
<rect x="135.2" y="523.5" width="2.0" height="4.4" fill="#0a0a0a"/>
<rect x="139.2" y="523.5" width="2.0" height="4.4" fill="#0a0a0a"/>
<rect x="218.6" y="260.6" width="16.2" height="4.6" fill="#f2a6dc"/>
<rect x="218.6" y="265.2" width="9.8" height="4.6" fill="#f2a6dc"/>
<text x="219.0" y="264.6" font-size="4.7" fill="#5a1466" stroke="#5a1466" stroke-width="0.10" textLength="15.5" lengthAdjust="spacingAndGlyphs" font-weight="bold">CA19-9</text>
<text x="219.0" y="269.2" font-size="4.7" fill="#5a1466" stroke="#5a1466" stroke-width="0.10" textLength="9.0" lengthAdjust="spacingAndGlyphs" font-weight="bold">CEA</text>
<text x="219.0" y="274.6" font-size="4.7" fill="#222" stroke="#222" stroke-width="0.10" textLength="21.9" lengthAdjust="spacingAndGlyphs">Gross type</text>
<text x="219.0" y="280.0" font-size="4.7" fill="#222" stroke="#222" stroke-width="0.10" textLength="23.6" lengthAdjust="spacingAndGlyphs">Differ grade</text>
<text x="219.0" y="285.0" font-size="4.7" fill="#222" stroke="#222" stroke-width="0.10" textLength="26.9" lengthAdjust="spacingAndGlyphs">Viral hepatitis</text>
<text x="219.0" y="290.0" font-size="4.7" fill="#222" stroke="#222" stroke-width="0.10" textLength="36.1" lengthAdjust="spacingAndGlyphs">Lymphatic invasion</text>
<text x="219.0" y="295.2" font-size="4.7" fill="#222" stroke="#222" stroke-width="0.10" textLength="36.1" lengthAdjust="spacingAndGlyphs">Perineura invasionl</text>
<text x="219.0" y="300.4" font-size="4.7" fill="#222" stroke="#222" stroke-width="0.10" textLength="35.9" lengthAdjust="spacingAndGlyphs">Pathologic N stage</text>
<text x="219.0" y="305.4" font-size="4.7" fill="#222" stroke="#222" stroke-width="0.10" textLength="26.3" lengthAdjust="spacingAndGlyphs">RNA clusters</text>
<text x="219.0" y="310.8" font-size="4.7" fill="#222" stroke="#222" stroke-width="0.10" textLength="31.3" lengthAdjust="spacingAndGlyphs">Protein clusters</text>
<rect x="217.8" y="311.3" width="127" height="62.4" fill="#b9d8a4"/>
<rect x="217.8" y="376.2" width="127" height="42.2" fill="#ff8080"/>
<rect x="217.8" y="420.7" width="127" height="60.1" fill="#9bb6e2"/>
<rect x="218.2" y="337.8" width="22.4" height="5.2" fill="#8ccfa8"/>
<text x="218.6" y="342.0" font-size="4.9" fill="#1c8f6e" stroke="#1c8f6e" stroke-width="0.11" textLength="21.6" lengthAdjust="spacingAndGlyphs">Stem-like</text>
<rect x="218.2" y="386.2" width="18" height="5" fill="#f9a0b0"/><rect x="218.2" y="392.6" width="33" height="5.2" fill="#f9a0b0"/>
<text x="218.6" y="390.4" font-size="4.9" fill="#d81e28" stroke="#d81e28" stroke-width="0.11" textLength="17.0" lengthAdjust="spacingAndGlyphs">Poorly</text>
<text x="218.6" y="396.9" font-size="4.9" fill="#d81e28" stroke="#d81e28" stroke-width="0.11" textLength="32.2" lengthAdjust="spacingAndGlyphs">immunogenic</text>
<rect x="218.2" y="448.3" width="25.6" height="5.4" fill="#6fbfa6"/>
<text x="218.6" y="452.7" font-size="4.9" fill="#14806a" stroke="#14806a" stroke-width="0.11" textLength="24.8" lengthAdjust="spacingAndGlyphs">Metabolism</text>
<text x="253.3" y="346.9" font-size="13.6" fill="#0d0d0d" stroke="#0d0d0d" stroke-width="0.30" textLength="55.9" lengthAdjust="spacingAndGlyphs" font-weight="bold">Stem-like</text>
<text x="266.9" y="392.0" font-size="13.6" fill="#0d0d0d" stroke="#0d0d0d" stroke-width="0.30" textLength="27.8" lengthAdjust="spacingAndGlyphs" font-weight="bold">Poor</text>
<text x="241.4" y="408.3" font-size="13.6" fill="#0d0d0d" stroke="#0d0d0d" stroke-width="0.30" textLength="80.8" lengthAdjust="spacingAndGlyphs" font-weight="bold">immunogenic</text>
<text x="248.5" y="454.5" font-size="13.6" fill="#1e3c78" stroke="#1e3c78" stroke-width="0.30" textLength="69.5" lengthAdjust="spacingAndGlyphs" font-weight="bold">Metabolism</text>
<rect x="218.4" y="491" width="10.2" height="4.6" fill="#f2a6dc"/><rect x="218.4" y="496.3" width="11.4" height="4.6" fill="#f2a6dc"/>
<rect x="218.4" y="501.4" width="10.6" height="4.4" fill="#7de07d"/><rect x="218.4" y="513" width="9" height="4.4" fill="#7de07d"/>
<text x="218.8" y="490.1" font-size="4.6" fill="#222" stroke="#222" stroke-width="0.10" textLength="19.5" lengthAdjust="spacingAndGlyphs">Hypermut.</text>
<text x="218.8" y="494.8" font-size="4.6" fill="#5a1466" stroke="#5a1466" stroke-width="0.10" textLength="9.6" lengthAdjust="spacingAndGlyphs" font-weight="bold">TP53</text>
<text x="218.8" y="500.2" font-size="4.6" fill="#5a1466" stroke="#5a1466" stroke-width="0.10" textLength="10.8" lengthAdjust="spacingAndGlyphs" font-weight="bold">KRAS</text>
<text x="218.8" y="505.1" font-size="4.6" fill="#0c5a18" stroke="#0c5a18" stroke-width="0.10" textLength="10.0" lengthAdjust="spacingAndGlyphs" font-weight="bold">BAP1</text>
<text x="218.8" y="510.5" font-size="4.6" fill="#222" stroke="#222" stroke-width="0.10" textLength="13.5" lengthAdjust="spacingAndGlyphs">PBRM1</text>
<text x="218.8" y="516.8" font-size="4.6" fill="#0c5a18" stroke="#0c5a18" stroke-width="0.10" textLength="8.4" lengthAdjust="spacingAndGlyphs" font-weight="bold">IDH1</text>
<text x="218.8" y="521.8" font-size="4.6" fill="#222" stroke="#222" stroke-width="0.10" textLength="15.5" lengthAdjust="spacingAndGlyphs">ARID1A</text>
<text x="218.8" y="527.2" font-size="4.6" fill="#222" stroke="#222" stroke-width="0.10" textLength="14.5" lengthAdjust="spacingAndGlyphs">SMAD4</text>
<text x="246.1" y="502.3" font-size="11.6" fill="#b5262a" textLength="154.0" lengthAdjust="spacingAndGlyphs">KRAS and TP53 mutations</text>
<text x="243.0" y="520.0" font-size="14" fill="#3b3b98" textLength="176.0" lengthAdjust="spacingAndGlyphs">IDH1 and BAP1 mutations</text>
<defs><linearGradient id="gE"><stop offset="0" stop-color="#10e010"/><stop offset="0.5" stop-color="#050505"/><stop offset="1" stop-color="#e81010"/></linearGradient><linearGradient id="gB"><stop offset="0" stop-color="#8cc8f4"/><stop offset="0.5" stop-color="#2a78d8"/><stop offset="1" stop-color="#08107a"/></linearGradient><linearGradient id="gY"><stop offset="0" stop-color="#fff24a"/><stop offset="0.5" stop-color="#ffb000"/><stop offset="1" stop-color="#e81414"/></linearGradient></defs>
<rect x="20.9" y="531.2" width="222" height="49.5" rx="2.6" fill="#fff" stroke="#9a9a9a" stroke-width="0.8"/>
<text x="28.7" y="537.2" font-size="4.8" fill="#111" stroke="#111" stroke-width="0.11" textLength="26.6" lengthAdjust="spacingAndGlyphs" font-weight="bold">Expression</text>
<rect x="24.9" y="539" width="33" height="4.5" fill="url(#gE)"/>
<text x="24.6" y="547.2" font-size="3.6" fill="#333" stroke="#333" stroke-width="0.08">-3</text>
<text x="40.4" y="547.2" font-size="3.6" fill="#333" stroke="#333" stroke-width="0.08">0</text>
<text x="56.0" y="547.2" font-size="3.6" fill="#333" stroke="#333" stroke-width="0.08">3</text>
<text x="72.5" y="537.2" font-size="4.8" fill="#111" stroke="#111" stroke-width="0.11" textLength="18.8" lengthAdjust="spacingAndGlyphs" font-weight="bold">CA 19-9</text>
<rect x="65" y="539" width="32.6" height="4.5" fill="url(#gB)"/>
<text x="62.6" y="547.2" font-size="3.6" fill="#333" stroke="#333" stroke-width="0.08">-0.05</text>
<text x="93.0" y="547.2" font-size="3.6" fill="#333" stroke="#333" stroke-width="0.08">4.25</text>
<text x="117.0" y="537.2" font-size="4.8" fill="#111" stroke="#111" stroke-width="0.11" textLength="10.0" lengthAdjust="spacingAndGlyphs" font-weight="bold">CEA</text>
<rect x="105.5" y="539" width="32.9" height="4.5" fill="url(#gY)"/>
<text x="103.4" y="547.2" font-size="3.6" fill="#333" stroke="#333" stroke-width="0.08">-0.1</text>
<text x="132.0" y="547.2" font-size="3.6" fill="#a33" stroke="#a33" stroke-width="0.08">2.75</text>
<text x="25.3" y="558.3" font-size="4.7" fill="#111" stroke="#111" stroke-width="0.10" textLength="23.1" lengthAdjust="spacingAndGlyphs" font-weight="bold">Gross type</text>
<rect x="26.7" y="560.8" width="3.3" height="3.3" fill="#e98b8b"/>
<text x="31.6" y="563.9" font-size="4.4" fill="#333" stroke="#333" stroke-width="0.10" textLength="24.2" lengthAdjust="spacingAndGlyphs">Mass forming</text>
<rect x="26.7" y="567.1" width="3.3" height="3.3" fill="#44a78e"/>
<text x="31.6" y="570.2" font-size="4.4" fill="#333" stroke="#333" stroke-width="0.10" textLength="62.8" lengthAdjust="spacingAndGlyphs">Mass forming+Intraductal papillary</text>
<rect x="26.7" y="573.1" width="3.3" height="3.3" fill="#5b8fd2"/>
<text x="31.6" y="576.2" font-size="4.4" fill="#333" stroke="#333" stroke-width="0.10" textLength="62.8" lengthAdjust="spacingAndGlyphs">Mass forming+Periductal infiltrative</text>
<text x="99.0" y="558.3" font-size="4.7" fill="#111" stroke="#111" stroke-width="0.10" textLength="41.5" lengthAdjust="spacingAndGlyphs" font-weight="bold">Differentiation grade</text>
<rect x="100.2" y="560.8" width="3.3" height="3.3" fill="#1010b0"/>
<text x="105.0" y="563.9" font-size="4.4" fill="#333" stroke="#333" stroke-width="0.10" textLength="7.6" lengthAdjust="spacingAndGlyphs">Well</text>
<rect x="100.2" y="567.1" width="3.3" height="3.3" fill="#2e8b57"/>
<text x="105.0" y="570.2" font-size="4.4" fill="#333" stroke="#333" stroke-width="0.10" textLength="16.8" lengthAdjust="spacingAndGlyphs">Moderate</text>
<rect x="100.2" y="573.1" width="3.3" height="3.3" fill="#c01030"/>
<text x="105.0" y="576.2" font-size="4.4" fill="#333" stroke="#333" stroke-width="0.10" textLength="8.4" lengthAdjust="spacingAndGlyphs">Poor</text>
<text x="147.0" y="544.1" font-size="4.7" fill="#111" stroke="#111" stroke-width="0.10" textLength="28.0" lengthAdjust="spacingAndGlyphs" font-weight="bold">Viral hepatitis</text>
<rect x="147.4" y="547.4" width="3.3" height="3.3" fill="#8e1b2b"/>
<text x="152.2" y="550.5" font-size="4.4" fill="#333" stroke="#333" stroke-width="0.10" textLength="13.8" lengthAdjust="spacingAndGlyphs">Positive</text>
<rect x="147.4" y="553.6" width="3.3" height="3.3" fill="#f6c9cd"/>
<text x="152.2" y="556.8" font-size="4.4" fill="#333" stroke="#333" stroke-width="0.10" textLength="15.2" lengthAdjust="spacingAndGlyphs">Negative</text>
<text x="179.5" y="544.1" font-size="4.7" fill="#111" stroke="#111" stroke-width="0.10" textLength="23.5" lengthAdjust="spacingAndGlyphs" font-weight="bold">Lymph_inv</text>
<rect x="179.9" y="547.4" width="3.3" height="3.3" fill="#7a8396"/>
<text x="185.0" y="550.5" font-size="4.4" fill="#333" stroke="#333" stroke-width="0.10" textLength="13.8" lengthAdjust="spacingAndGlyphs">Positive</text>
<rect x="179.9" y="553.6" width="3.3" height="3.3" fill="#d6dade"/>
<text x="185.0" y="556.8" font-size="4.4" fill="#333" stroke="#333" stroke-width="0.10" textLength="15.2" lengthAdjust="spacingAndGlyphs">Negative</text>
<text x="208.1" y="544.1" font-size="4.7" fill="#111" stroke="#111" stroke-width="0.10" textLength="30.0" lengthAdjust="spacingAndGlyphs" font-weight="bold">Perineural_inv</text>
<rect x="208.5" y="547.4" width="3.3" height="3.3" fill="#d4307e"/>
<text x="213.4" y="550.5" font-size="4.4" fill="#333" stroke="#333" stroke-width="0.10" textLength="13.8" lengthAdjust="spacingAndGlyphs">Positive</text>
<rect x="208.5" y="553.6" width="3.3" height="3.3" fill="#e8a0c6"/>
<text x="213.4" y="556.8" font-size="4.4" fill="#333" stroke="#333" stroke-width="0.10" textLength="15.2" lengthAdjust="spacingAndGlyphs">Negative</text>
<text x="147.0" y="564.0" font-size="4.7" fill="#111" stroke="#111" stroke-width="0.10" textLength="15.5" lengthAdjust="spacingAndGlyphs" font-weight="bold">N stage</text>
<rect x="147.4" y="567.1" width="3.3" height="3.3" fill="#eaa0a0"/>
<text x="152.2" y="570.2" font-size="4.4" fill="#333" stroke="#333" stroke-width="0.10" textLength="5.0" lengthAdjust="spacingAndGlyphs">N0</text>
<rect x="147.4" y="573.1" width="3.3" height="3.3" fill="#7c0c10"/>
<text x="152.2" y="576.2" font-size="4.4" fill="#333" stroke="#333" stroke-width="0.10" textLength="5.0" lengthAdjust="spacingAndGlyphs">N1</text>
<text x="179.5" y="564.0" font-size="4.7" fill="#111" stroke="#111" stroke-width="0.10" textLength="18.5" lengthAdjust="spacingAndGlyphs" font-weight="bold">Mutation</text>
<rect x="179.9" y="567.1" width="3.3" height="3.3" fill="#050505"/>
<text x="185.0" y="570.2" font-size="4.4" fill="#333" stroke="#333" stroke-width="0.10" textLength="6.6" lengthAdjust="spacingAndGlyphs">Yes</text>
<rect x="179.9" y="573.1" width="3.3" height="3.3" fill="#c6c6c6"/>
<text x="185.0" y="576.2" font-size="4.4" fill="#333" stroke="#333" stroke-width="0.10" textLength="4.8" lengthAdjust="spacingAndGlyphs">No</text>
<text x="208.1" y="564.0" font-size="4.7" fill="#111" stroke="#111" stroke-width="0.10" textLength="31.0" lengthAdjust="spacingAndGlyphs" font-weight="bold">Hypermutation</text>
<rect x="208.5" y="567.1" width="3.3" height="3.3" fill="#3b1788"/>
<text x="213.4" y="570.2" font-size="4.4" fill="#333" stroke="#333" stroke-width="0.10" textLength="6.6" lengthAdjust="spacingAndGlyphs">Yes</text>
<rect x="208.5" y="573.1" width="3.3" height="3.3" fill="#e4e1f6"/>
<text x="213.4" y="576.2" font-size="4.4" fill="#333" stroke="#333" stroke-width="0.10" textLength="4.8" lengthAdjust="spacingAndGlyphs">No</text>
<text x="435.3" y="295.3" font-size="15.8" fill="#000" stroke="#000" stroke-width="0.35" textLength="12.6" lengthAdjust="spacingAndGlyphs" font-weight="bold">B</text>
<text x="432.8" y="442.6" font-size="16.6" fill="#000" stroke="#000" stroke-width="0.37" textLength="12.4" lengthAdjust="spacingAndGlyphs" font-weight="bold">C</text>
<path d="M449.5,319 V404.8 H557.6" fill="none" stroke="#555" stroke-width="0.8"/>
<text x="434.0" y="324.1" font-size="6.3" fill="#222" stroke="#222" stroke-width="0.14" textLength="13.6" lengthAdjust="spacingAndGlyphs">1.00</text>
<path d="M448,321.9h1.5" stroke="#555" stroke-width="0.7"/>
<text x="434.0" y="343.8" font-size="6.3" fill="#222" stroke="#222" stroke-width="0.14" textLength="13.6" lengthAdjust="spacingAndGlyphs">0.75</text>
<path d="M448,341.6h1.5" stroke="#555" stroke-width="0.7"/>
<text x="434.0" y="363.5" font-size="6.3" fill="#222" stroke="#222" stroke-width="0.14" textLength="13.6" lengthAdjust="spacingAndGlyphs">0.50</text>
<path d="M448,361.3h1.5" stroke="#555" stroke-width="0.7"/>
<text x="434.0" y="383.2" font-size="6.3" fill="#222" stroke="#222" stroke-width="0.14" textLength="13.6" lengthAdjust="spacingAndGlyphs">0.25</text>
<path d="M448,381.0h1.5" stroke="#555" stroke-width="0.7"/>
<text x="434.0" y="402.8" font-size="6.3" fill="#222" stroke="#222" stroke-width="0.14" textLength="13.6" lengthAdjust="spacingAndGlyphs">0.00</text>
<path d="M448,400.6h1.5" stroke="#555" stroke-width="0.7"/>
<text x="450.3" y="412.4" font-size="6.3" fill="#222" stroke="#222" stroke-width="0.14">0</text>
<text x="532.6" y="412.4" font-size="6.3" fill="#222" stroke="#222" stroke-width="0.14">50</text>
<path d="M452,404.8v1.5M536.2,404.8v1.5" stroke="#555" stroke-width="0.7"/>
<text x="498.8" y="318.4" font-size="9.2" fill="#111" stroke="#111" stroke-width="0.20" textLength="14.4" lengthAdjust="spacingAndGlyphs" font-weight="bold">OS</text>
<path d="M451.9,321.9L457.1,323.8L457.1,332.1L460.7,332.1L460.7,335.7L464.3,335.7L464.3,338.8L466.7,338.8L466.7,345.2L472.6,345.2L472.6,347.6L476.2,347.6L476.2,350.0L481.0,350.0L481.0,352.4L484.5,352.4L484.5,354.8L490.5,354.8L490.5,357.9L514.3,357.9L514.3,360.7L520.2,360.7L520.2,363.1L525.0,363.1L525.0,365.5L529.8,365.5L529.8,367.1L557.6,367.1" fill="none" stroke="#2f9a3a" stroke-width="1.1" stroke-linejoin="round"/>
<path d="M451.9,321.9L457.1,323.8L457.1,332.1L461.9,332.1L461.9,339.3L464.3,339.3L464.3,346.4L466.0,346.4L466.0,357.1L469.0,357.1L469.0,360.7L476.2,360.7L476.2,364.3L478.6,364.3L478.6,367.9L482.1,367.9L482.1,371.4L496.4,371.4L496.4,376.2L503.6,376.2L503.6,381.4L557.6,381.4" fill="none" stroke="#e0454a" stroke-width="1.1" stroke-linejoin="round"/>
<path d="M451.9,321.9L458.3,321.9L458.3,323.8L460.7,323.8L460.7,326.2L464.3,326.2L464.3,329.3L467.9,329.3L467.9,333.3L472.6,333.3L472.6,335.7L476.2,335.7L476.2,338.1L479.8,338.1L479.8,341.2L496.4,341.2L496.4,344.0L504.8,344.0L504.8,345.7L511.9,345.7L511.9,348.8L515.5,348.8L515.5,351.2L527.4,351.2L527.4,353.6L532.1,353.6L532.1,356.0L554.8,356.0L554.8,358.8L557.6,358.8" fill="none" stroke="#2222c8" stroke-width="1.1" stroke-linejoin="round"/>
<path d="M459.2,326.2h3M460.7,324.7v3" stroke="#2222c8" stroke-width="0.9"/>
<path d="M466.4,332.1h3M467.9,330.6v3" stroke="#2222c8" stroke-width="0.9"/>
<path d="M480.6,341.2h3M482.1,339.7v3" stroke="#2222c8" stroke-width="0.9"/>
<path d="M484.2,341.2h3M485.7,339.7v3" stroke="#2222c8" stroke-width="0.9"/>
<path d="M531.8,356.0h3M533.3,354.5v3" stroke="#2222c8" stroke-width="0.9"/>
<path d="M546.1,356.0h3M547.6,354.5v3" stroke="#2222c8" stroke-width="0.9"/>
<path d="M549.7,356.0h3M551.2,354.5v3" stroke="#2222c8" stroke-width="0.9"/>
<path d="M461.6,337.4h3M463.1,335.9v3" stroke="#2f9a3a" stroke-width="0.9"/>
<path d="M467.5,345.7h3M469.0,344.2v3" stroke="#2f9a3a" stroke-width="0.9"/>
<path d="M483.0,353.6h3M484.5,352.1v3" stroke="#2f9a3a" stroke-width="0.9"/>
<path d="M516.4,360.7h3M517.9,359.2v3" stroke="#2f9a3a" stroke-width="0.9"/>
<path d="M524.0,365.0h3M525.5,363.5v3" stroke="#2f9a3a" stroke-width="0.9"/>
<path d="M533.5,367.1h3M535.0,365.6v3" stroke="#2f9a3a" stroke-width="0.9"/>
<path d="M484.9,372.6h3M486.4,371.1v3" stroke="#e0454a" stroke-width="0.9"/>
<path d="M530.2,381.4h3M531.7,379.9v3" stroke="#e0454a" stroke-width="0.9"/>
<path d="M545.4,381.4h3M546.9,379.9v3" stroke="#e0454a" stroke-width="0.9"/>
<text x="458.3" y="398.3" font-size="8.2" fill="#111" stroke="#111" stroke-width="0.18" textLength="76.7" lengthAdjust="spacingAndGlyphs" font-weight="bold" font-style="italic" style="white-space:pre">Adjusted P  = .004</text>
<path d="M561.4,319 V405.2 H675.7" fill="none" stroke="#555" stroke-width="0.8"/>
<path d="M560,322.6h1.4" stroke="#555" stroke-width="0.7"/>
<path d="M560,342.4h1.4" stroke="#555" stroke-width="0.7"/>
<path d="M560,361.9h1.4" stroke="#555" stroke-width="0.7"/>
<path d="M560,381.4h1.4" stroke="#555" stroke-width="0.7"/>
<path d="M560,401.2h1.4" stroke="#555" stroke-width="0.7"/>
<path d="M563.6,405.2v1.5M637.6,405.2v1.5" stroke="#555" stroke-width="0.7"/>
<text x="561.9" y="413.0" font-size="6.3" fill="#222" stroke="#222" stroke-width="0.14">0</text>
<text x="634.1" y="413.0" font-size="6.3" fill="#222" stroke="#222" stroke-width="0.14">40</text>
<text x="610.2" y="320.6" font-size="9.2" fill="#111" stroke="#111" stroke-width="0.20" textLength="20.0" lengthAdjust="spacingAndGlyphs" font-weight="bold">DFS</text>
<path d="M561.9,322.6L564.3,323.8L564.3,326.2L567.9,326.2L567.9,331.0L571.4,331.0L571.4,337.4L575.0,337.4L575.0,342.9L578.6,342.9L578.6,347.6L581.4,347.6L581.4,357.9L615.5,357.9L615.5,361.2L620.7,361.2L620.7,365.5L675.7,365.5" fill="none" stroke="#2f9a3a" stroke-width="1.1" stroke-linejoin="round"/>
<path d="M561.9,322.6L564.3,325.0L564.3,329.8L567.9,329.8L567.9,333.3L569.8,333.3L569.8,344.0L571.4,344.0L571.4,357.1L573.1,357.1L573.1,364.3L575.7,364.3L575.7,369.0L577.9,369.0L577.9,372.6L581.0,372.6L581.0,376.9L597.6,376.9L597.6,377.9L598.8,377.9L598.8,383.3L675.7,383.3" fill="none" stroke="#e0454a" stroke-width="1.1" stroke-linejoin="round"/>
<path d="M561.9,322.6L565.5,322.6L565.5,325.0L569.0,325.0L569.0,328.6L572.6,328.6L572.6,332.1L575.0,332.1L575.0,338.1L578.6,338.1L578.6,344.0L581.0,344.0L581.0,350.7L598.8,350.7L598.8,353.1L607.1,353.1L607.1,356.7L632.1,356.7L632.1,360.7L651.2,360.7L651.2,364.8L675.7,364.8" fill="none" stroke="#2222c8" stroke-width="1.1" stroke-linejoin="round"/>
<path d="M573.5,338.8h3M575.0,337.3v3" stroke="#2222c8" stroke-width="0.9"/>
<path d="M579.5,350.7h3M581.0,349.2v3" stroke="#2222c8" stroke-width="0.9"/>
<path d="M590.2,350.7h3M591.7,349.2v3" stroke="#2222c8" stroke-width="0.9"/>
<path d="M595.6,350.7h3M597.1,349.2v3" stroke="#2222c8" stroke-width="0.9"/>
<path d="M602.8,353.1h3M604.3,351.6v3" stroke="#2222c8" stroke-width="0.9"/>
<path d="M608.0,356.7h3M609.5,355.2v3" stroke="#2222c8" stroke-width="0.9"/>
<path d="M621.1,356.7h3M622.6,355.2v3" stroke="#2222c8" stroke-width="0.9"/>
<path d="M646.1,360.7h3M647.6,359.2v3" stroke="#2222c8" stroke-width="0.9"/>
<path d="M666.4,364.8h3M667.9,363.3v3" stroke="#2222c8" stroke-width="0.9"/>
<path d="M672.3,364.8h3M673.8,363.3v3" stroke="#2222c8" stroke-width="0.9"/>
<path d="M575.2,342.9h3M576.7,341.4v3" stroke="#2f9a3a" stroke-width="0.9"/>
<path d="M582.3,357.9h3M583.8,356.4v3" stroke="#2f9a3a" stroke-width="0.9"/>
<path d="M586.6,357.9h3M588.1,356.4v3" stroke="#2f9a3a" stroke-width="0.9"/>
<path d="M590.2,357.9h3M591.7,356.4v3" stroke="#2f9a3a" stroke-width="0.9"/>
<path d="M652.1,365.5h3M653.6,364.0v3" stroke="#2f9a3a" stroke-width="0.9"/>
<path d="M577.1,372.6h3M578.6,371.1v3" stroke="#e0454a" stroke-width="0.9"/>
<path d="M595.6,377.4h3M597.1,375.9v3" stroke="#e0454a" stroke-width="0.9"/>
<path d="M597.3,383.3h3M598.8,381.8v3" stroke="#e0454a" stroke-width="0.9"/>
<text x="570.2" y="398.3" font-size="8.2" fill="#111" stroke="#111" stroke-width="0.18" textLength="76.2" lengthAdjust="spacingAndGlyphs" font-weight="bold" font-style="italic" style="white-space:pre">Adjusted P  = .004</text>
<path d="M451.9,453.3 V543.8 H556" fill="none" stroke="#666" stroke-width="0.8"/>
<text x="444.8" y="460.6" font-size="7.4" fill="#222" stroke="#222" stroke-width="0.16">6</text>
<path d="M450.5,458.0h1.4" stroke="#666" stroke-width="0.7"/>
<text x="444.8" y="484.0" font-size="7.4" fill="#222" stroke="#222" stroke-width="0.16">4</text>
<path d="M450.5,481.4h1.4" stroke="#666" stroke-width="0.7"/>
<text x="444.8" y="507.2" font-size="7.4" fill="#222" stroke="#222" stroke-width="0.16">2</text>
<path d="M450.5,504.6h1.4" stroke="#666" stroke-width="0.7"/>
<text x="444.8" y="530.9" font-size="7.4" fill="#222" stroke="#222" stroke-width="0.16">0</text>
<path d="M450.5,528.3h1.4" stroke="#666" stroke-width="0.7"/>
<path d="M471.4,543.8v1.4" stroke="#666" stroke-width="0.7"/>
<path d="M504.3,543.8v1.4" stroke="#666" stroke-width="0.7"/>
<path d="M537.4,543.8v1.4" stroke="#666" stroke-width="0.7"/>
<text transform="translate(442.6,514.2) rotate(-90)" font-size="7.8" fill="#222" textLength="44.2" lengthAdjust="spacingAndGlyphs">log10(U/ml)</text>
<text x="491.2" y="450.0" font-size="9.2" fill="#111" stroke="#111" stroke-width="0.20" textLength="32.6" lengthAdjust="spacingAndGlyphs" font-weight="bold">CA19-9</text>
<path d="M471.4,487.9V528.3" stroke="#777" stroke-width="0.7"/><rect x="459.0" y="499.8" width="25.0" height="13.1" fill="#1f8a25" stroke="#14601a" stroke-width="0.5"/><path d="M459.0,505.7H484.0" stroke="#14601a" stroke-width="0.8"/><circle cx="471.4" cy="477.9" r="0.95" fill="#222"/>
<path d="M504.3,480.7V519.5" stroke="#777" stroke-width="0.7"/><rect x="492.1" y="491.4" width="24.6" height="18.6" fill="#e8262e" stroke="#9a1218" stroke-width="0.5"/><path d="M492.1,497.4H516.7" stroke="#9a1218" stroke-width="0.8"/>
<path d="M537.4,496.2V519.5" stroke="#777" stroke-width="0.7"/><rect x="525.0" y="505.7" width="24.5" height="9.1" fill="#1616e2" stroke="#1010a0" stroke-width="0.5"/><path d="M525.0,510.0H549.5" stroke="#1010a0" stroke-width="0.8"/><circle cx="536.6" cy="489.0" r="0.95" fill="#222"/><circle cx="538.3" cy="489.0" r="0.95" fill="#222"/><circle cx="536.6" cy="491.4" r="0.95" fill="#222"/><circle cx="538.3" cy="491.4" r="0.95" fill="#222"/>
<path d="M472.1,470.5H503.6" fill="none" stroke="#666" stroke-width="0.8"/>
<path d="M488.1,470.5V463.6H536.9V483.1" fill="none" stroke="#444" stroke-width="0.8"/>
<text x="513.7" y="463.6" font-size="9" fill="#111" stroke="#111" stroke-width="0.20" font-weight="bold">*</text>
<path d="M569.5,453.3 V543.8 H674.3" fill="none" stroke="#666" stroke-width="0.8"/>
<path d="M568.1,457.6h1.4" stroke="#666" stroke-width="0.7"/>
<path d="M568.1,481.4h1.4" stroke="#666" stroke-width="0.7"/>
<path d="M568.1,504.6h1.4" stroke="#666" stroke-width="0.7"/>
<path d="M568.1,528.3h1.4" stroke="#666" stroke-width="0.7"/>
<path d="M589.3,543.8v1.4" stroke="#666" stroke-width="0.7"/>
<path d="M622.1,543.8v1.4" stroke="#666" stroke-width="0.7"/>
<path d="M655.5,543.8v1.4" stroke="#666" stroke-width="0.7"/>
<text transform="translate(565.9,516.6) rotate(-90)" font-size="7.8" fill="#222" textLength="49" lengthAdjust="spacingAndGlyphs">log10(ng/ml)</text>
<text x="612.0" y="450.0" font-size="9.2" fill="#111" stroke="#111" stroke-width="0.20" textLength="19.0" lengthAdjust="spacingAndGlyphs" font-weight="bold">CEA</text>
<path d="M589.3,510.5V527.6" stroke="#777" stroke-width="0.7"/><rect x="576.9" y="518.1" width="25.0" height="5.9" fill="#1f8a25" stroke="#14601a" stroke-width="0.5"/><path d="M576.9,521.2H601.9" stroke="#14601a" stroke-width="0.8"/><circle cx="589.3" cy="496.2" r="0.95" fill="#222"/>
<path d="M622.1,495.0V526.0" stroke="#777" stroke-width="0.7"/><rect x="610.0" y="511.0" width="25.0" height="11.9" fill="#e8262e" stroke="#9a1218" stroke-width="0.5"/><path d="M610.0,517.6H635.0" stroke="#9a1218" stroke-width="0.8"/>
<path d="M655.5,516.4V524.8" stroke="#777" stroke-width="0.7"/><rect x="643.3" y="520.7" width="24.6" height="3.3" fill="#18189a" stroke="#10107a" stroke-width="0.5"/><circle cx="655.5" cy="529.5" r="0.95" fill="#222"/>
<path d="M590,484.3H621.4" fill="none" stroke="#666" stroke-width="0.8"/>
<path d="M606.4,484.3V473.6H655.2V499" fill="none" stroke="#444" stroke-width="0.8"/>
<text x="629.4" y="472.0" font-size="9" fill="#111" stroke="#111" stroke-width="0.20" font-weight="bold">**</text>
</svg>
</body></html>
